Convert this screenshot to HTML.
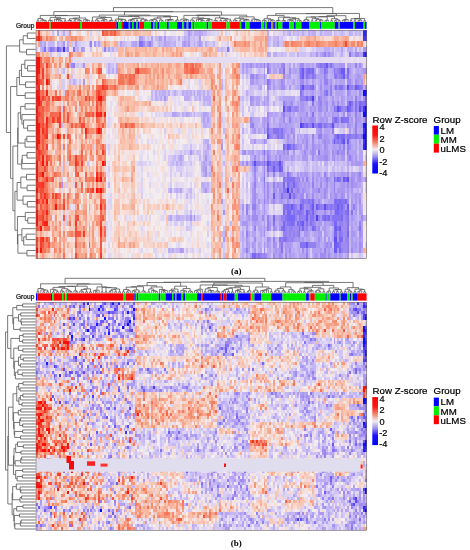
<!DOCTYPE html>
<html><head><meta charset="utf-8"><style>
html,body{margin:0;padding:0;background:#fff;}
svg{display:block;}
</style></head><body>
<svg width="470" height="550" viewBox="0 0 470 550">
<defs><linearGradient id="zbar" x1="0" y1="0" x2="0" y2="1">
<stop offset="0" stop-color="#ff0000"/><stop offset="0.2" stop-color="#fa1a14"/><stop offset="0.35" stop-color="#f4806a"/>
<stop offset="0.5" stop-color="#f2eef2"/><stop offset="0.65" stop-color="#9a90f0"/><stop offset="0.8" stop-color="#1a14fa"/><stop offset="1" stop-color="#0000ff"/>
</linearGradient>
<filter id="soft" x="-2%" y="-2%" width="104%" height="104%"><feGaussianBlur stdDeviation="0.45"/></filter></defs>
<rect width="470" height="550" fill="#fff"/>
<g filter="url(#soft)"><rect x="36.0" y="30.3" width="330.6" height="228.3" fill="#e0d8ee"/>
<g transform="translate(36.00,30.30) scale(1.9447,5.4357)" shape-rendering="crispEdges">
<path fill="#0f0ffa" d="M168 11h2v1h-2zM169 14h1v1h-1zM168 15h2v1h-2zM169 17h1v1h-1zM169 18h1v1h-1zM168 19h2v1h-2zM169 20h1v1h-1zM169 21h1v1h-1z"/>
<path fill="#1f1cf9" d="M169 4h1v1h-1zM168 17h1v1h-1z"/>
<path fill="#2f28f8" d="M168 0h2v1h-2zM168 21h1v1h-1z"/>
<path fill="#3f35f7" d="M168 1h2v1h-2zM14 3h1v1h-1zM168 4h1v1h-1zM168 14h1v1h-1zM168 18h1v1h-1zM168 20h1v1h-1zM129 29h1v1h-1z"/>
<path fill="#4f41f6" d="M142 12h1v1h-1zM136 17h1v1h-1zM144 34h1v1h-1z"/>
<path fill="#5f4ef5" d="M137 10h1v1h-1zM160 10h1v1h-1zM127 14h1v1h-1zM155 14h1v1h-1zM166 14h1v1h-1zM142 17h1v1h-1zM152 17h1v1h-1zM119 19h1v1h-1zM158 20h1v1h-1zM112 24h1v1h-1zM119 24h1v1h-1zM125 24h1v1h-1zM160 27h1v1h-1zM130 30h1v1h-1zM148 32h1v1h-1zM153 38h2v1h-2z"/>
<path fill="#6c5af4" d="M11 3h1v1h-1zM149 6h1v1h-1zM137 7h1v1h-1zM157 7h2v1h-2zM137 8h1v1h-1zM158 8h1v1h-1zM164 10h1v1h-1zM169 12h1v1h-1zM161 13h1v1h-1zM169 13h1v1h-1zM160 14h1v1h-1zM169 16h1v1h-1zM137 17h1v1h-1zM155 19h1v1h-1zM153 20h1v1h-1zM160 20h1v1h-1zM129 21h1v1h-1zM122 25h1v1h-1zM125 25h1v1h-1zM158 27h1v1h-1zM122 30h1v1h-1zM131 32h1v1h-1zM136 32h1v1h-1zM142 32h1v1h-1zM144 32h1v1h-1zM155 32h1v1h-1zM160 32h1v1h-1zM139 33h1v1h-1zM139 34h1v1h-1zM137 35h1v1h-1zM154 36h1v1h-1zM156 36h1v1h-1zM139 39h1v1h-1zM153 39h2v1h-2zM153 40h2v1h-2z"/>
<path fill="#7967f3" d="M140 7h1v1h-1zM142 7h1v1h-1zM160 7h1v1h-1zM142 10h1v1h-1zM165 10h1v1h-1zM139 12h1v1h-1zM166 13h1v1h-1zM130 14h1v1h-1zM156 14h1v1h-1zM161 14h1v1h-1zM154 16h1v1h-1zM157 16h1v1h-1zM139 17h1v1h-1zM145 17h2v1h-2zM119 18h1v1h-1zM157 19h2v1h-2zM157 20h1v1h-1zM127 21h1v1h-1zM130 21h1v1h-1zM120 24h1v1h-1zM119 25h1v1h-1zM126 25h1v1h-1zM153 27h1v1h-1zM155 27h1v1h-1zM159 27h1v1h-1zM127 28h1v1h-1zM129 28h1v1h-1zM132 28h1v1h-1zM131 29h1v1h-1zM142 31h1v1h-1zM154 31h1v1h-1zM156 31h1v1h-1zM159 31h1v1h-1zM129 32h1v1h-1zM157 32h1v1h-1zM127 33h1v1h-1zM129 33h2v1h-2zM142 33h1v1h-1zM154 33h2v1h-2zM160 33h1v1h-1zM122 34h1v1h-1zM129 34h4v1h-4zM148 34h1v1h-1zM150 34h1v1h-1zM157 34h1v1h-1zM127 35h1v1h-1zM131 35h1v1h-1zM134 35h1v1h-1zM136 35h1v1h-1zM153 35h2v1h-2zM127 36h1v1h-1zM135 36h1v1h-1zM137 36h1v1h-1zM142 36h1v1h-1zM153 36h1v1h-1zM153 37h2v1h-2zM160 37h1v1h-1zM156 38h2v1h-2zM155 39h1v1h-1zM156 40h1v1h-1zM111 41h2v1h-2z"/>
<path fill="#8673f2" d="M53 2h2v1h-2zM4 3h1v1h-1zM7 3h1v1h-1zM12 3h1v1h-1zM19 3h1v1h-1zM98 3h1v1h-1zM161 4h1v1h-1zM146 6h1v1h-1zM148 6h1v1h-1zM151 6h1v1h-1zM119 7h1v1h-1zM127 7h1v1h-1zM136 7h1v1h-1zM139 7h1v1h-1zM141 7h1v1h-1zM148 7h1v1h-1zM153 7h1v1h-1zM156 7h1v1h-1zM136 8h1v1h-1zM139 8h1v1h-1zM142 8h1v1h-1zM154 8h1v1h-1zM157 8h1v1h-1zM160 8h1v1h-1zM119 9h1v1h-1zM136 10h1v1h-1zM141 10h1v1h-1zM154 10h1v1h-1zM156 10h2v1h-2zM166 10h1v1h-1zM136 11h1v1h-1zM149 11h1v1h-1zM141 12h1v1h-1zM142 13h1v1h-1zM162 13h1v1h-1zM164 13h1v1h-1zM167 13h2v1h-2zM129 14h1v1h-1zM153 14h1v1h-1zM164 14h1v1h-1zM167 14h1v1h-1zM142 15h1v1h-1zM153 16h1v1h-1zM158 16h3v1h-3zM119 17h1v1h-1zM138 17h1v1h-1zM148 17h1v1h-1zM122 18h3v1h-3zM126 18h1v1h-1zM124 19h1v1h-1zM126 19h1v1h-1zM154 19h1v1h-1zM156 19h1v1h-1zM160 19h2v1h-2zM164 19h1v1h-1zM167 19h1v1h-1zM155 20h1v1h-1zM132 21h1v1h-1zM117 22h1v1h-1zM145 22h1v1h-1zM117 24h1v1h-1zM122 24h1v1h-1zM124 24h1v1h-1zM129 26h1v1h-1zM117 27h1v1h-1zM127 27h1v1h-1zM129 27h4v1h-4zM156 27h1v1h-1zM127 29h2v1h-2zM126 30h1v1h-1zM132 30h1v1h-1zM137 31h1v1h-1zM140 31h1v1h-1zM153 31h1v1h-1zM155 31h1v1h-1zM157 31h2v1h-2zM127 32h2v1h-2zM130 32h1v1h-1zM132 32h1v1h-1zM137 32h1v1h-1zM141 32h1v1h-1zM145 32h1v1h-1zM149 32h1v1h-1zM151 32h1v1h-1zM153 32h2v1h-2zM156 32h1v1h-1zM132 33h1v1h-1zM134 33h3v1h-3zM140 33h1v1h-1zM156 33h2v1h-2zM159 33h1v1h-1zM162 33h1v1h-1zM128 34h1v1h-1zM135 34h1v1h-1zM141 34h2v1h-2zM147 34h1v1h-1zM149 34h1v1h-1zM152 34h5v1h-5zM160 34h1v1h-1zM122 35h1v1h-1zM129 35h2v1h-2zM132 35h1v1h-1zM139 35h1v1h-1zM141 35h1v1h-1zM160 35h1v1h-1zM126 36h1v1h-1zM143 36h1v1h-1zM155 36h1v1h-1zM160 36h1v1h-1zM166 36h1v1h-1zM135 37h1v1h-1zM156 37h1v1h-1zM125 38h1v1h-1zM127 38h2v1h-2zM126 39h1v1h-1zM136 39h3v1h-3zM156 39h1v1h-1zM126 40h1v1h-1zM114 41h1v1h-1z"/>
<path fill="#9380f1" d="M28 2h1v1h-1zM58 2h1v1h-1zM8 3h1v1h-1zM35 3h1v1h-1zM148 4h1v1h-1zM19 6h1v1h-1zM117 6h1v1h-1zM119 6h1v1h-1zM127 6h1v1h-1zM145 6h1v1h-1zM147 6h1v1h-1zM164 6h1v1h-1zM149 7h1v1h-1zM155 7h1v1h-1zM111 8h1v1h-1zM140 8h1v1h-1zM143 8h1v1h-1zM148 8h1v1h-1zM153 8h1v1h-1zM156 8h1v1h-1zM148 9h2v1h-2zM119 10h1v1h-1zM138 10h3v1h-3zM151 10h1v1h-1zM161 10h2v1h-2zM167 10h1v1h-1zM148 11h1v1h-1zM151 11h1v1h-1zM136 12h3v1h-3zM140 12h1v1h-1zM145 12h1v1h-1zM164 12h1v1h-1zM127 13h1v1h-1zM146 13h1v1h-1zM160 13h1v1h-1zM133 14h1v1h-1zM154 14h1v1h-1zM157 14h1v1h-1zM159 14h1v1h-1zM162 14h1v1h-1zM127 15h1v1h-1zM164 15h1v1h-1zM130 16h1v1h-1zM152 16h1v1h-1zM155 16h1v1h-1zM111 17h1v1h-1zM140 17h2v1h-2zM143 17h2v1h-2zM149 17h1v1h-1zM151 17h1v1h-1zM164 17h1v1h-1zM125 18h1v1h-1zM152 18h1v1h-1zM164 18h1v1h-1zM120 19h1v1h-1zM125 19h1v1h-1zM142 19h1v1h-1zM145 19h2v1h-2zM153 19h1v1h-1zM162 19h2v1h-2zM165 19h1v1h-1zM154 20h1v1h-1zM156 20h1v1h-1zM128 21h1v1h-1zM131 21h1v1h-1zM158 21h1v1h-1zM160 21h1v1h-1zM155 22h1v1h-1zM160 22h1v1h-1zM119 23h1v1h-1zM161 23h1v1h-1zM111 24h1v1h-1zM113 24h2v1h-2zM121 24h1v1h-1zM123 24h1v1h-1zM126 24h1v1h-1zM112 25h1v1h-1zM121 25h1v1h-1zM123 25h2v1h-2zM117 26h1v1h-1zM122 26h1v1h-1zM148 26h1v1h-1zM166 26h1v1h-1zM128 27h1v1h-1zM135 27h1v1h-1zM139 27h1v1h-1zM149 27h1v1h-1zM154 27h1v1h-1zM112 28h1v1h-1zM117 28h1v1h-1zM122 28h1v1h-1zM130 28h2v1h-2zM133 28h1v1h-1zM142 28h1v1h-1zM153 28h1v1h-1zM134 29h1v1h-1zM145 29h1v1h-1zM153 29h1v1h-1zM117 31h1v1h-1zM136 31h1v1h-1zM138 31h2v1h-2zM141 31h1v1h-1zM108 32h1v1h-1zM111 32h2v1h-2zM133 32h1v1h-1zM146 32h2v1h-2zM150 32h1v1h-1zM152 32h1v1h-1zM158 32h1v1h-1zM163 32h1v1h-1zM108 33h1v1h-1zM133 33h1v1h-1zM137 33h1v1h-1zM141 33h1v1h-1zM158 33h1v1h-1zM119 34h1v1h-1zM126 34h2v1h-2zM133 34h1v1h-1zM136 34h3v1h-3zM145 34h1v1h-1zM159 34h1v1h-1zM119 35h1v1h-1zM128 35h1v1h-1zM135 35h1v1h-1zM142 35h1v1h-1zM156 35h2v1h-2zM166 35h1v1h-1zM112 36h1v1h-1zM119 36h1v1h-1zM128 36h1v1h-1zM130 36h2v1h-2zM139 36h1v1h-1zM108 37h1v1h-1zM127 37h2v1h-2zM130 37h1v1h-1zM132 37h1v1h-1zM134 37h1v1h-1zM157 37h1v1h-1zM122 38h1v1h-1zM126 38h1v1h-1zM129 38h1v1h-1zM131 38h1v1h-1zM159 38h2v1h-2zM140 39h4v1h-4zM160 39h1v1h-1zM108 40h1v1h-1zM148 40h1v1h-1zM157 40h1v1h-1zM160 40h1v1h-1zM113 41h1v1h-1zM115 41h1v1h-1zM117 41h1v1h-1zM139 41h1v1h-1z"/>
<path fill="#a08cf0" d="M55 2h1v1h-1zM9 3h1v1h-1zM16 3h1v1h-1zM150 4h1v1h-1zM164 4h2v1h-2zM18 6h1v1h-1zM110 6h1v1h-1zM126 6h1v1h-1zM136 6h2v1h-2zM144 6h1v1h-1zM150 6h1v1h-1zM152 6h1v1h-1zM166 6h1v1h-1zM125 7h1v1h-1zM130 7h1v1h-1zM135 7h1v1h-1zM138 7h1v1h-1zM154 7h1v1h-1zM169 7h1v1h-1zM110 8h1v1h-1zM113 8h1v1h-1zM117 8h1v1h-1zM127 8h1v1h-1zM141 8h1v1h-1zM155 8h1v1h-1zM120 9h1v1h-1zM126 9h1v1h-1zM136 9h2v1h-2zM160 9h2v1h-2zM164 9h1v1h-1zM126 10h2v1h-2zM146 10h1v1h-1zM153 10h1v1h-1zM155 10h1v1h-1zM158 10h1v1h-1zM163 10h1v1h-1zM169 10h1v1h-1zM137 11h1v1h-1zM160 11h1v1h-1zM166 11h1v1h-1zM110 12h1v1h-1zM146 12h1v1h-1zM168 12h1v1h-1zM131 13h1v1h-1zM145 13h1v1h-1zM149 13h1v1h-1zM152 13h1v1h-1zM155 13h1v1h-1zM165 13h1v1h-1zM128 14h1v1h-1zM131 14h2v1h-2zM134 14h1v1h-1zM145 14h2v1h-2zM149 14h1v1h-1zM158 14h1v1h-1zM165 14h1v1h-1zM119 15h1v1h-1zM139 15h1v1h-1zM158 15h1v1h-1zM160 15h1v1h-1zM110 16h1v1h-1zM119 16h1v1h-1zM127 16h1v1h-1zM136 16h1v1h-1zM141 16h2v1h-2zM164 16h1v1h-1zM110 17h1v1h-1zM147 17h1v1h-1zM150 17h1v1h-1zM160 17h1v1h-1zM117 18h1v1h-1zM120 18h2v1h-2zM127 18h1v1h-1zM131 18h1v1h-1zM146 18h1v1h-1zM121 19h1v1h-1zM123 19h1v1h-1zM127 19h1v1h-1zM129 19h1v1h-1zM132 19h1v1h-1zM159 19h1v1h-1zM166 19h1v1h-1zM117 20h1v1h-1zM139 20h1v1h-1zM142 20h1v1h-1zM148 20h1v1h-1zM152 20h1v1h-1zM133 21h1v1h-1zM139 21h1v1h-1zM142 21h1v1h-1zM148 21h1v1h-1zM156 21h1v1h-1zM161 21h1v1h-1zM107 22h1v1h-1zM119 22h1v1h-1zM127 22h1v1h-1zM129 22h1v1h-1zM138 22h1v1h-1zM142 22h1v1h-1zM152 22h1v1h-1zM157 22h2v1h-2zM112 23h1v1h-1zM117 23h1v1h-1zM125 23h1v1h-1zM142 23h1v1h-1zM148 23h2v1h-2zM153 23h1v1h-1zM108 24h1v1h-1zM115 24h2v1h-2zM118 24h1v1h-1zM117 25h1v1h-1zM120 25h1v1h-1zM112 26h1v1h-1zM119 26h1v1h-1zM130 26h1v1h-1zM153 26h1v1h-1zM160 26h1v1h-1zM112 27h1v1h-1zM133 27h2v1h-2zM137 27h1v1h-1zM142 27h1v1h-1zM162 27h1v1h-1zM166 27h1v1h-1zM169 27h1v1h-1zM119 28h1v1h-1zM124 28h1v1h-1zM134 28h1v1h-1zM146 28h1v1h-1zM149 28h1v1h-1zM160 28h1v1h-1zM162 28h1v1h-1zM112 29h1v1h-1zM117 29h1v1h-1zM119 29h1v1h-1zM122 29h1v1h-1zM125 29h1v1h-1zM130 29h1v1h-1zM133 29h1v1h-1zM135 29h1v1h-1zM137 29h1v1h-1zM148 29h1v1h-1zM112 30h1v1h-1zM117 30h1v1h-1zM119 30h1v1h-1zM127 30h3v1h-3zM131 30h1v1h-1zM133 30h1v1h-1zM136 30h2v1h-2zM139 30h1v1h-1zM142 30h1v1h-1zM148 30h1v1h-1zM154 30h1v1h-1zM157 30h1v1h-1zM112 31h1v1h-1zM122 31h1v1h-1zM129 31h1v1h-1zM145 31h1v1h-1zM160 31h1v1h-1zM166 31h1v1h-1zM135 32h1v1h-1zM139 32h2v1h-2zM112 33h1v1h-1zM128 33h1v1h-1zM131 33h1v1h-1zM143 33h1v1h-1zM148 33h1v1h-1zM151 33h1v1h-1zM153 33h1v1h-1zM111 34h3v1h-3zM116 34h1v1h-1zM140 34h1v1h-1zM143 34h1v1h-1zM151 34h1v1h-1zM158 34h1v1h-1zM167 34h1v1h-1zM138 35h1v1h-1zM140 35h1v1h-1zM143 35h1v1h-1zM152 35h1v1h-1zM155 35h1v1h-1zM158 35h2v1h-2zM122 36h1v1h-1zM129 36h1v1h-1zM132 36h3v1h-3zM136 36h1v1h-1zM138 36h1v1h-1zM145 36h1v1h-1zM157 36h3v1h-3zM117 37h1v1h-1zM129 37h1v1h-1zM131 37h1v1h-1zM133 37h1v1h-1zM158 37h2v1h-2zM166 37h1v1h-1zM112 38h1v1h-1zM119 38h1v1h-1zM130 38h1v1h-1zM132 38h1v1h-1zM135 38h1v1h-1zM145 38h1v1h-1zM122 39h1v1h-1zM125 39h1v1h-1zM149 39h1v1h-1zM151 39h1v1h-1zM157 39h3v1h-3zM166 39h1v1h-1zM117 40h1v1h-1zM130 40h1v1h-1zM137 40h1v1h-1zM139 40h1v1h-1zM158 40h2v1h-2zM162 40h1v1h-1zM166 40h1v1h-1zM116 41h1v1h-1zM118 41h1v1h-1zM122 41h1v1h-1zM125 41h1v1h-1zM128 41h1v1h-1zM146 41h3v1h-3zM150 41h1v1h-1z"/>
<path fill="#a997f1" d="M78 0h1v1h-1zM53 1h1v1h-1zM63 1h1v1h-1zM66 1h1v1h-1zM84 1h1v1h-1zM14 2h1v1h-1zM30 2h1v1h-1zM57 2h1v1h-1zM76 2h1v1h-1zM78 2h1v1h-1zM84 2h1v1h-1zM6 3h1v1h-1zM13 3h1v1h-1zM23 3h1v1h-1zM168 3h2v1h-2zM144 4h1v1h-1zM147 4h1v1h-1zM24 6h1v1h-1zM106 6h1v1h-1zM108 6h1v1h-1zM113 6h1v1h-1zM115 6h1v1h-1zM156 6h3v1h-3zM120 7h1v1h-1zM126 7h1v1h-1zM143 7h1v1h-1zM146 7h2v1h-2zM161 7h1v1h-1zM168 7h1v1h-1zM130 8h1v1h-1zM135 8h1v1h-1zM138 8h1v1h-1zM149 8h1v1h-1zM159 8h1v1h-1zM165 8h2v1h-2zM24 9h1v1h-1zM110 9h2v1h-2zM127 9h1v1h-1zM139 9h1v1h-1zM142 9h1v1h-1zM146 9h1v1h-1zM151 9h1v1h-1zM165 9h1v1h-1zM167 9h1v1h-1zM120 10h1v1h-1zM122 10h1v1h-1zM130 10h1v1h-1zM143 10h1v1h-1zM148 10h2v1h-2zM142 11h1v1h-1zM146 11h1v1h-1zM161 11h1v1h-1zM66 12h1v1h-1zM111 12h1v1h-1zM119 12h1v1h-1zM143 12h1v1h-1zM148 12h1v1h-1zM152 12h1v1h-1zM157 12h1v1h-1zM160 12h1v1h-1zM162 12h1v1h-1zM166 12h1v1h-1zM110 13h1v1h-1zM117 13h1v1h-1zM128 13h1v1h-1zM130 13h1v1h-1zM136 13h2v1h-2zM148 13h1v1h-1zM153 13h1v1h-1zM157 13h1v1h-1zM163 13h1v1h-1zM136 14h2v1h-2zM141 14h1v1h-1zM143 14h1v1h-1zM163 14h1v1h-1zM126 15h1v1h-1zM130 15h1v1h-1zM148 15h1v1h-1zM152 15h1v1h-1zM155 15h1v1h-1zM161 15h1v1h-1zM166 15h1v1h-1zM117 16h1v1h-1zM138 16h1v1h-1zM140 16h1v1h-1zM143 16h1v1h-1zM146 16h2v1h-2zM149 16h1v1h-1zM156 16h1v1h-1zM162 16h1v1h-1zM165 16h2v1h-2zM168 16h1v1h-1zM117 17h1v1h-1zM125 17h1v1h-1zM128 17h1v1h-1zM153 17h1v1h-1zM155 17h1v1h-1zM161 17h1v1h-1zM167 17h1v1h-1zM112 18h1v1h-1zM128 18h1v1h-1zM132 18h1v1h-1zM145 18h1v1h-1zM161 18h1v1h-1zM122 19h1v1h-1zM138 19h2v1h-2zM148 19h2v1h-2zM112 20h1v1h-1zM129 20h1v1h-1zM132 20h1v1h-1zM137 20h1v1h-1zM147 20h1v1h-1zM149 20h2v1h-2zM161 20h1v1h-1zM166 20h1v1h-1zM95 21h1v1h-1zM134 21h1v1h-1zM136 21h1v1h-1zM143 21h1v1h-1zM145 21h1v1h-1zM149 21h1v1h-1zM153 21h1v1h-1zM79 22h1v1h-1zM106 22h1v1h-1zM111 22h1v1h-1zM116 22h1v1h-1zM124 22h1v1h-1zM132 22h1v1h-1zM141 22h1v1h-1zM143 22h1v1h-1zM148 22h2v1h-2zM154 22h1v1h-1zM156 22h1v1h-1zM87 23h1v1h-1zM120 23h1v1h-1zM123 23h1v1h-1zM131 23h1v1h-1zM137 23h3v1h-3zM145 23h3v1h-3zM152 23h1v1h-1zM157 23h2v1h-2zM160 23h1v1h-1zM162 23h1v1h-1zM164 23h1v1h-1zM106 24h1v1h-1zM162 24h1v1h-1zM164 24h3v1h-3zM87 25h1v1h-1zM87 26h1v1h-1zM125 26h3v1h-3zM134 26h1v1h-1zM136 26h1v1h-1zM138 26h2v1h-2zM142 26h1v1h-1zM145 26h1v1h-1zM157 26h2v1h-2zM162 26h2v1h-2zM165 26h1v1h-1zM144 27h1v1h-1zM146 27h1v1h-1zM148 27h1v1h-1zM150 27h1v1h-1zM157 27h1v1h-1zM163 27h1v1h-1zM165 27h1v1h-1zM13 28h1v1h-1zM125 28h2v1h-2zM135 28h2v1h-2zM138 28h1v1h-1zM140 28h1v1h-1zM157 28h2v1h-2zM163 28h2v1h-2zM87 29h1v1h-1zM111 29h1v1h-1zM123 29h1v1h-1zM126 29h1v1h-1zM132 29h1v1h-1zM138 29h1v1h-1zM142 29h3v1h-3zM149 29h1v1h-1zM155 29h4v1h-4zM160 29h1v1h-1zM162 29h1v1h-1zM111 30h1v1h-1zM125 30h1v1h-1zM134 30h2v1h-2zM151 30h1v1h-1zM153 30h1v1h-1zM158 30h1v1h-1zM160 30h1v1h-1zM164 30h1v1h-1zM166 30h1v1h-1zM95 31h1v1h-1zM111 31h1v1h-1zM114 31h1v1h-1zM119 31h1v1h-1zM121 31h1v1h-1zM125 31h2v1h-2zM132 31h1v1h-1zM143 31h1v1h-1zM162 31h1v1h-1zM164 31h1v1h-1zM106 32h1v1h-1zM117 32h1v1h-1zM134 32h1v1h-1zM138 32h1v1h-1zM143 32h1v1h-1zM159 32h1v1h-1zM162 32h1v1h-1zM164 32h1v1h-1zM166 32h1v1h-1zM96 33h1v1h-1zM111 33h1v1h-1zM117 33h1v1h-1zM138 33h1v1h-1zM144 33h1v1h-1zM164 33h1v1h-1zM166 33h1v1h-1zM79 34h1v1h-1zM81 34h1v1h-1zM109 34h1v1h-1zM125 34h1v1h-1zM134 34h1v1h-1zM146 34h1v1h-1zM162 34h1v1h-1zM106 35h3v1h-3zM112 35h1v1h-1zM117 35h1v1h-1zM120 35h1v1h-1zM125 35h2v1h-2zM133 35h1v1h-1zM145 35h2v1h-2zM148 35h1v1h-1zM151 35h1v1h-1zM108 36h1v1h-1zM117 36h1v1h-1zM120 36h1v1h-1zM123 36h1v1h-1zM125 36h1v1h-1zM141 36h1v1h-1zM144 36h1v1h-1zM148 36h1v1h-1zM162 36h1v1h-1zM138 37h2v1h-2zM145 37h2v1h-2zM148 37h1v1h-1zM155 37h1v1h-1zM162 37h2v1h-2zM167 37h1v1h-1zM96 38h1v1h-1zM108 38h1v1h-1zM120 38h1v1h-1zM133 38h2v1h-2zM137 38h1v1h-1zM148 38h1v1h-1zM150 38h1v1h-1zM155 38h1v1h-1zM158 38h1v1h-1zM162 38h1v1h-1zM166 38h1v1h-1zM108 39h1v1h-1zM111 39h1v1h-1zM117 39h1v1h-1zM119 39h1v1h-1zM123 39h1v1h-1zM128 39h3v1h-3zM144 39h2v1h-2zM148 39h1v1h-1zM150 39h1v1h-1zM162 39h1v1h-1zM164 39h1v1h-1zM167 39h1v1h-1zM74 40h1v1h-1zM112 40h1v1h-1zM123 40h1v1h-1zM125 40h1v1h-1zM128 40h1v1h-1zM146 40h1v1h-1zM150 40h1v1h-1zM155 40h1v1h-1zM110 41h1v1h-1zM126 41h1v1h-1zM130 41h1v1h-1zM143 41h2v1h-2zM153 41h2v1h-2zM156 41h1v1h-1zM160 41h1v1h-1z"/>
<path fill="#b2a2f2" d="M11 0h1v1h-1zM84 0h1v1h-1zM54 1h1v1h-1zM59 1h1v1h-1zM64 1h1v1h-1zM78 1h1v1h-1zM2 2h1v1h-1zM4 2h1v1h-1zM20 2h1v1h-1zM32 2h1v1h-1zM43 2h1v1h-1zM50 2h2v1h-2zM59 2h1v1h-1zM66 2h1v1h-1zM75 2h1v1h-1zM124 2h1v1h-1zM3 3h1v1h-1zM10 3h1v1h-1zM24 3h1v1h-1zM37 3h1v1h-1zM157 3h1v1h-1zM164 3h1v1h-1zM119 4h1v1h-1zM146 4h1v1h-1zM149 4h1v1h-1zM151 4h2v1h-2zM162 4h1v1h-1zM166 4h2v1h-2zM109 6h1v1h-1zM111 6h1v1h-1zM114 6h1v1h-1zM116 6h1v1h-1zM120 6h1v1h-1zM122 6h1v1h-1zM124 6h1v1h-1zM130 6h1v1h-1zM132 6h1v1h-1zM135 6h1v1h-1zM139 6h2v1h-2zM142 6h1v1h-1zM153 6h3v1h-3zM160 6h2v1h-2zM41 7h1v1h-1zM106 7h1v1h-1zM108 7h1v1h-1zM117 7h1v1h-1zM122 7h2v1h-2zM132 7h2v1h-2zM152 7h1v1h-1zM165 7h1v1h-1zM167 7h1v1h-1zM112 8h1v1h-1zM114 8h1v1h-1zM129 8h1v1h-1zM144 8h4v1h-4zM161 8h1v1h-1zM164 8h1v1h-1zM113 9h1v1h-1zM117 9h1v1h-1zM122 9h1v1h-1zM125 9h1v1h-1zM132 9h1v1h-1zM150 9h1v1h-1zM154 9h1v1h-1zM156 9h3v1h-3zM162 9h1v1h-1zM166 9h1v1h-1zM115 10h1v1h-1zM125 10h1v1h-1zM134 10h1v1h-1zM150 10h1v1h-1zM159 10h1v1h-1zM81 11h1v1h-1zM119 11h1v1h-1zM139 11h1v1h-1zM141 11h1v1h-1zM147 11h1v1h-1zM150 11h1v1h-1zM154 11h4v1h-4zM164 11h1v1h-1zM167 11h1v1h-1zM113 12h2v1h-2zM117 12h1v1h-1zM127 12h6v1h-6zM147 12h1v1h-1zM149 12h1v1h-1zM155 12h1v1h-1zM158 12h1v1h-1zM161 12h1v1h-1zM165 12h1v1h-1zM111 13h1v1h-1zM113 13h2v1h-2zM119 13h1v1h-1zM129 13h1v1h-1zM134 13h1v1h-1zM138 13h2v1h-2zM144 13h1v1h-1zM147 13h1v1h-1zM158 13h1v1h-1zM138 14h1v1h-1zM142 14h1v1h-1zM147 14h2v1h-2zM151 14h2v1h-2zM70 15h2v1h-2zM77 15h1v1h-1zM86 15h2v1h-2zM120 15h2v1h-2zM123 15h1v1h-1zM128 15h2v1h-2zM132 15h1v1h-1zM135 15h4v1h-4zM141 15h1v1h-1zM145 15h2v1h-2zM150 15h1v1h-1zM153 15h2v1h-2zM165 15h1v1h-1zM86 16h1v1h-1zM88 16h1v1h-1zM111 16h1v1h-1zM116 16h1v1h-1zM118 16h1v1h-1zM122 16h1v1h-1zM125 16h2v1h-2zM131 16h1v1h-1zM133 16h1v1h-1zM137 16h1v1h-1zM139 16h1v1h-1zM145 16h1v1h-1zM148 16h1v1h-1zM161 16h1v1h-1zM116 17h1v1h-1zM126 17h2v1h-2zM129 17h3v1h-3zM154 17h1v1h-1zM157 17h2v1h-2zM162 17h1v1h-1zM165 17h2v1h-2zM111 18h1v1h-1zM114 18h1v1h-1zM118 18h1v1h-1zM129 18h2v1h-2zM144 18h1v1h-1zM148 18h3v1h-3zM163 18h1v1h-1zM166 18h1v1h-1zM130 19h1v1h-1zM134 19h1v1h-1zM136 19h1v1h-1zM147 19h1v1h-1zM150 19h1v1h-1zM152 19h1v1h-1zM118 20h1v1h-1zM130 20h2v1h-2zM134 20h1v1h-1zM138 20h1v1h-1zM145 20h1v1h-1zM159 20h1v1h-1zM164 20h1v1h-1zM88 21h1v1h-1zM135 21h1v1h-1zM138 21h1v1h-1zM144 21h1v1h-1zM146 21h1v1h-1zM152 21h1v1h-1zM154 21h2v1h-2zM157 21h1v1h-1zM162 21h1v1h-1zM164 21h1v1h-1zM166 21h1v1h-1zM109 22h2v1h-2zM114 22h1v1h-1zM118 22h1v1h-1zM120 22h1v1h-1zM125 22h2v1h-2zM128 22h1v1h-1zM137 22h1v1h-1zM139 22h1v1h-1zM146 22h2v1h-2zM150 22h1v1h-1zM153 22h1v1h-1zM161 22h4v1h-4zM166 22h2v1h-2zM74 23h1v1h-1zM114 23h1v1h-1zM126 23h4v1h-4zM132 23h1v1h-1zM135 23h1v1h-1zM144 23h1v1h-1zM150 23h1v1h-1zM155 23h1v1h-1zM166 23h2v1h-2zM86 24h1v1h-1zM89 24h1v1h-1zM110 24h1v1h-1zM160 24h1v1h-1zM163 24h1v1h-1zM167 24h1v1h-1zM86 25h1v1h-1zM111 25h1v1h-1zM113 25h1v1h-1zM131 26h1v1h-1zM137 26h1v1h-1zM144 26h1v1h-1zM149 26h1v1h-1zM151 26h2v1h-2zM155 26h2v1h-2zM159 26h1v1h-1zM164 26h1v1h-1zM116 27h1v1h-1zM140 27h1v1h-1zM147 27h1v1h-1zM151 27h1v1h-1zM161 27h1v1h-1zM167 27h1v1h-1zM111 28h1v1h-1zM123 28h1v1h-1zM128 28h1v1h-1zM137 28h1v1h-1zM139 28h1v1h-1zM144 28h1v1h-1zM148 28h1v1h-1zM151 28h2v1h-2zM156 28h1v1h-1zM159 28h1v1h-1zM161 28h1v1h-1zM165 28h2v1h-2zM69 29h1v1h-1zM74 29h1v1h-1zM136 29h1v1h-1zM139 29h2v1h-2zM146 29h2v1h-2zM151 29h2v1h-2zM113 30h1v1h-1zM123 30h2v1h-2zM140 30h1v1h-1zM144 30h1v1h-1zM146 30h2v1h-2zM149 30h1v1h-1zM152 30h1v1h-1zM155 30h2v1h-2zM162 30h2v1h-2zM165 30h1v1h-1zM118 31h1v1h-1zM123 31h1v1h-1zM127 31h1v1h-1zM130 31h1v1h-1zM134 31h2v1h-2zM144 31h1v1h-1zM146 31h1v1h-1zM150 31h3v1h-3zM109 32h1v1h-1zM113 32h1v1h-1zM106 33h1v1h-1zM114 33h1v1h-1zM145 33h3v1h-3zM149 33h1v1h-1zM152 33h1v1h-1zM167 33h1v1h-1zM69 34h1v1h-1zM108 34h1v1h-1zM117 34h1v1h-1zM120 34h1v1h-1zM123 34h2v1h-2zM163 34h1v1h-1zM111 35h1v1h-1zM113 35h2v1h-2zM144 35h1v1h-1zM149 35h2v1h-2zM162 35h1v1h-1zM164 35h1v1h-1zM167 35h1v1h-1zM114 36h2v1h-2zM140 36h1v1h-1zM147 36h1v1h-1zM165 36h1v1h-1zM167 36h1v1h-1zM106 37h1v1h-1zM109 37h1v1h-1zM111 37h2v1h-2zM115 37h1v1h-1zM140 37h1v1h-1zM143 37h2v1h-2zM149 37h1v1h-1zM152 37h1v1h-1zM164 37h1v1h-1zM136 38h1v1h-1zM139 38h2v1h-2zM144 38h1v1h-1zM146 38h1v1h-1zM152 38h1v1h-1zM164 38h1v1h-1zM167 38h1v1h-1zM109 39h1v1h-1zM112 39h1v1h-1zM114 39h1v1h-1zM120 39h1v1h-1zM131 39h1v1h-1zM163 39h1v1h-1zM75 40h1v1h-1zM107 40h1v1h-1zM109 40h1v1h-1zM115 40h1v1h-1zM120 40h1v1h-1zM122 40h1v1h-1zM124 40h1v1h-1zM129 40h1v1h-1zM135 40h1v1h-1zM142 40h4v1h-4zM149 40h1v1h-1zM163 40h2v1h-2zM108 41h1v1h-1zM119 41h1v1h-1zM123 41h2v1h-2zM131 41h2v1h-2zM135 41h4v1h-4zM149 41h1v1h-1zM151 41h1v1h-1zM157 41h1v1h-1z"/>
<path fill="#bcacf3" d="M14 0h1v1h-1zM79 0h1v1h-1zM81 0h3v1h-3zM85 0h1v1h-1zM119 0h1v1h-1zM130 0h1v1h-1zM137 0h1v1h-1zM140 0h1v1h-1zM142 0h2v1h-2zM146 0h1v1h-1zM161 0h1v1h-1zM73 1h1v1h-1zM76 1h1v1h-1zM119 1h1v1h-1zM124 1h1v1h-1zM11 2h1v1h-1zM16 2h1v1h-1zM49 2h1v1h-1zM56 2h1v1h-1zM63 2h1v1h-1zM67 2h2v1h-2zM71 2h1v1h-1zM77 2h1v1h-1zM81 2h1v1h-1zM83 2h1v1h-1zM85 2h1v1h-1zM87 2h1v1h-1zM119 2h1v1h-1zM122 2h1v1h-1zM15 3h1v1h-1zM21 3h1v1h-1zM39 3h1v1h-1zM148 3h3v1h-3zM152 3h1v1h-1zM160 3h3v1h-3zM120 4h1v1h-1zM122 4h2v1h-2zM134 4h1v1h-1zM141 4h1v1h-1zM157 4h1v1h-1zM163 4h1v1h-1zM17 6h1v1h-1zM37 6h1v1h-1zM41 6h1v1h-1zM107 6h1v1h-1zM112 6h1v1h-1zM118 6h1v1h-1zM121 6h1v1h-1zM123 6h1v1h-1zM125 6h1v1h-1zM134 6h1v1h-1zM138 6h1v1h-1zM141 6h1v1h-1zM162 6h2v1h-2zM165 6h1v1h-1zM167 6h1v1h-1zM37 7h1v1h-1zM39 7h1v1h-1zM131 7h1v1h-1zM134 7h1v1h-1zM145 7h1v1h-1zM150 7h2v1h-2zM162 7h1v1h-1zM164 7h1v1h-1zM166 7h1v1h-1zM115 8h2v1h-2zM128 8h1v1h-1zM134 8h1v1h-1zM151 8h2v1h-2zM162 8h2v1h-2zM167 8h1v1h-1zM19 9h1v1h-1zM112 9h1v1h-1zM114 9h1v1h-1zM118 9h1v1h-1zM121 9h1v1h-1zM124 9h1v1h-1zM129 9h1v1h-1zM131 9h1v1h-1zM134 9h2v1h-2zM138 9h1v1h-1zM140 9h1v1h-1zM143 9h1v1h-1zM145 9h1v1h-1zM147 9h1v1h-1zM152 9h1v1h-1zM155 9h1v1h-1zM95 10h1v1h-1zM114 10h1v1h-1zM123 10h2v1h-2zM128 10h1v1h-1zM133 10h1v1h-1zM135 10h1v1h-1zM145 10h1v1h-1zM147 10h1v1h-1zM152 10h1v1h-1zM168 10h1v1h-1zM61 11h1v1h-1zM63 11h1v1h-1zM65 11h2v1h-2zM68 11h1v1h-1zM71 11h1v1h-1zM75 11h1v1h-1zM77 11h1v1h-1zM79 11h1v1h-1zM83 11h2v1h-2zM86 11h1v1h-1zM88 11h1v1h-1zM108 11h1v1h-1zM138 11h1v1h-1zM140 11h1v1h-1zM143 11h1v1h-1zM145 11h1v1h-1zM152 11h1v1h-1zM158 11h1v1h-1zM162 11h2v1h-2zM61 12h1v1h-1zM64 12h1v1h-1zM76 12h3v1h-3zM84 12h1v1h-1zM86 12h4v1h-4zM112 12h1v1h-1zM118 12h1v1h-1zM125 12h2v1h-2zM135 12h1v1h-1zM151 12h1v1h-1zM154 12h1v1h-1zM89 13h1v1h-1zM116 13h1v1h-1zM118 13h1v1h-1zM122 13h1v1h-1zM132 13h1v1h-1zM135 13h1v1h-1zM143 13h1v1h-1zM150 13h2v1h-2zM154 13h1v1h-1zM156 13h1v1h-1zM135 14h1v1h-1zM139 14h2v1h-2zM144 14h1v1h-1zM72 15h1v1h-1zM75 15h1v1h-1zM78 15h1v1h-1zM81 15h1v1h-1zM88 15h1v1h-1zM122 15h1v1h-1zM124 15h1v1h-1zM131 15h1v1h-1zM134 15h1v1h-1zM143 15h1v1h-1zM149 15h1v1h-1zM151 15h1v1h-1zM157 15h1v1h-1zM162 15h2v1h-2zM112 16h3v1h-3zM120 16h1v1h-1zM129 16h1v1h-1zM132 16h1v1h-1zM134 16h2v1h-2zM167 16h1v1h-1zM86 17h2v1h-2zM112 17h2v1h-2zM118 17h1v1h-1zM120 17h1v1h-1zM122 17h3v1h-3zM132 17h1v1h-1zM134 17h1v1h-1zM156 17h1v1h-1zM163 17h1v1h-1zM106 18h1v1h-1zM115 18h1v1h-1zM135 18h1v1h-1zM151 18h1v1h-1zM165 18h1v1h-1zM167 18h1v1h-1zM128 19h1v1h-1zM137 19h1v1h-1zM140 19h1v1h-1zM143 19h2v1h-2zM151 19h1v1h-1zM87 20h2v1h-2zM95 20h1v1h-1zM110 20h2v1h-2zM116 20h1v1h-1zM128 20h1v1h-1zM135 20h2v1h-2zM140 20h1v1h-1zM143 20h1v1h-1zM146 20h1v1h-1zM151 20h1v1h-1zM162 20h2v1h-2zM140 21h2v1h-2zM147 21h1v1h-1zM150 21h2v1h-2zM163 21h1v1h-1zM167 21h1v1h-1zM87 22h1v1h-1zM113 22h1v1h-1zM115 22h1v1h-1zM122 22h1v1h-1zM136 22h1v1h-1zM140 22h1v1h-1zM73 23h1v1h-1zM110 23h2v1h-2zM113 23h1v1h-1zM116 23h1v1h-1zM121 23h2v1h-2zM124 23h1v1h-1zM130 23h1v1h-1zM134 23h1v1h-1zM143 23h1v1h-1zM154 23h1v1h-1zM156 23h1v1h-1zM163 23h1v1h-1zM72 24h1v1h-1zM74 24h1v1h-1zM87 24h1v1h-1zM105 24h1v1h-1zM109 24h1v1h-1zM127 24h1v1h-1zM139 24h1v1h-1zM148 24h2v1h-2zM153 24h1v1h-1zM85 25h1v1h-1zM116 25h1v1h-1zM129 25h1v1h-1zM160 25h1v1h-1zM86 26h1v1h-1zM89 26h1v1h-1zM111 26h1v1h-1zM116 26h1v1h-1zM128 26h1v1h-1zM140 26h1v1h-1zM143 26h1v1h-1zM146 26h1v1h-1zM154 26h1v1h-1zM167 26h1v1h-1zM113 27h1v1h-1zM115 27h1v1h-1zM136 27h1v1h-1zM138 27h1v1h-1zM143 27h1v1h-1zM145 27h1v1h-1zM152 27h1v1h-1zM164 27h1v1h-1zM168 27h1v1h-1zM85 28h2v1h-2zM88 28h1v1h-1zM113 28h1v1h-1zM116 28h1v1h-1zM118 28h1v1h-1zM120 28h2v1h-2zM141 28h1v1h-1zM143 28h1v1h-1zM145 28h1v1h-1zM147 28h1v1h-1zM150 28h1v1h-1zM154 28h2v1h-2zM72 29h1v1h-1zM86 29h1v1h-1zM116 29h1v1h-1zM118 29h1v1h-1zM120 29h1v1h-1zM124 29h1v1h-1zM154 29h1v1h-1zM159 29h1v1h-1zM161 29h1v1h-1zM165 29h1v1h-1zM167 29h1v1h-1zM118 30h1v1h-1zM120 30h2v1h-2zM141 30h1v1h-1zM143 30h1v1h-1zM145 30h1v1h-1zM115 31h2v1h-2zM124 31h1v1h-1zM128 31h1v1h-1zM131 31h1v1h-1zM133 31h1v1h-1zM148 31h2v1h-2zM163 31h1v1h-1zM165 31h1v1h-1zM114 32h1v1h-1zM116 32h1v1h-1zM167 32h1v1h-1zM113 33h1v1h-1zM116 33h1v1h-1zM118 33h1v1h-1zM150 33h1v1h-1zM161 33h1v1h-1zM163 33h1v1h-1zM72 34h2v1h-2zM77 34h1v1h-1zM105 34h2v1h-2zM110 34h1v1h-1zM114 34h2v1h-2zM121 34h1v1h-1zM161 34h1v1h-1zM164 34h1v1h-1zM166 34h1v1h-1zM168 34h1v1h-1zM105 35h1v1h-1zM109 35h1v1h-1zM115 35h1v1h-1zM121 35h1v1h-1zM123 35h2v1h-2zM161 35h1v1h-1zM163 35h1v1h-1zM111 36h1v1h-1zM116 36h1v1h-1zM118 36h1v1h-1zM149 36h2v1h-2zM152 36h1v1h-1zM163 36h2v1h-2zM116 37h1v1h-1zM136 37h1v1h-1zM142 37h1v1h-1zM150 37h1v1h-1zM106 38h1v1h-1zM109 38h1v1h-1zM115 38h1v1h-1zM117 38h1v1h-1zM123 38h1v1h-1zM138 38h1v1h-1zM143 38h1v1h-1zM163 38h1v1h-1zM165 38h1v1h-1zM106 39h1v1h-1zM115 39h1v1h-1zM118 39h1v1h-1zM127 39h1v1h-1zM134 39h2v1h-2zM146 39h2v1h-2zM165 39h1v1h-1zM68 40h1v1h-1zM70 40h1v1h-1zM106 40h1v1h-1zM111 40h1v1h-1zM114 40h1v1h-1zM119 40h1v1h-1zM131 40h2v1h-2zM134 40h1v1h-1zM138 40h1v1h-1zM140 40h1v1h-1zM147 40h1v1h-1zM151 40h2v1h-2zM165 40h1v1h-1zM167 40h1v1h-1zM106 41h1v1h-1zM120 41h1v1h-1zM129 41h1v1h-1zM133 41h1v1h-1zM140 41h1v1h-1zM142 41h1v1h-1zM145 41h1v1h-1zM152 41h1v1h-1zM155 41h1v1h-1zM159 41h1v1h-1z"/>
<path fill="#c5b7f4" d="M86 0h2v1h-2zM127 0h1v1h-1zM129 0h1v1h-1zM132 0h1v1h-1zM134 0h1v1h-1zM141 0h1v1h-1zM148 0h4v1h-4zM153 0h1v1h-1zM157 0h1v1h-1zM162 0h1v1h-1zM164 0h1v1h-1zM166 0h1v1h-1zM55 1h1v1h-1zM61 1h2v1h-2zM68 1h2v1h-2zM77 1h1v1h-1zM81 1h1v1h-1zM120 1h1v1h-1zM122 1h2v1h-2zM3 2h1v1h-1zM6 2h3v1h-3zM13 2h1v1h-1zM27 2h1v1h-1zM44 2h2v1h-2zM52 2h1v1h-1zM64 2h2v1h-2zM69 2h2v1h-2zM91 2h1v1h-1zM123 2h1v1h-1zM2 3h1v1h-1zM20 3h1v1h-1zM93 3h1v1h-1zM95 3h1v1h-1zM99 3h1v1h-1zM155 3h1v1h-1zM166 3h1v1h-1zM126 4h1v1h-1zM142 4h2v1h-2zM145 4h1v1h-1zM129 6h1v1h-1zM143 6h1v1h-1zM14 7h1v1h-1zM107 7h1v1h-1zM109 7h2v1h-2zM114 7h1v1h-1zM121 7h1v1h-1zM124 7h1v1h-1zM129 7h1v1h-1zM159 7h1v1h-1zM108 8h1v1h-1zM118 8h1v1h-1zM132 8h2v1h-2zM150 8h1v1h-1zM17 9h1v1h-1zM95 9h1v1h-1zM115 9h2v1h-2zM123 9h1v1h-1zM130 9h1v1h-1zM133 9h1v1h-1zM141 9h1v1h-1zM144 9h1v1h-1zM163 9h1v1h-1zM110 10h1v1h-1zM121 10h1v1h-1zM132 10h1v1h-1zM59 11h1v1h-1zM64 11h1v1h-1zM76 11h1v1h-1zM78 11h1v1h-1zM144 11h1v1h-1zM165 11h1v1h-1zM59 12h1v1h-1zM62 12h1v1h-1zM67 12h1v1h-1zM81 12h2v1h-2zM106 12h1v1h-1zM115 12h1v1h-1zM134 12h1v1h-1zM150 12h1v1h-1zM153 12h1v1h-1zM156 12h1v1h-1zM159 12h1v1h-1zM163 12h1v1h-1zM167 12h1v1h-1zM86 13h1v1h-1zM88 13h1v1h-1zM112 13h1v1h-1zM133 13h1v1h-1zM141 13h1v1h-1zM119 14h1v1h-1zM150 14h1v1h-1zM73 15h1v1h-1zM76 15h1v1h-1zM79 15h1v1h-1zM85 15h1v1h-1zM125 15h1v1h-1zM140 15h1v1h-1zM144 15h1v1h-1zM147 15h1v1h-1zM156 15h1v1h-1zM167 15h1v1h-1zM85 16h1v1h-1zM87 16h1v1h-1zM89 16h1v1h-1zM123 16h2v1h-2zM128 16h1v1h-1zM144 16h1v1h-1zM150 16h2v1h-2zM163 16h1v1h-1zM13 17h1v1h-1zM88 17h2v1h-2zM114 17h2v1h-2zM121 17h1v1h-1zM133 17h1v1h-1zM135 17h1v1h-1zM159 17h1v1h-1zM96 18h1v1h-1zM110 18h1v1h-1zM113 18h1v1h-1zM116 18h1v1h-1zM147 18h1v1h-1zM162 18h1v1h-1zM131 19h1v1h-1zM135 19h1v1h-1zM141 19h1v1h-1zM86 20h1v1h-1zM113 20h3v1h-3zM127 20h1v1h-1zM141 20h1v1h-1zM144 20h1v1h-1zM165 20h1v1h-1zM167 20h1v1h-1zM89 21h1v1h-1zM137 21h1v1h-1zM159 21h1v1h-1zM165 21h1v1h-1zM80 22h1v1h-1zM83 22h1v1h-1zM86 22h1v1h-1zM88 22h1v1h-1zM96 22h1v1h-1zM108 22h1v1h-1zM112 22h1v1h-1zM121 22h1v1h-1zM123 22h1v1h-1zM131 22h1v1h-1zM135 22h1v1h-1zM151 22h1v1h-1zM71 23h1v1h-1zM75 23h1v1h-1zM84 23h1v1h-1zM86 23h1v1h-1zM88 23h1v1h-1zM118 23h1v1h-1zM133 23h1v1h-1zM136 23h1v1h-1zM141 23h1v1h-1zM151 23h1v1h-1zM165 23h1v1h-1zM169 23h1v1h-1zM70 24h1v1h-1zM85 24h1v1h-1zM88 24h1v1h-1zM96 24h1v1h-1zM107 24h1v1h-1zM131 24h1v1h-1zM144 24h1v1h-1zM146 24h1v1h-1zM155 24h1v1h-1zM158 24h1v1h-1zM161 24h1v1h-1zM110 25h1v1h-1zM118 25h1v1h-1zM127 25h1v1h-1zM138 25h2v1h-2zM142 25h1v1h-1zM144 25h1v1h-1zM149 25h1v1h-1zM152 25h1v1h-1zM157 25h1v1h-1zM166 25h2v1h-2zM113 26h3v1h-3zM120 26h2v1h-2zM123 26h1v1h-1zM132 26h2v1h-2zM135 26h1v1h-1zM141 26h1v1h-1zM161 26h1v1h-1zM100 27h1v1h-1zM111 27h1v1h-1zM122 27h1v1h-1zM141 27h1v1h-1zM37 28h1v1h-1zM87 28h1v1h-1zM108 28h1v1h-1zM110 28h1v1h-1zM114 28h2v1h-2zM167 28h1v1h-1zM68 29h1v1h-1zM71 29h1v1h-1zM73 29h1v1h-1zM79 29h1v1h-1zM88 29h1v1h-1zM110 29h1v1h-1zM114 29h1v1h-1zM121 29h1v1h-1zM141 29h1v1h-1zM150 29h1v1h-1zM163 29h2v1h-2zM77 30h1v1h-1zM114 30h3v1h-3zM161 30h1v1h-1zM110 31h1v1h-1zM113 31h1v1h-1zM120 31h1v1h-1zM105 32h1v1h-1zM118 32h2v1h-2zM165 32h1v1h-1zM79 33h1v1h-1zM109 33h1v1h-1zM115 33h1v1h-1zM68 34h1v1h-1zM74 34h2v1h-2zM78 34h1v1h-1zM107 34h1v1h-1zM118 34h1v1h-1zM165 34h1v1h-1zM169 34h1v1h-1zM100 35h1v1h-1zM110 35h1v1h-1zM116 35h1v1h-1zM147 35h1v1h-1zM165 35h1v1h-1zM106 36h1v1h-1zM109 36h1v1h-1zM124 36h1v1h-1zM146 36h1v1h-1zM95 37h2v1h-2zM105 37h1v1h-1zM110 37h1v1h-1zM114 37h1v1h-1zM137 37h1v1h-1zM141 37h1v1h-1zM151 37h1v1h-1zM161 37h1v1h-1zM105 38h1v1h-1zM107 38h1v1h-1zM111 38h1v1h-1zM113 38h2v1h-2zM118 38h1v1h-1zM121 38h1v1h-1zM124 38h1v1h-1zM141 38h1v1h-1zM147 38h1v1h-1zM151 38h1v1h-1zM161 38h1v1h-1zM95 39h1v1h-1zM110 39h1v1h-1zM121 39h1v1h-1zM132 39h2v1h-2zM161 39h1v1h-1zM69 40h1v1h-1zM72 40h2v1h-2zM121 40h1v1h-1zM127 40h1v1h-1zM133 40h1v1h-1zM136 40h1v1h-1zM161 40h1v1h-1zM105 41h1v1h-1zM109 41h1v1h-1zM127 41h1v1h-1zM134 41h1v1h-1zM158 41h1v1h-1z"/>
<path fill="#cec2f5" d="M8 0h1v1h-1zM76 0h2v1h-2zM80 0h1v1h-1zM133 0h1v1h-1zM135 0h2v1h-2zM138 0h1v1h-1zM147 0h1v1h-1zM154 0h1v1h-1zM156 0h1v1h-1zM158 0h1v1h-1zM165 0h1v1h-1zM57 1h1v1h-1zM65 1h1v1h-1zM67 1h1v1h-1zM70 1h2v1h-2zM75 1h1v1h-1zM79 1h2v1h-2zM83 1h1v1h-1zM126 1h1v1h-1zM9 2h1v1h-1zM12 2h1v1h-1zM18 2h1v1h-1zM21 2h1v1h-1zM31 2h1v1h-1zM33 2h1v1h-1zM46 2h1v1h-1zM62 2h1v1h-1zM79 2h2v1h-2zM82 2h1v1h-1zM88 2h1v1h-1zM120 2h1v1h-1zM125 2h2v1h-2zM5 3h1v1h-1zM28 3h1v1h-1zM34 3h1v1h-1zM36 3h1v1h-1zM38 3h1v1h-1zM41 3h1v1h-1zM94 3h1v1h-1zM96 3h1v1h-1zM144 3h4v1h-4zM151 3h1v1h-1zM154 3h1v1h-1zM156 3h1v1h-1zM158 3h1v1h-1zM7 4h1v1h-1zM124 4h2v1h-2zM127 4h2v1h-2zM130 4h3v1h-3zM136 4h3v1h-3zM154 4h1v1h-1zM156 4h1v1h-1zM21 6h1v1h-1zM23 6h1v1h-1zM38 6h2v1h-2zM105 6h1v1h-1zM128 6h1v1h-1zM133 6h1v1h-1zM11 7h1v1h-1zM38 7h1v1h-1zM105 7h1v1h-1zM115 7h1v1h-1zM128 7h1v1h-1zM163 7h1v1h-1zM18 8h1v1h-1zM106 8h1v1h-1zM131 8h1v1h-1zM20 9h1v1h-1zM22 9h1v1h-1zM128 9h1v1h-1zM153 9h1v1h-1zM111 10h3v1h-3zM117 10h1v1h-1zM129 10h1v1h-1zM131 10h1v1h-1zM62 11h1v1h-1zM67 11h1v1h-1zM70 11h1v1h-1zM72 11h1v1h-1zM80 11h1v1h-1zM85 11h1v1h-1zM89 11h1v1h-1zM109 11h3v1h-3zM122 11h1v1h-1zM153 11h1v1h-1zM159 11h1v1h-1zM63 12h1v1h-1zM65 12h1v1h-1zM79 12h1v1h-1zM83 12h1v1h-1zM105 12h1v1h-1zM108 12h1v1h-1zM123 12h2v1h-2zM133 12h1v1h-1zM144 12h1v1h-1zM87 13h1v1h-1zM115 13h1v1h-1zM125 13h2v1h-2zM140 13h1v1h-1zM159 13h1v1h-1zM106 14h1v1h-1zM109 14h1v1h-1zM66 15h1v1h-1zM83 15h2v1h-2zM89 15h1v1h-1zM106 15h1v1h-1zM111 15h1v1h-1zM133 15h1v1h-1zM95 16h1v1h-1zM121 16h1v1h-1zM158 18h1v1h-1zM106 20h1v1h-1zM133 20h1v1h-1zM79 21h1v1h-1zM86 21h2v1h-2zM117 21h1v1h-1zM74 22h1v1h-1zM76 22h1v1h-1zM78 22h1v1h-1zM84 22h1v1h-1zM105 22h1v1h-1zM130 22h1v1h-1zM133 22h2v1h-2zM144 22h1v1h-1zM159 22h1v1h-1zM165 22h1v1h-1zM70 23h1v1h-1zM89 23h1v1h-1zM115 23h1v1h-1zM140 23h1v1h-1zM26 24h1v1h-1zM69 24h1v1h-1zM73 24h1v1h-1zM75 24h1v1h-1zM79 24h1v1h-1zM129 24h2v1h-2zM132 24h1v1h-1zM137 24h2v1h-2zM140 24h1v1h-1zM142 24h2v1h-2zM151 24h1v1h-1zM154 24h1v1h-1zM156 24h2v1h-2zM159 24h1v1h-1zM89 25h1v1h-1zM114 25h1v1h-1zM132 25h1v1h-1zM140 25h1v1h-1zM143 25h1v1h-1zM145 25h2v1h-2zM148 25h1v1h-1zM153 25h1v1h-1zM155 25h1v1h-1zM158 25h1v1h-1zM162 25h1v1h-1zM74 26h1v1h-1zM85 26h1v1h-1zM88 26h1v1h-1zM95 26h1v1h-1zM108 26h1v1h-1zM118 26h1v1h-1zM124 26h1v1h-1zM147 26h1v1h-1zM150 26h1v1h-1zM13 27h1v1h-1zM110 27h1v1h-1zM78 29h1v1h-1zM85 29h1v1h-1zM108 29h1v1h-1zM113 29h1v1h-1zM115 29h1v1h-1zM166 29h1v1h-1zM169 29h1v1h-1zM79 30h1v1h-1zM110 30h1v1h-1zM138 30h1v1h-1zM150 30h1v1h-1zM159 30h1v1h-1zM167 30h1v1h-1zM106 31h1v1h-1zM147 31h1v1h-1zM167 31h1v1h-1zM110 32h1v1h-1zM122 32h1v1h-1zM161 32h1v1h-1zM105 33h1v1h-1zM119 33h1v1h-1zM165 33h1v1h-1zM71 34h1v1h-1zM76 34h1v1h-1zM80 34h1v1h-1zM83 34h1v1h-1zM79 35h1v1h-1zM118 35h1v1h-1zM77 36h1v1h-1zM96 36h1v1h-1zM107 36h1v1h-1zM113 36h1v1h-1zM121 36h1v1h-1zM151 36h1v1h-1zM161 36h1v1h-1zM113 37h1v1h-1zM118 37h2v1h-2zM122 37h1v1h-1zM126 37h1v1h-1zM165 37h1v1h-1zM110 38h1v1h-1zM116 38h1v1h-1zM142 38h1v1h-1zM149 38h1v1h-1zM107 39h1v1h-1zM113 39h1v1h-1zM116 39h1v1h-1zM124 39h1v1h-1zM152 39h1v1h-1zM71 40h1v1h-1zM77 40h1v1h-1zM105 40h1v1h-1zM113 40h1v1h-1zM96 41h1v1h-1zM107 41h1v1h-1zM121 41h1v1h-1zM162 41h1v1h-1zM166 41h1v1h-1z"/>
<path fill="#d6cbf4" d="M13 0h1v1h-1zM16 0h1v1h-1zM28 0h1v1h-1zM66 0h1v1h-1zM88 0h2v1h-2zM128 0h1v1h-1zM131 0h1v1h-1zM139 0h1v1h-1zM145 0h1v1h-1zM155 0h1v1h-1zM160 0h1v1h-1zM163 0h1v1h-1zM58 1h1v1h-1zM82 1h1v1h-1zM121 1h1v1h-1zM125 1h1v1h-1zM134 1h1v1h-1zM19 2h1v1h-1zM22 2h1v1h-1zM42 2h1v1h-1zM47 2h2v1h-2zM60 2h1v1h-1zM73 2h1v1h-1zM89 2h2v1h-2zM98 2h1v1h-1zM0 3h1v1h-1zM40 3h1v1h-1zM97 3h1v1h-1zM101 3h1v1h-1zM136 3h1v1h-1zM142 3h1v1h-1zM163 3h1v1h-1zM12 4h1v1h-1zM97 4h1v1h-1zM135 4h1v1h-1zM139 4h2v1h-2zM153 4h1v1h-1zM158 4h1v1h-1zM160 4h1v1h-1zM18 5h1v1h-1zM20 6h1v1h-1zM36 6h1v1h-1zM131 6h1v1h-1zM169 6h1v1h-1zM13 7h1v1h-1zM36 7h1v1h-1zM40 7h1v1h-1zM95 7h1v1h-1zM111 7h1v1h-1zM113 7h1v1h-1zM116 7h1v1h-1zM144 7h1v1h-1zM109 8h1v1h-1zM13 9h2v1h-2zM18 9h1v1h-1zM84 9h1v1h-1zM159 9h1v1h-1zM13 10h2v1h-2zM144 10h1v1h-1zM14 11h1v1h-1zM60 11h1v1h-1zM74 11h1v1h-1zM82 11h1v1h-1zM87 11h1v1h-1zM99 11h1v1h-1zM114 11h2v1h-2zM117 11h1v1h-1zM120 11h1v1h-1zM123 11h1v1h-1zM126 11h2v1h-2zM60 12h1v1h-1zM85 12h1v1h-1zM116 12h1v1h-1zM120 12h1v1h-1zM66 13h1v1h-1zM106 13h1v1h-1zM120 13h1v1h-1zM123 13h2v1h-2zM13 14h1v1h-1zM111 14h1v1h-1zM117 14h1v1h-1zM125 14h1v1h-1zM67 15h3v1h-3zM74 15h1v1h-1zM80 15h1v1h-1zM82 15h1v1h-1zM110 15h1v1h-1zM117 15h1v1h-1zM159 15h1v1h-1zM115 16h1v1h-1zM85 17h1v1h-1zM99 17h1v1h-1zM106 17h1v1h-1zM66 18h1v1h-1zM108 18h1v1h-1zM133 18h2v1h-2zM139 18h1v1h-1zM156 18h2v1h-2zM160 18h1v1h-1zM133 19h1v1h-1zM119 20h1v1h-1zM124 20h3v1h-3zM37 21h1v1h-1zM106 21h1v1h-1zM111 21h1v1h-1zM119 21h2v1h-2zM77 22h1v1h-1zM81 22h2v1h-2zM89 22h1v1h-1zM95 22h1v1h-1zM66 23h1v1h-1zM68 23h2v1h-2zM72 23h1v1h-1zM78 23h1v1h-1zM159 23h1v1h-1zM53 24h2v1h-2zM68 24h1v1h-1zM71 24h1v1h-1zM76 24h1v1h-1zM100 24h1v1h-1zM128 24h1v1h-1zM134 24h1v1h-1zM136 24h1v1h-1zM150 24h1v1h-1zM13 25h1v1h-1zM37 25h1v1h-1zM69 25h1v1h-1zM72 25h3v1h-3zM88 25h1v1h-1zM115 25h1v1h-1zM128 25h1v1h-1zM131 25h1v1h-1zM136 25h2v1h-2zM147 25h1v1h-1zM154 25h1v1h-1zM156 25h1v1h-1zM165 25h1v1h-1zM69 26h1v1h-1zM77 26h1v1h-1zM99 26h1v1h-1zM110 26h1v1h-1zM169 26h1v1h-1zM95 27h1v1h-1zM106 27h1v1h-1zM108 27h1v1h-1zM118 27h2v1h-2zM123 27h1v1h-1zM125 27h1v1h-1zM15 28h1v1h-1zM69 28h1v1h-1zM89 28h1v1h-1zM95 28h1v1h-1zM106 28h1v1h-1zM169 28h1v1h-1zM75 29h1v1h-1zM89 29h1v1h-1zM54 30h1v1h-1zM72 30h1v1h-1zM81 30h1v1h-1zM95 30h1v1h-1zM108 30h1v1h-1zM105 31h1v1h-1zM161 31h1v1h-1zM17 32h1v1h-1zM96 32h1v1h-1zM107 32h1v1h-1zM115 32h1v1h-1zM126 32h1v1h-1zM72 33h1v1h-1zM77 33h1v1h-1zM107 33h1v1h-1zM110 33h1v1h-1zM122 33h1v1h-1zM15 34h1v1h-1zM70 34h1v1h-1zM82 34h1v1h-1zM84 34h1v1h-1zM15 35h1v1h-1zM71 35h2v1h-2zM74 35h2v1h-2zM88 35h1v1h-1zM78 36h2v1h-2zM105 36h1v1h-1zM110 36h1v1h-1zM88 37h1v1h-1zM107 37h1v1h-1zM147 37h1v1h-1zM96 39h1v1h-1zM105 39h1v1h-1zM169 39h1v1h-1zM80 40h1v1h-1zM84 40h1v1h-1zM96 40h1v1h-1zM99 40h1v1h-1zM110 40h1v1h-1zM118 40h1v1h-1zM141 40h1v1h-1zM141 41h1v1h-1zM167 41h1v1h-1z"/>
<path fill="#ddd3f3" d="M15 0h1v1h-1zM90 0h2v1h-2zM93 0h1v1h-1zM97 0h1v1h-1zM99 0h1v1h-1zM122 0h1v1h-1zM125 0h2v1h-2zM144 0h1v1h-1zM159 0h1v1h-1zM167 0h1v1h-1zM27 1h1v1h-1zM45 1h1v1h-1zM56 1h1v1h-1zM60 1h1v1h-1zM72 1h1v1h-1zM74 1h1v1h-1zM86 1h1v1h-1zM127 1h1v1h-1zM131 1h1v1h-1zM5 2h1v1h-1zM23 2h2v1h-2zM61 2h1v1h-1zM72 2h1v1h-1zM74 2h1v1h-1zM86 2h1v1h-1zM92 2h1v1h-1zM121 2h1v1h-1zM22 3h1v1h-1zM119 3h1v1h-1zM137 3h2v1h-2zM143 3h1v1h-1zM153 3h1v1h-1zM159 3h1v1h-1zM165 3h1v1h-1zM167 3h1v1h-1zM11 4h1v1h-1zM133 4h1v1h-1zM155 4h1v1h-1zM40 5h1v1h-1zM76 5h1v1h-1zM83 5h1v1h-1zM156 5h1v1h-1zM22 6h1v1h-1zM40 6h1v1h-1zM96 6h1v1h-1zM19 7h1v1h-1zM99 7h1v1h-1zM28 8h1v1h-1zM78 9h1v1h-1zM99 9h1v1h-1zM106 9h1v1h-1zM108 9h1v1h-1zM11 10h1v1h-1zM78 10h1v1h-1zM84 10h1v1h-1zM96 10h1v1h-1zM106 10h1v1h-1zM109 10h1v1h-1zM69 11h1v1h-1zM73 11h1v1h-1zM95 11h1v1h-1zM106 11h2v1h-2zM113 11h1v1h-1zM121 11h1v1h-1zM125 11h1v1h-1zM130 11h1v1h-1zM107 12h1v1h-1zM109 12h1v1h-1zM79 13h1v1h-1zM84 13h2v1h-2zM105 13h1v1h-1zM108 13h1v1h-1zM121 13h1v1h-1zM76 14h1v1h-1zM105 14h1v1h-1zM112 14h1v1h-1zM114 14h1v1h-1zM118 14h1v1h-1zM126 14h1v1h-1zM54 15h1v1h-1zM61 15h1v1h-1zM63 15h1v1h-1zM95 15h1v1h-1zM37 16h1v1h-1zM96 16h1v1h-1zM37 17h1v1h-1zM95 17h2v1h-2zM105 17h1v1h-1zM108 17h1v1h-1zM73 18h1v1h-1zM107 18h1v1h-1zM137 18h2v1h-2zM153 18h1v1h-1zM53 19h1v1h-1zM106 19h1v1h-1zM109 19h2v1h-2zM117 19h1v1h-1zM51 20h1v1h-1zM57 20h1v1h-1zM13 21h1v1h-1zM30 21h1v1h-1zM76 21h2v1h-2zM81 21h1v1h-1zM84 21h1v1h-1zM116 21h1v1h-1zM122 21h1v1h-1zM124 21h1v1h-1zM37 22h1v1h-1zM60 22h1v1h-1zM66 22h1v1h-1zM71 22h3v1h-3zM75 22h1v1h-1zM169 22h1v1h-1zM79 23h1v1h-1zM81 23h1v1h-1zM85 23h1v1h-1zM95 23h1v1h-1zM106 23h1v1h-1zM108 23h1v1h-1zM15 24h1v1h-1zM27 24h1v1h-1zM52 24h1v1h-1zM55 24h2v1h-2zM58 24h1v1h-1zM77 24h2v1h-2zM81 24h1v1h-1zM84 24h1v1h-1zM95 24h1v1h-1zM133 24h1v1h-1zM135 24h1v1h-1zM141 24h1v1h-1zM145 24h1v1h-1zM152 24h1v1h-1zM54 25h1v1h-1zM75 25h1v1h-1zM77 25h1v1h-1zM95 25h1v1h-1zM130 25h1v1h-1zM134 25h2v1h-2zM141 25h1v1h-1zM151 25h1v1h-1zM159 25h1v1h-1zM161 25h1v1h-1zM164 25h1v1h-1zM169 25h1v1h-1zM57 26h1v1h-1zM71 26h1v1h-1zM78 26h2v1h-2zM109 26h1v1h-1zM54 27h1v1h-1zM69 27h1v1h-1zM109 27h1v1h-1zM114 27h1v1h-1zM19 28h1v1h-1zM54 28h1v1h-1zM58 28h1v1h-1zM72 28h1v1h-1zM79 28h1v1h-1zM81 28h1v1h-1zM96 28h1v1h-1zM54 29h1v1h-1zM70 29h1v1h-1zM77 29h1v1h-1zM95 29h1v1h-1zM100 29h1v1h-1zM106 29h1v1h-1zM38 30h1v1h-1zM69 30h1v1h-1zM74 30h1v1h-1zM78 30h1v1h-1zM106 30h1v1h-1zM37 31h2v1h-2zM79 31h1v1h-1zM88 31h1v1h-1zM96 31h1v1h-1zM108 31h1v1h-1zM38 32h1v1h-1zM77 32h1v1h-1zM95 32h1v1h-1zM66 33h1v1h-1zM76 33h1v1h-1zM81 33h1v1h-1zM95 33h1v1h-1zM120 33h1v1h-1zM124 33h3v1h-3zM46 34h1v1h-1zM54 34h1v1h-1zM56 34h1v1h-1zM58 34h1v1h-1zM65 34h1v1h-1zM95 34h1v1h-1zM36 35h1v1h-1zM69 35h1v1h-1zM77 35h1v1h-1zM95 35h1v1h-1zM36 36h1v1h-1zM54 36h1v1h-1zM100 37h1v1h-1zM120 37h1v1h-1zM125 37h1v1h-1zM37 39h1v1h-1zM73 39h1v1h-1zM88 39h1v1h-1zM54 40h1v1h-1zM60 40h2v1h-2zM79 40h1v1h-1zM116 40h1v1h-1zM37 41h1v1h-1zM61 41h1v1h-1zM65 41h1v1h-1zM165 41h1v1h-1z"/>
<path fill="#e5dcf1" d="M9 0h1v1h-1zM12 0h1v1h-1zM18 0h1v1h-1zM32 0h1v1h-1zM59 0h1v1h-1zM92 0h1v1h-1zM123 0h2v1h-2zM152 0h1v1h-1zM28 1h1v1h-1zM47 1h1v1h-1zM51 1h2v1h-2zM128 1h1v1h-1zM130 1h1v1h-1zM133 1h1v1h-1zM166 1h1v1h-1zM15 2h1v1h-1zM25 2h2v1h-2zM95 2h3v1h-3zM18 3h1v1h-1zM141 3h1v1h-1zM8 4h1v1h-1zM16 4h1v1h-1zM38 4h1v1h-1zM84 4h1v1h-1zM93 4h1v1h-1zM103 4h1v1h-1zM121 4h1v1h-1zM129 4h1v1h-1zM159 4h1v1h-1zM19 5h4v1h-4zM24 5h16v1h-16zM41 5h14v1h-14zM56 5h20v1h-20zM77 5h6v1h-6zM84 5h20v1h-20zM105 5h8v1h-8zM114 5h42v1h-42zM157 5h5v1h-5zM163 5h2v1h-2zM166 5h4v1h-4zM28 6h1v1h-1zM159 6h1v1h-1zM168 6h1v1h-1zM8 7h1v1h-1zM112 7h1v1h-1zM19 8h1v1h-1zM37 8h1v1h-1zM41 8h1v1h-1zM95 8h1v1h-1zM105 8h1v1h-1zM107 8h1v1h-1zM21 9h1v1h-1zM28 9h1v1h-1zM76 9h1v1h-1zM81 9h1v1h-1zM83 9h1v1h-1zM96 9h1v1h-1zM109 9h1v1h-1zM116 10h1v1h-1zM50 11h1v1h-1zM112 11h1v1h-1zM116 11h1v1h-1zM118 11h1v1h-1zM124 11h1v1h-1zM128 11h2v1h-2zM132 11h1v1h-1zM134 11h2v1h-2zM53 12h1v1h-1zM57 12h2v1h-2zM70 12h2v1h-2zM73 12h1v1h-1zM80 12h1v1h-1zM95 12h1v1h-1zM99 12h1v1h-1zM121 12h2v1h-2zM13 13h1v1h-1zM38 13h1v1h-1zM41 13h1v1h-1zM71 13h1v1h-1zM73 13h2v1h-2zM78 13h1v1h-1zM21 14h1v1h-1zM38 14h1v1h-1zM41 14h1v1h-1zM71 14h1v1h-1zM77 14h1v1h-1zM81 14h1v1h-1zM84 14h1v1h-1zM95 14h1v1h-1zM110 14h1v1h-1zM120 14h1v1h-1zM122 14h1v1h-1zM37 15h1v1h-1zM53 15h1v1h-1zM59 15h1v1h-1zM62 15h1v1h-1zM64 15h2v1h-2zM96 15h1v1h-1zM99 15h1v1h-1zM112 15h1v1h-1zM114 15h1v1h-1zM38 16h1v1h-1zM71 16h1v1h-1zM74 16h2v1h-2zM81 16h1v1h-1zM38 17h1v1h-1zM100 17h1v1h-1zM109 17h1v1h-1zM15 18h1v1h-1zM39 18h1v1h-1zM74 18h1v1h-1zM78 18h2v1h-2zM82 18h1v1h-1zM86 18h1v1h-1zM136 18h1v1h-1zM140 18h4v1h-4zM155 18h1v1h-1zM37 19h1v1h-1zM41 19h1v1h-1zM51 19h1v1h-1zM66 19h1v1h-1zM78 19h1v1h-1zM95 19h1v1h-1zM105 19h1v1h-1zM111 19h2v1h-2zM116 19h1v1h-1zM54 20h1v1h-1zM59 20h1v1h-1zM61 20h1v1h-1zM71 20h1v1h-1zM78 20h2v1h-2zM85 20h1v1h-1zM89 20h1v1h-1zM96 20h1v1h-1zM120 20h1v1h-1zM122 20h1v1h-1zM36 21h1v1h-1zM66 21h1v1h-1zM75 21h1v1h-1zM78 21h1v1h-1zM80 21h1v1h-1zM82 21h1v1h-1zM85 21h1v1h-1zM105 21h1v1h-1zM108 21h2v1h-2zM113 21h1v1h-1zM125 21h2v1h-2zM19 22h1v1h-1zM54 22h1v1h-1zM69 22h1v1h-1zM85 22h1v1h-1zM99 22h1v1h-1zM53 23h2v1h-2zM57 23h1v1h-1zM82 23h2v1h-2zM96 23h1v1h-1zM13 24h1v1h-1zM37 24h1v1h-1zM51 24h1v1h-1zM80 24h1v1h-1zM147 24h1v1h-1zM70 25h1v1h-1zM78 25h3v1h-3zM133 25h1v1h-1zM150 25h1v1h-1zM163 25h1v1h-1zM36 26h2v1h-2zM52 26h1v1h-1zM54 26h1v1h-1zM66 26h1v1h-1zM75 26h2v1h-2zM80 26h1v1h-1zM96 26h1v1h-1zM106 26h2v1h-2zM18 27h1v1h-1zM37 27h1v1h-1zM66 27h1v1h-1zM77 27h1v1h-1zM87 27h1v1h-1zM121 27h1v1h-1zM126 27h1v1h-1zM53 28h1v1h-1zM65 28h1v1h-1zM68 28h1v1h-1zM71 28h1v1h-1zM73 28h3v1h-3zM13 29h1v1h-1zM52 29h2v1h-2zM66 29h1v1h-1zM76 29h1v1h-1zM80 29h2v1h-2zM84 29h1v1h-1zM105 29h1v1h-1zM107 29h1v1h-1zM109 29h1v1h-1zM37 30h1v1h-1zM65 30h1v1h-1zM76 30h1v1h-1zM80 30h1v1h-1zM83 30h1v1h-1zM105 30h1v1h-1zM109 30h1v1h-1zM72 31h1v1h-1zM77 31h2v1h-2zM81 31h1v1h-1zM83 31h1v1h-1zM19 32h1v1h-1zM36 32h2v1h-2zM76 32h1v1h-1zM79 32h1v1h-1zM87 32h1v1h-1zM120 32h2v1h-2zM124 32h2v1h-2zM15 33h1v1h-1zM37 33h1v1h-1zM78 33h1v1h-1zM83 33h1v1h-1zM87 33h2v1h-2zM121 33h1v1h-1zM123 33h1v1h-1zM13 34h1v1h-1zM37 34h1v1h-1zM48 34h1v1h-1zM52 34h2v1h-2zM64 34h1v1h-1zM13 35h1v1h-1zM38 35h1v1h-1zM68 35h1v1h-1zM78 35h1v1h-1zM81 35h1v1h-1zM38 36h1v1h-1zM74 36h1v1h-1zM88 36h1v1h-1zM31 37h1v1h-1zM36 37h1v1h-1zM54 37h1v1h-1zM61 37h1v1h-1zM63 37h1v1h-1zM69 37h1v1h-1zM74 37h1v1h-1zM79 37h1v1h-1zM121 37h1v1h-1zM123 37h1v1h-1zM38 38h1v1h-1zM59 38h1v1h-1zM61 38h1v1h-1zM65 38h1v1h-1zM78 38h1v1h-1zM72 39h1v1h-1zM26 40h1v1h-1zM53 40h1v1h-1zM66 40h1v1h-1zM76 40h1v1h-1zM78 40h1v1h-1zM83 40h1v1h-1zM95 40h1v1h-1zM38 41h1v1h-1zM40 41h1v1h-1zM43 41h1v1h-1zM49 41h1v1h-1zM68 41h2v1h-2zM76 41h2v1h-2zM81 41h1v1h-1zM84 41h1v1h-1zM87 41h1v1h-1zM95 41h1v1h-1zM163 41h2v1h-2z"/>
<path fill="#ece4f0" d="M27 0h1v1h-1zM63 0h1v1h-1zM69 0h3v1h-3zM98 0h1v1h-1zM104 0h1v1h-1zM120 0h1v1h-1zM49 1h1v1h-1zM87 1h1v1h-1zM91 1h1v1h-1zM103 1h1v1h-1zM135 1h1v1h-1zM161 1h1v1h-1zM164 1h1v1h-1zM10 2h1v1h-1zM29 2h1v1h-1zM26 3h1v1h-1zM32 3h1v1h-1zM100 3h1v1h-1zM123 3h1v1h-1zM126 3h2v1h-2zM139 3h2v1h-2zM13 4h2v1h-2zM39 4h1v1h-1zM76 4h1v1h-1zM81 4h2v1h-2zM96 4h1v1h-1zM100 4h2v1h-2zM104 4h1v1h-1zM23 5h1v1h-1zM55 5h1v1h-1zM104 5h1v1h-1zM113 5h1v1h-1zM162 5h1v1h-1zM165 5h1v1h-1zM95 6h1v1h-1zM15 7h1v1h-1zM28 7h1v1h-1zM92 7h1v1h-1zM118 7h1v1h-1zM14 8h1v1h-1zM96 8h1v1h-1zM119 8h1v1h-1zM8 9h2v1h-2zM15 9h1v1h-1zM107 9h1v1h-1zM8 10h1v1h-1zM15 10h1v1h-1zM75 10h1v1h-1zM80 10h1v1h-1zM83 10h1v1h-1zM100 10h1v1h-1zM105 10h1v1h-1zM107 10h2v1h-2zM43 11h1v1h-1zM47 11h1v1h-1zM53 11h1v1h-1zM55 11h1v1h-1zM96 11h1v1h-1zM105 11h1v1h-1zM131 11h1v1h-1zM133 11h1v1h-1zM39 12h1v1h-1zM54 12h1v1h-1zM72 12h1v1h-1zM39 13h1v1h-1zM59 13h1v1h-1zM72 13h1v1h-1zM76 13h2v1h-2zM81 13h1v1h-1zM107 13h1v1h-1zM109 13h1v1h-1zM74 14h1v1h-1zM86 14h2v1h-2zM89 14h1v1h-1zM107 14h1v1h-1zM113 14h1v1h-1zM123 14h1v1h-1zM38 15h1v1h-1zM51 15h2v1h-2zM107 15h3v1h-3zM113 15h1v1h-1zM115 15h2v1h-2zM118 15h1v1h-1zM36 16h1v1h-1zM39 16h1v1h-1zM59 16h1v1h-1zM61 16h3v1h-3zM66 16h1v1h-1zM84 16h1v1h-1zM92 16h1v1h-1zM37 18h1v1h-1zM41 18h1v1h-1zM62 18h1v1h-1zM71 18h2v1h-2zM84 18h1v1h-1zM87 18h1v1h-1zM95 18h1v1h-1zM105 18h1v1h-1zM109 18h1v1h-1zM154 18h1v1h-1zM36 19h1v1h-1zM39 19h1v1h-1zM58 19h1v1h-1zM60 19h1v1h-1zM63 19h1v1h-1zM76 19h1v1h-1zM79 19h1v1h-1zM86 19h1v1h-1zM96 19h1v1h-1zM99 19h1v1h-1zM113 19h2v1h-2zM118 19h1v1h-1zM36 20h5v1h-5zM58 20h1v1h-1zM62 20h2v1h-2zM67 20h1v1h-1zM73 20h1v1h-1zM80 20h2v1h-2zM84 20h1v1h-1zM105 20h1v1h-1zM107 20h2v1h-2zM121 20h1v1h-1zM15 21h1v1h-1zM39 21h1v1h-1zM60 21h1v1h-1zM63 21h1v1h-1zM71 21h1v1h-1zM73 21h1v1h-1zM110 21h1v1h-1zM112 21h1v1h-1zM114 21h1v1h-1zM121 21h1v1h-1zM39 22h1v1h-1zM51 22h1v1h-1zM53 22h1v1h-1zM55 22h1v1h-1zM57 22h1v1h-1zM61 22h1v1h-1zM64 22h2v1h-2zM68 22h1v1h-1zM70 22h1v1h-1zM60 23h1v1h-1zM63 23h1v1h-1zM65 23h1v1h-1zM76 23h1v1h-1zM80 23h1v1h-1zM107 23h1v1h-1zM109 23h1v1h-1zM168 23h1v1h-1zM30 24h1v1h-1zM57 24h1v1h-1zM59 24h3v1h-3zM63 24h1v1h-1zM36 25h1v1h-1zM51 25h3v1h-3zM57 25h1v1h-1zM61 25h1v1h-1zM68 25h1v1h-1zM71 25h1v1h-1zM76 25h1v1h-1zM81 25h1v1h-1zM84 25h1v1h-1zM96 25h1v1h-1zM17 26h1v1h-1zM43 26h1v1h-1zM48 26h1v1h-1zM53 26h1v1h-1zM58 26h2v1h-2zM65 26h1v1h-1zM68 26h1v1h-1zM70 26h1v1h-1zM72 26h2v1h-2zM81 26h1v1h-1zM83 26h2v1h-2zM51 27h3v1h-3zM58 27h2v1h-2zM62 27h1v1h-1zM72 27h1v1h-1zM76 27h1v1h-1zM79 27h2v1h-2zM84 27h3v1h-3zM107 27h1v1h-1zM120 27h1v1h-1zM124 27h1v1h-1zM36 28h1v1h-1zM60 28h2v1h-2zM64 28h1v1h-1zM76 28h2v1h-2zM105 28h1v1h-1zM107 28h1v1h-1zM11 29h1v1h-1zM37 29h2v1h-2zM43 29h1v1h-1zM55 29h1v1h-1zM61 29h3v1h-3zM83 29h1v1h-1zM36 30h1v1h-1zM41 30h1v1h-1zM51 30h1v1h-1zM56 30h1v1h-1zM58 30h2v1h-2zM73 30h1v1h-1zM75 30h1v1h-1zM87 30h2v1h-2zM107 30h1v1h-1zM169 30h1v1h-1zM36 31h1v1h-1zM54 31h1v1h-1zM58 31h1v1h-1zM66 31h1v1h-1zM74 31h1v1h-1zM85 31h3v1h-3zM109 31h1v1h-1zM168 31h2v1h-2zM18 32h1v1h-1zM80 32h1v1h-1zM84 32h1v1h-1zM86 32h1v1h-1zM88 32h1v1h-1zM100 32h1v1h-1zM123 32h1v1h-1zM168 32h2v1h-2zM13 33h1v1h-1zM26 33h1v1h-1zM36 33h1v1h-1zM61 33h3v1h-3zM65 33h1v1h-1zM69 33h1v1h-1zM74 33h1v1h-1zM80 33h1v1h-1zM82 33h1v1h-1zM84 33h1v1h-1zM86 33h1v1h-1zM169 33h1v1h-1zM8 34h1v1h-1zM38 34h1v1h-1zM43 34h1v1h-1zM47 34h1v1h-1zM63 34h1v1h-1zM66 34h1v1h-1zM88 34h1v1h-1zM96 34h1v1h-1zM28 35h1v1h-1zM37 35h1v1h-1zM61 35h1v1h-1zM63 35h1v1h-1zM70 35h1v1h-1zM73 35h1v1h-1zM87 35h1v1h-1zM96 35h1v1h-1zM169 35h1v1h-1zM13 36h1v1h-1zM37 36h1v1h-1zM46 36h1v1h-1zM53 36h1v1h-1zM55 36h1v1h-1zM66 36h1v1h-1zM68 36h2v1h-2zM71 36h1v1h-1zM76 36h1v1h-1zM80 36h2v1h-2zM92 36h1v1h-1zM37 37h2v1h-2zM46 37h1v1h-1zM56 37h1v1h-1zM60 37h1v1h-1zM66 37h1v1h-1zM71 37h1v1h-1zM75 37h3v1h-3zM84 37h1v1h-1zM124 37h1v1h-1zM169 37h1v1h-1zM16 38h1v1h-1zM36 38h2v1h-2zM63 38h1v1h-1zM66 38h1v1h-1zM77 38h1v1h-1zM79 38h1v1h-1zM81 38h1v1h-1zM84 38h2v1h-2zM87 38h1v1h-1zM95 38h1v1h-1zM168 38h1v1h-1zM68 39h2v1h-2zM74 39h1v1h-1zM77 39h1v1h-1zM79 39h1v1h-1zM81 39h1v1h-1zM85 39h1v1h-1zM87 39h1v1h-1zM89 39h1v1h-1zM15 40h1v1h-1zM36 40h3v1h-3zM50 40h1v1h-1zM56 40h1v1h-1zM65 40h1v1h-1zM81 40h2v1h-2zM86 40h1v1h-1zM88 40h1v1h-1zM19 41h1v1h-1zM47 41h1v1h-1zM62 41h1v1h-1zM66 41h1v1h-1zM70 41h1v1h-1zM72 41h1v1h-1zM74 41h1v1h-1zM86 41h1v1h-1zM88 41h2v1h-2zM161 41h1v1h-1zM168 41h2v1h-2z"/>
<path fill="#f4edef" d="M10 0h1v1h-1zM19 0h1v1h-1zM23 0h2v1h-2zM60 0h1v1h-1zM64 0h2v1h-2zM67 0h2v1h-2zM72 0h1v1h-1zM74 0h1v1h-1zM96 0h1v1h-1zM100 0h2v1h-2zM121 0h1v1h-1zM11 1h1v1h-1zM30 1h1v1h-1zM34 1h1v1h-1zM37 1h3v1h-3zM42 1h1v1h-1zM46 1h1v1h-1zM48 1h1v1h-1zM50 1h1v1h-1zM89 1h2v1h-2zM101 1h1v1h-1zM129 1h1v1h-1zM132 1h1v1h-1zM162 1h1v1h-1zM94 2h1v1h-1zM99 2h1v1h-1zM1 3h1v1h-1zM30 3h1v1h-1zM121 3h2v1h-2zM124 3h2v1h-2zM15 4h1v1h-1zM25 4h1v1h-1zM35 4h3v1h-3zM41 4h1v1h-1zM77 4h2v1h-2zM83 4h1v1h-1zM102 4h1v1h-1zM14 5h1v1h-1zM99 6h1v1h-1zM17 7h1v1h-1zM34 7h2v1h-2zM96 7h1v1h-1zM100 7h1v1h-1zM31 8h1v1h-1zM36 8h1v1h-1zM38 8h2v1h-2zM10 9h1v1h-1zM30 9h1v1h-1zM79 9h2v1h-2zM105 9h1v1h-1zM4 10h1v1h-1zM10 10h1v1h-1zM68 10h1v1h-1zM71 10h2v1h-2zM76 10h1v1h-1zM79 10h1v1h-1zM81 10h1v1h-1zM99 10h1v1h-1zM118 10h1v1h-1zM45 11h2v1h-2zM49 11h1v1h-1zM54 11h1v1h-1zM56 11h1v1h-1zM58 11h1v1h-1zM37 12h2v1h-2zM51 12h1v1h-1zM55 12h2v1h-2zM74 12h2v1h-2zM100 12h1v1h-1zM37 13h1v1h-1zM40 13h1v1h-1zM63 13h1v1h-1zM83 13h1v1h-1zM95 13h2v1h-2zM39 14h1v1h-1zM70 14h1v1h-1zM73 14h1v1h-1zM79 14h1v1h-1zM83 14h1v1h-1zM88 14h1v1h-1zM99 14h1v1h-1zM108 14h1v1h-1zM115 14h2v1h-2zM121 14h1v1h-1zM124 14h1v1h-1zM36 15h1v1h-1zM39 15h1v1h-1zM57 15h2v1h-2zM60 15h1v1h-1zM97 15h1v1h-1zM100 15h1v1h-1zM40 16h2v1h-2zM68 16h1v1h-1zM76 16h2v1h-2zM79 16h1v1h-1zM82 16h1v1h-1zM107 17h1v1h-1zM36 18h1v1h-1zM38 18h1v1h-1zM54 18h1v1h-1zM59 18h3v1h-3zM65 18h1v1h-1zM81 18h1v1h-1zM88 18h1v1h-1zM99 18h1v1h-1zM19 19h1v1h-1zM24 19h1v1h-1zM38 19h1v1h-1zM54 19h3v1h-3zM61 19h2v1h-2zM65 19h1v1h-1zM67 19h1v1h-1zM74 19h1v1h-1zM81 19h1v1h-1zM84 19h1v1h-1zM87 19h2v1h-2zM108 19h1v1h-1zM115 19h1v1h-1zM15 20h1v1h-1zM41 20h1v1h-1zM53 20h1v1h-1zM55 20h2v1h-2zM66 20h1v1h-1zM69 20h1v1h-1zM72 20h1v1h-1zM74 20h3v1h-3zM109 20h1v1h-1zM59 21h1v1h-1zM61 21h1v1h-1zM64 21h1v1h-1zM67 21h1v1h-1zM74 21h1v1h-1zM83 21h1v1h-1zM92 21h1v1h-1zM96 21h1v1h-1zM99 21h1v1h-1zM118 21h1v1h-1zM123 21h1v1h-1zM15 22h1v1h-1zM36 22h1v1h-1zM56 22h1v1h-1zM58 22h2v1h-2zM63 22h1v1h-1zM168 22h1v1h-1zM13 23h1v1h-1zM36 23h2v1h-2zM39 23h1v1h-1zM51 23h2v1h-2zM55 23h2v1h-2zM58 23h2v1h-2zM61 23h1v1h-1zM64 23h1v1h-1zM77 23h1v1h-1zM105 23h1v1h-1zM28 24h1v1h-1zM36 24h1v1h-1zM38 24h1v1h-1zM47 24h1v1h-1zM64 24h1v1h-1zM66 24h1v1h-1zM83 24h1v1h-1zM58 25h1v1h-1zM60 25h1v1h-1zM62 25h2v1h-2zM67 25h1v1h-1zM83 25h1v1h-1zM168 25h1v1h-1zM19 26h1v1h-1zM30 26h1v1h-1zM38 26h1v1h-1zM55 26h2v1h-2zM63 26h2v1h-2zM82 26h1v1h-1zM105 26h1v1h-1zM14 27h1v1h-1zM36 27h1v1h-1zM56 27h2v1h-2zM60 27h2v1h-2zM64 27h1v1h-1zM67 27h2v1h-2zM74 27h2v1h-2zM78 27h1v1h-1zM89 27h1v1h-1zM99 27h1v1h-1zM105 27h1v1h-1zM24 28h1v1h-1zM39 28h1v1h-1zM43 28h1v1h-1zM56 28h2v1h-2zM63 28h1v1h-1zM70 28h1v1h-1zM78 28h1v1h-1zM80 28h1v1h-1zM84 28h1v1h-1zM109 28h1v1h-1zM168 28h1v1h-1zM10 29h1v1h-1zM15 29h1v1h-1zM36 29h1v1h-1zM39 29h1v1h-1zM51 29h1v1h-1zM56 29h2v1h-2zM59 29h2v1h-2zM64 29h1v1h-1zM82 29h1v1h-1zM168 29h1v1h-1zM26 30h1v1h-1zM55 30h1v1h-1zM57 30h1v1h-1zM60 30h5v1h-5zM66 30h1v1h-1zM68 30h1v1h-1zM70 30h2v1h-2zM84 30h1v1h-1zM86 30h1v1h-1zM89 30h1v1h-1zM96 30h1v1h-1zM100 30h1v1h-1zM39 31h1v1h-1zM59 31h1v1h-1zM61 31h1v1h-1zM69 31h1v1h-1zM73 31h1v1h-1zM75 31h1v1h-1zM80 31h1v1h-1zM84 31h1v1h-1zM89 31h1v1h-1zM22 32h1v1h-1zM26 32h1v1h-1zM51 32h1v1h-1zM53 32h2v1h-2zM78 32h1v1h-1zM81 32h1v1h-1zM53 33h2v1h-2zM58 33h1v1h-1zM71 33h1v1h-1zM100 33h1v1h-1zM168 33h1v1h-1zM36 34h1v1h-1zM44 34h1v1h-1zM51 34h1v1h-1zM59 34h3v1h-3zM86 34h2v1h-2zM89 34h1v1h-1zM100 34h1v1h-1zM39 35h1v1h-1zM43 35h1v1h-1zM59 35h2v1h-2zM64 35h3v1h-3zM76 35h1v1h-1zM85 35h2v1h-2zM51 36h1v1h-1zM56 36h1v1h-1zM59 36h1v1h-1zM61 36h1v1h-1zM63 36h1v1h-1zM65 36h1v1h-1zM70 36h1v1h-1zM82 36h4v1h-4zM95 36h1v1h-1zM169 36h1v1h-1zM64 37h2v1h-2zM70 37h1v1h-1zM72 37h2v1h-2zM78 37h1v1h-1zM81 37h2v1h-2zM86 37h2v1h-2zM89 37h1v1h-1zM168 37h1v1h-1zM7 38h1v1h-1zM11 38h1v1h-1zM67 38h1v1h-1zM76 38h1v1h-1zM86 38h1v1h-1zM88 38h2v1h-2zM92 38h1v1h-1zM99 38h1v1h-1zM169 38h1v1h-1zM34 39h1v1h-1zM36 39h1v1h-1zM38 39h1v1h-1zM54 39h1v1h-1zM70 39h2v1h-2zM75 39h2v1h-2zM168 39h1v1h-1zM19 40h1v1h-1zM43 40h2v1h-2zM46 40h1v1h-1zM49 40h1v1h-1zM51 40h1v1h-1zM55 40h1v1h-1zM58 40h2v1h-2zM87 40h1v1h-1zM89 40h1v1h-1zM100 40h1v1h-1zM17 41h1v1h-1zM26 41h1v1h-1zM31 41h1v1h-1zM36 41h1v1h-1zM46 41h1v1h-1zM48 41h1v1h-1zM54 41h1v1h-1zM60 41h1v1h-1zM63 41h2v1h-2zM67 41h1v1h-1zM73 41h1v1h-1zM75 41h1v1h-1zM78 41h2v1h-2zM82 41h1v1h-1zM85 41h1v1h-1zM92 41h1v1h-1zM100 41h1v1h-1z"/>
<path fill="#f5e5e2" d="M20 0h1v1h-1zM25 0h1v1h-1zM29 0h2v1h-2zM33 0h1v1h-1zM62 0h1v1h-1zM73 0h1v1h-1zM75 0h1v1h-1zM110 0h2v1h-2zM31 1h1v1h-1zM36 1h1v1h-1zM41 1h1v1h-1zM44 1h1v1h-1zM85 1h1v1h-1zM104 1h1v1h-1zM165 1h1v1h-1zM169 2h1v1h-1zM17 3h1v1h-1zM25 3h1v1h-1zM27 3h1v1h-1zM29 3h1v1h-1zM120 3h1v1h-1zM10 4h1v1h-1zM26 4h3v1h-3zM34 4h1v1h-1zM94 4h1v1h-1zM106 4h1v1h-1zM108 4h1v1h-1zM34 6h1v1h-1zM20 7h1v1h-1zM23 7h2v1h-2zM13 8h1v1h-1zM23 8h1v1h-1zM30 8h1v1h-1zM92 8h1v1h-1zM11 9h1v1h-1zM25 9h1v1h-1zM29 9h1v1h-1zM77 9h1v1h-1zM92 9h1v1h-1zM100 9h1v1h-1zM169 9h1v1h-1zM2 10h1v1h-1zM9 10h1v1h-1zM28 10h1v1h-1zM70 10h1v1h-1zM73 10h1v1h-1zM82 10h1v1h-1zM104 10h1v1h-1zM48 11h1v1h-1zM57 11h1v1h-1zM36 12h1v1h-1zM41 12h1v1h-1zM68 12h1v1h-1zM15 13h1v1h-1zM36 13h1v1h-1zM60 13h3v1h-3zM64 13h2v1h-2zM68 13h1v1h-1zM70 13h1v1h-1zM75 13h1v1h-1zM80 13h1v1h-1zM82 13h1v1h-1zM98 13h2v1h-2zM37 14h1v1h-1zM56 14h1v1h-1zM68 14h1v1h-1zM72 14h1v1h-1zM78 14h1v1h-1zM82 14h1v1h-1zM85 14h1v1h-1zM92 14h1v1h-1zM96 14h1v1h-1zM20 15h1v1h-1zM45 15h1v1h-1zM47 15h1v1h-1zM55 15h2v1h-2zM92 15h1v1h-1zM105 15h1v1h-1zM53 16h1v1h-1zM58 16h1v1h-1zM64 16h2v1h-2zM70 16h1v1h-1zM72 16h2v1h-2zM78 16h1v1h-1zM80 16h1v1h-1zM83 16h1v1h-1zM99 16h1v1h-1zM39 17h1v1h-1zM66 17h1v1h-1zM73 17h1v1h-1zM77 17h1v1h-1zM81 17h1v1h-1zM13 18h2v1h-2zM51 18h1v1h-1zM53 18h1v1h-1zM63 18h1v1h-1zM68 18h1v1h-1zM77 18h1v1h-1zM83 18h1v1h-1zM92 18h1v1h-1zM18 19h1v1h-1zM57 19h1v1h-1zM64 19h1v1h-1zM83 19h1v1h-1zM107 19h1v1h-1zM13 20h1v1h-1zM19 20h1v1h-1zM60 20h1v1h-1zM64 20h2v1h-2zM77 20h1v1h-1zM82 20h2v1h-2zM6 21h1v1h-1zM41 21h1v1h-1zM53 21h1v1h-1zM62 21h1v1h-1zM68 21h1v1h-1zM72 21h1v1h-1zM107 21h1v1h-1zM115 21h1v1h-1zM9 22h1v1h-1zM21 22h1v1h-1zM24 22h1v1h-1zM38 22h1v1h-1zM41 22h1v1h-1zM43 22h1v1h-1zM45 22h3v1h-3zM52 22h1v1h-1zM67 22h1v1h-1zM92 22h1v1h-1zM100 22h1v1h-1zM15 23h1v1h-1zM26 23h1v1h-1zM30 23h1v1h-1zM38 23h1v1h-1zM43 23h4v1h-4zM62 23h1v1h-1zM67 23h1v1h-1zM11 24h1v1h-1zM43 24h1v1h-1zM48 24h1v1h-1zM62 24h1v1h-1zM65 24h1v1h-1zM82 24h1v1h-1zM99 24h1v1h-1zM17 25h1v1h-1zM38 25h1v1h-1zM55 25h2v1h-2zM59 25h1v1h-1zM64 25h1v1h-1zM66 25h1v1h-1zM82 25h1v1h-1zM100 25h1v1h-1zM24 26h1v1h-1zM47 26h1v1h-1zM51 26h1v1h-1zM60 26h3v1h-3zM100 26h1v1h-1zM15 27h1v1h-1zM38 27h2v1h-2zM55 27h1v1h-1zM63 27h1v1h-1zM65 27h1v1h-1zM70 27h2v1h-2zM73 27h1v1h-1zM81 27h1v1h-1zM96 27h1v1h-1zM38 28h1v1h-1zM51 28h1v1h-1zM55 28h1v1h-1zM59 28h1v1h-1zM62 28h1v1h-1zM66 28h2v1h-2zM18 29h2v1h-2zM44 29h1v1h-1zM47 29h2v1h-2zM58 29h1v1h-1zM65 29h1v1h-1zM67 29h1v1h-1zM96 29h1v1h-1zM23 30h1v1h-1zM39 30h1v1h-1zM46 30h1v1h-1zM53 30h1v1h-1zM82 30h1v1h-1zM85 30h1v1h-1zM90 30h1v1h-1zM99 30h1v1h-1zM23 31h1v1h-1zM43 31h1v1h-1zM46 31h2v1h-2zM56 31h1v1h-1zM60 31h1v1h-1zM62 31h2v1h-2zM65 31h1v1h-1zM68 31h1v1h-1zM82 31h1v1h-1zM98 31h1v1h-1zM107 31h1v1h-1zM29 32h1v1h-1zM39 32h1v1h-1zM43 32h1v1h-1zM56 32h1v1h-1zM64 32h1v1h-1zM72 32h1v1h-1zM85 32h1v1h-1zM99 32h1v1h-1zM38 33h2v1h-2zM43 33h2v1h-2zM60 33h1v1h-1zM64 33h1v1h-1zM67 33h2v1h-2zM73 33h1v1h-1zM75 33h1v1h-1zM89 33h1v1h-1zM99 33h1v1h-1zM39 34h1v1h-1zM42 34h1v1h-1zM49 34h1v1h-1zM55 34h1v1h-1zM57 34h1v1h-1zM62 34h1v1h-1zM85 34h1v1h-1zM99 34h1v1h-1zM44 35h3v1h-3zM52 35h1v1h-1zM54 35h1v1h-1zM56 35h1v1h-1zM62 35h1v1h-1zM84 35h1v1h-1zM89 35h1v1h-1zM168 35h1v1h-1zM16 36h1v1h-1zM26 36h1v1h-1zM39 36h1v1h-1zM52 36h1v1h-1zM57 36h2v1h-2zM62 36h1v1h-1zM64 36h1v1h-1zM72 36h2v1h-2zM87 36h1v1h-1zM168 36h1v1h-1zM7 37h1v1h-1zM39 37h1v1h-1zM53 37h1v1h-1zM67 37h2v1h-2zM80 37h1v1h-1zM85 37h1v1h-1zM99 37h1v1h-1zM17 38h1v1h-1zM19 38h1v1h-1zM31 38h1v1h-1zM43 38h1v1h-1zM60 38h1v1h-1zM62 38h1v1h-1zM64 38h1v1h-1zM80 38h1v1h-1zM82 38h1v1h-1zM26 39h1v1h-1zM40 39h1v1h-1zM53 39h1v1h-1zM61 39h1v1h-1zM78 39h1v1h-1zM82 39h1v1h-1zM84 39h1v1h-1zM86 39h1v1h-1zM99 39h2v1h-2zM8 40h1v1h-1zM39 40h1v1h-1zM41 40h1v1h-1zM45 40h1v1h-1zM47 40h1v1h-1zM52 40h1v1h-1zM57 40h1v1h-1zM63 40h1v1h-1zM67 40h1v1h-1zM85 40h1v1h-1zM103 40h1v1h-1zM39 41h1v1h-1zM44 41h2v1h-2zM99 41h1v1h-1z"/>
<path fill="#f6dcd5" d="M3 0h1v1h-1zM7 0h1v1h-1zM31 0h1v1h-1zM94 0h1v1h-1zM102 0h1v1h-1zM108 0h1v1h-1zM14 1h1v1h-1zM25 1h1v1h-1zM33 1h1v1h-1zM40 1h1v1h-1zM43 1h1v1h-1zM88 1h1v1h-1zM92 1h1v1h-1zM95 1h1v1h-1zM99 1h1v1h-1zM105 1h1v1h-1zM108 1h1v1h-1zM148 1h4v1h-4zM0 2h1v1h-1zM168 2h1v1h-1zM33 3h1v1h-1zM45 3h1v1h-1zM91 3h1v1h-1zM130 3h1v1h-1zM9 4h1v1h-1zM24 4h1v1h-1zM40 4h1v1h-1zM79 4h2v1h-2zM98 4h2v1h-2zM109 4h1v1h-1zM111 4h1v1h-1zM117 4h1v1h-1zM8 6h1v1h-1zM13 6h2v1h-2zM45 6h1v1h-1zM53 6h1v1h-1zM92 6h1v1h-1zM97 6h1v1h-1zM12 7h1v1h-1zM21 7h1v1h-1zM91 7h1v1h-1zM20 8h2v1h-2zM29 8h1v1h-1zM40 8h1v1h-1zM23 9h1v1h-1zM33 9h1v1h-1zM82 9h1v1h-1zM86 9h1v1h-1zM98 9h1v1h-1zM30 10h1v1h-1zM53 10h1v1h-1zM69 10h1v1h-1zM74 10h1v1h-1zM77 10h1v1h-1zM86 10h2v1h-2zM102 10h1v1h-1zM11 11h1v1h-1zM13 11h1v1h-1zM42 11h1v1h-1zM44 11h1v1h-1zM92 11h1v1h-1zM40 12h1v1h-1zM52 12h1v1h-1zM69 12h1v1h-1zM96 12h1v1h-1zM21 13h1v1h-1zM28 13h1v1h-1zM67 13h1v1h-1zM69 13h1v1h-1zM19 14h1v1h-1zM36 14h1v1h-1zM40 14h1v1h-1zM53 14h1v1h-1zM55 14h1v1h-1zM61 14h1v1h-1zM63 14h2v1h-2zM66 14h1v1h-1zM75 14h1v1h-1zM100 14h1v1h-1zM19 15h1v1h-1zM41 15h1v1h-1zM55 16h1v1h-1zM67 16h1v1h-1zM69 16h1v1h-1zM100 16h1v1h-1zM10 17h1v1h-1zM29 17h1v1h-1zM41 17h1v1h-1zM61 17h1v1h-1zM70 17h2v1h-2zM83 17h2v1h-2zM92 17h1v1h-1zM97 17h1v1h-1zM22 18h1v1h-1zM34 18h1v1h-1zM40 18h1v1h-1zM56 18h2v1h-2zM64 18h1v1h-1zM67 18h1v1h-1zM69 18h2v1h-2zM75 18h2v1h-2zM80 18h1v1h-1zM100 18h1v1h-1zM159 18h1v1h-1zM35 19h1v1h-1zM40 19h1v1h-1zM59 19h1v1h-1zM71 19h1v1h-1zM75 19h1v1h-1zM77 19h1v1h-1zM82 19h1v1h-1zM100 19h1v1h-1zM21 20h1v1h-1zM34 20h2v1h-2zM42 20h1v1h-1zM52 20h1v1h-1zM68 20h1v1h-1zM70 20h1v1h-1zM92 20h1v1h-1zM99 20h1v1h-1zM123 20h1v1h-1zM7 21h1v1h-1zM21 21h1v1h-1zM38 21h1v1h-1zM54 21h1v1h-1zM56 21h1v1h-1zM58 21h1v1h-1zM69 21h2v1h-2zM100 21h2v1h-2zM48 22h3v1h-3zM62 22h1v1h-1zM41 23h1v1h-1zM47 23h3v1h-3zM93 23h1v1h-1zM99 23h1v1h-1zM25 24h1v1h-1zM41 24h1v1h-1zM67 24h1v1h-1zM92 24h1v1h-1zM9 25h1v1h-1zM18 25h1v1h-1zM30 25h1v1h-1zM65 25h1v1h-1zM92 25h1v1h-1zM23 26h1v1h-1zM39 26h1v1h-1zM42 26h1v1h-1zM46 26h1v1h-1zM67 26h1v1h-1zM103 26h1v1h-1zM168 26h1v1h-1zM41 27h1v1h-1zM83 27h1v1h-1zM88 27h1v1h-1zM102 27h1v1h-1zM48 28h1v1h-1zM52 28h1v1h-1zM83 28h1v1h-1zM99 28h2v1h-2zM16 29h1v1h-1zM92 29h1v1h-1zM99 29h1v1h-1zM13 30h1v1h-1zM19 30h1v1h-1zM35 30h1v1h-1zM40 30h1v1h-1zM43 30h1v1h-1zM48 30h1v1h-1zM52 30h1v1h-1zM67 30h1v1h-1zM92 30h1v1h-1zM168 30h1v1h-1zM26 31h1v1h-1zM28 31h1v1h-1zM32 31h1v1h-1zM44 31h2v1h-2zM52 31h1v1h-1zM64 31h1v1h-1zM70 31h2v1h-2zM76 31h1v1h-1zM100 31h1v1h-1zM59 32h1v1h-1zM69 32h1v1h-1zM71 32h1v1h-1zM75 32h1v1h-1zM82 32h2v1h-2zM89 32h1v1h-1zM11 33h1v1h-1zM28 33h2v1h-2zM32 33h1v1h-1zM45 33h3v1h-3zM51 33h1v1h-1zM55 33h2v1h-2zM70 33h1v1h-1zM85 33h1v1h-1zM11 34h1v1h-1zM26 34h1v1h-1zM29 34h1v1h-1zM50 34h1v1h-1zM18 35h1v1h-1zM40 35h2v1h-2zM51 35h1v1h-1zM53 35h1v1h-1zM58 35h1v1h-1zM80 35h1v1h-1zM82 35h1v1h-1zM98 35h1v1h-1zM104 35h1v1h-1zM15 36h1v1h-1zM31 36h1v1h-1zM40 36h1v1h-1zM48 36h3v1h-3zM60 36h1v1h-1zM67 36h1v1h-1zM75 36h1v1h-1zM86 36h1v1h-1zM89 36h1v1h-1zM94 36h1v1h-1zM100 36h1v1h-1zM6 37h1v1h-1zM13 37h1v1h-1zM30 37h1v1h-1zM43 37h1v1h-1zM50 37h1v1h-1zM52 37h1v1h-1zM55 37h1v1h-1zM58 37h2v1h-2zM83 37h1v1h-1zM98 37h1v1h-1zM18 38h1v1h-1zM25 38h1v1h-1zM39 38h1v1h-1zM44 38h1v1h-1zM47 38h1v1h-1zM54 38h1v1h-1zM56 38h1v1h-1zM68 38h2v1h-2zM72 38h1v1h-1zM83 38h1v1h-1zM13 39h1v1h-1zM35 39h1v1h-1zM57 39h1v1h-1zM65 39h1v1h-1zM80 39h1v1h-1zM30 40h1v1h-1zM34 40h1v1h-1zM42 40h1v1h-1zM48 40h1v1h-1zM62 40h1v1h-1zM64 40h1v1h-1zM7 41h1v1h-1zM16 41h1v1h-1zM35 41h1v1h-1zM41 41h1v1h-1zM50 41h2v1h-2zM53 41h1v1h-1zM56 41h1v1h-1zM59 41h1v1h-1zM71 41h1v1h-1zM80 41h1v1h-1zM83 41h1v1h-1z"/>
<path fill="#f6d4c9" d="M4 0h1v1h-1zM21 0h2v1h-2zM49 0h1v1h-1zM61 0h1v1h-1zM105 0h2v1h-2zM112 0h3v1h-3zM26 1h1v1h-1zM29 1h1v1h-1zM35 1h1v1h-1zM102 1h1v1h-1zM109 1h3v1h-3zM146 1h1v1h-1zM163 1h1v1h-1zM167 1h1v1h-1zM38 2h1v1h-1zM93 2h1v1h-1zM100 2h1v1h-1zM63 3h2v1h-2zM71 3h1v1h-1zM110 3h1v1h-1zM128 3h1v1h-1zM131 3h2v1h-2zM134 3h2v1h-2zM30 4h1v1h-1zM32 4h1v1h-1zM45 4h1v1h-1zM66 4h1v1h-1zM105 4h1v1h-1zM110 4h1v1h-1zM114 4h1v1h-1zM27 6h1v1h-1zM63 6h1v1h-1zM86 6h1v1h-1zM98 6h1v1h-1zM100 6h1v1h-1zM9 7h1v1h-1zM22 7h1v1h-1zM46 7h1v1h-1zM15 8h1v1h-1zM22 8h1v1h-1zM24 8h1v1h-1zM27 8h1v1h-1zM98 8h1v1h-1zM123 8h1v1h-1zM125 8h1v1h-1zM16 9h1v1h-1zM32 9h1v1h-1zM71 9h1v1h-1zM75 9h1v1h-1zM85 9h1v1h-1zM93 9h1v1h-1zM6 10h1v1h-1zM23 10h1v1h-1zM46 10h1v1h-1zM54 10h1v1h-1zM88 10h1v1h-1zM93 10h1v1h-1zM51 11h2v1h-2zM100 11h1v1h-1zM104 11h1v1h-1zM92 12h1v1h-1zM98 12h1v1h-1zM10 13h2v1h-2zM42 14h1v1h-1zM54 14h1v1h-1zM57 14h1v1h-1zM69 14h1v1h-1zM40 15h1v1h-1zM42 15h2v1h-2zM48 15h3v1h-3zM28 16h1v1h-1zM30 16h1v1h-1zM54 16h1v1h-1zM56 16h2v1h-2zM60 16h1v1h-1zM106 16h1v1h-1zM36 17h1v1h-1zM42 17h1v1h-1zM63 17h2v1h-2zM67 17h2v1h-2zM72 17h1v1h-1zM75 17h2v1h-2zM78 17h3v1h-3zM9 18h1v1h-1zM19 18h1v1h-1zM21 18h1v1h-1zM47 18h1v1h-1zM58 18h1v1h-1zM85 18h1v1h-1zM6 19h1v1h-1zM21 19h1v1h-1zM30 19h1v1h-1zM34 19h1v1h-1zM42 19h1v1h-1zM46 19h1v1h-1zM52 19h1v1h-1zM69 19h1v1h-1zM73 19h1v1h-1zM80 19h1v1h-1zM85 19h1v1h-1zM89 19h1v1h-1zM26 20h1v1h-1zM18 21h1v1h-1zM40 21h1v1h-1zM55 21h1v1h-1zM65 21h1v1h-1zM90 21h2v1h-2zM97 21h1v1h-1zM8 22h1v1h-1zM13 22h1v1h-1zM18 22h1v1h-1zM20 22h1v1h-1zM30 22h1v1h-1zM44 22h1v1h-1zM40 23h1v1h-1zM91 23h1v1h-1zM10 24h1v1h-1zM16 24h1v1h-1zM29 24h1v1h-1zM44 24h3v1h-3zM91 24h1v1h-1zM98 24h1v1h-1zM24 25h1v1h-1zM26 25h1v1h-1zM28 25h1v1h-1zM35 25h1v1h-1zM39 25h1v1h-1zM43 25h1v1h-1zM48 25h1v1h-1zM98 25h2v1h-2zM22 26h1v1h-1zM41 26h1v1h-1zM45 26h1v1h-1zM9 27h1v1h-1zM11 27h1v1h-1zM24 27h1v1h-1zM42 27h2v1h-2zM48 27h1v1h-1zM82 27h1v1h-1zM17 28h2v1h-2zM30 28h1v1h-1zM41 28h2v1h-2zM44 28h4v1h-4zM82 28h1v1h-1zM14 29h1v1h-1zM24 29h1v1h-1zM41 29h1v1h-1zM46 29h1v1h-1zM15 30h1v1h-1zM22 30h1v1h-1zM29 30h1v1h-1zM42 30h1v1h-1zM44 30h2v1h-2zM47 30h1v1h-1zM97 30h1v1h-1zM53 31h1v1h-1zM55 31h1v1h-1zM57 31h1v1h-1zM67 31h1v1h-1zM90 31h1v1h-1zM92 31h1v1h-1zM28 32h1v1h-1zM52 32h1v1h-1zM60 32h2v1h-2zM66 32h1v1h-1zM73 32h2v1h-2zM91 32h2v1h-2zM94 32h1v1h-1zM97 32h1v1h-1zM16 33h1v1h-1zM48 33h2v1h-2zM59 33h1v1h-1zM92 33h1v1h-1zM94 33h1v1h-1zM102 33h1v1h-1zM9 34h1v1h-1zM12 34h1v1h-1zM27 34h1v1h-1zM41 34h1v1h-1zM45 34h1v1h-1zM92 34h1v1h-1zM97 34h1v1h-1zM9 35h1v1h-1zM24 35h1v1h-1zM26 35h1v1h-1zM48 35h2v1h-2zM57 35h1v1h-1zM83 35h1v1h-1zM43 36h2v1h-2zM99 36h1v1h-1zM4 37h1v1h-1zM15 37h1v1h-1zM44 37h2v1h-2zM47 37h1v1h-1zM49 37h1v1h-1zM62 37h1v1h-1zM90 37h1v1h-1zM102 37h1v1h-1zM26 38h1v1h-1zM32 38h1v1h-1zM41 38h1v1h-1zM48 38h2v1h-2zM52 38h2v1h-2zM55 38h1v1h-1zM58 38h1v1h-1zM75 38h1v1h-1zM93 38h1v1h-1zM15 39h1v1h-1zM18 39h2v1h-2zM32 39h1v1h-1zM39 39h1v1h-1zM41 39h1v1h-1zM46 39h1v1h-1zM55 39h2v1h-2zM58 39h2v1h-2zM63 39h1v1h-1zM83 39h1v1h-1zM97 39h1v1h-1zM7 40h1v1h-1zM16 40h2v1h-2zM27 40h1v1h-1zM40 40h1v1h-1zM97 40h1v1h-1zM1 41h1v1h-1zM6 41h1v1h-1zM8 41h1v1h-1zM13 41h1v1h-1zM15 41h1v1h-1zM34 41h1v1h-1zM42 41h1v1h-1zM52 41h1v1h-1zM55 41h1v1h-1zM57 41h2v1h-2zM104 41h1v1h-1z"/>
<path fill="#f7cbbc" d="M6 0h1v1h-1zM44 0h2v1h-2zM54 0h1v1h-1zM107 0h1v1h-1zM117 0h2v1h-2zM24 1h1v1h-1zM93 1h1v1h-1zM96 1h2v1h-2zM106 1h1v1h-1zM137 1h2v1h-2zM147 1h1v1h-1zM152 1h1v1h-1zM39 2h1v1h-1zM101 2h1v1h-1zM110 2h1v1h-1zM31 3h1v1h-1zM57 3h1v1h-1zM76 3h1v1h-1zM84 3h1v1h-1zM86 3h1v1h-1zM102 3h1v1h-1zM104 3h1v1h-1zM117 3h1v1h-1zM129 3h1v1h-1zM4 4h1v1h-1zM19 4h1v1h-1zM50 4h1v1h-1zM54 4h1v1h-1zM62 4h1v1h-1zM64 4h1v1h-1zM75 4h1v1h-1zM88 4h1v1h-1zM107 4h1v1h-1zM113 4h1v1h-1zM118 4h1v1h-1zM9 5h1v1h-1zM11 5h1v1h-1zM11 6h1v1h-1zM25 6h2v1h-2zM30 6h2v1h-2zM35 6h1v1h-1zM75 6h1v1h-1zM90 6h1v1h-1zM93 6h1v1h-1zM18 7h1v1h-1zM45 7h1v1h-1zM59 7h1v1h-1zM63 7h1v1h-1zM71 7h1v1h-1zM87 7h1v1h-1zM93 7h1v1h-1zM25 8h1v1h-1zM75 8h2v1h-2zM84 8h1v1h-1zM88 8h1v1h-1zM97 8h1v1h-1zM99 8h1v1h-1zM120 8h1v1h-1zM124 8h1v1h-1zM4 9h1v1h-1zM7 9h1v1h-1zM12 9h1v1h-1zM26 9h2v1h-2zM41 9h1v1h-1zM61 9h1v1h-1zM63 9h1v1h-1zM68 9h1v1h-1zM88 9h2v1h-2zM12 10h1v1h-1zM19 10h1v1h-1zM21 10h1v1h-1zM58 10h1v1h-1zM63 10h1v1h-1zM85 10h1v1h-1zM98 10h1v1h-1zM28 11h1v1h-1zM38 11h1v1h-1zM20 12h1v1h-1zM42 12h1v1h-1zM49 12h1v1h-1zM93 12h1v1h-1zM12 13h1v1h-1zM30 13h1v1h-1zM44 13h1v1h-1zM53 13h1v1h-1zM18 14h1v1h-1zM43 14h1v1h-1zM51 14h2v1h-2zM58 14h1v1h-1zM62 14h1v1h-1zM65 14h1v1h-1zM97 14h1v1h-1zM13 15h1v1h-1zM44 15h1v1h-1zM46 15h1v1h-1zM93 15h1v1h-1zM98 15h1v1h-1zM102 15h1v1h-1zM104 15h1v1h-1zM13 16h1v1h-1zM20 16h1v1h-1zM25 16h1v1h-1zM50 16h1v1h-1zM90 16h1v1h-1zM97 16h1v1h-1zM15 17h1v1h-1zM30 17h1v1h-1zM57 17h1v1h-1zM62 17h1v1h-1zM98 17h1v1h-1zM24 18h1v1h-1zM35 18h1v1h-1zM42 18h2v1h-2zM45 18h2v1h-2zM49 18h1v1h-1zM52 18h1v1h-1zM55 18h1v1h-1zM89 18h1v1h-1zM91 18h1v1h-1zM101 18h1v1h-1zM7 19h1v1h-1zM13 19h1v1h-1zM15 19h1v1h-1zM29 19h1v1h-1zM43 19h1v1h-1zM70 19h1v1h-1zM72 19h1v1h-1zM91 19h1v1h-1zM93 19h1v1h-1zM22 20h1v1h-1zM24 20h1v1h-1zM28 20h1v1h-1zM46 20h1v1h-1zM50 20h1v1h-1zM97 20h1v1h-1zM100 20h1v1h-1zM9 21h2v1h-2zM22 21h1v1h-1zM42 21h2v1h-2zM46 21h2v1h-2zM51 21h1v1h-1zM57 21h1v1h-1zM93 21h1v1h-1zM27 22h1v1h-1zM29 22h1v1h-1zM40 22h1v1h-1zM42 22h1v1h-1zM90 22h1v1h-1zM93 22h1v1h-1zM97 22h1v1h-1zM97 23h1v1h-1zM39 24h1v1h-1zM42 24h1v1h-1zM15 25h2v1h-2zM19 25h1v1h-1zM44 25h1v1h-1zM47 25h1v1h-1zM105 25h2v1h-2zM108 25h1v1h-1zM13 26h1v1h-1zM15 26h1v1h-1zM18 26h1v1h-1zM26 26h1v1h-1zM40 26h1v1h-1zM44 26h1v1h-1zM92 26h1v1h-1zM98 26h1v1h-1zM19 27h1v1h-1zM21 27h1v1h-1zM50 27h1v1h-1zM92 27h1v1h-1zM101 27h1v1h-1zM103 27h1v1h-1zM9 28h1v1h-1zM11 28h1v1h-1zM16 28h1v1h-1zM21 28h2v1h-2zM28 28h1v1h-1zM50 28h1v1h-1zM92 28h1v1h-1zM98 28h1v1h-1zM40 29h1v1h-1zM45 29h1v1h-1zM49 29h2v1h-2zM102 29h1v1h-1zM30 30h1v1h-1zM34 30h1v1h-1zM49 30h1v1h-1zM27 31h1v1h-1zM29 31h1v1h-1zM31 31h1v1h-1zM40 31h1v1h-1zM42 31h1v1h-1zM48 31h1v1h-1zM51 31h1v1h-1zM97 31h1v1h-1zM99 31h1v1h-1zM103 31h1v1h-1zM15 32h1v1h-1zM23 32h1v1h-1zM32 32h1v1h-1zM47 32h1v1h-1zM55 32h1v1h-1zM57 32h2v1h-2zM62 32h2v1h-2zM65 32h1v1h-1zM70 32h1v1h-1zM93 32h1v1h-1zM9 33h1v1h-1zM12 33h1v1h-1zM17 33h1v1h-1zM19 33h1v1h-1zM31 33h1v1h-1zM41 33h1v1h-1zM52 33h1v1h-1zM98 33h1v1h-1zM16 34h1v1h-1zM18 34h1v1h-1zM23 34h1v1h-1zM98 34h1v1h-1zM7 35h1v1h-1zM11 35h1v1h-1zM34 35h1v1h-1zM47 35h1v1h-1zM55 35h1v1h-1zM67 35h1v1h-1zM99 35h1v1h-1zM7 36h1v1h-1zM18 36h2v1h-2zM28 36h1v1h-1zM30 36h1v1h-1zM41 36h2v1h-2zM45 36h1v1h-1zM47 36h1v1h-1zM5 37h1v1h-1zM28 37h1v1h-1zM40 37h2v1h-2zM51 37h1v1h-1zM57 37h1v1h-1zM92 37h1v1h-1zM28 38h1v1h-1zM40 38h1v1h-1zM45 38h1v1h-1zM50 38h1v1h-1zM57 38h1v1h-1zM70 38h1v1h-1zM73 38h2v1h-2zM90 38h1v1h-1zM17 39h1v1h-1zM28 39h1v1h-1zM31 39h1v1h-1zM47 39h1v1h-1zM51 39h1v1h-1zM60 39h1v1h-1zM62 39h1v1h-1zM64 39h1v1h-1zM66 39h1v1h-1zM91 39h1v1h-1zM23 40h1v1h-1zM90 40h1v1h-1zM5 41h1v1h-1zM10 41h1v1h-1zM93 41h1v1h-1z"/>
<path fill="#f8c3af" d="M26 0h1v1h-1zM53 0h1v1h-1zM55 0h3v1h-3zM95 0h1v1h-1zM103 0h1v1h-1zM109 0h1v1h-1zM115 0h1v1h-1zM10 1h1v1h-1zM32 1h1v1h-1zM98 1h1v1h-1zM117 1h1v1h-1zM136 1h1v1h-1zM144 1h2v1h-2zM156 1h1v1h-1zM34 2h1v1h-1zM113 2h2v1h-2zM116 2h2v1h-2zM48 3h3v1h-3zM59 3h1v1h-1zM62 3h1v1h-1zM66 3h1v1h-1zM70 3h1v1h-1zM77 3h2v1h-2zM81 3h1v1h-1zM83 3h1v1h-1zM87 3h1v1h-1zM103 3h1v1h-1zM111 3h1v1h-1zM113 3h1v1h-1zM133 3h1v1h-1zM2 4h1v1h-1zM6 4h1v1h-1zM23 4h1v1h-1zM29 4h1v1h-1zM31 4h1v1h-1zM33 4h1v1h-1zM44 4h1v1h-1zM53 4h1v1h-1zM55 4h1v1h-1zM58 4h2v1h-2zM63 4h1v1h-1zM67 4h2v1h-2zM85 4h1v1h-1zM90 4h2v1h-2zM95 4h1v1h-1zM112 4h1v1h-1zM116 4h1v1h-1zM7 5h1v1h-1zM10 5h1v1h-1zM16 5h1v1h-1zM55 6h1v1h-1zM57 6h2v1h-2zM70 6h1v1h-1zM87 6h2v1h-2zM91 6h1v1h-1zM102 6h1v1h-1zM10 7h1v1h-1zM16 7h1v1h-1zM30 7h1v1h-1zM49 7h1v1h-1zM66 7h1v1h-1zM98 7h1v1h-1zM7 8h3v1h-3zM17 8h1v1h-1zM53 8h3v1h-3zM59 8h1v1h-1zM61 8h1v1h-1zM66 8h2v1h-2zM69 8h2v1h-2zM78 8h1v1h-1zM81 8h1v1h-1zM83 8h1v1h-1zM121 8h2v1h-2zM126 8h1v1h-1zM169 8h1v1h-1zM53 9h3v1h-3zM66 9h1v1h-1zM70 9h1v1h-1zM87 9h1v1h-1zM102 9h1v1h-1zM16 10h1v1h-1zM45 10h1v1h-1zM50 10h1v1h-1zM57 10h1v1h-1zM66 10h1v1h-1zM89 10h1v1h-1zM8 11h1v1h-1zM20 11h1v1h-1zM25 11h1v1h-1zM37 11h1v1h-1zM97 11h1v1h-1zM45 12h1v1h-1zM50 12h1v1h-1zM90 12h1v1h-1zM102 12h2v1h-2zM9 13h1v1h-1zM17 13h1v1h-1zM42 13h1v1h-1zM45 13h2v1h-2zM48 13h2v1h-2zM54 13h1v1h-1zM57 13h1v1h-1zM90 13h1v1h-1zM92 13h1v1h-1zM16 14h1v1h-1zM24 14h1v1h-1zM26 14h1v1h-1zM44 14h2v1h-2zM48 14h1v1h-1zM59 14h2v1h-2zM67 14h1v1h-1zM80 14h1v1h-1zM101 14h1v1h-1zM19 16h1v1h-1zM21 16h1v1h-1zM44 16h2v1h-2zM48 16h2v1h-2zM51 16h2v1h-2zM91 16h1v1h-1zM105 16h1v1h-1zM9 17h1v1h-1zM11 17h1v1h-1zM14 17h1v1h-1zM53 17h1v1h-1zM56 17h1v1h-1zM58 17h2v1h-2zM65 17h1v1h-1zM69 17h1v1h-1zM90 17h1v1h-1zM98 18h1v1h-1zM103 18h1v1h-1zM47 19h1v1h-1zM102 19h1v1h-1zM9 20h2v1h-2zM14 20h1v1h-1zM16 20h1v1h-1zM20 20h1v1h-1zM30 20h1v1h-1zM44 20h1v1h-1zM47 20h2v1h-2zM19 21h2v1h-2zM44 21h2v1h-2zM50 21h1v1h-1zM52 21h1v1h-1zM94 21h1v1h-1zM6 22h2v1h-2zM14 22h1v1h-1zM26 22h1v1h-1zM33 22h1v1h-1zM94 22h1v1h-1zM101 22h3v1h-3zM50 23h1v1h-1zM90 23h1v1h-1zM92 23h1v1h-1zM98 23h1v1h-1zM100 23h1v1h-1zM8 24h1v1h-1zM32 24h1v1h-1zM40 24h1v1h-1zM50 24h1v1h-1zM94 24h1v1h-1zM97 24h1v1h-1zM101 24h1v1h-1zM103 24h1v1h-1zM10 25h1v1h-1zM12 25h1v1h-1zM29 25h1v1h-1zM34 25h1v1h-1zM41 25h2v1h-2zM45 25h2v1h-2zM91 25h1v1h-1zM93 25h1v1h-1zM109 25h1v1h-1zM7 26h1v1h-1zM50 26h1v1h-1zM101 26h1v1h-1zM45 27h1v1h-1zM47 27h1v1h-1zM7 28h1v1h-1zM14 28h1v1h-1zM25 28h1v1h-1zM40 28h1v1h-1zM49 28h1v1h-1zM102 28h1v1h-1zM9 29h1v1h-1zM12 29h1v1h-1zM20 29h1v1h-1zM30 29h1v1h-1zM94 29h1v1h-1zM104 29h1v1h-1zM18 30h1v1h-1zM24 30h2v1h-2zM93 30h1v1h-1zM13 31h1v1h-1zM17 31h1v1h-1zM41 31h1v1h-1zM101 31h1v1h-1zM40 32h3v1h-3zM45 32h2v1h-2zM48 32h1v1h-1zM68 32h1v1h-1zM8 33h1v1h-1zM10 33h1v1h-1zM42 33h1v1h-1zM50 33h1v1h-1zM57 33h1v1h-1zM97 33h1v1h-1zM19 34h1v1h-1zM22 34h1v1h-1zM28 34h1v1h-1zM40 34h1v1h-1zM67 34h1v1h-1zM91 34h1v1h-1zM102 34h1v1h-1zM14 35h1v1h-1zM21 35h1v1h-1zM30 35h1v1h-1zM35 35h1v1h-1zM42 35h1v1h-1zM91 35h3v1h-3zM97 35h1v1h-1zM101 35h1v1h-1zM11 36h1v1h-1zM14 36h1v1h-1zM17 36h1v1h-1zM1 37h1v1h-1zM3 37h1v1h-1zM9 37h2v1h-2zM26 37h1v1h-1zM32 37h1v1h-1zM42 37h1v1h-1zM48 37h1v1h-1zM93 37h1v1h-1zM104 37h1v1h-1zM30 38h1v1h-1zM46 38h1v1h-1zM51 38h1v1h-1zM71 38h1v1h-1zM102 38h1v1h-1zM104 38h1v1h-1zM25 39h1v1h-1zM52 39h1v1h-1zM67 39h1v1h-1zM90 39h1v1h-1zM94 39h1v1h-1zM13 40h1v1h-1zM18 40h1v1h-1zM35 40h1v1h-1zM92 40h1v1h-1zM104 40h1v1h-1zM18 41h1v1h-1zM90 41h1v1h-1zM103 41h1v1h-1z"/>
<path fill="#f8b8a2" d="M0 0h1v1h-1zM2 0h1v1h-1zM5 0h1v1h-1zM43 0h1v1h-1zM46 0h3v1h-3zM50 0h1v1h-1zM52 0h1v1h-1zM58 0h1v1h-1zM116 0h1v1h-1zM4 1h1v1h-1zM12 1h1v1h-1zM107 1h1v1h-1zM141 1h2v1h-2zM157 1h1v1h-1zM17 2h1v1h-1zM36 2h2v1h-2zM111 2h1v1h-1zM137 2h1v1h-1zM164 2h1v1h-1zM42 3h3v1h-3zM47 3h1v1h-1zM52 3h4v1h-4zM58 3h1v1h-1zM60 3h1v1h-1zM68 3h1v1h-1zM73 3h3v1h-3zM79 3h2v1h-2zM85 3h1v1h-1zM88 3h1v1h-1zM92 3h1v1h-1zM105 3h5v1h-5zM5 4h1v1h-1zM20 4h1v1h-1zM42 4h2v1h-2zM48 4h1v1h-1zM56 4h2v1h-2zM61 4h1v1h-1zM65 4h1v1h-1zM69 4h1v1h-1zM71 4h1v1h-1zM73 4h1v1h-1zM92 4h1v1h-1zM115 4h1v1h-1zM4 6h1v1h-1zM43 6h1v1h-1zM46 6h4v1h-4zM51 6h1v1h-1zM54 6h1v1h-1zM60 6h2v1h-2zM65 6h3v1h-3zM71 6h1v1h-1zM74 6h1v1h-1zM89 6h1v1h-1zM4 7h1v1h-1zM7 7h1v1h-1zM44 7h1v1h-1zM50 7h1v1h-1zM69 7h2v1h-2zM74 7h2v1h-2zM97 7h1v1h-1zM104 7h1v1h-1zM11 8h1v1h-1zM26 8h1v1h-1zM34 8h2v1h-2zM57 8h1v1h-1zM63 8h2v1h-2zM71 8h1v1h-1zM85 8h2v1h-2zM100 8h1v1h-1zM39 9h1v1h-1zM52 9h1v1h-1zM57 9h1v1h-1zM64 9h1v1h-1zM67 9h1v1h-1zM72 9h1v1h-1zM97 9h1v1h-1zM101 9h1v1h-1zM7 10h1v1h-1zM18 10h1v1h-1zM20 10h1v1h-1zM43 10h1v1h-1zM56 10h1v1h-1zM59 10h1v1h-1zM61 10h1v1h-1zM67 10h1v1h-1zM91 10h1v1h-1zM97 10h1v1h-1zM6 11h1v1h-1zM9 11h1v1h-1zM23 11h1v1h-1zM27 11h1v1h-1zM39 11h1v1h-1zM41 11h1v1h-1zM90 11h1v1h-1zM94 11h1v1h-1zM98 11h1v1h-1zM103 11h1v1h-1zM7 12h1v1h-1zM17 12h1v1h-1zM46 12h3v1h-3zM14 13h1v1h-1zM47 13h1v1h-1zM50 13h3v1h-3zM55 13h1v1h-1zM93 13h1v1h-1zM97 13h1v1h-1zM100 13h1v1h-1zM7 14h1v1h-1zM9 14h2v1h-2zM22 14h1v1h-1zM30 14h1v1h-1zM49 14h2v1h-2zM104 14h1v1h-1zM18 15h1v1h-1zM21 15h1v1h-1zM24 15h1v1h-1zM91 15h1v1h-1zM34 16h1v1h-1zM42 16h1v1h-1zM46 16h1v1h-1zM98 16h1v1h-1zM102 16h3v1h-3zM109 16h1v1h-1zM27 17h2v1h-2zM40 17h1v1h-1zM51 17h1v1h-1zM55 17h1v1h-1zM60 17h1v1h-1zM74 17h1v1h-1zM82 17h1v1h-1zM104 17h1v1h-1zM10 18h1v1h-1zM12 18h1v1h-1zM17 18h2v1h-2zM20 18h1v1h-1zM50 18h1v1h-1zM93 18h1v1h-1zM97 18h1v1h-1zM23 19h1v1h-1zM44 19h2v1h-2zM49 19h2v1h-2zM68 19h1v1h-1zM90 19h1v1h-1zM92 19h1v1h-1zM94 19h1v1h-1zM98 19h1v1h-1zM6 20h2v1h-2zM18 20h1v1h-1zM43 20h1v1h-1zM45 20h1v1h-1zM49 20h1v1h-1zM90 20h1v1h-1zM98 20h1v1h-1zM102 20h1v1h-1zM25 21h1v1h-1zM29 21h1v1h-1zM49 21h1v1h-1zM22 22h1v1h-1zM98 22h1v1h-1zM8 23h1v1h-1zM10 23h1v1h-1zM27 23h1v1h-1zM42 23h1v1h-1zM94 23h1v1h-1zM101 23h1v1h-1zM104 23h1v1h-1zM6 24h1v1h-1zM33 24h1v1h-1zM49 24h1v1h-1zM169 24h1v1h-1zM6 25h1v1h-1zM25 25h1v1h-1zM32 25h1v1h-1zM40 25h1v1h-1zM49 25h1v1h-1zM94 25h1v1h-1zM97 25h1v1h-1zM104 25h1v1h-1zM27 26h1v1h-1zM94 26h1v1h-1zM97 26h1v1h-1zM102 26h1v1h-1zM10 27h1v1h-1zM12 27h1v1h-1zM16 27h2v1h-2zM20 27h1v1h-1zM23 27h1v1h-1zM40 27h1v1h-1zM46 27h1v1h-1zM90 27h1v1h-1zM94 27h1v1h-1zM98 27h1v1h-1zM32 28h1v1h-1zM35 28h1v1h-1zM90 28h2v1h-2zM42 29h1v1h-1zM31 30h1v1h-1zM50 30h1v1h-1zM98 30h1v1h-1zM102 30h1v1h-1zM104 30h1v1h-1zM15 31h1v1h-1zM18 31h1v1h-1zM24 31h2v1h-2zM49 31h2v1h-2zM94 31h1v1h-1zM30 32h1v1h-1zM44 32h1v1h-1zM98 32h1v1h-1zM7 33h1v1h-1zM14 33h1v1h-1zM18 33h1v1h-1zM27 33h1v1h-1zM30 33h1v1h-1zM40 33h1v1h-1zM101 33h1v1h-1zM104 33h1v1h-1zM90 34h1v1h-1zM94 34h1v1h-1zM103 34h1v1h-1zM19 35h1v1h-1zM23 35h1v1h-1zM27 35h1v1h-1zM50 35h1v1h-1zM94 35h1v1h-1zM102 35h2v1h-2zM32 36h1v1h-1zM90 36h2v1h-2zM103 36h1v1h-1zM11 37h1v1h-1zM25 37h1v1h-1zM91 37h1v1h-1zM103 37h1v1h-1zM8 38h1v1h-1zM13 38h1v1h-1zM15 38h1v1h-1zM22 38h3v1h-3zM97 38h1v1h-1zM100 38h1v1h-1zM11 39h1v1h-1zM43 39h2v1h-2zM49 39h1v1h-1zM92 39h2v1h-2zM98 39h1v1h-1zM11 40h1v1h-1zM24 40h2v1h-2zM31 40h1v1h-1zM93 40h1v1h-1zM98 40h1v1h-1zM101 40h1v1h-1zM169 40h1v1h-1zM2 41h1v1h-1zM4 41h1v1h-1zM27 41h1v1h-1zM32 41h1v1h-1zM91 41h1v1h-1zM102 41h1v1h-1z"/>
<path fill="#f7ad95" d="M51 0h1v1h-1zM9 1h1v1h-1zM13 1h1v1h-1zM15 1h1v1h-1zM21 1h1v1h-1zM23 1h1v1h-1zM112 1h5v1h-5zM139 1h2v1h-2zM153 1h3v1h-3zM158 1h1v1h-1zM160 1h1v1h-1zM40 2h2v1h-2zM112 2h1v1h-1zM130 2h1v1h-1zM149 2h1v1h-1zM161 2h1v1h-1zM46 3h1v1h-1zM51 3h1v1h-1zM56 3h1v1h-1zM61 3h1v1h-1zM67 3h1v1h-1zM69 3h1v1h-1zM82 3h1v1h-1zM90 3h1v1h-1zM112 3h1v1h-1zM114 3h3v1h-3zM118 3h1v1h-1zM3 4h1v1h-1zM21 4h1v1h-1zM46 4h1v1h-1zM49 4h1v1h-1zM60 4h1v1h-1zM86 4h1v1h-1zM89 4h1v1h-1zM3 5h1v1h-1zM13 5h1v1h-1zM15 5h1v1h-1zM29 6h1v1h-1zM42 6h1v1h-1zM44 6h1v1h-1zM50 6h1v1h-1zM56 6h1v1h-1zM59 6h1v1h-1zM64 6h1v1h-1zM69 6h1v1h-1zM85 6h1v1h-1zM43 7h1v1h-1zM47 7h2v1h-2zM62 7h1v1h-1zM64 7h1v1h-1zM72 7h2v1h-2zM86 7h1v1h-1zM88 7h1v1h-1zM103 7h1v1h-1zM4 8h1v1h-1zM10 8h1v1h-1zM33 8h1v1h-1zM56 8h1v1h-1zM74 8h1v1h-1zM77 8h1v1h-1zM80 8h1v1h-1zM82 8h1v1h-1zM87 8h1v1h-1zM89 8h1v1h-1zM91 8h1v1h-1zM31 9h1v1h-1zM37 9h2v1h-2zM58 9h3v1h-3zM62 9h1v1h-1zM65 9h1v1h-1zM104 9h1v1h-1zM168 9h1v1h-1zM17 10h1v1h-1zM25 10h1v1h-1zM42 10h1v1h-1zM44 10h1v1h-1zM47 10h3v1h-3zM55 10h1v1h-1zM60 10h1v1h-1zM64 10h2v1h-2zM101 10h1v1h-1zM103 10h1v1h-1zM7 11h1v1h-1zM17 11h1v1h-1zM24 11h1v1h-1zM36 11h1v1h-1zM13 12h1v1h-1zM19 12h1v1h-1zM22 12h1v1h-1zM43 12h2v1h-2zM7 13h1v1h-1zM18 13h1v1h-1zM34 13h1v1h-1zM43 13h1v1h-1zM56 13h1v1h-1zM91 13h1v1h-1zM8 14h1v1h-1zM15 14h1v1h-1zM27 14h1v1h-1zM29 14h1v1h-1zM35 14h1v1h-1zM46 14h1v1h-1zM90 14h2v1h-2zM15 15h1v1h-1zM23 15h1v1h-1zM90 15h1v1h-1zM4 16h1v1h-1zM17 16h2v1h-2zM29 16h1v1h-1zM43 16h1v1h-1zM47 16h1v1h-1zM93 16h1v1h-1zM101 16h1v1h-1zM8 17h1v1h-1zM16 17h1v1h-1zM52 17h1v1h-1zM93 17h1v1h-1zM102 17h1v1h-1zM6 18h2v1h-2zM44 18h1v1h-1zM48 18h1v1h-1zM102 18h1v1h-1zM104 18h1v1h-1zM22 19h1v1h-1zM26 19h2v1h-2zM31 19h2v1h-2zM48 19h1v1h-1zM25 20h1v1h-1zM27 20h1v1h-1zM29 20h1v1h-1zM33 20h1v1h-1zM91 20h1v1h-1zM104 20h1v1h-1zM27 21h1v1h-1zM48 21h1v1h-1zM98 21h1v1h-1zM10 22h2v1h-2zM32 22h1v1h-1zM104 22h1v1h-1zM18 23h1v1h-1zM31 23h1v1h-1zM103 23h1v1h-1zM14 24h1v1h-1zM24 24h1v1h-1zM90 24h1v1h-1zM102 24h1v1h-1zM168 24h1v1h-1zM7 25h1v1h-1zM11 25h1v1h-1zM14 25h1v1h-1zM21 25h1v1h-1zM27 25h1v1h-1zM107 25h1v1h-1zM14 26h1v1h-1zM49 26h1v1h-1zM90 26h1v1h-1zM93 26h1v1h-1zM44 27h1v1h-1zM91 27h1v1h-1zM97 27h1v1h-1zM104 27h1v1h-1zM8 28h1v1h-1zM10 28h1v1h-1zM33 28h1v1h-1zM93 28h1v1h-1zM97 28h1v1h-1zM103 28h1v1h-1zM7 29h1v1h-1zM17 29h1v1h-1zM22 29h1v1h-1zM93 29h1v1h-1zM97 29h1v1h-1zM101 29h1v1h-1zM7 30h1v1h-1zM32 30h1v1h-1zM103 30h1v1h-1zM6 31h1v1h-1zM11 31h1v1h-1zM22 31h1v1h-1zM7 32h1v1h-1zM20 32h1v1h-1zM24 32h1v1h-1zM49 32h2v1h-2zM67 32h1v1h-1zM22 33h2v1h-2zM90 33h1v1h-1zM24 34h1v1h-1zM6 35h1v1h-1zM10 35h1v1h-1zM16 35h1v1h-1zM25 35h1v1h-1zM90 35h1v1h-1zM3 36h1v1h-1zM8 36h2v1h-2zM12 36h1v1h-1zM22 36h2v1h-2zM25 36h1v1h-1zM104 36h1v1h-1zM0 37h1v1h-1zM94 37h1v1h-1zM101 37h1v1h-1zM21 38h1v1h-1zM27 38h1v1h-1zM42 38h1v1h-1zM91 38h1v1h-1zM103 38h1v1h-1zM10 39h1v1h-1zM16 39h1v1h-1zM23 39h1v1h-1zM30 39h1v1h-1zM21 40h1v1h-1zM29 40h1v1h-1zM32 40h1v1h-1zM168 40h1v1h-1zM9 41h1v1h-1zM11 41h2v1h-2zM22 41h1v1h-1zM24 41h1v1h-1zM97 41h2v1h-2z"/>
<path fill="#f7a288" d="M3 1h1v1h-1zM6 1h1v1h-1zM8 1h1v1h-1zM16 1h2v1h-2zM22 1h1v1h-1zM94 1h1v1h-1zM100 1h1v1h-1zM143 1h1v1h-1zM159 1h1v1h-1zM1 2h1v1h-1zM103 2h4v1h-4zM108 2h1v1h-1zM115 2h1v1h-1zM118 2h1v1h-1zM127 2h1v1h-1zM143 2h1v1h-1zM148 2h1v1h-1zM156 2h2v1h-2zM65 3h1v1h-1zM72 3h1v1h-1zM89 3h1v1h-1zM22 4h1v1h-1zM51 4h2v1h-2zM70 4h1v1h-1zM72 4h1v1h-1zM87 4h1v1h-1zM12 5h1v1h-1zM10 6h1v1h-1zM33 6h1v1h-1zM62 6h1v1h-1zM68 6h1v1h-1zM72 6h2v1h-2zM81 6h1v1h-1zM101 6h1v1h-1zM6 7h1v1h-1zM29 7h1v1h-1zM60 7h2v1h-2zM67 7h2v1h-2zM84 7h2v1h-2zM89 7h2v1h-2zM94 7h1v1h-1zM101 7h1v1h-1zM51 8h2v1h-2zM58 8h1v1h-1zM60 8h1v1h-1zM68 8h1v1h-1zM72 8h2v1h-2zM90 8h1v1h-1zM93 8h2v1h-2zM101 8h2v1h-2zM168 8h1v1h-1zM40 9h1v1h-1zM51 9h1v1h-1zM56 9h1v1h-1zM69 9h1v1h-1zM73 9h1v1h-1zM91 9h1v1h-1zM94 9h1v1h-1zM24 10h1v1h-1zM26 10h1v1h-1zM51 10h1v1h-1zM94 10h1v1h-1zM12 11h1v1h-1zM18 11h1v1h-1zM29 11h2v1h-2zM40 11h1v1h-1zM93 11h1v1h-1zM101 11h1v1h-1zM21 12h1v1h-1zM24 12h1v1h-1zM30 12h1v1h-1zM94 12h1v1h-1zM3 13h1v1h-1zM19 13h2v1h-2zM25 13h2v1h-2zM35 13h1v1h-1zM58 13h1v1h-1zM104 13h1v1h-1zM17 14h1v1h-1zM34 14h1v1h-1zM94 14h1v1h-1zM98 14h1v1h-1zM102 14h1v1h-1zM6 15h1v1h-1zM30 15h1v1h-1zM103 15h1v1h-1zM15 16h1v1h-1zM23 16h1v1h-1zM26 16h2v1h-2zM107 16h2v1h-2zM25 17h1v1h-1zM54 17h1v1h-1zM91 17h1v1h-1zM101 17h1v1h-1zM8 18h1v1h-1zM16 18h1v1h-1zM30 18h1v1h-1zM94 18h1v1h-1zM9 19h1v1h-1zM20 19h1v1h-1zM28 19h1v1h-1zM101 19h1v1h-1zM103 19h1v1h-1zM23 20h1v1h-1zM101 20h1v1h-1zM103 20h1v1h-1zM11 21h1v1h-1zM26 21h1v1h-1zM32 21h1v1h-1zM12 22h1v1h-1zM9 23h1v1h-1zM14 23h1v1h-1zM24 23h1v1h-1zM28 23h1v1h-1zM34 23h1v1h-1zM102 23h1v1h-1zM9 24h1v1h-1zM22 24h1v1h-1zM93 24h1v1h-1zM22 25h1v1h-1zM50 25h1v1h-1zM102 25h1v1h-1zM6 26h1v1h-1zM29 26h1v1h-1zM35 26h1v1h-1zM104 26h1v1h-1zM30 27h1v1h-1zM34 27h1v1h-1zM93 27h1v1h-1zM6 28h1v1h-1zM26 28h2v1h-2zM104 28h1v1h-1zM6 29h1v1h-1zM8 29h1v1h-1zM21 29h1v1h-1zM35 29h1v1h-1zM90 29h1v1h-1zM103 29h1v1h-1zM1 30h1v1h-1zM17 30h1v1h-1zM27 30h1v1h-1zM101 30h1v1h-1zM7 31h1v1h-1zM21 31h1v1h-1zM30 31h1v1h-1zM91 31h1v1h-1zM93 31h1v1h-1zM104 31h1v1h-1zM1 32h1v1h-1zM25 32h1v1h-1zM27 32h1v1h-1zM103 32h2v1h-2zM21 33h1v1h-1zM34 33h1v1h-1zM91 33h1v1h-1zM93 33h1v1h-1zM17 34h1v1h-1zM25 34h1v1h-1zM30 34h2v1h-2zM8 35h1v1h-1zM29 35h1v1h-1zM21 36h1v1h-1zM29 36h1v1h-1zM34 36h1v1h-1zM93 36h1v1h-1zM97 36h2v1h-2zM102 36h1v1h-1zM2 37h1v1h-1zM8 37h1v1h-1zM19 37h1v1h-1zM23 37h1v1h-1zM27 37h1v1h-1zM34 37h1v1h-1zM12 38h1v1h-1zM14 38h1v1h-1zM29 38h1v1h-1zM34 38h2v1h-2zM94 38h1v1h-1zM98 38h1v1h-1zM1 39h1v1h-1zM7 39h1v1h-1zM14 39h1v1h-1zM21 39h1v1h-1zM29 39h1v1h-1zM42 39h1v1h-1zM45 39h1v1h-1zM48 39h1v1h-1zM50 39h1v1h-1zM102 39h1v1h-1zM1 40h1v1h-1zM22 40h1v1h-1zM28 40h1v1h-1zM91 40h1v1h-1zM23 41h1v1h-1zM29 41h2v1h-2zM94 41h1v1h-1zM101 41h1v1h-1z"/>
<path fill="#f6977b" d="M17 0h1v1h-1zM42 0h1v1h-1zM19 1h1v1h-1zM118 1h1v1h-1zM35 2h1v1h-1zM109 2h1v1h-1zM134 2h3v1h-3zM138 2h1v1h-1zM141 2h2v1h-2zM146 2h2v1h-2zM150 2h3v1h-3zM155 2h1v1h-1zM160 2h1v1h-1zM166 2h1v1h-1zM18 4h1v1h-1zM47 4h1v1h-1zM74 4h1v1h-1zM7 6h1v1h-1zM15 6h1v1h-1zM32 6h1v1h-1zM52 6h1v1h-1zM94 6h1v1h-1zM103 6h1v1h-1zM27 7h1v1h-1zM42 7h1v1h-1zM58 7h1v1h-1zM2 8h1v1h-1zM12 8h1v1h-1zM32 8h1v1h-1zM45 8h1v1h-1zM62 8h1v1h-1zM65 8h1v1h-1zM79 8h1v1h-1zM36 9h1v1h-1zM46 9h1v1h-1zM103 9h1v1h-1zM5 10h1v1h-1zM29 10h1v1h-1zM52 10h1v1h-1zM62 10h1v1h-1zM92 10h1v1h-1zM4 11h1v1h-1zM91 11h1v1h-1zM14 12h1v1h-1zM23 12h1v1h-1zM97 12h1v1h-1zM101 12h1v1h-1zM4 13h1v1h-1zM8 13h1v1h-1zM23 13h2v1h-2zM94 13h1v1h-1zM102 13h1v1h-1zM11 14h1v1h-1zM28 14h1v1h-1zM47 14h1v1h-1zM93 14h1v1h-1zM103 14h1v1h-1zM4 15h1v1h-1zM17 15h1v1h-1zM22 15h1v1h-1zM101 15h1v1h-1zM33 16h1v1h-1zM17 17h1v1h-1zM19 17h1v1h-1zM26 17h1v1h-1zM31 17h1v1h-1zM35 17h1v1h-1zM45 17h1v1h-1zM103 17h1v1h-1zM11 18h1v1h-1zM27 18h1v1h-1zM97 19h1v1h-1zM11 20h1v1h-1zM93 20h2v1h-2zM8 21h1v1h-1zM17 21h1v1h-1zM24 21h1v1h-1zM28 21h1v1h-1zM35 21h1v1h-1zM102 21h1v1h-1zM25 22h1v1h-1zM4 23h1v1h-1zM11 23h1v1h-1zM19 23h1v1h-1zM29 23h1v1h-1zM4 24h1v1h-1zM18 24h2v1h-2zM104 24h1v1h-1zM8 25h1v1h-1zM101 25h1v1h-1zM4 26h1v1h-1zM8 26h1v1h-1zM16 26h1v1h-1zM28 26h1v1h-1zM2 27h1v1h-1zM22 27h1v1h-1zM49 27h1v1h-1zM29 28h1v1h-1zM34 28h1v1h-1zM27 29h1v1h-1zM91 29h1v1h-1zM9 30h1v1h-1zM28 30h1v1h-1zM94 30h1v1h-1zM19 31h1v1h-1zM11 32h1v1h-1zM13 32h1v1h-1zM31 32h1v1h-1zM90 32h1v1h-1zM101 32h2v1h-2zM24 33h2v1h-2zM6 34h2v1h-2zM10 34h1v1h-1zM32 34h1v1h-1zM35 34h1v1h-1zM101 34h1v1h-1zM104 34h1v1h-1zM12 35h1v1h-1zM22 35h1v1h-1zM32 35h1v1h-1zM27 36h1v1h-1zM16 37h1v1h-1zM29 37h1v1h-1zM10 38h1v1h-1zM8 39h2v1h-2zM12 39h1v1h-1zM22 39h1v1h-1zM101 39h1v1h-1zM104 39h1v1h-1zM5 40h1v1h-1zM10 40h1v1h-1zM14 40h1v1h-1zM94 40h1v1h-1zM3 41h1v1h-1zM21 41h1v1h-1z"/>
<path fill="#f68c6e" d="M37 0h1v1h-1zM41 0h1v1h-1zM7 1h1v1h-1zM18 1h1v1h-1zM20 1h1v1h-1zM107 2h1v1h-1zM129 2h1v1h-1zM132 2h2v1h-2zM139 2h1v1h-1zM145 2h1v1h-1zM153 2h1v1h-1zM162 2h2v1h-2zM4 5h1v1h-1zM8 5h1v1h-1zM17 5h1v1h-1zM9 6h1v1h-1zM12 6h1v1h-1zM78 6h1v1h-1zM83 6h1v1h-1zM104 6h1v1h-1zM2 7h1v1h-1zM26 7h1v1h-1zM31 7h1v1h-1zM57 7h1v1h-1zM65 7h1v1h-1zM6 8h1v1h-1zM47 8h1v1h-1zM104 8h1v1h-1zM45 9h1v1h-1zM90 9h1v1h-1zM22 10h1v1h-1zM37 10h1v1h-1zM41 10h1v1h-1zM90 10h1v1h-1zM15 11h1v1h-1zM19 11h1v1h-1zM102 11h1v1h-1zM18 12h1v1h-1zM28 12h1v1h-1zM16 13h1v1h-1zM27 13h1v1h-1zM29 13h1v1h-1zM101 13h1v1h-1zM20 14h1v1h-1zM23 14h1v1h-1zM25 14h1v1h-1zM32 14h1v1h-1zM5 15h1v1h-1zM34 15h1v1h-1zM94 16h1v1h-1zM7 17h1v1h-1zM21 17h1v1h-1zM33 17h1v1h-1zM44 17h1v1h-1zM47 17h1v1h-1zM23 18h1v1h-1zM28 18h2v1h-2zM90 18h1v1h-1zM10 19h1v1h-1zM33 19h1v1h-1zM5 20h1v1h-1zM8 20h1v1h-1zM12 20h1v1h-1zM12 21h1v1h-1zM16 21h1v1h-1zM31 21h1v1h-1zM33 21h1v1h-1zM104 21h1v1h-1zM5 22h1v1h-1zM16 22h1v1h-1zM16 23h1v1h-1zM25 23h1v1h-1zM35 23h1v1h-1zM12 24h1v1h-1zM17 24h1v1h-1zM31 24h1v1h-1zM33 25h1v1h-1zM11 26h2v1h-2zM91 26h1v1h-1zM26 27h1v1h-1zM31 28h1v1h-1zM25 29h1v1h-1zM91 30h1v1h-1zM8 31h1v1h-1zM12 31h1v1h-1zM20 31h1v1h-1zM102 31h1v1h-1zM6 32h1v1h-1zM8 32h1v1h-1zM16 32h1v1h-1zM34 32h1v1h-1zM20 33h1v1h-1zM35 33h1v1h-1zM103 33h1v1h-1zM31 35h1v1h-1zM10 36h1v1h-1zM24 36h1v1h-1zM101 36h1v1h-1zM12 37h1v1h-1zM14 37h1v1h-1zM17 37h1v1h-1zM97 37h1v1h-1zM1 38h1v1h-1zM103 39h1v1h-1zM6 40h1v1h-1zM20 40h1v1h-1zM102 40h1v1h-1zM25 41h1v1h-1z"/>
<path fill="#f67f63" d="M5 1h1v1h-1zM102 2h1v1h-1zM128 2h1v1h-1zM131 2h1v1h-1zM140 2h1v1h-1zM144 2h1v1h-1zM154 2h1v1h-1zM158 2h1v1h-1zM165 2h1v1h-1zM167 2h1v1h-1zM0 4h2v1h-2zM5 5h2v1h-2zM6 6h1v1h-1zM84 6h1v1h-1zM5 7h1v1h-1zM25 7h1v1h-1zM53 7h4v1h-4zM76 7h1v1h-1zM78 7h1v1h-1zM102 7h1v1h-1zM42 8h1v1h-1zM103 8h1v1h-1zM35 9h1v1h-1zM47 9h1v1h-1zM74 9h1v1h-1zM3 10h1v1h-1zM27 10h1v1h-1zM38 10h2v1h-2zM21 11h1v1h-1zM26 11h1v1h-1zM34 11h1v1h-1zM5 12h1v1h-1zM15 12h2v1h-2zM26 12h1v1h-1zM29 12h1v1h-1zM104 12h1v1h-1zM22 13h1v1h-1zM32 13h1v1h-1zM103 13h1v1h-1zM4 14h1v1h-1zM6 14h1v1h-1zM12 14h1v1h-1zM94 15h1v1h-1zM7 16h1v1h-1zM10 16h1v1h-1zM24 16h1v1h-1zM35 16h1v1h-1zM6 17h1v1h-1zM43 17h1v1h-1zM48 17h1v1h-1zM94 17h1v1h-1zM2 18h1v1h-1zM8 19h1v1h-1zM104 19h1v1h-1zM4 20h1v1h-1zM31 20h2v1h-2zM2 21h1v1h-1zM4 21h1v1h-1zM14 21h1v1h-1zM23 21h1v1h-1zM103 21h1v1h-1zM17 22h1v1h-1zM28 22h1v1h-1zM91 22h1v1h-1zM7 23h1v1h-1zM21 23h2v1h-2zM32 23h2v1h-2zM1 24h1v1h-1zM2 25h2v1h-2zM23 25h1v1h-1zM90 25h1v1h-1zM5 26h1v1h-1zM34 26h1v1h-1zM1 27h1v1h-1zM6 27h1v1h-1zM28 27h1v1h-1zM5 28h1v1h-1zM94 28h1v1h-1zM101 28h1v1h-1zM6 30h1v1h-1zM14 30h1v1h-1zM20 30h2v1h-2zM9 31h1v1h-1zM16 31h1v1h-1zM35 31h1v1h-1zM3 32h1v1h-1zM9 32h1v1h-1zM6 33h1v1h-1zM4 34h1v1h-1zM93 34h1v1h-1zM1 35h2v1h-2zM18 37h1v1h-1zM4 38h1v1h-1zM101 38h1v1h-1zM4 39h2v1h-2zM24 39h1v1h-1zM12 40h1v1h-1zM28 41h1v1h-1z"/>
<path fill="#f67258" d="M35 0h1v1h-1zM39 0h1v1h-1zM17 4h1v1h-1zM3 6h1v1h-1zM76 6h1v1h-1zM79 6h1v1h-1zM82 6h1v1h-1zM77 7h1v1h-1zM81 7h3v1h-3zM5 8h1v1h-1zM43 8h2v1h-2zM46 8h1v1h-1zM49 8h1v1h-1zM42 9h3v1h-3zM49 9h2v1h-2zM31 10h1v1h-1zM2 11h1v1h-1zM10 11h1v1h-1zM16 11h1v1h-1zM35 11h1v1h-1zM9 12h1v1h-1zM35 12h1v1h-1zM6 13h1v1h-1zM5 14h1v1h-1zM33 14h1v1h-1zM9 15h1v1h-1zM11 15h1v1h-1zM14 15h1v1h-1zM28 15h1v1h-1zM6 16h1v1h-1zM14 16h1v1h-1zM32 16h1v1h-1zM4 17h1v1h-1zM22 17h1v1h-1zM32 17h1v1h-1zM50 17h1v1h-1zM26 18h1v1h-1zM2 19h1v1h-1zM17 19h1v1h-1zM2 20h1v1h-1zM17 20h1v1h-1zM4 22h1v1h-1zM31 22h1v1h-1zM35 22h1v1h-1zM2 23h1v1h-1zM12 23h1v1h-1zM7 24h1v1h-1zM1 25h1v1h-1zM5 25h1v1h-1zM31 25h1v1h-1zM103 25h1v1h-1zM10 26h1v1h-1zM32 26h1v1h-1zM3 27h1v1h-1zM7 27h1v1h-1zM25 27h1v1h-1zM27 27h1v1h-1zM29 27h1v1h-1zM35 27h1v1h-1zM12 28h1v1h-1zM4 29h2v1h-2zM23 29h1v1h-1zM12 30h1v1h-1zM16 30h1v1h-1zM33 30h1v1h-1zM2 31h1v1h-1zM4 31h1v1h-1zM10 31h1v1h-1zM34 31h1v1h-1zM4 32h1v1h-1zM12 32h1v1h-1zM21 32h1v1h-1zM1 33h2v1h-2zM17 35h1v1h-1zM4 36h3v1h-3zM35 36h1v1h-1zM6 38h1v1h-1zM9 38h1v1h-1zM20 38h1v1h-1zM3 40h2v1h-2zM9 40h1v1h-1zM14 41h1v1h-1z"/>
<path fill="#f5654d" d="M36 0h1v1h-1zM38 0h1v1h-1zM2 5h1v1h-1zM2 6h1v1h-1zM16 6h1v1h-1zM77 6h1v1h-1zM80 6h1v1h-1zM79 7h1v1h-1zM48 8h1v1h-1zM50 8h1v1h-1zM3 9h1v1h-1zM34 9h1v1h-1zM48 9h1v1h-1zM32 10h2v1h-2zM40 10h1v1h-1zM3 11h1v1h-1zM22 11h1v1h-1zM33 11h1v1h-1zM2 12h1v1h-1zM4 12h1v1h-1zM91 12h1v1h-1zM5 13h1v1h-1zM2 14h1v1h-1zM14 14h1v1h-1zM3 15h1v1h-1zM7 15h2v1h-2zM10 15h1v1h-1zM25 15h2v1h-2zM2 16h1v1h-1zM31 16h1v1h-1zM20 17h1v1h-1zM49 17h1v1h-1zM3 19h1v1h-1zM34 21h1v1h-1zM3 22h1v1h-1zM23 22h1v1h-1zM6 23h1v1h-1zM17 23h1v1h-1zM23 23h1v1h-1zM2 24h1v1h-1zM20 25h1v1h-1zM9 26h1v1h-1zM20 26h1v1h-1zM25 26h1v1h-1zM4 27h1v1h-1zM4 28h1v1h-1zM23 28h1v1h-1zM1 29h1v1h-1zM34 29h1v1h-1zM98 29h1v1h-1zM3 30h1v1h-1zM11 30h1v1h-1zM35 32h1v1h-1zM4 33h1v1h-1zM33 33h1v1h-1zM33 34h1v1h-1zM1 36h1v1h-1zM35 37h1v1h-1zM27 39h1v1h-1zM0 41h1v1h-1z"/>
<path fill="#f55842" d="M34 0h1v1h-1zM40 0h1v1h-1zM2 1h1v1h-1zM33 7h1v1h-1zM51 7h1v1h-1zM80 7h1v1h-1zM2 9h1v1h-1zM31 11h1v1h-1zM6 12h1v1h-1zM31 12h1v1h-1zM34 12h1v1h-1zM31 13h1v1h-1zM1 14h1v1h-1zM3 14h1v1h-1zM2 15h1v1h-1zM16 15h1v1h-1zM27 15h1v1h-1zM29 15h1v1h-1zM1 16h1v1h-1zM3 16h1v1h-1zM22 16h1v1h-1zM2 17h1v1h-1zM18 17h1v1h-1zM34 17h1v1h-1zM46 17h1v1h-1zM4 18h1v1h-1zM16 19h1v1h-1zM25 19h1v1h-1zM3 20h1v1h-1zM3 21h1v1h-1zM21 24h1v1h-1zM1 26h1v1h-1zM21 26h1v1h-1zM8 27h1v1h-1zM32 27h1v1h-1zM20 28h1v1h-1zM26 29h1v1h-1zM28 29h1v1h-1zM5 30h1v1h-1zM14 31h1v1h-1zM33 31h1v1h-1zM2 32h1v1h-1zM5 32h1v1h-1zM1 34h2v1h-2zM5 34h1v1h-1zM14 34h1v1h-1zM20 34h1v1h-1zM34 34h1v1h-1zM0 36h1v1h-1zM20 36h1v1h-1zM21 37h2v1h-2zM33 38h1v1h-1zM3 39h1v1h-1zM6 39h1v1h-1zM20 39h1v1h-1zM33 39h1v1h-1zM33 40h1v1h-1z"/>
<path fill="#f54b37" d="M159 2h1v1h-1zM32 7h1v1h-1zM1 8h1v1h-1zM16 8h1v1h-1zM6 9h1v1h-1zM35 10h2v1h-2zM10 12h1v1h-1zM12 12h1v1h-1zM25 12h1v1h-1zM33 13h1v1h-1zM31 14h1v1h-1zM9 16h1v1h-1zM16 16h1v1h-1zM3 17h1v1h-1zM23 17h2v1h-2zM31 18h1v1h-1zM4 19h1v1h-1zM14 19h1v1h-1zM1 21h1v1h-1zM0 22h1v1h-1zM2 22h1v1h-1zM5 23h1v1h-1zM4 25h1v1h-1zM2 26h1v1h-1zM33 26h1v1h-1zM2 29h2v1h-2zM2 30h1v1h-1zM8 30h1v1h-1zM1 31h1v1h-1zM3 33h1v1h-1zM21 34h1v1h-1zM33 35h1v1h-1zM20 37h1v1h-1zM5 38h1v1h-1zM0 39h1v1h-1zM20 41h1v1h-1z"/>
<path fill="#f63e2e" d="M1 0h1v1h-1zM0 1h1v1h-1zM5 6h1v1h-1zM3 7h1v1h-1zM52 7h1v1h-1zM3 8h1v1h-1zM0 10h1v1h-1zM32 11h1v1h-1zM3 12h1v1h-1zM8 12h1v1h-1zM11 12h1v1h-1zM27 12h1v1h-1zM2 13h1v1h-1zM1 15h1v1h-1zM12 15h1v1h-1zM8 16h1v1h-1zM11 16h2v1h-2zM12 17h1v1h-1zM5 18h1v1h-1zM33 18h1v1h-1zM12 19h1v1h-1zM5 21h1v1h-1zM34 22h1v1h-1zM0 23h2v1h-2zM20 23h1v1h-1zM23 24h1v1h-1zM35 24h1v1h-1zM1 28h2v1h-2zM29 29h1v1h-1zM32 29h1v1h-1zM0 30h1v1h-1zM10 30h1v1h-1zM3 31h1v1h-1zM0 32h1v1h-1zM14 32h1v1h-1zM3 34h1v1h-1zM3 35h1v1h-1zM20 35h1v1h-1zM24 37h1v1h-1zM0 38h1v1h-1zM2 38h1v1h-1zM2 39h1v1h-1zM33 41h1v1h-1z"/>
<path fill="#f73024" d="M1 9h1v1h-1zM34 10h1v1h-1zM32 15h1v1h-1zM5 17h1v1h-1zM3 18h1v1h-1zM5 19h1v1h-1zM1 22h1v1h-1zM20 24h1v1h-1zM31 26h1v1h-1zM5 27h1v1h-1zM0 28h1v1h-1zM3 28h1v1h-1zM4 30h1v1h-1zM33 36h1v1h-1zM33 37h1v1h-1zM3 38h1v1h-1z"/>
<path fill="#f8231b" d="M1 1h1v1h-1zM1 10h1v1h-1zM1 11h1v1h-1zM5 11h1v1h-1zM0 13h1v1h-1zM0 15h1v1h-1zM31 15h1v1h-1zM33 15h1v1h-1zM35 15h1v1h-1zM5 16h1v1h-1zM25 18h1v1h-1zM1 19h1v1h-1zM3 23h1v1h-1zM5 24h1v1h-1zM33 32h1v1h-1zM5 33h1v1h-1zM4 35h2v1h-2z"/>
<path fill="#f91511" d="M1 7h1v1h-1zM0 8h1v1h-1zM5 9h1v1h-1zM32 12h1v1h-1zM1 13h1v1h-1zM1 17h1v1h-1zM1 18h1v1h-1zM0 19h1v1h-1zM0 20h2v1h-2zM0 21h1v1h-1zM0 26h1v1h-1zM5 31h1v1h-1zM10 32h1v1h-1zM0 33h1v1h-1zM2 36h1v1h-1zM2 40h1v1h-1z"/>
<path fill="#fa0808" d="M0 5h2v1h-2zM0 6h2v1h-2zM0 7h1v1h-1zM0 9h1v1h-1zM0 11h1v1h-1zM0 12h2v1h-2zM33 12h1v1h-1zM0 14h1v1h-1zM0 16h1v1h-1zM0 17h1v1h-1zM0 18h1v1h-1zM32 18h1v1h-1zM11 19h1v1h-1zM0 24h1v1h-1zM3 24h1v1h-1zM34 24h1v1h-1zM0 25h1v1h-1zM3 26h1v1h-1zM0 27h1v1h-1zM31 27h1v1h-1zM33 27h1v1h-1zM0 29h1v1h-1zM31 29h1v1h-1zM33 29h1v1h-1zM0 31h1v1h-1zM0 34h1v1h-1zM0 35h1v1h-1zM0 40h1v1h-1z"/>
</g></g>
<g filter="url(#soft)"><rect x="36.0" y="302.4" width="330.6" height="228.1" fill="#e0d8ee"/>
<g transform="translate(36.00,302.40) scale(1.9447,3.0013)" shape-rendering="crispEdges">
<path fill="#0f0ffa" d="M27 2h1v1h-1zM32 2h1v1h-1zM50 2h1v1h-1zM35 5h1v1h-1zM169 5h1v1h-1zM48 6h1v1h-1zM47 7h1v1h-1zM44 8h1v1h-1zM168 8h1v1h-1zM26 9h1v1h-1zM168 9h1v1h-1zM18 11h1v1h-1zM168 12h1v1h-1zM168 13h1v1h-1zM169 17h1v1h-1zM168 32h2v1h-2zM168 33h1v1h-1zM168 40h1v1h-1zM169 46h1v1h-1zM168 47h2v1h-2zM169 62h1v1h-1zM169 63h1v1h-1zM33 69h1v1h-1zM169 69h1v1h-1z"/>
<path fill="#1f1cf9" d="M39 0h1v1h-1zM47 3h1v1h-1zM31 7h1v1h-1zM37 10h1v1h-1zM168 14h1v1h-1zM169 16h1v1h-1zM5 20h1v1h-1zM169 33h1v1h-1zM169 41h1v1h-1zM169 48h1v1h-1zM168 49h1v1h-1z"/>
<path fill="#2f28f8" d="M26 0h1v1h-1zM42 0h1v1h-1zM168 1h1v1h-1zM169 4h1v1h-1zM50 5h1v1h-1zM169 9h1v1h-1zM168 11h1v1h-1zM169 13h1v1h-1zM168 48h1v1h-1zM168 68h1v1h-1z"/>
<path fill="#3f35f7" d="M24 0h1v1h-1zM165 0h1v1h-1zM33 1h1v1h-1zM169 1h1v1h-1zM168 10h2v1h-2zM24 12h1v1h-1zM169 19h1v1h-1zM12 24h1v1h-1zM169 40h1v1h-1zM168 41h1v1h-1zM46 43h1v1h-1zM169 49h1v1h-1zM7 68h1v1h-1z"/>
<path fill="#4f41f6" d="M168 0h1v1h-1zM40 2h1v1h-1zM164 2h1v1h-1zM37 3h1v1h-1zM50 4h1v1h-1zM168 4h1v1h-1zM17 5h1v1h-1zM19 5h1v1h-1zM168 5h1v1h-1zM36 8h1v1h-1zM49 9h1v1h-1zM29 11h1v1h-1zM18 12h1v1h-1zM169 12h1v1h-1zM169 14h1v1h-1zM43 15h1v1h-1zM168 15h2v1h-2zM20 18h1v1h-1zM168 19h1v1h-1zM9 21h1v1h-1zM60 28h1v1h-1zM29 31h1v1h-1zM12 33h1v1h-1zM168 62h1v1h-1zM164 65h1v1h-1zM169 68h1v1h-1zM168 69h1v1h-1zM134 72h1v1h-1z"/>
<path fill="#5f4ef5" d="M35 0h1v1h-1zM34 2h1v1h-1zM165 3h1v1h-1zM14 7h1v1h-1zM19 7h1v1h-1zM89 8h1v1h-1zM169 8h1v1h-1zM37 9h1v1h-1zM17 10h1v1h-1zM48 15h1v1h-1zM168 16h1v1h-1zM169 18h1v1h-1zM33 21h1v1h-1zM14 22h1v1h-1zM17 23h1v1h-1zM24 23h1v1h-1zM48 35h1v1h-1zM47 41h1v1h-1zM164 66h1v1h-1zM163 67h1v1h-1zM9 68h1v1h-1z"/>
<path fill="#6c5af4" d="M50 0h1v1h-1zM19 1h1v1h-1zM27 1h1v1h-1zM41 1h1v1h-1zM49 1h1v1h-1zM41 2h1v1h-1zM163 2h1v1h-1zM22 3h1v1h-1zM39 3h1v1h-1zM168 3h1v1h-1zM32 4h1v1h-1zM34 4h1v1h-1zM33 6h2v1h-2zM40 6h1v1h-1zM37 7h1v1h-1zM42 7h1v1h-1zM45 7h1v1h-1zM50 7h1v1h-1zM28 8h1v1h-1zM30 8h1v1h-1zM29 9h1v1h-1zM41 9h1v1h-1zM48 9h1v1h-1zM169 11h1v1h-1zM97 15h1v1h-1zM97 16h1v1h-1zM101 17h1v1h-1zM47 20h1v1h-1zM10 21h1v1h-1zM57 22h1v1h-1zM18 23h1v1h-1zM33 23h1v1h-1zM9 24h1v1h-1zM28 26h1v1h-1zM42 29h1v1h-1zM55 29h1v1h-1zM8 31h1v1h-1zM40 35h1v1h-1zM94 35h1v1h-1zM168 37h1v1h-1zM36 38h1v1h-1zM168 38h2v1h-2zM40 41h1v1h-1zM151 42h1v1h-1zM31 43h1v1h-1zM68 43h1v1h-1zM27 44h1v1h-1zM168 46h1v1h-1zM28 47h1v1h-1zM152 47h1v1h-1zM4 53h1v1h-1zM28 55h1v1h-1zM77 56h1v1h-1zM151 58h1v1h-1zM41 60h1v1h-1zM148 63h1v1h-1zM1 68h1v1h-1zM4 69h1v1h-1zM39 70h1v1h-1zM136 72h1v1h-1z"/>
<path fill="#7967f3" d="M38 0h1v1h-1zM45 0h1v1h-1zM22 1h1v1h-1zM24 1h1v1h-1zM38 3h1v1h-1zM44 3h1v1h-1zM49 3h1v1h-1zM22 5h1v1h-1zM47 6h1v1h-1zM23 7h1v1h-1zM33 7h1v1h-1zM29 8h1v1h-1zM39 9h1v1h-1zM35 10h1v1h-1zM137 10h1v1h-1zM103 11h1v1h-1zM23 12h1v1h-1zM17 13h1v1h-1zM150 14h1v1h-1zM95 15h1v1h-1zM168 17h1v1h-1zM168 18h1v1h-1zM20 19h1v1h-1zM24 19h1v1h-1zM116 20h1v1h-1zM26 21h1v1h-1zM169 21h1v1h-1zM164 22h1v1h-1zM20 23h1v1h-1zM164 23h1v1h-1zM15 24h1v1h-1zM21 24h1v1h-1zM47 28h1v1h-1zM54 28h1v1h-1zM28 29h1v1h-1zM150 31h1v1h-1zM9 32h1v1h-1zM15 33h1v1h-1zM140 33h1v1h-1zM165 34h1v1h-1zM37 35h1v1h-1zM169 36h1v1h-1zM103 38h1v1h-1zM162 38h1v1h-1zM165 38h1v1h-1zM73 43h1v1h-1zM164 47h1v1h-1zM47 48h1v1h-1zM34 55h1v1h-1zM151 59h1v1h-1zM98 61h1v1h-1zM163 65h1v1h-1zM161 66h1v1h-1zM162 67h1v1h-1zM6 68h1v1h-1zM48 68h1v1h-1zM37 69h1v1h-1zM7 70h1v1h-1zM101 72h1v1h-1zM166 72h1v1h-1z"/>
<path fill="#8673f2" d="M34 0h1v1h-1zM169 0h1v1h-1zM1 1h1v1h-1zM17 1h1v1h-1zM38 1h1v1h-1zM87 2h1v1h-1zM165 2h2v1h-2zM40 3h1v1h-1zM167 3h1v1h-1zM31 4h1v1h-1zM18 5h1v1h-1zM26 5h1v1h-1zM37 5h1v1h-1zM39 5h1v1h-1zM47 5h1v1h-1zM24 6h1v1h-1zM88 6h1v1h-1zM24 7h1v1h-1zM17 8h1v1h-1zM48 8h1v1h-1zM25 9h1v1h-1zM30 9h1v1h-1zM42 9h1v1h-1zM44 11h1v1h-1zM27 12h1v1h-1zM141 12h1v1h-1zM138 13h1v1h-1zM97 14h2v1h-2zM49 15h1v1h-1zM101 15h1v1h-1zM96 17h1v1h-1zM162 17h1v1h-1zM19 18h1v1h-1zM22 20h1v1h-1zM168 20h1v1h-1zM23 21h1v1h-1zM41 21h1v1h-1zM66 22h1v1h-1zM111 22h1v1h-1zM0 23h1v1h-1zM8 23h1v1h-1zM29 23h1v1h-1zM31 23h1v1h-1zM161 23h1v1h-1zM22 24h1v1h-1zM85 24h1v1h-1zM37 28h1v1h-1zM42 28h1v1h-1zM77 28h1v1h-1zM17 30h1v1h-1zM33 30h1v1h-1zM121 30h1v1h-1zM141 30h1v1h-1zM40 31h1v1h-1zM46 32h1v1h-1zM27 33h1v1h-1zM169 34h1v1h-1zM169 35h1v1h-1zM24 36h1v1h-1zM26 37h1v1h-1zM103 37h1v1h-1zM96 39h1v1h-1zM104 39h1v1h-1zM169 39h1v1h-1zM94 40h1v1h-1zM167 42h1v1h-1zM169 42h1v1h-1zM168 43h1v1h-1zM169 44h1v1h-1zM72 45h1v1h-1zM169 45h1v1h-1zM161 46h1v1h-1zM95 48h1v1h-1zM106 48h1v1h-1zM160 48h1v1h-1zM64 49h1v1h-1zM83 49h1v1h-1zM152 49h2v1h-2zM38 51h1v1h-1zM37 52h1v1h-1zM14 56h1v1h-1zM107 56h1v1h-1zM169 59h1v1h-1zM85 60h1v1h-1zM93 61h1v1h-1zM144 61h1v1h-1zM90 62h1v1h-1zM108 62h1v1h-1zM102 63h1v1h-1zM101 65h1v1h-1zM152 65h1v1h-1zM0 67h1v1h-1zM14 69h1v1h-1zM135 70h1v1h-1zM27 71h1v1h-1zM40 71h1v1h-1zM139 72h1v1h-1zM37 73h1v1h-1zM143 73h1v1h-1zM0 74h1v1h-1zM2 74h1v1h-1zM17 74h1v1h-1zM109 74h1v1h-1zM162 75h1v1h-1z"/>
<path fill="#9380f1" d="M34 1h1v1h-1zM48 1h1v1h-1zM22 2h1v1h-1zM168 2h2v1h-2zM21 3h1v1h-1zM50 3h1v1h-1zM23 4h1v1h-1zM44 4h1v1h-1zM163 4h1v1h-1zM38 5h1v1h-1zM46 5h1v1h-1zM36 6h1v1h-1zM46 6h1v1h-1zM26 7h1v1h-1zM32 7h1v1h-1zM46 7h1v1h-1zM48 7h1v1h-1zM24 8h1v1h-1zM45 8h1v1h-1zM85 8h1v1h-1zM47 9h1v1h-1zM24 10h1v1h-1zM33 11h1v1h-1zM43 11h1v1h-1zM20 12h1v1h-1zM31 12h1v1h-1zM99 12h1v1h-1zM109 12h1v1h-1zM143 12h1v1h-1zM50 14h1v1h-1zM46 15h1v1h-1zM23 16h1v1h-1zM93 16h1v1h-1zM9 18h1v1h-1zM0 20h1v1h-1zM29 20h1v1h-1zM50 20h1v1h-1zM164 20h1v1h-1zM166 22h1v1h-1zM15 23h1v1h-1zM21 23h1v1h-1zM58 23h1v1h-1zM142 23h1v1h-1zM10 24h1v1h-1zM17 24h1v1h-1zM36 24h1v1h-1zM9 25h1v1h-1zM19 25h1v1h-1zM143 25h1v1h-1zM10 26h1v1h-1zM18 27h1v1h-1zM169 27h1v1h-1zM29 28h1v1h-1zM69 28h1v1h-1zM64 29h1v1h-1zM103 30h1v1h-1zM123 30h1v1h-1zM152 31h1v1h-1zM21 32h1v1h-1zM102 32h1v1h-1zM109 32h1v1h-1zM10 33h1v1h-1zM47 33h1v1h-1zM99 33h1v1h-1zM29 34h1v1h-1zM149 34h1v1h-1zM33 35h1v1h-1zM36 35h1v1h-1zM108 35h1v1h-1zM138 35h1v1h-1zM33 36h1v1h-1zM108 36h1v1h-1zM139 36h1v1h-1zM46 37h1v1h-1zM24 38h1v1h-1zM38 39h1v1h-1zM163 39h1v1h-1zM26 40h1v1h-1zM138 42h1v1h-1zM48 43h1v1h-1zM92 43h1v1h-1zM152 43h1v1h-1zM164 43h1v1h-1zM139 44h1v1h-1zM141 44h1v1h-1zM161 44h1v1h-1zM28 45h1v1h-1zM39 45h1v1h-1zM152 45h1v1h-1zM164 46h1v1h-1zM40 47h1v1h-1zM166 47h1v1h-1zM102 48h1v1h-1zM162 49h1v1h-1zM148 50h1v1h-1zM161 50h1v1h-1zM148 51h1v1h-1zM16 52h1v1h-1zM21 53h1v1h-1zM147 56h1v1h-1zM146 57h1v1h-1zM155 58h1v1h-1zM91 59h1v1h-1zM98 59h1v1h-1zM89 60h1v1h-1zM104 60h1v1h-1zM151 60h1v1h-1zM105 61h1v1h-1zM152 61h1v1h-1zM40 63h1v1h-1zM168 63h1v1h-1zM93 64h1v1h-1zM147 65h1v1h-1zM33 66h1v1h-1zM40 66h1v1h-1zM165 66h1v1h-1zM169 67h1v1h-1zM10 68h1v1h-1zM29 68h1v1h-1zM162 68h1v1h-1zM17 69h1v1h-1zM24 69h1v1h-1zM26 69h1v1h-1zM28 69h1v1h-1zM164 69h1v1h-1zM113 70h1v1h-1zM167 70h1v1h-1zM169 70h1v1h-1zM161 71h1v1h-1zM164 71h1v1h-1zM110 72h1v1h-1zM133 72h1v1h-1zM148 72h1v1h-1zM113 73h1v1h-1zM116 73h1v1h-1zM163 73h1v1h-1zM162 74h1v1h-1zM38 75h1v1h-1z"/>
<path fill="#a08cf0" d="M7 0h1v1h-1zM20 0h1v1h-1zM40 0h1v1h-1zM162 0h2v1h-2zM15 1h1v1h-1zM40 1h1v1h-1zM44 1h1v1h-1zM28 2h1v1h-1zM45 2h1v1h-1zM103 2h1v1h-1zM161 2h1v1h-1zM33 3h1v1h-1zM41 3h1v1h-1zM85 3h1v1h-1zM162 3h1v1h-1zM164 3h1v1h-1zM21 4h1v1h-1zM41 5h1v1h-1zM18 6h1v1h-1zM31 6h1v1h-1zM45 6h1v1h-1zM39 7h1v1h-1zM90 7h1v1h-1zM39 8h1v1h-1zM14 9h1v1h-1zM32 9h1v1h-1zM5 10h1v1h-1zM28 10h1v1h-1zM42 10h2v1h-2zM142 10h2v1h-2zM27 11h1v1h-1zM40 11h1v1h-1zM47 11h1v1h-1zM139 11h1v1h-1zM19 13h1v1h-1zM97 13h3v1h-3zM156 13h1v1h-1zM163 13h1v1h-1zM43 14h1v1h-1zM94 15h1v1h-1zM123 15h1v1h-1zM49 16h1v1h-1zM103 16h1v1h-1zM121 16h1v1h-1zM167 16h1v1h-1zM161 17h1v1h-1zM35 18h1v1h-1zM4 19h1v1h-1zM19 19h1v1h-1zM142 19h1v1h-1zM7 20h1v1h-1zM23 20h1v1h-1zM28 20h1v1h-1zM32 20h1v1h-1zM36 20h1v1h-1zM38 20h1v1h-1zM44 20h2v1h-2zM5 21h1v1h-1zM26 22h1v1h-1zM53 22h2v1h-2zM123 22h1v1h-1zM168 22h1v1h-1zM23 23h1v1h-1zM133 23h1v1h-1zM90 24h1v1h-1zM92 24h1v1h-1zM133 24h1v1h-1zM140 24h1v1h-1zM156 24h1v1h-1zM160 24h1v1h-1zM24 25h1v1h-1zM129 25h1v1h-1zM142 25h1v1h-1zM169 25h1v1h-1zM50 26h1v1h-1zM34 27h1v1h-1zM90 27h1v1h-1zM75 28h2v1h-2zM36 29h1v1h-1zM63 29h1v1h-1zM71 29h1v1h-1zM109 30h1v1h-1zM157 30h1v1h-1zM27 31h1v1h-1zM44 31h1v1h-1zM108 31h1v1h-1zM126 31h1v1h-1zM137 31h1v1h-1zM139 31h1v1h-1zM42 32h1v1h-1zM140 32h1v1h-1zM16 33h1v1h-1zM19 33h1v1h-1zM34 33h1v1h-1zM48 33h1v1h-1zM101 33h1v1h-1zM142 33h1v1h-1zM32 34h1v1h-1zM94 34h1v1h-1zM133 34h1v1h-1zM151 34h1v1h-1zM168 34h1v1h-1zM28 35h2v1h-2zM31 35h1v1h-1zM166 35h3v1h-3zM47 36h1v1h-1zM30 37h1v1h-1zM50 37h1v1h-1zM169 37h1v1h-1zM35 38h1v1h-1zM143 38h1v1h-1zM20 39h1v1h-1zM23 39h1v1h-1zM143 39h1v1h-1zM29 40h1v1h-1zM40 40h1v1h-1zM103 40h1v1h-1zM106 40h1v1h-1zM37 41h1v1h-1zM165 41h1v1h-1zM22 42h1v1h-1zM107 42h1v1h-1zM40 43h1v1h-1zM169 43h1v1h-1zM51 44h1v1h-1zM69 44h1v1h-1zM138 44h1v1h-1zM166 44h2v1h-2zM49 45h1v1h-1zM58 45h1v1h-1zM77 45h1v1h-1zM164 45h1v1h-1zM60 46h1v1h-1zM92 46h1v1h-1zM106 46h1v1h-1zM36 47h1v1h-1zM83 48h1v1h-1zM152 48h1v1h-1zM90 49h1v1h-1zM147 49h2v1h-2zM154 49h1v1h-1zM97 50h1v1h-1zM37 51h1v1h-1zM48 51h1v1h-1zM144 51h1v1h-1zM13 53h1v1h-1zM6 54h1v1h-1zM15 55h1v1h-1zM42 56h1v1h-1zM50 56h1v1h-1zM91 56h1v1h-1zM42 57h1v1h-1zM90 57h1v1h-1zM163 57h1v1h-1zM84 58h1v1h-1zM104 58h1v1h-1zM16 59h1v1h-1zM37 59h1v1h-1zM105 59h2v1h-2zM154 59h1v1h-1zM158 59h1v1h-1zM38 60h1v1h-1zM85 61h1v1h-1zM108 61h1v1h-1zM158 63h1v1h-1zM160 63h1v1h-1zM94 64h1v1h-1zM102 64h1v1h-1zM145 64h1v1h-1zM168 64h1v1h-1zM106 65h1v1h-1zM150 65h1v1h-1zM158 65h1v1h-1zM166 65h1v1h-1zM168 65h1v1h-1zM77 67h1v1h-1zM166 67h2v1h-2zM5 68h1v1h-1zM148 68h1v1h-1zM39 69h1v1h-1zM107 70h1v1h-1zM134 70h1v1h-1zM137 70h1v1h-1zM37 71h2v1h-2zM168 71h1v1h-1zM95 72h1v1h-1zM128 72h1v1h-1zM137 72h1v1h-1zM150 72h1v1h-1zM32 73h1v1h-1zM36 73h1v1h-1zM111 73h1v1h-1zM139 73h1v1h-1zM162 73h1v1h-1zM94 74h1v1h-1zM96 74h1v1h-1zM153 74h1v1h-1zM159 74h1v1h-1z"/>
<path fill="#a997f1" d="M8 0h1v1h-1zM41 0h1v1h-1zM47 0h1v1h-1zM161 0h1v1h-1zM18 1h1v1h-1zM23 1h1v1h-1zM39 1h1v1h-1zM89 1h1v1h-1zM164 1h1v1h-1zM88 2h1v1h-1zM30 3h1v1h-1zM36 3h1v1h-1zM87 3h1v1h-1zM163 3h1v1h-1zM44 5h1v1h-1zM48 5h1v1h-1zM167 5h1v1h-1zM39 6h1v1h-1zM83 6h1v1h-1zM86 6h1v1h-1zM22 7h1v1h-1zM28 7h1v1h-1zM43 7h1v1h-1zM12 8h1v1h-1zM22 8h1v1h-1zM37 8h1v1h-1zM27 9h1v1h-1zM46 9h1v1h-1zM92 9h1v1h-1zM11 10h1v1h-1zM29 10h2v1h-2zM23 11h1v1h-1zM25 11h1v1h-1zM39 11h1v1h-1zM22 12h1v1h-1zM32 12h1v1h-1zM98 12h1v1h-1zM105 12h1v1h-1zM142 12h1v1h-1zM153 12h1v1h-1zM160 12h1v1h-1zM27 13h1v1h-1zM90 13h1v1h-1zM100 13h1v1h-1zM153 13h1v1h-1zM85 14h1v1h-1zM87 14h2v1h-2zM105 14h1v1h-1zM111 14h1v1h-1zM124 14h1v1h-1zM145 14h1v1h-1zM151 14h1v1h-1zM31 15h1v1h-1zM74 15h1v1h-1zM96 15h1v1h-1zM120 15h1v1h-1zM144 15h1v1h-1zM150 15h1v1h-1zM8 16h1v1h-1zM69 16h1v1h-1zM72 16h1v1h-1zM75 16h1v1h-1zM154 16h1v1h-1zM31 17h1v1h-1zM90 17h1v1h-1zM92 17h1v1h-1zM100 17h1v1h-1zM36 18h1v1h-1zM137 18h1v1h-1zM139 18h1v1h-1zM18 19h1v1h-1zM47 19h2v1h-2zM139 19h1v1h-1zM40 20h1v1h-1zM151 20h1v1h-1zM21 21h1v1h-1zM31 21h1v1h-1zM36 21h1v1h-1zM40 21h1v1h-1zM44 21h1v1h-1zM136 21h2v1h-2zM168 21h1v1h-1zM1 22h1v1h-1zM22 22h1v1h-1zM37 22h1v1h-1zM106 22h1v1h-1zM109 22h1v1h-1zM163 22h1v1h-1zM165 22h1v1h-1zM67 23h1v1h-1zM139 23h1v1h-1zM166 23h1v1h-1zM4 24h1v1h-1zM16 24h1v1h-1zM26 24h1v1h-1zM29 24h1v1h-1zM89 24h1v1h-1zM137 24h1v1h-1zM142 24h1v1h-1zM168 24h1v1h-1zM21 25h1v1h-1zM87 25h1v1h-1zM104 25h1v1h-1zM124 25h1v1h-1zM21 26h1v1h-1zM34 26h1v1h-1zM39 26h1v1h-1zM168 26h1v1h-1zM47 27h1v1h-1zM49 27h1v1h-1zM73 27h1v1h-1zM78 27h1v1h-1zM0 28h1v1h-1zM30 28h2v1h-2zM49 28h1v1h-1zM55 28h1v1h-1zM59 28h1v1h-1zM33 29h1v1h-1zM47 29h1v1h-1zM58 29h1v1h-1zM61 29h1v1h-1zM79 29h1v1h-1zM21 30h1v1h-1zM26 30h1v1h-1zM102 30h1v1h-1zM104 30h1v1h-1zM132 30h1v1h-1zM134 30h1v1h-1zM137 30h1v1h-1zM153 30h1v1h-1zM166 30h1v1h-1zM123 31h1v1h-1zM136 31h1v1h-1zM142 31h1v1h-1zM156 31h1v1h-1zM23 32h1v1h-1zM112 32h1v1h-1zM137 32h1v1h-1zM36 33h3v1h-3zM103 33h1v1h-1zM18 34h1v1h-1zM20 34h2v1h-2zM38 34h1v1h-1zM107 34h1v1h-1zM128 34h1v1h-1zM166 34h1v1h-1zM100 35h1v1h-1zM127 35h1v1h-1zM43 36h1v1h-1zM101 36h1v1h-1zM137 36h1v1h-1zM140 36h1v1h-1zM35 37h1v1h-1zM48 37h1v1h-1zM99 37h1v1h-1zM130 37h1v1h-1zM138 37h1v1h-1zM34 38h1v1h-1zM46 38h1v1h-1zM50 38h1v1h-1zM97 38h1v1h-1zM99 38h1v1h-1zM105 38h2v1h-2zM161 38h1v1h-1zM167 38h1v1h-1zM31 39h1v1h-1zM39 39h2v1h-2zM165 39h1v1h-1zM95 40h1v1h-1zM102 40h1v1h-1zM161 40h1v1h-1zM163 40h1v1h-1zM42 41h1v1h-1zM46 41h1v1h-1zM101 41h1v1h-1zM19 42h1v1h-1zM108 42h1v1h-1zM160 42h1v1h-1zM168 42h1v1h-1zM49 43h1v1h-1zM70 43h1v1h-1zM102 43h1v1h-1zM108 43h1v1h-1zM146 43h1v1h-1zM155 43h1v1h-1zM52 44h2v1h-2zM55 44h1v1h-1zM58 44h1v1h-1zM72 44h1v1h-1zM76 44h2v1h-2zM82 44h1v1h-1zM91 44h1v1h-1zM104 44h1v1h-1zM136 44h1v1h-1zM150 44h1v1h-1zM168 44h1v1h-1zM53 45h1v1h-1zM68 45h1v1h-1zM88 45h1v1h-1zM102 45h2v1h-2zM148 45h1v1h-1zM161 45h1v1h-1zM147 46h1v1h-1zM108 47h1v1h-1zM46 48h1v1h-1zM103 48h1v1h-1zM128 48h1v1h-1zM147 48h1v1h-1zM149 48h1v1h-1zM153 48h1v1h-1zM158 49h1v1h-1zM17 50h1v1h-1zM68 50h1v1h-1zM147 50h1v1h-1zM167 50h1v1h-1zM152 51h1v1h-1zM5 52h2v1h-2zM48 52h1v1h-1zM85 52h1v1h-1zM15 53h1v1h-1zM23 54h1v1h-1zM40 54h1v1h-1zM19 55h1v1h-1zM24 55h1v1h-1zM9 56h1v1h-1zM82 56h1v1h-1zM101 56h2v1h-2zM102 57h1v1h-1zM106 57h1v1h-1zM52 58h1v1h-1zM106 58h1v1h-1zM152 58h1v1h-1zM160 58h1v1h-1zM55 59h1v1h-1zM79 59h1v1h-1zM89 59h1v1h-1zM102 59h1v1h-1zM109 59h1v1h-1zM39 60h1v1h-1zM148 60h2v1h-2zM89 61h1v1h-1zM147 61h1v1h-1zM39 62h1v1h-1zM120 62h1v1h-1zM155 62h1v1h-1zM157 62h1v1h-1zM165 62h1v1h-1zM109 63h1v1h-1zM150 63h1v1h-1zM166 63h1v1h-1zM109 64h1v1h-1zM158 64h1v1h-1zM166 64h1v1h-1zM8 65h1v1h-1zM92 65h1v1h-1zM98 65h1v1h-1zM111 65h1v1h-1zM161 65h1v1h-1zM2 66h1v1h-1zM149 66h1v1h-1zM168 66h1v1h-1zM40 67h1v1h-1zM45 67h1v1h-1zM147 67h1v1h-1zM168 67h1v1h-1zM4 68h1v1h-1zM18 68h1v1h-1zM47 68h1v1h-1zM166 68h1v1h-1zM10 69h1v1h-1zM42 69h1v1h-1zM140 69h1v1h-1zM25 70h1v1h-1zM95 70h1v1h-1zM146 70h2v1h-2zM163 70h1v1h-1zM165 70h1v1h-1zM7 71h1v1h-1zM103 71h1v1h-1zM114 71h1v1h-1zM129 71h1v1h-1zM132 71h1v1h-1zM135 71h1v1h-1zM142 71h1v1h-1zM25 72h1v1h-1zM129 72h1v1h-1zM152 72h1v1h-1zM129 73h1v1h-1zM161 73h1v1h-1zM168 73h1v1h-1zM3 74h1v1h-1zM52 74h1v1h-1zM54 74h1v1h-1zM99 74h2v1h-2zM152 74h1v1h-1zM160 74h1v1h-1zM97 75h2v1h-2zM147 75h1v1h-1z"/>
<path fill="#b2a2f2" d="M4 0h1v1h-1zM12 0h1v1h-1zM23 0h1v1h-1zM30 0h1v1h-1zM36 0h1v1h-1zM59 0h2v1h-2zM66 0h1v1h-1zM3 1h1v1h-1zM9 1h1v1h-1zM30 1h1v1h-1zM163 1h1v1h-1zM167 1h1v1h-1zM29 2h1v1h-1zM31 2h1v1h-1zM35 2h1v1h-1zM46 2h1v1h-1zM90 2h1v1h-1zM92 2h1v1h-1zM100 2h1v1h-1zM104 2h1v1h-1zM107 2h1v1h-1zM162 2h1v1h-1zM31 3h1v1h-1zM34 3h1v1h-1zM48 3h1v1h-1zM102 3h1v1h-1zM105 3h1v1h-1zM109 3h1v1h-1zM169 3h1v1h-1zM39 4h1v1h-1zM41 4h1v1h-1zM49 4h1v1h-1zM96 4h1v1h-1zM164 4h1v1h-1zM167 4h1v1h-1zM27 5h1v1h-1zM26 6h1v1h-1zM50 6h1v1h-1zM40 7h1v1h-1zM68 7h1v1h-1zM74 7h1v1h-1zM74 8h1v1h-1zM87 9h1v1h-1zM90 9h1v1h-1zM14 10h1v1h-1zM18 10h1v1h-1zM50 10h1v1h-1zM85 10h1v1h-1zM109 10h1v1h-1zM32 11h1v1h-1zM41 11h1v1h-1zM102 11h1v1h-1zM106 11h1v1h-1zM109 11h1v1h-1zM137 11h2v1h-2zM95 12h1v1h-1zM104 12h1v1h-1zM159 12h1v1h-1zM18 13h1v1h-1zM66 13h1v1h-1zM102 13h1v1h-1zM105 13h1v1h-1zM109 13h1v1h-1zM155 13h1v1h-1zM17 14h1v1h-1zM69 14h1v1h-1zM73 14h1v1h-1zM75 14h1v1h-1zM83 14h1v1h-1zM93 14h1v1h-1zM131 14h1v1h-1zM162 14h1v1h-1zM166 14h1v1h-1zM47 15h1v1h-1zM75 15h1v1h-1zM100 15h1v1h-1zM104 15h1v1h-1zM135 15h1v1h-1zM161 15h1v1h-1zM166 15h1v1h-1zM56 16h1v1h-1zM70 16h1v1h-1zM85 16h1v1h-1zM87 16h1v1h-1zM90 16h1v1h-1zM99 16h1v1h-1zM162 16h1v1h-1zM165 16h1v1h-1zM48 17h1v1h-1zM74 17h1v1h-1zM97 17h2v1h-2zM163 17h2v1h-2zM166 17h1v1h-1zM42 18h1v1h-1zM45 18h1v1h-1zM12 19h1v1h-1zM17 19h1v1h-1zM49 19h1v1h-1zM9 20h1v1h-1zM14 20h1v1h-1zM16 20h1v1h-1zM70 20h1v1h-1zM73 20h1v1h-1zM139 20h1v1h-1zM141 20h1v1h-1zM11 21h1v1h-1zM162 21h1v1h-1zM0 22h1v1h-1zM23 22h1v1h-1zM27 22h1v1h-1zM32 22h1v1h-1zM56 22h1v1h-1zM58 22h1v1h-1zM138 22h1v1h-1zM169 22h1v1h-1zM2 23h1v1h-1zM5 23h1v1h-1zM32 23h1v1h-1zM53 23h1v1h-1zM57 23h1v1h-1zM59 23h1v1h-1zM64 23h1v1h-1zM87 23h1v1h-1zM130 23h1v1h-1zM132 23h1v1h-1zM141 23h1v1h-1zM40 24h1v1h-1zM132 24h1v1h-1zM136 24h1v1h-1zM169 24h1v1h-1zM1 25h1v1h-1zM39 25h1v1h-1zM131 25h1v1h-1zM140 25h1v1h-1zM168 25h1v1h-1zM38 26h1v1h-1zM66 26h1v1h-1zM90 26h1v1h-1zM138 26h1v1h-1zM169 26h1v1h-1zM38 27h1v1h-1zM48 27h1v1h-1zM50 27h1v1h-1zM168 27h1v1h-1zM34 28h1v1h-1zM66 28h2v1h-2zM81 28h1v1h-1zM166 28h1v1h-1zM0 29h1v1h-1zM6 29h1v1h-1zM25 29h1v1h-1zM54 29h1v1h-1zM56 29h1v1h-1zM59 29h1v1h-1zM72 29h1v1h-1zM77 29h1v1h-1zM14 30h1v1h-1zM22 30h1v1h-1zM122 30h1v1h-1zM125 30h1v1h-1zM130 30h1v1h-1zM136 30h1v1h-1zM138 30h2v1h-2zM142 30h1v1h-1zM151 30h1v1h-1zM155 30h1v1h-1zM158 30h1v1h-1zM124 31h1v1h-1zM138 31h1v1h-1zM140 31h1v1h-1zM145 31h1v1h-1zM149 31h1v1h-1zM153 31h1v1h-1zM162 31h1v1h-1zM24 32h1v1h-1zM29 32h1v1h-1zM33 32h1v1h-1zM100 32h1v1h-1zM121 32h1v1h-1zM139 32h1v1h-1zM40 33h1v1h-1zM102 33h1v1h-1zM107 33h2v1h-2zM35 34h1v1h-1zM93 34h1v1h-1zM139 34h1v1h-1zM163 34h1v1h-1zM98 35h1v1h-1zM139 35h1v1h-1zM143 35h1v1h-1zM95 36h2v1h-2zM98 36h1v1h-1zM103 36h1v1h-1zM29 37h1v1h-1zM33 37h1v1h-1zM47 37h1v1h-1zM95 37h1v1h-1zM40 38h1v1h-1zM109 38h1v1h-1zM122 38h1v1h-1zM142 38h1v1h-1zM166 38h1v1h-1zM101 39h2v1h-2zM124 39h1v1h-1zM162 39h1v1h-1zM167 39h1v1h-1zM48 40h1v1h-1zM93 40h1v1h-1zM105 40h1v1h-1zM108 40h1v1h-1zM164 40h1v1h-1zM166 40h1v1h-1zM34 41h1v1h-1zM96 41h1v1h-1zM166 41h1v1h-1zM45 42h1v1h-1zM60 42h1v1h-1zM68 42h1v1h-1zM92 42h1v1h-1zM147 42h1v1h-1zM163 42h1v1h-1zM166 42h1v1h-1zM27 43h1v1h-1zM36 43h1v1h-1zM69 43h1v1h-1zM141 43h1v1h-1zM145 43h1v1h-1zM147 43h1v1h-1zM160 43h4v1h-4zM165 43h1v1h-1zM167 43h1v1h-1zM35 44h1v1h-1zM37 44h1v1h-1zM67 44h1v1h-1zM79 44h3v1h-3zM105 44h1v1h-1zM145 44h1v1h-1zM73 45h1v1h-1zM82 45h1v1h-1zM91 45h1v1h-1zM134 45h1v1h-1zM141 45h1v1h-1zM166 45h1v1h-1zM68 46h1v1h-1zM88 46h1v1h-1zM108 46h1v1h-1zM152 46h1v1h-1zM83 47h1v1h-1zM87 47h1v1h-1zM102 47h1v1h-1zM105 47h1v1h-1zM109 47h1v1h-1zM21 48h2v1h-2zM86 48h1v1h-1zM157 48h1v1h-1zM42 49h1v1h-1zM84 49h1v1h-1zM86 49h1v1h-1zM103 49h1v1h-1zM133 49h1v1h-1zM163 49h1v1h-1zM167 49h1v1h-1zM23 50h1v1h-1zM29 50h1v1h-1zM41 50h1v1h-1zM58 50h1v1h-1zM126 50h1v1h-1zM139 50h1v1h-1zM149 50h1v1h-1zM151 50h1v1h-1zM168 50h1v1h-1zM146 51h1v1h-1zM27 52h1v1h-1zM77 52h1v1h-1zM18 54h1v1h-1zM22 54h1v1h-1zM10 55h1v1h-1zM21 55h1v1h-1zM37 55h1v1h-1zM32 56h1v1h-1zM54 56h1v1h-1zM151 56h1v1h-1zM169 56h1v1h-1zM57 57h1v1h-1zM88 57h1v1h-1zM93 57h1v1h-1zM96 57h1v1h-1zM152 57h1v1h-1zM162 57h1v1h-1zM167 57h1v1h-1zM62 58h1v1h-1zM88 58h1v1h-1zM94 58h1v1h-1zM100 58h2v1h-2zM119 58h1v1h-1zM144 58h1v1h-1zM148 58h1v1h-1zM169 58h1v1h-1zM81 59h2v1h-2zM107 59h1v1h-1zM157 59h1v1h-1zM25 60h1v1h-1zM93 60h1v1h-1zM106 60h1v1h-1zM160 60h1v1h-1zM103 61h1v1h-1zM148 61h1v1h-1zM163 61h1v1h-1zM87 62h1v1h-1zM93 62h1v1h-1zM105 62h1v1h-1zM127 62h1v1h-1zM129 62h1v1h-1zM151 62h1v1h-1zM162 62h1v1h-1zM164 62h1v1h-1zM73 63h1v1h-1zM85 63h1v1h-1zM87 63h1v1h-1zM106 63h1v1h-1zM48 64h1v1h-1zM101 64h1v1h-1zM103 64h1v1h-1zM132 64h1v1h-1zM163 64h1v1h-1zM81 65h1v1h-1zM151 65h1v1h-1zM5 66h1v1h-1zM89 66h1v1h-1zM151 66h1v1h-1zM153 66h1v1h-1zM160 66h1v1h-1zM166 66h1v1h-1zM2 67h1v1h-1zM29 67h1v1h-1zM43 67h2v1h-2zM25 68h1v1h-1zM33 68h1v1h-1zM143 68h1v1h-1zM147 68h1v1h-1zM160 68h1v1h-1zM167 68h1v1h-1zM0 69h1v1h-1zM5 69h1v1h-1zM32 69h1v1h-1zM119 69h1v1h-1zM153 69h1v1h-1zM155 69h1v1h-1zM157 69h1v1h-1zM159 69h1v1h-1zM166 69h1v1h-1zM43 70h1v1h-1zM97 70h1v1h-1zM105 70h1v1h-1zM123 70h1v1h-1zM133 70h1v1h-1zM139 70h1v1h-1zM142 70h1v1h-1zM145 70h1v1h-1zM150 70h1v1h-1zM161 70h1v1h-1zM12 71h1v1h-1zM46 71h1v1h-1zM97 71h1v1h-1zM109 71h1v1h-1zM138 71h2v1h-2zM141 71h1v1h-1zM150 71h1v1h-1zM5 72h1v1h-1zM12 72h1v1h-1zM58 72h1v1h-1zM107 72h1v1h-1zM109 72h1v1h-1zM111 72h1v1h-1zM116 72h1v1h-1zM163 72h1v1h-1zM41 73h1v1h-1zM56 73h1v1h-1zM106 73h1v1h-1zM110 73h1v1h-1zM132 73h1v1h-1zM140 73h1v1h-1zM147 73h1v1h-1zM149 73h1v1h-1zM4 74h1v1h-1zM97 74h1v1h-1zM103 74h1v1h-1zM106 74h1v1h-1zM122 74h1v1h-1zM0 75h1v1h-1zM27 75h1v1h-1zM32 75h1v1h-1zM39 75h1v1h-1zM51 75h1v1h-1zM55 75h1v1h-1zM99 75h1v1h-1zM148 75h1v1h-1zM153 75h1v1h-1zM160 75h1v1h-1zM164 75h1v1h-1z"/>
<path fill="#bcacf3" d="M18 0h2v1h-2zM166 0h2v1h-2zM32 1h1v1h-1zM70 1h1v1h-1zM72 1h1v1h-1zM166 1h1v1h-1zM17 2h1v1h-1zM33 2h1v1h-1zM93 2h1v1h-1zM109 2h1v1h-1zM167 2h1v1h-1zM26 3h2v1h-2zM35 3h1v1h-1zM43 3h1v1h-1zM46 3h1v1h-1zM161 3h1v1h-1zM166 3h1v1h-1zM18 4h2v1h-2zM37 4h1v1h-1zM106 4h1v1h-1zM161 4h1v1h-1zM8 5h1v1h-1zM24 5h1v1h-1zM161 5h1v1h-1zM20 6h1v1h-1zM35 6h1v1h-1zM43 6h1v1h-1zM18 7h1v1h-1zM71 7h1v1h-1zM82 7h1v1h-1zM85 7h1v1h-1zM88 7h2v1h-2zM35 8h1v1h-1zM41 8h1v1h-1zM68 8h1v1h-1zM90 8h1v1h-1zM18 9h1v1h-1zM40 9h1v1h-1zM85 9h1v1h-1zM33 10h1v1h-1zM126 10h1v1h-1zM131 10h1v1h-1zM24 11h1v1h-1zM26 11h1v1h-1zM30 11h1v1h-1zM107 11h1v1h-1zM132 11h1v1h-1zM140 11h1v1h-1zM28 12h1v1h-1zM33 12h1v1h-1zM100 12h3v1h-3zM108 12h1v1h-1zM122 12h1v1h-1zM137 12h1v1h-1zM151 12h1v1h-1zM126 13h1v1h-1zM140 13h2v1h-2zM160 13h2v1h-2zM167 13h1v1h-1zM72 14h1v1h-1zM74 14h1v1h-1zM92 14h1v1h-1zM94 14h1v1h-1zM119 14h1v1h-1zM125 14h1v1h-1zM129 14h1v1h-1zM137 14h1v1h-1zM146 14h1v1h-1zM157 14h1v1h-1zM50 15h1v1h-1zM69 15h1v1h-1zM72 15h2v1h-2zM87 15h1v1h-1zM90 15h1v1h-1zM98 15h1v1h-1zM105 15h1v1h-1zM131 15h2v1h-2zM142 15h1v1h-1zM148 15h1v1h-1zM151 15h1v1h-1zM24 16h1v1h-1zM88 16h1v1h-1zM125 16h1v1h-1zM163 16h1v1h-1zM49 17h1v1h-1zM53 17h2v1h-2zM57 17h1v1h-1zM69 17h1v1h-1zM73 17h1v1h-1zM86 17h1v1h-1zM136 17h1v1h-1zM1 18h1v1h-1zM5 18h1v1h-1zM23 18h1v1h-1zM38 18h1v1h-1zM97 18h1v1h-1zM143 18h1v1h-1zM1 19h1v1h-1zM11 19h1v1h-1zM23 19h1v1h-1zM33 19h1v1h-1zM138 19h1v1h-1zM159 19h1v1h-1zM1 20h1v1h-1zM8 20h1v1h-1zM15 20h1v1h-1zM136 20h1v1h-1zM142 20h1v1h-1zM1 21h1v1h-1zM3 21h1v1h-1zM14 21h1v1h-1zM17 21h1v1h-1zM29 21h1v1h-1zM43 21h1v1h-1zM70 21h1v1h-1zM73 21h1v1h-1zM75 21h1v1h-1zM138 21h1v1h-1zM147 21h1v1h-1zM165 21h1v1h-1zM167 21h1v1h-1zM10 22h1v1h-1zM29 22h2v1h-2zM61 22h1v1h-1zM103 22h1v1h-1zM137 22h1v1h-1zM139 22h1v1h-1zM141 22h2v1h-2zM149 22h1v1h-1zM1 23h1v1h-1zM6 23h1v1h-1zM25 23h1v1h-1zM62 23h1v1h-1zM103 23h1v1h-1zM143 23h1v1h-1zM149 23h1v1h-1zM163 23h1v1h-1zM0 24h1v1h-1zM14 24h1v1h-1zM39 24h1v1h-1zM103 24h1v1h-1zM126 24h1v1h-1zM139 24h1v1h-1zM10 25h1v1h-1zM25 25h1v1h-1zM85 25h1v1h-1zM91 25h1v1h-1zM106 25h1v1h-1zM138 25h1v1h-1zM154 25h1v1h-1zM157 25h1v1h-1zM44 26h1v1h-1zM67 26h1v1h-1zM19 27h1v1h-1zM28 27h1v1h-1zM41 27h1v1h-1zM44 27h1v1h-1zM75 27h1v1h-1zM51 28h1v1h-1zM58 28h1v1h-1zM61 28h1v1h-1zM68 28h1v1h-1zM70 28h1v1h-1zM72 28h1v1h-1zM27 29h1v1h-1zM29 29h1v1h-1zM37 29h1v1h-1zM53 29h1v1h-1zM57 29h1v1h-1zM62 29h1v1h-1zM67 29h1v1h-1zM78 29h1v1h-1zM43 30h1v1h-1zM50 30h1v1h-1zM98 30h1v1h-1zM108 30h1v1h-1zM120 30h1v1h-1zM147 30h1v1h-1zM149 30h1v1h-1zM167 30h1v1h-1zM103 31h1v1h-1zM129 31h1v1h-1zM134 31h1v1h-1zM161 31h1v1h-1zM0 32h1v1h-1zM17 32h1v1h-1zM31 32h1v1h-1zM94 32h1v1h-1zM106 32h1v1h-1zM136 32h1v1h-1zM14 33h1v1h-1zM41 33h1v1h-1zM95 33h2v1h-2zM114 33h1v1h-1zM121 33h1v1h-1zM136 33h1v1h-1zM138 33h1v1h-1zM147 33h1v1h-1zM30 34h1v1h-1zM40 34h1v1h-1zM49 34h1v1h-1zM95 34h1v1h-1zM124 34h1v1h-1zM140 34h1v1h-1zM145 34h1v1h-1zM150 34h1v1h-1zM161 34h2v1h-2zM26 35h1v1h-1zM32 35h1v1h-1zM95 35h1v1h-1zM101 35h1v1h-1zM149 35h1v1h-1zM164 35h1v1h-1zM116 36h1v1h-1zM136 36h1v1h-1zM141 36h1v1h-1zM42 37h1v1h-1zM45 37h1v1h-1zM97 37h1v1h-1zM101 37h1v1h-1zM108 37h1v1h-1zM123 37h1v1h-1zM140 37h1v1h-1zM145 37h1v1h-1zM38 38h1v1h-1zM48 38h1v1h-1zM100 38h1v1h-1zM104 38h1v1h-1zM107 38h1v1h-1zM136 38h1v1h-1zM141 38h1v1h-1zM8 39h1v1h-1zM27 39h1v1h-1zM98 39h3v1h-3zM103 39h1v1h-1zM108 39h1v1h-1zM113 39h1v1h-1zM168 39h1v1h-1zM36 40h1v1h-1zM97 40h3v1h-3zM153 40h1v1h-1zM29 41h1v1h-1zM41 41h1v1h-1zM102 41h1v1h-1zM106 41h2v1h-2zM160 41h1v1h-1zM16 42h1v1h-1zM42 42h1v1h-1zM72 42h1v1h-1zM104 42h1v1h-1zM153 42h1v1h-1zM51 43h1v1h-1zM58 43h1v1h-1zM71 43h2v1h-2zM79 43h1v1h-1zM89 43h1v1h-1zM153 43h1v1h-1zM158 43h1v1h-1zM24 44h1v1h-1zM31 44h4v1h-4zM68 44h1v1h-1zM103 44h1v1h-1zM147 44h2v1h-2zM152 44h1v1h-1zM163 44h1v1h-1zM26 45h2v1h-2zM31 45h1v1h-1zM44 45h1v1h-1zM71 45h1v1h-1zM74 45h1v1h-1zM78 45h1v1h-1zM93 45h1v1h-1zM138 45h1v1h-1zM163 45h1v1h-1zM41 46h1v1h-1zM47 46h1v1h-1zM51 46h1v1h-1zM141 46h1v1h-1zM148 46h1v1h-1zM153 46h1v1h-1zM159 46h1v1h-1zM18 47h1v1h-1zM31 47h1v1h-1zM104 47h1v1h-1zM145 47h1v1h-1zM150 47h1v1h-1zM161 47h1v1h-1zM163 47h1v1h-1zM165 47h1v1h-1zM167 47h1v1h-1zM17 48h1v1h-1zM25 48h1v1h-1zM35 48h1v1h-1zM39 48h1v1h-1zM48 48h1v1h-1zM52 48h1v1h-1zM79 48h1v1h-1zM92 48h1v1h-1zM107 48h3v1h-3zM121 48h1v1h-1zM127 48h1v1h-1zM140 48h1v1h-1zM145 48h1v1h-1zM158 48h1v1h-1zM162 48h1v1h-1zM164 48h1v1h-1zM166 48h1v1h-1zM62 49h1v1h-1zM78 49h1v1h-1zM81 49h2v1h-2zM89 49h1v1h-1zM91 49h1v1h-1zM96 49h1v1h-1zM99 49h1v1h-1zM101 49h2v1h-2zM128 49h1v1h-1zM139 49h1v1h-1zM157 49h1v1h-1zM93 50h1v1h-1zM100 50h1v1h-1zM145 50h1v1h-1zM152 50h1v1h-1zM165 50h1v1h-1zM35 51h1v1h-1zM42 51h1v1h-1zM51 51h1v1h-1zM59 51h1v1h-1zM77 51h1v1h-1zM98 51h1v1h-1zM121 51h1v1h-1zM158 51h1v1h-1zM165 51h1v1h-1zM36 52h1v1h-1zM52 52h1v1h-1zM58 52h1v1h-1zM16 53h1v1h-1zM38 53h1v1h-1zM168 53h1v1h-1zM1 54h1v1h-1zM41 54h1v1h-1zM46 54h1v1h-1zM139 54h1v1h-1zM168 54h1v1h-1zM29 55h1v1h-1zM43 55h1v1h-1zM49 55h1v1h-1zM59 55h1v1h-1zM141 55h1v1h-1zM43 56h1v1h-1zM79 56h1v1h-1zM90 56h1v1h-1zM92 56h1v1h-1zM116 56h1v1h-1zM131 56h1v1h-1zM148 56h1v1h-1zM16 57h1v1h-1zM29 57h1v1h-1zM77 57h1v1h-1zM82 57h1v1h-1zM144 57h1v1h-1zM150 57h1v1h-1zM169 57h1v1h-1zM38 58h1v1h-1zM57 58h1v1h-1zM99 58h1v1h-1zM123 58h1v1h-1zM127 58h1v1h-1zM150 58h1v1h-1zM157 58h2v1h-2zM161 58h1v1h-1zM80 59h1v1h-1zM84 59h1v1h-1zM101 59h1v1h-1zM104 59h1v1h-1zM144 59h5v1h-5zM150 59h1v1h-1zM159 59h1v1h-1zM161 59h1v1h-1zM87 60h1v1h-1zM91 60h1v1h-1zM94 60h1v1h-1zM99 60h1v1h-1zM101 60h1v1h-1zM10 61h1v1h-1zM36 61h3v1h-3zM90 61h1v1h-1zM94 61h3v1h-3zM99 61h2v1h-2zM102 61h1v1h-1zM89 62h1v1h-1zM97 62h1v1h-1zM103 62h1v1h-1zM134 62h2v1h-2zM145 62h2v1h-2zM148 62h1v1h-1zM159 62h1v1h-1zM163 62h1v1h-1zM166 62h1v1h-1zM68 63h1v1h-1zM93 63h1v1h-1zM107 63h1v1h-1zM145 63h2v1h-2zM149 63h1v1h-1zM156 63h1v1h-1zM161 63h1v1h-1zM74 64h1v1h-1zM144 64h1v1h-1zM146 64h1v1h-1zM151 64h1v1h-1zM36 65h1v1h-1zM71 65h1v1h-1zM100 65h1v1h-1zM109 65h1v1h-1zM134 65h2v1h-2zM162 65h1v1h-1zM169 65h1v1h-1zM36 66h1v1h-1zM50 67h1v1h-1zM82 67h1v1h-1zM109 67h1v1h-1zM144 67h1v1h-1zM150 67h1v1h-1zM158 67h1v1h-1zM164 67h2v1h-2zM144 68h1v1h-1zM151 68h1v1h-1zM154 68h2v1h-2zM163 68h1v1h-1zM6 69h1v1h-1zM15 69h2v1h-2zM30 69h1v1h-1zM43 69h1v1h-1zM45 69h1v1h-1zM120 69h1v1h-1zM145 69h1v1h-1zM160 69h1v1h-1zM94 70h1v1h-1zM98 70h2v1h-2zM104 70h1v1h-1zM106 70h1v1h-1zM130 70h1v1h-1zM154 70h1v1h-1zM164 70h1v1h-1zM1 71h1v1h-1zM105 71h1v1h-1zM108 71h1v1h-1zM136 71h1v1h-1zM147 71h1v1h-1zM166 71h1v1h-1zM41 72h1v1h-1zM115 72h1v1h-1zM131 72h1v1h-1zM144 72h1v1h-1zM147 72h1v1h-1zM164 72h1v1h-1zM168 72h1v1h-1zM28 73h1v1h-1zM119 73h1v1h-1zM135 73h1v1h-1zM164 73h1v1h-1zM166 73h1v1h-1zM34 74h1v1h-1zM49 74h1v1h-1zM80 74h1v1h-1zM114 74h1v1h-1zM119 74h1v1h-1zM145 74h1v1h-1zM7 75h1v1h-1zM24 75h1v1h-1zM33 75h1v1h-1zM57 75h1v1h-1zM107 75h1v1h-1zM122 75h1v1h-1zM152 75h1v1h-1zM161 75h1v1h-1zM166 75h1v1h-1z"/>
<path fill="#c5b7f4" d="M6 0h1v1h-1zM10 0h1v1h-1zM14 0h2v1h-2zM28 0h1v1h-1zM37 0h1v1h-1zM46 0h1v1h-1zM48 0h1v1h-1zM70 0h1v1h-1zM88 0h1v1h-1zM12 1h1v1h-1zM31 1h1v1h-1zM50 1h1v1h-1zM58 1h1v1h-1zM62 1h1v1h-1zM64 1h1v1h-1zM161 1h2v1h-2zM30 2h1v1h-1zM49 2h1v1h-1zM94 2h1v1h-1zM29 3h1v1h-1zM32 3h1v1h-1zM42 3h1v1h-1zM89 3h1v1h-1zM103 3h1v1h-1zM17 4h1v1h-1zM26 4h1v1h-1zM165 4h1v1h-1zM165 5h1v1h-1zM17 6h1v1h-1zM19 6h1v1h-1zM21 6h1v1h-1zM30 6h1v1h-1zM73 6h1v1h-1zM99 6h1v1h-1zM15 7h1v1h-1zM30 7h1v1h-1zM38 7h1v1h-1zM91 7h1v1h-1zM100 7h1v1h-1zM169 7h1v1h-1zM49 8h1v1h-1zM86 8h1v1h-1zM88 8h1v1h-1zM19 9h1v1h-1zM22 9h1v1h-1zM35 9h1v1h-1zM74 9h1v1h-1zM89 9h1v1h-1zM8 10h1v1h-1zM23 10h1v1h-1zM44 10h1v1h-1zM47 10h3v1h-3zM88 10h1v1h-1zM120 10h1v1h-1zM127 10h1v1h-1zM135 10h1v1h-1zM141 10h1v1h-1zM14 11h1v1h-1zM34 11h2v1h-2zM37 11h1v1h-1zM46 11h1v1h-1zM50 11h1v1h-1zM104 11h2v1h-2zM108 11h1v1h-1zM120 11h2v1h-2zM133 11h1v1h-1zM136 11h1v1h-1zM17 12h1v1h-1zM91 12h1v1h-1zM103 12h1v1h-1zM140 12h1v1h-1zM144 12h1v1h-1zM155 12h1v1h-1zM157 12h1v1h-1zM20 13h1v1h-1zM23 13h1v1h-1zM26 13h1v1h-1zM48 13h1v1h-1zM94 13h1v1h-1zM103 13h1v1h-1zM133 13h1v1h-1zM142 13h1v1h-1zM157 13h1v1h-1zM159 13h1v1h-1zM164 13h1v1h-1zM166 13h1v1h-1zM48 14h1v1h-1zM86 14h1v1h-1zM96 14h1v1h-1zM99 14h1v1h-1zM109 14h2v1h-2zM121 14h1v1h-1zM139 14h1v1h-1zM144 14h1v1h-1zM149 14h1v1h-1zM163 14h1v1h-1zM76 15h1v1h-1zM92 15h1v1h-1zM119 15h1v1h-1zM125 15h2v1h-2zM145 15h1v1h-1zM16 16h1v1h-1zM48 16h1v1h-1zM53 16h1v1h-1zM73 16h1v1h-1zM89 16h1v1h-1zM91 16h1v1h-1zM94 16h1v1h-1zM96 16h1v1h-1zM119 16h1v1h-1zM124 16h1v1h-1zM139 16h1v1h-1zM142 16h1v1h-1zM166 16h1v1h-1zM40 17h1v1h-1zM70 17h1v1h-1zM75 17h1v1h-1zM91 17h1v1h-1zM99 17h1v1h-1zM123 17h1v1h-1zM125 17h1v1h-1zM165 17h1v1h-1zM16 18h2v1h-2zM43 18h1v1h-1zM157 18h1v1h-1zM21 19h1v1h-1zM45 19h1v1h-1zM50 19h1v1h-1zM137 19h1v1h-1zM3 20h1v1h-1zM6 20h1v1h-1zM27 20h1v1h-1zM68 20h1v1h-1zM71 20h1v1h-1zM75 20h1v1h-1zM115 20h1v1h-1zM117 20h1v1h-1zM147 20h1v1h-1zM4 21h1v1h-1zM6 21h1v1h-1zM16 21h1v1h-1zM46 21h1v1h-1zM116 21h1v1h-1zM142 21h2v1h-2zM164 21h1v1h-1zM166 21h1v1h-1zM11 22h2v1h-2zM15 22h1v1h-1zM18 22h1v1h-1zM21 22h1v1h-1zM25 22h1v1h-1zM28 22h1v1h-1zM31 22h1v1h-1zM59 22h1v1h-1zM62 22h1v1h-1zM90 22h1v1h-1zM97 22h1v1h-1zM133 22h1v1h-1zM143 22h1v1h-1zM167 22h1v1h-1zM3 23h1v1h-1zM26 23h1v1h-1zM118 23h1v1h-1zM122 23h1v1h-1zM148 23h1v1h-1zM160 23h1v1h-1zM35 24h1v1h-1zM120 24h1v1h-1zM141 24h1v1h-1zM157 24h1v1h-1zM7 25h1v1h-1zM79 25h1v1h-1zM132 25h1v1h-1zM139 25h1v1h-1zM159 25h2v1h-2zM165 25h1v1h-1zM26 26h1v1h-1zM58 26h1v1h-1zM89 26h1v1h-1zM23 27h1v1h-1zM35 27h2v1h-2zM54 27h1v1h-1zM138 27h1v1h-1zM166 27h1v1h-1zM5 28h1v1h-1zM56 28h1v1h-1zM63 28h1v1h-1zM71 28h1v1h-1zM78 28h1v1h-1zM84 28h1v1h-1zM128 28h2v1h-2zM26 29h1v1h-1zM52 29h1v1h-1zM60 29h1v1h-1zM65 29h1v1h-1zM70 29h1v1h-1zM73 29h1v1h-1zM135 29h1v1h-1zM44 30h1v1h-1zM94 30h1v1h-1zM106 30h2v1h-2zM124 30h1v1h-1zM128 30h2v1h-2zM161 30h1v1h-1zM163 30h2v1h-2zM18 31h1v1h-1zM49 31h1v1h-1zM102 31h1v1h-1zM104 31h1v1h-1zM106 31h1v1h-1zM119 31h2v1h-2zM125 31h1v1h-1zM148 31h1v1h-1zM151 31h1v1h-1zM154 31h1v1h-1zM157 31h1v1h-1zM160 31h1v1h-1zM164 31h1v1h-1zM20 32h1v1h-1zM43 32h1v1h-1zM103 32h1v1h-1zM138 32h1v1h-1zM30 33h1v1h-1zM97 33h1v1h-1zM112 33h1v1h-1zM133 33h1v1h-1zM141 33h1v1h-1zM145 33h1v1h-1zM9 34h1v1h-1zM31 34h1v1h-1zM43 34h1v1h-1zM48 34h1v1h-1zM97 34h2v1h-2zM105 34h2v1h-2zM121 34h1v1h-1zM126 34h1v1h-1zM129 34h1v1h-1zM132 34h1v1h-1zM138 34h1v1h-1zM164 34h1v1h-1zM39 35h1v1h-1zM44 35h1v1h-1zM106 35h2v1h-2zM122 35h2v1h-2zM128 35h1v1h-1zM150 35h1v1h-1zM161 35h3v1h-3zM165 35h1v1h-1zM34 36h1v1h-1zM42 36h1v1h-1zM97 36h1v1h-1zM100 36h1v1h-1zM104 36h2v1h-2zM135 36h1v1h-1zM168 36h1v1h-1zM14 37h1v1h-1zM100 37h1v1h-1zM109 37h1v1h-1zM114 37h1v1h-1zM128 37h1v1h-1zM143 37h1v1h-1zM26 38h1v1h-1zM43 38h1v1h-1zM123 38h1v1h-1zM137 38h1v1h-1zM163 38h1v1h-1zM16 39h2v1h-2zM32 39h1v1h-1zM44 39h1v1h-1zM93 39h1v1h-1zM95 39h1v1h-1zM114 39h1v1h-1zM132 39h1v1h-1zM138 39h1v1h-1zM28 40h1v1h-1zM30 40h1v1h-1zM39 40h1v1h-1zM44 40h1v1h-1zM104 40h1v1h-1zM107 40h1v1h-1zM109 40h1v1h-1zM154 40h1v1h-1zM158 40h1v1h-1zM84 41h1v1h-1zM93 41h1v1h-1zM167 41h1v1h-1zM47 42h1v1h-1zM55 42h1v1h-1zM74 42h2v1h-2zM88 42h1v1h-1zM127 42h1v1h-1zM142 42h1v1h-1zM162 42h1v1h-1zM20 43h1v1h-1zM54 43h1v1h-1zM57 43h1v1h-1zM74 43h1v1h-1zM86 43h1v1h-1zM90 43h2v1h-2zM127 43h1v1h-1zM140 43h1v1h-1zM166 43h1v1h-1zM26 44h1v1h-1zM75 44h1v1h-1zM84 44h1v1h-1zM109 44h1v1h-1zM151 44h1v1h-1zM55 45h1v1h-1zM57 45h1v1h-1zM64 45h1v1h-1zM83 45h1v1h-1zM89 45h1v1h-1zM99 45h1v1h-1zM109 45h1v1h-1zM145 45h1v1h-1zM165 45h1v1h-1zM167 45h2v1h-2zM55 46h1v1h-1zM59 46h1v1h-1zM85 46h1v1h-1zM107 46h1v1h-1zM138 46h1v1h-1zM140 46h1v1h-1zM163 46h1v1h-1zM35 47h1v1h-1zM70 47h2v1h-2zM73 47h1v1h-1zM90 47h1v1h-1zM92 47h1v1h-1zM106 47h1v1h-1zM136 47h1v1h-1zM60 48h1v1h-1zM73 48h1v1h-1zM87 48h1v1h-1zM90 48h2v1h-2zM148 48h1v1h-1zM165 48h1v1h-1zM48 49h1v1h-1zM69 49h1v1h-1zM77 49h1v1h-1zM106 49h2v1h-2zM123 49h1v1h-1zM140 49h1v1h-1zM149 49h1v1h-1zM155 49h1v1h-1zM159 49h3v1h-3zM38 50h1v1h-1zM61 50h1v1h-1zM64 50h1v1h-1zM72 50h1v1h-1zM95 50h1v1h-1zM129 50h1v1h-1zM132 50h2v1h-2zM141 50h1v1h-1zM150 50h1v1h-1zM155 50h1v1h-1zM54 51h1v1h-1zM58 51h1v1h-1zM64 51h1v1h-1zM79 51h1v1h-1zM86 51h1v1h-1zM101 51h1v1h-1zM109 51h1v1h-1zM125 51h1v1h-1zM160 51h1v1h-1zM166 51h1v1h-1zM168 51h1v1h-1zM25 52h1v1h-1zM45 52h1v1h-1zM29 53h1v1h-1zM99 53h1v1h-1zM37 54h1v1h-1zM48 54h1v1h-1zM60 54h1v1h-1zM70 54h1v1h-1zM107 54h1v1h-1zM153 54h1v1h-1zM1 55h1v1h-1zM14 55h1v1h-1zM27 56h1v1h-1zM36 56h1v1h-1zM80 56h1v1h-1zM99 56h1v1h-1zM104 56h1v1h-1zM149 56h1v1h-1zM165 56h2v1h-2zM34 57h2v1h-2zM80 57h1v1h-1zM89 57h1v1h-1zM103 57h1v1h-1zM105 57h1v1h-1zM107 57h1v1h-1zM145 57h1v1h-1zM149 57h1v1h-1zM151 57h1v1h-1zM166 57h1v1h-1zM76 58h1v1h-1zM80 58h1v1h-1zM85 58h1v1h-1zM90 58h1v1h-1zM93 58h1v1h-1zM102 58h1v1h-1zM131 58h1v1h-1zM149 58h1v1h-1zM153 58h2v1h-2zM15 59h1v1h-1zM38 59h2v1h-2zM52 59h1v1h-1zM87 59h1v1h-1zM92 59h1v1h-1zM99 59h2v1h-2zM127 59h1v1h-1zM130 59h1v1h-1zM149 59h1v1h-1zM152 59h1v1h-1zM166 59h1v1h-1zM36 60h1v1h-1zM92 60h1v1h-1zM96 60h1v1h-1zM105 60h1v1h-1zM107 60h1v1h-1zM119 60h1v1h-1zM146 60h1v1h-1zM152 60h1v1h-1zM159 60h1v1h-1zM30 61h1v1h-1zM34 61h2v1h-2zM49 61h2v1h-2zM87 61h1v1h-1zM124 61h1v1h-1zM157 61h1v1h-1zM36 62h1v1h-1zM88 62h1v1h-1zM102 62h1v1h-1zM154 62h1v1h-1zM89 63h1v1h-1zM104 63h1v1h-1zM133 63h1v1h-1zM163 63h1v1h-1zM77 64h1v1h-1zM91 64h1v1h-1zM99 64h1v1h-1zM106 64h1v1h-1zM108 64h1v1h-1zM133 64h1v1h-1zM148 64h1v1h-1zM152 64h1v1h-1zM159 64h1v1h-1zM161 64h1v1h-1zM38 65h1v1h-1zM74 65h1v1h-1zM77 65h1v1h-1zM83 65h1v1h-1zM129 65h1v1h-1zM131 65h1v1h-1zM156 65h2v1h-2zM159 65h1v1h-1zM165 65h1v1h-1zM37 66h1v1h-1zM42 66h2v1h-2zM87 66h1v1h-1zM125 66h1v1h-1zM157 66h2v1h-2zM163 66h1v1h-1zM167 66h1v1h-1zM169 66h1v1h-1zM49 67h1v1h-1zM76 67h1v1h-1zM105 67h1v1h-1zM161 67h1v1h-1zM3 68h1v1h-1zM46 68h1v1h-1zM80 68h1v1h-1zM125 68h1v1h-1zM138 68h1v1h-1zM149 68h2v1h-2zM164 68h1v1h-1zM29 69h1v1h-1zM38 69h1v1h-1zM103 69h1v1h-1zM149 69h2v1h-2zM152 69h1v1h-1zM2 70h1v1h-1zM26 70h1v1h-1zM29 70h1v1h-1zM93 70h1v1h-1zM100 70h3v1h-3zM125 70h1v1h-1zM129 70h1v1h-1zM131 70h2v1h-2zM141 70h1v1h-1zM151 70h1v1h-1zM166 70h1v1h-1zM41 71h1v1h-1zM95 71h1v1h-1zM117 71h1v1h-1zM127 71h1v1h-1zM131 71h1v1h-1zM145 71h1v1h-1zM154 71h1v1h-1zM157 71h1v1h-1zM163 71h1v1h-1zM167 71h1v1h-1zM169 71h1v1h-1zM52 72h1v1h-1zM94 72h1v1h-1zM102 72h1v1h-1zM105 72h1v1h-1zM117 72h1v1h-1zM130 72h1v1h-1zM132 72h1v1h-1zM138 72h1v1h-1zM141 72h1v1h-1zM145 72h2v1h-2zM159 72h1v1h-1zM162 72h1v1h-1zM10 73h1v1h-1zM22 73h1v1h-1zM34 73h1v1h-1zM94 73h1v1h-1zM97 73h1v1h-1zM99 73h1v1h-1zM101 73h1v1h-1zM133 73h1v1h-1zM142 73h1v1h-1zM144 73h1v1h-1zM160 73h1v1h-1zM169 73h1v1h-1zM1 74h1v1h-1zM53 74h1v1h-1zM55 74h1v1h-1zM81 74h2v1h-2zM105 74h1v1h-1zM108 74h1v1h-1zM112 74h2v1h-2zM126 74h1v1h-1zM154 74h1v1h-1zM161 74h1v1h-1zM165 74h2v1h-2zM1 75h1v1h-1zM37 75h1v1h-1zM58 75h1v1h-1zM67 75h1v1h-1zM80 75h2v1h-2zM91 75h1v1h-1zM96 75h1v1h-1zM115 75h1v1h-1zM131 75h1v1h-1zM144 75h1v1h-1zM154 75h1v1h-1zM156 75h1v1h-1zM159 75h1v1h-1zM167 75h1v1h-1z"/>
<path fill="#cec2f5" d="M13 0h1v1h-1zM22 0h1v1h-1zM25 0h1v1h-1zM43 0h1v1h-1zM49 0h1v1h-1zM65 0h1v1h-1zM85 0h1v1h-1zM90 0h1v1h-1zM5 1h1v1h-1zM36 1h1v1h-1zM165 1h1v1h-1zM44 2h1v1h-1zM47 2h1v1h-1zM83 2h1v1h-1zM85 2h2v1h-2zM89 2h1v1h-1zM105 2h1v1h-1zM24 3h2v1h-2zM96 3h1v1h-1zM104 3h1v1h-1zM29 4h1v1h-1zM21 5h1v1h-1zM23 5h1v1h-1zM29 5h1v1h-1zM43 5h1v1h-1zM98 5h2v1h-2zM162 5h1v1h-1zM12 6h1v1h-1zM44 6h1v1h-1zM76 6h3v1h-3zM80 6h1v1h-1zM87 6h1v1h-1zM89 6h1v1h-1zM98 6h1v1h-1zM138 6h1v1h-1zM12 7h1v1h-1zM27 7h1v1h-1zM29 7h1v1h-1zM49 7h1v1h-1zM79 7h1v1h-1zM86 7h1v1h-1zM8 8h1v1h-1zM18 8h1v1h-1zM31 8h2v1h-2zM69 8h1v1h-1zM73 8h1v1h-1zM77 8h1v1h-1zM82 8h1v1h-1zM8 9h1v1h-1zM20 9h1v1h-1zM23 9h1v1h-1zM34 9h1v1h-1zM98 9h1v1h-1zM3 10h1v1h-1zM10 10h1v1h-1zM32 10h1v1h-1zM41 10h1v1h-1zM45 10h1v1h-1zM105 10h1v1h-1zM129 10h1v1h-1zM136 10h1v1h-1zM8 11h1v1h-1zM75 11h1v1h-1zM126 11h1v1h-1zM131 11h1v1h-1zM142 11h1v1h-1zM21 12h1v1h-1zM39 12h1v1h-1zM47 12h1v1h-1zM64 12h1v1h-1zM80 12h1v1h-1zM87 12h1v1h-1zM89 12h1v1h-1zM94 12h1v1h-1zM120 12h1v1h-1zM139 12h1v1h-1zM146 12h1v1h-1zM149 12h1v1h-1zM24 13h1v1h-1zM49 13h1v1h-1zM81 13h1v1h-1zM121 13h1v1h-1zM125 13h1v1h-1zM139 13h1v1h-1zM143 13h1v1h-1zM145 13h1v1h-1zM66 14h1v1h-1zM70 14h1v1h-1zM82 14h1v1h-1zM95 14h1v1h-1zM100 14h1v1h-1zM103 14h1v1h-1zM133 14h1v1h-1zM143 14h1v1h-1zM148 14h1v1h-1zM165 14h1v1h-1zM167 14h1v1h-1zM71 15h1v1h-1zM77 15h1v1h-1zM80 15h1v1h-1zM85 15h1v1h-1zM91 15h1v1h-1zM103 15h1v1h-1zM134 15h1v1h-1zM139 15h1v1h-1zM143 15h1v1h-1zM147 15h1v1h-1zM153 15h1v1h-1zM155 15h1v1h-1zM160 15h1v1h-1zM165 15h1v1h-1zM9 16h1v1h-1zM28 16h1v1h-1zM52 16h1v1h-1zM57 16h1v1h-1zM60 16h1v1h-1zM74 16h1v1h-1zM92 16h1v1h-1zM137 16h1v1h-1zM156 16h2v1h-2zM50 17h1v1h-1zM68 17h1v1h-1zM71 17h1v1h-1zM85 17h1v1h-1zM93 17h1v1h-1zM95 17h1v1h-1zM121 17h1v1h-1zM124 17h1v1h-1zM126 17h1v1h-1zM140 17h1v1h-1zM147 17h1v1h-1zM156 17h1v1h-1zM0 18h1v1h-1zM6 18h1v1h-1zM15 18h1v1h-1zM41 18h1v1h-1zM103 18h1v1h-1zM138 18h1v1h-1zM141 18h1v1h-1zM6 19h1v1h-1zM9 19h1v1h-1zM31 19h1v1h-1zM44 19h1v1h-1zM98 19h1v1h-1zM140 19h1v1h-1zM156 19h1v1h-1zM158 19h1v1h-1zM160 19h1v1h-1zM2 20h1v1h-1zM4 20h1v1h-1zM12 20h1v1h-1zM43 20h1v1h-1zM46 20h1v1h-1zM143 20h1v1h-1zM152 20h1v1h-1zM162 20h1v1h-1zM169 20h1v1h-1zM8 21h1v1h-1zM13 21h1v1h-1zM28 21h1v1h-1zM48 21h2v1h-2zM68 21h1v1h-1zM74 21h1v1h-1zM97 21h1v1h-1zM103 21h1v1h-1zM141 21h1v1h-1zM148 21h1v1h-1zM151 21h2v1h-2zM5 22h1v1h-1zM20 22h1v1h-1zM60 22h1v1h-1zM116 22h1v1h-1zM131 22h1v1h-1zM136 22h1v1h-1zM160 22h1v1h-1zM162 22h1v1h-1zM9 23h1v1h-1zM14 23h1v1h-1zM28 23h1v1h-1zM42 23h1v1h-1zM51 23h1v1h-1zM54 23h1v1h-1zM63 23h1v1h-1zM89 23h2v1h-2zM109 23h1v1h-1zM131 23h1v1h-1zM134 23h1v1h-1zM140 23h1v1h-1zM167 23h2v1h-2zM2 24h1v1h-1zM6 24h1v1h-1zM20 24h1v1h-1zM24 24h1v1h-1zM99 24h1v1h-1zM108 24h1v1h-1zM121 24h1v1h-1zM124 24h1v1h-1zM143 24h1v1h-1zM154 24h1v1h-1zM158 24h2v1h-2zM5 25h1v1h-1zM11 25h1v1h-1zM14 25h1v1h-1zM28 25h1v1h-1zM35 25h1v1h-1zM58 25h1v1h-1zM86 25h1v1h-1zM88 25h1v1h-1zM98 25h1v1h-1zM108 25h1v1h-1zM112 25h1v1h-1zM128 25h1v1h-1zM130 25h1v1h-1zM148 25h1v1h-1zM153 25h1v1h-1zM17 26h1v1h-1zM36 26h1v1h-1zM49 26h1v1h-1zM51 26h1v1h-1zM56 26h1v1h-1zM64 26h1v1h-1zM78 26h1v1h-1zM84 26h1v1h-1zM112 26h1v1h-1zM24 27h1v1h-1zM29 27h1v1h-1zM40 27h1v1h-1zM46 27h1v1h-1zM51 27h1v1h-1zM53 27h1v1h-1zM60 27h1v1h-1zM71 27h1v1h-1zM82 27h1v1h-1zM118 27h1v1h-1zM137 27h1v1h-1zM164 27h2v1h-2zM7 28h1v1h-1zM39 28h1v1h-1zM62 28h1v1h-1zM65 28h1v1h-1zM74 28h1v1h-1zM80 28h1v1h-1zM103 28h1v1h-1zM43 29h1v1h-1zM69 29h1v1h-1zM74 29h1v1h-1zM82 29h1v1h-1zM24 30h1v1h-1zM110 30h1v1h-1zM113 30h1v1h-1zM119 30h1v1h-1zM131 30h1v1h-1zM133 30h1v1h-1zM135 30h1v1h-1zM144 30h2v1h-2zM148 30h1v1h-1zM152 30h1v1h-1zM154 30h1v1h-1zM162 30h1v1h-1zM11 31h1v1h-1zM15 31h1v1h-1zM35 31h1v1h-1zM38 31h1v1h-1zM42 31h1v1h-1zM76 31h1v1h-1zM80 31h1v1h-1zM109 31h1v1h-1zM128 31h1v1h-1zM133 31h1v1h-1zM141 31h1v1h-1zM146 31h1v1h-1zM155 31h1v1h-1zM159 31h1v1h-1zM165 31h3v1h-3zM14 32h2v1h-2zM34 32h2v1h-2zM37 32h1v1h-1zM41 32h1v1h-1zM96 32h2v1h-2zM101 32h1v1h-1zM114 32h1v1h-1zM127 32h1v1h-1zM143 32h1v1h-1zM149 32h1v1h-1zM20 33h2v1h-2zM35 33h1v1h-1zM46 33h1v1h-1zM104 33h1v1h-1zM151 33h1v1h-1zM28 34h1v1h-1zM100 34h2v1h-2zM108 34h2v1h-2zM123 34h1v1h-1zM127 34h1v1h-1zM136 34h2v1h-2zM146 34h1v1h-1zM167 34h1v1h-1zM25 35h1v1h-1zM43 35h1v1h-1zM97 35h1v1h-1zM126 35h1v1h-1zM135 35h1v1h-1zM137 35h1v1h-1zM142 35h1v1h-1zM145 35h2v1h-2zM148 35h1v1h-1zM38 36h1v1h-1zM48 36h1v1h-1zM93 36h1v1h-1zM102 36h1v1h-1zM110 36h1v1h-1zM114 36h1v1h-1zM143 36h1v1h-1zM151 36h2v1h-2zM16 37h1v1h-1zM25 37h1v1h-1zM34 37h1v1h-1zM40 37h1v1h-1zM96 37h1v1h-1zM102 37h1v1h-1zM105 37h3v1h-3zM112 37h1v1h-1zM115 37h1v1h-1zM137 37h1v1h-1zM139 37h1v1h-1zM146 37h1v1h-1zM149 37h1v1h-1zM32 38h1v1h-1zM45 38h1v1h-1zM96 38h1v1h-1zM101 38h1v1h-1zM111 38h1v1h-1zM121 38h1v1h-1zM124 38h1v1h-1zM138 38h1v1h-1zM140 38h1v1h-1zM47 39h1v1h-1zM94 39h1v1h-1zM105 39h1v1h-1zM117 39h1v1h-1zM126 39h2v1h-2zM131 39h1v1h-1zM139 39h1v1h-1zM141 39h1v1h-1zM148 39h1v1h-1zM34 40h1v1h-1zM165 40h1v1h-1zM167 40h1v1h-1zM18 41h1v1h-1zM30 41h1v1h-1zM94 41h1v1h-1zM97 41h1v1h-1zM99 41h2v1h-2zM103 41h1v1h-1zM105 41h1v1h-1zM155 41h1v1h-1zM163 41h1v1h-1zM13 42h1v1h-1zM29 42h1v1h-1zM39 42h1v1h-1zM61 42h1v1h-1zM66 42h1v1h-1zM73 42h1v1h-1zM81 42h1v1h-1zM85 42h1v1h-1zM131 42h2v1h-2zM139 42h1v1h-1zM145 42h2v1h-2zM152 42h1v1h-1zM159 42h1v1h-1zM41 43h1v1h-1zM55 43h1v1h-1zM60 43h1v1h-1zM66 43h1v1h-1zM77 43h1v1h-1zM87 43h1v1h-1zM17 44h2v1h-2zM39 44h1v1h-1zM57 44h1v1h-1zM60 44h1v1h-1zM71 44h1v1h-1zM73 44h2v1h-2zM83 44h1v1h-1zM87 44h1v1h-1zM92 44h1v1h-1zM106 44h2v1h-2zM133 44h1v1h-1zM144 44h1v1h-1zM165 44h1v1h-1zM35 45h1v1h-1zM42 45h1v1h-1zM47 45h1v1h-1zM54 45h1v1h-1zM65 45h2v1h-2zM70 45h1v1h-1zM79 45h1v1h-1zM86 45h1v1h-1zM106 45h1v1h-1zM127 45h1v1h-1zM130 45h1v1h-1zM144 45h1v1h-1zM162 45h1v1h-1zM31 46h2v1h-2zM36 46h2v1h-2zM45 46h1v1h-1zM49 46h1v1h-1zM54 46h1v1h-1zM61 46h1v1h-1zM64 46h1v1h-1zM66 46h1v1h-1zM72 46h1v1h-1zM78 46h1v1h-1zM102 46h1v1h-1zM145 46h1v1h-1zM166 46h1v1h-1zM39 47h1v1h-1zM41 47h1v1h-1zM55 47h1v1h-1zM64 47h1v1h-1zM68 47h2v1h-2zM80 47h2v1h-2zM86 47h1v1h-1zM107 47h1v1h-1zM121 47h1v1h-1zM137 47h1v1h-1zM147 47h2v1h-2zM41 48h1v1h-1zM75 48h3v1h-3zM81 48h1v1h-1zM96 48h1v1h-1zM100 48h1v1h-1zM137 48h2v1h-2zM34 49h1v1h-1zM38 49h1v1h-1zM51 49h1v1h-1zM61 49h1v1h-1zM65 49h1v1h-1zM76 49h1v1h-1zM79 49h1v1h-1zM85 49h1v1h-1zM92 49h1v1h-1zM98 49h1v1h-1zM108 49h2v1h-2zM120 49h2v1h-2zM124 49h1v1h-1zM127 49h1v1h-1zM131 49h1v1h-1zM137 49h2v1h-2zM164 49h1v1h-1zM26 50h1v1h-1zM37 50h1v1h-1zM48 50h1v1h-1zM51 50h1v1h-1zM60 50h1v1h-1zM62 50h1v1h-1zM67 50h1v1h-1zM76 50h1v1h-1zM83 50h2v1h-2zM86 50h1v1h-1zM120 50h1v1h-1zM127 50h1v1h-1zM142 50h3v1h-3zM153 50h1v1h-1zM159 50h1v1h-1zM166 50h1v1h-1zM11 51h1v1h-1zM41 51h1v1h-1zM61 51h2v1h-2zM81 51h1v1h-1zM85 51h1v1h-1zM95 51h1v1h-1zM100 51h1v1h-1zM107 51h1v1h-1zM120 51h1v1h-1zM136 51h1v1h-1zM138 51h1v1h-1zM169 51h1v1h-1zM38 52h1v1h-1zM40 52h1v1h-1zM55 52h1v1h-1zM59 52h1v1h-1zM121 52h1v1h-1zM126 52h1v1h-1zM129 52h1v1h-1zM164 52h1v1h-1zM19 53h1v1h-1zM28 53h1v1h-1zM36 53h1v1h-1zM45 53h1v1h-1zM57 53h1v1h-1zM64 53h1v1h-1zM86 53h1v1h-1zM93 53h1v1h-1zM11 54h2v1h-2zM20 54h2v1h-2zM119 54h1v1h-1zM126 54h1v1h-1zM148 54h1v1h-1zM159 54h1v1h-1zM169 54h1v1h-1zM0 55h1v1h-1zM47 55h1v1h-1zM56 55h1v1h-1zM66 55h1v1h-1zM70 55h1v1h-1zM81 55h1v1h-1zM102 55h1v1h-1zM117 55h1v1h-1zM133 55h1v1h-1zM142 55h1v1h-1zM169 55h1v1h-1zM35 56h1v1h-1zM47 56h2v1h-2zM81 56h1v1h-1zM84 56h1v1h-1zM105 56h1v1h-1zM146 56h1v1h-1zM161 56h1v1h-1zM163 56h1v1h-1zM167 56h1v1h-1zM4 57h1v1h-1zM15 57h1v1h-1zM22 57h1v1h-1zM37 57h1v1h-1zM46 57h1v1h-1zM48 57h1v1h-1zM76 57h1v1h-1zM79 57h1v1h-1zM83 57h2v1h-2zM86 57h1v1h-1zM101 57h1v1h-1zM109 57h1v1h-1zM161 57h1v1h-1zM165 57h1v1h-1zM6 58h1v1h-1zM36 58h1v1h-1zM79 58h1v1h-1zM86 58h1v1h-1zM95 58h1v1h-1zM120 58h1v1h-1zM124 58h1v1h-1zM146 58h1v1h-1zM156 58h1v1h-1zM162 58h1v1h-1zM8 59h1v1h-1zM58 59h1v1h-1zM62 59h1v1h-1zM77 59h2v1h-2zM90 59h1v1h-1zM123 59h1v1h-1zM131 59h1v1h-1zM153 59h1v1h-1zM155 59h1v1h-1zM160 59h1v1h-1zM8 60h1v1h-1zM29 60h1v1h-1zM73 60h1v1h-1zM90 60h1v1h-1zM97 60h1v1h-1zM122 60h1v1h-1zM144 60h1v1h-1zM153 60h1v1h-1zM29 61h1v1h-1zM57 61h1v1h-1zM79 61h1v1h-1zM86 61h1v1h-1zM91 61h1v1h-1zM101 61h1v1h-1zM141 61h1v1h-1zM71 62h1v1h-1zM99 62h2v1h-2zM106 62h2v1h-2zM119 62h1v1h-1zM152 62h1v1h-1zM158 62h1v1h-1zM70 63h1v1h-1zM90 63h1v1h-1zM119 63h1v1h-1zM127 63h1v1h-1zM151 63h1v1h-1zM153 63h3v1h-3zM167 63h1v1h-1zM17 64h2v1h-2zM68 64h1v1h-1zM82 64h1v1h-1zM98 64h1v1h-1zM105 64h1v1h-1zM110 64h1v1h-1zM115 64h1v1h-1zM160 64h1v1h-1zM165 64h1v1h-1zM169 64h1v1h-1zM69 65h1v1h-1zM76 65h1v1h-1zM87 65h1v1h-1zM94 65h2v1h-2zM97 65h1v1h-1zM107 65h1v1h-1zM110 65h1v1h-1zM123 65h1v1h-1zM141 65h1v1h-1zM149 65h1v1h-1zM154 65h1v1h-1zM19 66h1v1h-1zM80 66h1v1h-1zM93 66h1v1h-1zM119 66h1v1h-1zM124 66h1v1h-1zM144 66h1v1h-1zM148 66h1v1h-1zM154 66h1v1h-1zM162 66h1v1h-1zM23 67h1v1h-1zM26 67h1v1h-1zM47 67h1v1h-1zM152 67h1v1h-1zM154 67h1v1h-1zM156 67h1v1h-1zM159 67h1v1h-1zM2 68h1v1h-1zM13 68h1v1h-1zM17 68h1v1h-1zM20 68h2v1h-2zM24 68h1v1h-1zM27 68h2v1h-2zM105 68h1v1h-1zM108 68h1v1h-1zM124 68h1v1h-1zM145 68h1v1h-1zM152 68h1v1h-1zM156 68h1v1h-1zM3 69h1v1h-1zM25 69h1v1h-1zM78 69h1v1h-1zM121 69h1v1h-1zM163 69h1v1h-1zM16 70h1v1h-1zM21 70h1v1h-1zM35 70h1v1h-1zM41 70h1v1h-1zM96 70h1v1h-1zM103 70h1v1h-1zM116 70h1v1h-1zM128 70h1v1h-1zM140 70h1v1h-1zM149 70h1v1h-1zM157 70h1v1h-1zM29 71h1v1h-1zM96 71h1v1h-1zM102 71h1v1h-1zM106 71h1v1h-1zM120 71h1v1h-1zM124 71h1v1h-1zM126 71h1v1h-1zM133 71h1v1h-1zM137 71h1v1h-1zM144 71h1v1h-1zM149 71h1v1h-1zM162 71h1v1h-1zM1 72h1v1h-1zM11 72h1v1h-1zM21 72h1v1h-1zM28 72h1v1h-1zM36 72h1v1h-1zM40 72h1v1h-1zM54 72h1v1h-1zM96 72h1v1h-1zM112 72h1v1h-1zM135 72h1v1h-1zM161 72h1v1h-1zM165 72h1v1h-1zM26 73h1v1h-1zM96 73h1v1h-1zM104 73h1v1h-1zM108 73h1v1h-1zM118 73h1v1h-1zM127 73h1v1h-1zM130 73h1v1h-1zM148 73h1v1h-1zM157 73h1v1h-1zM167 73h1v1h-1zM6 74h1v1h-1zM36 74h1v1h-1zM51 74h1v1h-1zM57 74h1v1h-1zM73 74h1v1h-1zM86 74h1v1h-1zM91 74h2v1h-2zM98 74h1v1h-1zM104 74h1v1h-1zM125 74h1v1h-1zM128 74h1v1h-1zM135 74h1v1h-1zM146 74h2v1h-2zM155 74h1v1h-1zM163 74h1v1h-1zM6 75h1v1h-1zM30 75h1v1h-1zM65 75h1v1h-1zM70 75h1v1h-1zM77 75h1v1h-1zM83 75h1v1h-1zM93 75h1v1h-1zM95 75h1v1h-1zM121 75h1v1h-1zM140 75h1v1h-1zM146 75h1v1h-1zM151 75h1v1h-1zM163 75h1v1h-1z"/>
<path fill="#d6cbf4" d="M0 0h1v1h-1zM5 0h1v1h-1zM61 0h1v1h-1zM63 0h1v1h-1zM67 0h1v1h-1zM164 0h1v1h-1zM8 1h1v1h-1zM20 1h1v1h-1zM25 1h1v1h-1zM35 1h1v1h-1zM42 1h1v1h-1zM45 1h1v1h-1zM57 1h1v1h-1zM68 1h1v1h-1zM90 1h1v1h-1zM92 1h1v1h-1zM110 1h1v1h-1zM39 2h1v1h-1zM42 2h1v1h-1zM71 2h1v1h-1zM73 2h1v1h-1zM96 2h1v1h-1zM99 2h1v1h-1zM101 2h1v1h-1zM106 2h1v1h-1zM1 3h1v1h-1zM23 3h1v1h-1zM88 3h1v1h-1zM98 3h1v1h-1zM101 3h1v1h-1zM106 3h3v1h-3zM8 4h1v1h-1zM30 4h1v1h-1zM43 4h1v1h-1zM47 4h1v1h-1zM108 4h1v1h-1zM166 4h1v1h-1zM15 5h1v1h-1zM45 5h1v1h-1zM106 5h1v1h-1zM156 5h1v1h-1zM16 6h1v1h-1zM22 6h1v1h-1zM25 6h1v1h-1zM29 6h1v1h-1zM70 6h1v1h-1zM85 6h1v1h-1zM95 6h1v1h-1zM97 6h1v1h-1zM101 6h1v1h-1zM169 6h1v1h-1zM10 7h1v1h-1zM20 7h1v1h-1zM44 7h1v1h-1zM72 7h1v1h-1zM80 7h1v1h-1zM92 7h1v1h-1zM95 7h2v1h-2zM19 8h1v1h-1zM21 8h1v1h-1zM27 8h1v1h-1zM34 8h1v1h-1zM42 8h1v1h-1zM50 8h1v1h-1zM71 8h2v1h-2zM92 8h1v1h-1zM28 9h1v1h-1zM69 9h1v1h-1zM20 10h1v1h-1zM106 10h1v1h-1zM122 10h3v1h-3zM132 10h2v1h-2zM140 10h1v1h-1zM9 11h1v1h-1zM22 11h1v1h-1zM115 11h1v1h-1zM128 11h1v1h-1zM29 12h2v1h-2zM34 12h1v1h-1zM93 12h1v1h-1zM96 12h1v1h-1zM106 12h2v1h-2zM121 12h1v1h-1zM124 12h1v1h-1zM126 12h2v1h-2zM129 12h1v1h-1zM132 12h1v1h-1zM134 12h3v1h-3zM150 12h1v1h-1zM162 12h1v1h-1zM165 12h1v1h-1zM167 12h1v1h-1zM28 13h1v1h-1zM32 13h1v1h-1zM85 13h1v1h-1zM87 13h1v1h-1zM89 13h1v1h-1zM95 13h2v1h-2zM101 13h1v1h-1zM106 13h1v1h-1zM129 13h1v1h-1zM135 13h2v1h-2zM147 13h1v1h-1zM150 13h1v1h-1zM12 14h1v1h-1zM35 14h1v1h-1zM46 14h2v1h-2zM62 14h2v1h-2zM68 14h1v1h-1zM107 14h1v1h-1zM114 14h1v1h-1zM117 14h1v1h-1zM120 14h1v1h-1zM138 14h1v1h-1zM154 14h2v1h-2zM161 14h1v1h-1zM5 15h1v1h-1zM33 15h1v1h-1zM40 15h1v1h-1zM42 15h1v1h-1zM44 15h1v1h-1zM58 15h1v1h-1zM64 15h1v1h-1zM88 15h1v1h-1zM93 15h1v1h-1zM102 15h1v1h-1zM109 15h1v1h-1zM112 15h1v1h-1zM122 15h1v1h-1zM124 15h1v1h-1zM129 15h2v1h-2zM137 15h1v1h-1zM146 15h1v1h-1zM152 15h1v1h-1zM163 15h1v1h-1zM29 16h1v1h-1zM51 16h1v1h-1zM54 16h1v1h-1zM58 16h1v1h-1zM68 16h1v1h-1zM95 16h1v1h-1zM98 16h1v1h-1zM100 16h1v1h-1zM106 16h1v1h-1zM136 16h1v1h-1zM164 16h1v1h-1zM39 17h1v1h-1zM72 17h1v1h-1zM87 17h1v1h-1zM89 17h1v1h-1zM106 17h1v1h-1zM109 17h1v1h-1zM141 17h1v1h-1zM143 17h1v1h-1zM157 17h1v1h-1zM167 17h1v1h-1zM142 18h1v1h-1zM156 18h1v1h-1zM16 19h1v1h-1zM22 19h1v1h-1zM35 19h1v1h-1zM38 19h1v1h-1zM136 19h1v1h-1zM141 19h1v1h-1zM143 19h1v1h-1zM154 19h1v1h-1zM17 20h1v1h-1zM19 20h1v1h-1zM34 20h1v1h-1zM42 20h1v1h-1zM111 20h2v1h-2zM137 20h1v1h-1zM140 20h1v1h-1zM163 20h1v1h-1zM165 20h3v1h-3zM18 21h1v1h-1zM27 21h1v1h-1zM34 21h1v1h-1zM39 21h1v1h-1zM71 21h1v1h-1zM149 21h1v1h-1zM161 21h1v1h-1zM6 22h1v1h-1zM19 22h1v1h-1zM87 22h1v1h-1zM102 22h1v1h-1zM129 22h1v1h-1zM132 22h1v1h-1zM147 22h1v1h-1zM16 23h1v1h-1zM22 23h1v1h-1zM52 23h1v1h-1zM55 23h1v1h-1zM61 23h1v1h-1zM66 23h1v1h-1zM88 23h1v1h-1zM91 23h1v1h-1zM104 23h1v1h-1zM128 23h1v1h-1zM135 23h3v1h-3zM151 23h1v1h-1zM154 23h1v1h-1zM165 23h1v1h-1zM8 24h1v1h-1zM31 24h1v1h-1zM51 24h1v1h-1zM76 24h1v1h-1zM83 24h2v1h-2zM100 24h1v1h-1zM131 24h1v1h-1zM135 24h1v1h-1zM138 24h1v1h-1zM147 24h1v1h-1zM155 24h1v1h-1zM166 24h1v1h-1zM89 25h1v1h-1zM92 25h1v1h-1zM95 25h1v1h-1zM107 25h1v1h-1zM149 25h2v1h-2zM155 25h1v1h-1zM162 25h1v1h-1zM33 26h1v1h-1zM35 26h1v1h-1zM41 26h1v1h-1zM54 26h1v1h-1zM60 26h4v1h-4zM73 26h1v1h-1zM77 26h1v1h-1zM139 26h1v1h-1zM141 26h1v1h-1zM143 26h1v1h-1zM162 26h1v1h-1zM166 26h1v1h-1zM14 27h1v1h-1zM56 27h1v1h-1zM58 27h1v1h-1zM63 27h1v1h-1zM74 27h1v1h-1zM76 27h2v1h-2zM85 27h1v1h-1zM89 27h1v1h-1zM98 27h1v1h-1zM141 27h1v1h-1zM163 27h1v1h-1zM6 28h1v1h-1zM11 28h1v1h-1zM24 28h1v1h-1zM26 28h1v1h-1zM36 28h1v1h-1zM50 28h1v1h-1zM53 28h1v1h-1zM82 28h2v1h-2zM149 28h1v1h-1zM38 29h1v1h-1zM51 29h1v1h-1zM76 29h1v1h-1zM127 29h1v1h-1zM132 29h2v1h-2zM9 30h1v1h-1zM30 30h1v1h-1zM85 30h1v1h-1zM96 30h1v1h-1zM114 30h1v1h-1zM116 30h1v1h-1zM127 30h1v1h-1zM143 30h1v1h-1zM146 30h1v1h-1zM159 30h1v1h-1zM10 31h1v1h-1zM21 31h1v1h-1zM26 31h1v1h-1zM43 31h1v1h-1zM84 31h1v1h-1zM93 31h1v1h-1zM100 31h1v1h-1zM105 31h1v1h-1zM107 31h1v1h-1zM113 31h1v1h-1zM115 31h2v1h-2zM127 31h1v1h-1zM131 31h1v1h-1zM143 31h1v1h-1zM12 32h1v1h-1zM26 32h1v1h-1zM44 32h1v1h-1zM99 32h1v1h-1zM105 32h1v1h-1zM107 32h2v1h-2zM119 32h1v1h-1zM122 32h1v1h-1zM126 32h1v1h-1zM147 32h1v1h-1zM156 32h1v1h-1zM17 33h1v1h-1zM23 33h1v1h-1zM42 33h1v1h-1zM49 33h1v1h-1zM94 33h1v1h-1zM98 33h1v1h-1zM100 33h1v1h-1zM106 33h1v1h-1zM124 33h1v1h-1zM139 33h1v1h-1zM143 33h1v1h-1zM150 33h1v1h-1zM152 33h1v1h-1zM11 34h1v1h-1zM26 34h2v1h-2zM45 34h1v1h-1zM96 34h1v1h-1zM99 34h1v1h-1zM103 34h2v1h-2zM119 34h2v1h-2zM134 34h1v1h-1zM142 34h1v1h-1zM147 34h2v1h-2zM152 34h1v1h-1zM13 35h1v1h-1zM17 35h1v1h-1zM24 35h1v1h-1zM35 35h1v1h-1zM49 35h1v1h-1zM93 35h1v1h-1zM99 35h1v1h-1zM104 35h1v1h-1zM109 35h1v1h-1zM130 35h1v1h-1zM136 35h1v1h-1zM147 35h1v1h-1zM151 35h1v1h-1zM23 36h1v1h-1zM30 36h1v1h-1zM40 36h2v1h-2zM46 36h1v1h-1zM99 36h1v1h-1zM129 36h1v1h-1zM142 36h1v1h-1zM144 36h1v1h-1zM150 36h1v1h-1zM38 37h1v1h-1zM43 37h1v1h-1zM104 37h1v1h-1zM150 37h1v1h-1zM20 38h1v1h-1zM28 38h1v1h-1zM39 38h1v1h-1zM93 38h1v1h-1zM98 38h1v1h-1zM112 38h1v1h-1zM125 38h1v1h-1zM127 38h2v1h-2zM146 38h1v1h-1zM90 39h1v1h-1zM107 39h1v1h-1zM130 39h1v1h-1zM136 39h2v1h-2zM142 39h1v1h-1zM146 39h1v1h-1zM161 39h1v1h-1zM164 39h1v1h-1zM27 40h1v1h-1zM35 40h1v1h-1zM49 40h1v1h-1zM100 40h2v1h-2zM155 40h1v1h-1zM160 40h1v1h-1zM14 41h1v1h-1zM23 41h1v1h-1zM38 41h1v1h-1zM104 41h1v1h-1zM153 41h1v1h-1zM162 41h1v1h-1zM164 41h1v1h-1zM24 42h1v1h-1zM34 42h1v1h-1zM76 42h1v1h-1zM78 42h2v1h-2zM84 42h1v1h-1zM89 42h1v1h-1zM91 42h1v1h-1zM109 42h1v1h-1zM141 42h1v1h-1zM161 42h1v1h-1zM38 43h1v1h-1zM81 43h1v1h-1zM84 43h1v1h-1zM88 43h1v1h-1zM106 43h1v1h-1zM132 43h1v1h-1zM134 43h1v1h-1zM144 43h1v1h-1zM148 43h1v1h-1zM29 44h1v1h-1zM41 44h1v1h-1zM46 44h1v1h-1zM64 44h1v1h-1zM88 44h1v1h-1zM102 44h1v1h-1zM140 44h1v1h-1zM50 45h1v1h-1zM61 45h1v1h-1zM75 45h2v1h-2zM80 45h1v1h-1zM85 45h1v1h-1zM87 45h1v1h-1zM98 45h1v1h-1zM135 45h1v1h-1zM143 45h1v1h-1zM151 45h1v1h-1zM18 46h1v1h-1zM22 46h1v1h-1zM28 46h1v1h-1zM35 46h1v1h-1zM53 46h1v1h-1zM58 46h1v1h-1zM69 46h3v1h-3zM73 46h1v1h-1zM75 46h1v1h-1zM86 46h1v1h-1zM103 46h1v1h-1zM150 46h1v1h-1zM154 46h1v1h-1zM158 46h1v1h-1zM160 46h1v1h-1zM167 46h1v1h-1zM29 47h1v1h-1zM54 47h1v1h-1zM58 47h1v1h-1zM65 47h1v1h-1zM85 47h1v1h-1zM96 47h1v1h-1zM138 47h1v1h-1zM156 47h1v1h-1zM19 48h1v1h-1zM40 48h1v1h-1zM49 48h1v1h-1zM62 48h1v1h-1zM64 48h1v1h-1zM78 48h1v1h-1zM80 48h1v1h-1zM82 48h1v1h-1zM93 48h1v1h-1zM146 48h1v1h-1zM151 48h1v1h-1zM154 48h1v1h-1zM163 48h1v1h-1zM36 49h1v1h-1zM47 49h1v1h-1zM57 49h1v1h-1zM74 49h1v1h-1zM93 49h1v1h-1zM104 49h1v1h-1zM126 49h1v1h-1zM146 49h1v1h-1zM151 49h1v1h-1zM165 49h2v1h-2zM40 50h1v1h-1zM53 50h1v1h-1zM69 50h1v1h-1zM82 50h1v1h-1zM85 50h1v1h-1zM107 50h1v1h-1zM128 50h1v1h-1zM162 50h1v1h-1zM49 51h1v1h-1zM75 51h1v1h-1zM88 51h1v1h-1zM94 51h1v1h-1zM102 51h1v1h-1zM124 51h1v1h-1zM126 51h1v1h-1zM129 51h1v1h-1zM137 51h1v1h-1zM145 51h1v1h-1zM147 51h1v1h-1zM151 51h1v1h-1zM30 52h1v1h-1zM43 52h1v1h-1zM56 52h2v1h-2zM80 52h1v1h-1zM91 52h1v1h-1zM93 52h1v1h-1zM137 52h1v1h-1zM143 52h1v1h-1zM153 52h1v1h-1zM14 53h1v1h-1zM24 53h2v1h-2zM33 53h1v1h-1zM40 53h1v1h-1zM69 53h1v1h-1zM71 53h1v1h-1zM79 53h1v1h-1zM104 53h1v1h-1zM116 53h1v1h-1zM120 53h1v1h-1zM124 53h1v1h-1zM135 53h1v1h-1zM153 53h1v1h-1zM24 54h1v1h-1zM58 54h1v1h-1zM79 54h1v1h-1zM115 54h1v1h-1zM121 54h1v1h-1zM145 54h1v1h-1zM16 55h1v1h-1zM18 55h1v1h-1zM33 55h1v1h-1zM84 55h1v1h-1zM93 55h1v1h-1zM103 55h1v1h-1zM110 55h1v1h-1zM123 55h1v1h-1zM130 55h1v1h-1zM165 55h1v1h-1zM29 56h1v1h-1zM41 56h1v1h-1zM55 56h1v1h-1zM57 56h1v1h-1zM76 56h1v1h-1zM78 56h1v1h-1zM83 56h1v1h-1zM89 56h1v1h-1zM98 56h1v1h-1zM106 56h1v1h-1zM108 56h1v1h-1zM111 56h1v1h-1zM117 56h1v1h-1zM145 56h1v1h-1zM162 56h1v1h-1zM43 57h1v1h-1zM45 57h1v1h-1zM53 57h1v1h-1zM55 57h1v1h-1zM58 57h1v1h-1zM81 57h1v1h-1zM85 57h1v1h-1zM87 57h1v1h-1zM91 57h1v1h-1zM104 57h1v1h-1zM148 57h1v1h-1zM164 57h1v1h-1zM40 58h1v1h-1zM59 58h2v1h-2zM78 58h1v1h-1zM82 58h1v1h-1zM97 58h1v1h-1zM108 58h1v1h-1zM125 58h1v1h-1zM133 58h1v1h-1zM145 58h1v1h-1zM159 58h1v1h-1zM5 59h1v1h-1zM40 59h1v1h-1zM51 59h1v1h-1zM60 59h1v1h-1zM68 59h1v1h-1zM88 59h1v1h-1zM93 59h1v1h-1zM95 59h3v1h-3zM103 59h1v1h-1zM114 59h1v1h-1zM119 59h2v1h-2zM129 59h1v1h-1zM156 59h1v1h-1zM168 59h1v1h-1zM40 60h1v1h-1zM86 60h1v1h-1zM95 60h1v1h-1zM100 60h1v1h-1zM150 60h1v1h-1zM161 60h1v1h-1zM9 61h1v1h-1zM44 61h1v1h-1zM83 61h1v1h-1zM92 61h1v1h-1zM122 61h1v1h-1zM146 61h1v1h-1zM151 61h1v1h-1zM158 61h1v1h-1zM168 61h2v1h-2zM70 62h1v1h-1zM72 62h2v1h-2zM92 62h1v1h-1zM109 62h1v1h-1zM161 62h1v1h-1zM74 63h1v1h-1zM96 63h1v1h-1zM103 63h1v1h-1zM83 64h1v1h-1zM96 64h2v1h-2zM100 64h1v1h-1zM107 64h1v1h-1zM118 64h1v1h-1zM124 64h1v1h-1zM127 64h1v1h-1zM135 64h1v1h-1zM140 64h1v1h-1zM147 64h1v1h-1zM149 64h2v1h-2zM162 64h1v1h-1zM84 65h1v1h-1zM96 65h1v1h-1zM99 65h1v1h-1zM103 65h1v1h-1zM105 65h1v1h-1zM113 65h2v1h-2zM130 65h1v1h-1zM132 65h1v1h-1zM146 65h1v1h-1zM148 65h1v1h-1zM153 65h1v1h-1zM167 65h1v1h-1zM44 66h1v1h-1zM82 66h1v1h-1zM90 66h1v1h-1zM100 66h1v1h-1zM110 66h1v1h-1zM150 66h1v1h-1zM155 66h2v1h-2zM37 67h1v1h-1zM46 67h1v1h-1zM88 67h1v1h-1zM103 67h1v1h-1zM106 67h1v1h-1zM146 67h1v1h-1zM19 68h1v1h-1zM31 68h2v1h-2zM41 68h1v1h-1zM84 68h1v1h-1zM121 68h1v1h-1zM158 68h1v1h-1zM36 69h1v1h-1zM79 69h1v1h-1zM106 69h1v1h-1zM122 69h1v1h-1zM125 69h1v1h-1zM136 69h1v1h-1zM141 69h1v1h-1zM151 69h1v1h-1zM5 70h1v1h-1zM19 70h1v1h-1zM27 70h1v1h-1zM32 70h1v1h-1zM37 70h1v1h-1zM47 70h1v1h-1zM108 70h1v1h-1zM115 70h1v1h-1zM119 70h1v1h-1zM136 70h1v1h-1zM143 70h1v1h-1zM152 70h1v1h-1zM158 70h1v1h-1zM162 70h1v1h-1zM0 71h1v1h-1zM3 71h1v1h-1zM26 71h1v1h-1zM30 71h1v1h-1zM50 71h1v1h-1zM99 71h3v1h-3zM110 71h1v1h-1zM119 71h1v1h-1zM125 71h1v1h-1zM148 71h1v1h-1zM155 71h1v1h-1zM158 71h1v1h-1zM27 72h1v1h-1zM62 72h1v1h-1zM103 72h1v1h-1zM114 72h1v1h-1zM127 72h1v1h-1zM140 72h1v1h-1zM167 72h1v1h-1zM38 73h2v1h-2zM58 73h1v1h-1zM92 73h1v1h-1zM114 73h2v1h-2zM117 73h1v1h-1zM138 73h1v1h-1zM141 73h1v1h-1zM150 73h1v1h-1zM153 73h1v1h-1zM165 73h1v1h-1zM26 74h1v1h-1zM30 74h1v1h-1zM32 74h1v1h-1zM56 74h1v1h-1zM64 74h1v1h-1zM76 74h1v1h-1zM102 74h1v1h-1zM110 74h1v1h-1zM142 74h1v1h-1zM150 74h1v1h-1zM53 75h1v1h-1zM56 75h1v1h-1zM59 75h1v1h-1zM92 75h1v1h-1zM94 75h1v1h-1zM103 75h1v1h-1zM112 75h2v1h-2zM124 75h1v1h-1zM130 75h1v1h-1zM145 75h1v1h-1zM150 75h1v1h-1zM158 75h1v1h-1zM165 75h1v1h-1z"/>
<path fill="#ddd3f3" d="M11 0h1v1h-1zM21 0h1v1h-1zM54 0h1v1h-1zM72 0h1v1h-1zM74 0h1v1h-1zM98 0h1v1h-1zM4 1h1v1h-1zM11 1h1v1h-1zM37 1h1v1h-1zM46 1h1v1h-1zM52 1h1v1h-1zM73 1h1v1h-1zM119 1h1v1h-1zM38 2h1v1h-1zM66 2h1v1h-1zM97 2h2v1h-2zM159 2h1v1h-1zM17 3h1v1h-1zM159 3h1v1h-1zM22 4h1v1h-1zM24 4h1v1h-1zM72 4h1v1h-1zM88 4h1v1h-1zM97 4h1v1h-1zM103 4h1v1h-1zM136 4h1v1h-1zM154 4h1v1h-1zM162 4h1v1h-1zM164 5h1v1h-1zM28 6h1v1h-1zM32 6h1v1h-1zM62 6h1v1h-1zM68 6h1v1h-1zM81 6h1v1h-1zM93 6h1v1h-1zM96 6h1v1h-1zM4 7h1v1h-1zM75 7h2v1h-2zM97 7h1v1h-1zM20 8h1v1h-1zM47 8h1v1h-1zM87 8h1v1h-1zM103 8h1v1h-1zM11 9h1v1h-1zM13 9h1v1h-1zM17 9h1v1h-1zM57 9h1v1h-1zM72 9h1v1h-1zM86 9h1v1h-1zM99 9h1v1h-1zM119 9h1v1h-1zM123 9h1v1h-1zM12 10h1v1h-1zM22 10h1v1h-1zM34 10h1v1h-1zM46 10h1v1h-1zM87 10h1v1h-1zM89 10h1v1h-1zM103 10h2v1h-2zM108 10h1v1h-1zM130 10h1v1h-1zM139 10h1v1h-1zM162 10h1v1h-1zM10 11h1v1h-1zM20 11h1v1h-1zM88 11h2v1h-2zM124 11h1v1h-1zM143 11h1v1h-1zM26 12h1v1h-1zM61 12h1v1h-1zM65 12h1v1h-1zM76 12h1v1h-1zM81 12h1v1h-1zM88 12h1v1h-1zM90 12h1v1h-1zM97 12h1v1h-1zM123 12h1v1h-1zM138 12h1v1h-1zM145 12h1v1h-1zM161 12h1v1h-1zM30 13h1v1h-1zM34 13h2v1h-2zM65 13h1v1h-1zM77 13h1v1h-1zM92 13h2v1h-2zM107 13h2v1h-2zM122 13h1v1h-1zM124 13h1v1h-1zM128 13h1v1h-1zM131 13h1v1h-1zM146 13h1v1h-1zM149 13h1v1h-1zM151 13h1v1h-1zM154 13h1v1h-1zM162 13h1v1h-1zM65 14h1v1h-1zM76 14h1v1h-1zM84 14h1v1h-1zM89 14h1v1h-1zM101 14h1v1h-1zM104 14h1v1h-1zM126 14h1v1h-1zM135 14h1v1h-1zM159 14h2v1h-2zM45 15h1v1h-1zM60 15h1v1h-1zM63 15h1v1h-1zM65 15h1v1h-1zM89 15h1v1h-1zM99 15h1v1h-1zM106 15h1v1h-1zM113 15h1v1h-1zM121 15h1v1h-1zM136 15h1v1h-1zM149 15h1v1h-1zM157 15h1v1h-1zM32 16h1v1h-1zM104 16h1v1h-1zM107 16h1v1h-1zM133 16h1v1h-1zM138 16h1v1h-1zM141 16h1v1h-1zM143 16h1v1h-1zM160 16h2v1h-2zM9 17h1v1h-1zM21 17h1v1h-1zM52 17h1v1h-1zM61 17h1v1h-1zM64 17h1v1h-1zM119 17h2v1h-2zM122 17h1v1h-1zM138 17h1v1h-1zM142 17h1v1h-1zM155 17h1v1h-1zM160 17h1v1h-1zM3 18h1v1h-1zM10 18h2v1h-2zM24 18h1v1h-1zM28 18h1v1h-1zM39 18h1v1h-1zM46 18h1v1h-1zM48 18h2v1h-2zM86 18h1v1h-1zM133 18h1v1h-1zM2 19h1v1h-1zM5 19h1v1h-1zM14 19h1v1h-1zM42 19h1v1h-1zM54 19h1v1h-1zM103 19h1v1h-1zM167 19h1v1h-1zM10 20h1v1h-1zM31 20h1v1h-1zM49 20h1v1h-1zM74 20h1v1h-1zM84 20h1v1h-1zM101 20h1v1h-1zM123 20h1v1h-1zM145 20h1v1h-1zM148 20h1v1h-1zM0 21h1v1h-1zM20 21h1v1h-1zM52 21h1v1h-1zM124 21h1v1h-1zM139 21h2v1h-2zM144 21h1v1h-1zM24 22h1v1h-1zM39 22h1v1h-1zM52 22h1v1h-1zM64 22h1v1h-1zM88 22h1v1h-1zM104 22h1v1h-1zM113 22h1v1h-1zM121 22h1v1h-1zM140 22h1v1h-1zM161 22h1v1h-1zM13 23h1v1h-1zM19 23h1v1h-1zM56 23h1v1h-1zM75 23h1v1h-1zM107 23h1v1h-1zM112 23h1v1h-1zM114 23h1v1h-1zM119 23h1v1h-1zM123 23h2v1h-2zM127 23h1v1h-1zM153 23h1v1h-1zM156 23h3v1h-3zM162 23h1v1h-1zM169 23h1v1h-1zM19 24h1v1h-1zM32 24h1v1h-1zM37 24h1v1h-1zM52 24h1v1h-1zM60 24h1v1h-1zM77 24h2v1h-2zM88 24h1v1h-1zM91 24h1v1h-1zM95 24h1v1h-1zM101 24h2v1h-2zM107 24h1v1h-1zM109 24h1v1h-1zM119 24h1v1h-1zM134 24h1v1h-1zM148 24h1v1h-1zM165 24h1v1h-1zM167 24h1v1h-1zM8 25h1v1h-1zM17 25h1v1h-1zM40 25h1v1h-1zM56 25h2v1h-2zM93 25h1v1h-1zM122 25h1v1h-1zM127 25h1v1h-1zM133 25h1v1h-1zM136 25h2v1h-2zM144 25h3v1h-3zM152 25h1v1h-1zM19 26h1v1h-1zM23 26h1v1h-1zM69 26h1v1h-1zM72 26h1v1h-1zM75 26h1v1h-1zM82 26h1v1h-1zM87 26h1v1h-1zM91 26h1v1h-1zM104 26h1v1h-1zM134 26h1v1h-1zM140 26h1v1h-1zM142 26h1v1h-1zM161 26h1v1h-1zM164 26h1v1h-1zM16 27h2v1h-2zM20 27h1v1h-1zM33 27h1v1h-1zM64 27h2v1h-2zM79 27h1v1h-1zM86 27h3v1h-3zM104 27h1v1h-1zM136 27h1v1h-1zM139 27h1v1h-1zM1 28h1v1h-1zM10 28h1v1h-1zM27 28h1v1h-1zM33 28h1v1h-1zM38 28h1v1h-1zM57 28h1v1h-1zM73 28h1v1h-1zM79 28h1v1h-1zM109 28h1v1h-1zM112 28h1v1h-1zM131 28h2v1h-2zM134 28h1v1h-1zM13 29h1v1h-1zM39 29h1v1h-1zM83 29h1v1h-1zM109 29h1v1h-1zM134 29h1v1h-1zM152 29h1v1h-1zM10 30h1v1h-1zM12 30h1v1h-1zM46 30h2v1h-2zM97 30h1v1h-1zM101 30h1v1h-1zM105 30h1v1h-1zM118 30h1v1h-1zM150 30h1v1h-1zM165 30h1v1h-1zM0 31h1v1h-1zM14 31h1v1h-1zM25 31h1v1h-1zM31 31h1v1h-1zM94 31h1v1h-1zM98 31h1v1h-1zM101 31h1v1h-1zM121 31h1v1h-1zM144 31h1v1h-1zM147 31h1v1h-1zM158 31h1v1h-1zM163 31h1v1h-1zM16 32h1v1h-1zM36 32h1v1h-1zM38 32h1v1h-1zM93 32h1v1h-1zM98 32h1v1h-1zM111 32h1v1h-1zM132 32h2v1h-2zM142 32h1v1h-1zM5 33h1v1h-1zM9 33h1v1h-1zM39 33h1v1h-1zM105 33h1v1h-1zM109 33h1v1h-1zM111 33h1v1h-1zM123 33h1v1h-1zM125 33h3v1h-3zM130 33h1v1h-1zM132 33h1v1h-1zM14 34h1v1h-1zM16 34h1v1h-1zM41 34h1v1h-1zM46 34h1v1h-1zM50 34h1v1h-1zM70 34h1v1h-1zM122 34h1v1h-1zM135 34h1v1h-1zM21 35h1v1h-1zM38 35h1v1h-1zM42 35h1v1h-1zM46 35h2v1h-2zM96 35h1v1h-1zM113 35h1v1h-1zM120 35h2v1h-2zM132 35h1v1h-1zM141 35h1v1h-1zM144 35h1v1h-1zM152 35h1v1h-1zM13 36h1v1h-1zM29 36h1v1h-1zM31 36h1v1h-1zM37 36h1v1h-1zM45 36h1v1h-1zM111 36h1v1h-1zM113 36h1v1h-1zM118 36h1v1h-1zM124 36h1v1h-1zM127 36h1v1h-1zM131 36h1v1h-1zM138 36h1v1h-1zM148 36h1v1h-1zM37 37h1v1h-1zM94 37h1v1h-1zM98 37h1v1h-1zM121 37h2v1h-2zM126 37h1v1h-1zM133 37h1v1h-1zM141 37h2v1h-2zM15 38h1v1h-1zM19 38h1v1h-1zM21 38h1v1h-1zM29 38h1v1h-1zM42 38h1v1h-1zM119 38h1v1h-1zM131 38h1v1h-1zM135 38h1v1h-1zM145 38h1v1h-1zM147 38h1v1h-1zM50 39h1v1h-1zM106 39h1v1h-1zM109 39h1v1h-1zM112 39h1v1h-1zM116 39h1v1h-1zM119 39h2v1h-2zM134 39h1v1h-1zM8 40h2v1h-2zM74 40h1v1h-1zM96 40h1v1h-1zM121 40h1v1h-1zM131 40h1v1h-1zM156 40h1v1h-1zM162 40h1v1h-1zM31 41h2v1h-2zM43 41h1v1h-1zM108 41h1v1h-1zM123 41h1v1h-1zM152 41h1v1h-1zM154 41h1v1h-1zM159 41h1v1h-1zM35 42h1v1h-1zM46 42h1v1h-1zM51 42h2v1h-2zM57 42h2v1h-2zM69 42h3v1h-3zM82 42h1v1h-1zM103 42h1v1h-1zM105 42h2v1h-2zM129 42h1v1h-1zM144 42h1v1h-1zM148 42h1v1h-1zM150 42h1v1h-1zM154 42h1v1h-1zM158 42h1v1h-1zM165 42h1v1h-1zM15 43h1v1h-1zM32 43h1v1h-1zM53 43h1v1h-1zM65 43h1v1h-1zM75 43h2v1h-2zM82 43h2v1h-2zM103 43h1v1h-1zM142 43h1v1h-1zM151 43h1v1h-1zM156 43h1v1h-1zM8 44h1v1h-1zM54 44h1v1h-1zM56 44h1v1h-1zM59 44h1v1h-1zM90 44h1v1h-1zM97 44h1v1h-1zM108 44h1v1h-1zM127 44h1v1h-1zM149 44h1v1h-1zM34 45h1v1h-1zM51 45h2v1h-2zM56 45h1v1h-1zM84 45h1v1h-1zM96 45h1v1h-1zM101 45h1v1h-1zM104 45h1v1h-1zM113 45h1v1h-1zM147 45h1v1h-1zM23 46h1v1h-1zM46 46h1v1h-1zM65 46h1v1h-1zM76 46h1v1h-1zM91 46h1v1h-1zM93 46h1v1h-1zM101 46h1v1h-1zM137 46h1v1h-1zM142 46h1v1h-1zM162 46h1v1h-1zM51 47h1v1h-1zM53 47h1v1h-1zM72 47h1v1h-1zM76 47h1v1h-1zM88 47h2v1h-2zM94 47h1v1h-1zM97 47h1v1h-1zM101 47h1v1h-1zM103 47h1v1h-1zM146 47h1v1h-1zM151 47h1v1h-1zM45 48h1v1h-1zM57 48h1v1h-1zM61 48h1v1h-1zM70 48h1v1h-1zM72 48h1v1h-1zM74 48h1v1h-1zM97 48h1v1h-1zM99 48h1v1h-1zM144 48h1v1h-1zM155 48h2v1h-2zM167 48h1v1h-1zM44 49h1v1h-1zM60 49h1v1h-1zM72 49h2v1h-2zM88 49h1v1h-1zM105 49h1v1h-1zM129 49h1v1h-1zM141 49h1v1h-1zM156 49h1v1h-1zM31 50h2v1h-2zM46 50h1v1h-1zM50 50h1v1h-1zM52 50h1v1h-1zM59 50h1v1h-1zM66 50h1v1h-1zM77 50h1v1h-1zM80 50h2v1h-2zM90 50h1v1h-1zM101 50h1v1h-1zM109 50h1v1h-1zM121 50h1v1h-1zM130 50h2v1h-2zM136 50h1v1h-1zM160 50h1v1h-1zM169 50h1v1h-1zM7 51h2v1h-2zM27 51h1v1h-1zM56 51h1v1h-1zM68 51h1v1h-1zM74 51h1v1h-1zM84 51h1v1h-1zM89 51h1v1h-1zM92 51h1v1h-1zM105 51h1v1h-1zM108 51h1v1h-1zM128 51h1v1h-1zM139 51h1v1h-1zM157 51h1v1h-1zM159 51h1v1h-1zM35 52h1v1h-1zM39 52h1v1h-1zM44 52h1v1h-1zM73 52h2v1h-2zM79 52h1v1h-1zM82 52h1v1h-1zM102 52h1v1h-1zM114 52h1v1h-1zM120 52h1v1h-1zM132 52h1v1h-1zM144 52h1v1h-1zM147 52h1v1h-1zM1 53h1v1h-1zM22 53h1v1h-1zM37 53h1v1h-1zM44 53h1v1h-1zM59 53h1v1h-1zM62 53h1v1h-1zM68 53h1v1h-1zM80 53h1v1h-1zM121 53h1v1h-1zM137 53h1v1h-1zM141 53h1v1h-1zM145 53h2v1h-2zM154 53h1v1h-1zM163 53h1v1h-1zM10 54h1v1h-1zM17 54h1v1h-1zM29 54h1v1h-1zM62 54h1v1h-1zM78 54h1v1h-1zM87 54h1v1h-1zM93 54h1v1h-1zM100 54h1v1h-1zM114 54h1v1h-1zM128 54h1v1h-1zM133 54h2v1h-2zM154 54h1v1h-1zM158 54h1v1h-1zM165 54h1v1h-1zM5 55h1v1h-1zM50 55h1v1h-1zM53 55h1v1h-1zM62 55h1v1h-1zM73 55h1v1h-1zM80 55h1v1h-1zM85 55h1v1h-1zM114 55h1v1h-1zM116 55h1v1h-1zM120 55h1v1h-1zM139 55h1v1h-1zM147 55h1v1h-1zM24 56h1v1h-1zM52 56h1v1h-1zM88 56h1v1h-1zM95 56h1v1h-1zM103 56h1v1h-1zM110 56h1v1h-1zM150 56h1v1h-1zM157 56h1v1h-1zM164 56h1v1h-1zM36 57h1v1h-1zM39 57h2v1h-2zM52 57h1v1h-1zM78 57h1v1h-1zM94 57h2v1h-2zM99 57h1v1h-1zM13 58h1v1h-1zM26 58h1v1h-1zM32 58h1v1h-1zM35 58h1v1h-1zM51 58h1v1h-1zM55 58h1v1h-1zM63 58h1v1h-1zM67 58h1v1h-1zM87 58h1v1h-1zM91 58h1v1h-1zM111 58h1v1h-1zM114 58h1v1h-1zM128 58h1v1h-1zM132 58h1v1h-1zM163 58h2v1h-2zM167 58h1v1h-1zM27 59h1v1h-1zM59 59h1v1h-1zM67 59h1v1h-1zM85 59h1v1h-1zM125 59h1v1h-1zM136 59h1v1h-1zM141 59h1v1h-1zM162 59h2v1h-2zM21 60h1v1h-1zM47 60h1v1h-1zM80 60h1v1h-1zM108 60h1v1h-1zM124 60h1v1h-1zM126 60h1v1h-1zM133 60h1v1h-1zM145 60h1v1h-1zM158 60h1v1h-1zM73 61h1v1h-1zM81 61h1v1h-1zM97 61h1v1h-1zM107 61h1v1h-1zM145 61h1v1h-1zM149 61h1v1h-1zM155 61h2v1h-2zM161 61h1v1h-1zM6 62h1v1h-1zM34 62h1v1h-1zM85 62h2v1h-2zM104 62h1v1h-1zM132 62h2v1h-2zM149 62h2v1h-2zM153 62h1v1h-1zM160 62h1v1h-1zM30 63h1v1h-1zM60 63h1v1h-1zM69 63h1v1h-1zM77 63h1v1h-1zM91 63h2v1h-2zM97 63h2v1h-2zM100 63h1v1h-1zM105 63h1v1h-1zM108 63h1v1h-1zM120 63h2v1h-2zM128 63h1v1h-1zM132 63h1v1h-1zM152 63h1v1h-1zM164 63h2v1h-2zM19 64h1v1h-1zM73 64h1v1h-1zM85 64h1v1h-1zM88 64h1v1h-1zM90 64h1v1h-1zM92 64h1v1h-1zM111 64h1v1h-1zM126 64h1v1h-1zM128 64h3v1h-3zM142 64h1v1h-1zM153 64h3v1h-3zM164 64h1v1h-1zM10 65h1v1h-1zM58 65h1v1h-1zM72 65h1v1h-1zM75 65h1v1h-1zM90 65h1v1h-1zM93 65h1v1h-1zM104 65h1v1h-1zM127 65h1v1h-1zM142 65h1v1h-1zM144 65h1v1h-1zM155 65h1v1h-1zM9 66h1v1h-1zM21 66h1v1h-1zM27 66h1v1h-1zM29 66h1v1h-1zM79 66h1v1h-1zM85 66h1v1h-1zM147 66h1v1h-1zM159 66h1v1h-1zM21 67h1v1h-1zM84 67h1v1h-1zM90 67h2v1h-2zM93 67h1v1h-1zM107 67h1v1h-1zM126 67h1v1h-1zM140 67h1v1h-1zM143 67h1v1h-1zM157 67h1v1h-1zM160 67h1v1h-1zM0 68h1v1h-1zM23 68h1v1h-1zM107 68h1v1h-1zM137 68h1v1h-1zM157 68h1v1h-1zM165 68h1v1h-1zM2 69h1v1h-1zM11 69h2v1h-2zM22 69h1v1h-1zM35 69h1v1h-1zM40 69h1v1h-1zM109 69h1v1h-1zM124 69h1v1h-1zM131 69h1v1h-1zM154 69h1v1h-1zM156 69h1v1h-1zM165 69h1v1h-1zM0 70h1v1h-1zM40 70h1v1h-1zM42 70h1v1h-1zM155 70h1v1h-1zM159 70h1v1h-1zM168 70h1v1h-1zM28 71h1v1h-1zM36 71h1v1h-1zM93 71h1v1h-1zM104 71h1v1h-1zM113 71h1v1h-1zM121 71h1v1h-1zM128 71h1v1h-1zM151 71h1v1h-1zM153 71h1v1h-1zM160 71h1v1h-1zM16 72h1v1h-1zM56 72h1v1h-1zM97 72h1v1h-1zM99 72h1v1h-1zM106 72h1v1h-1zM142 72h2v1h-2zM149 72h1v1h-1zM160 72h1v1h-1zM169 72h1v1h-1zM4 73h2v1h-2zM13 73h1v1h-1zM15 73h1v1h-1zM43 73h1v1h-1zM93 73h1v1h-1zM100 73h1v1h-1zM105 73h1v1h-1zM123 73h1v1h-1zM128 73h1v1h-1zM145 73h2v1h-2zM151 73h1v1h-1zM39 74h1v1h-1zM70 74h1v1h-1zM74 74h1v1h-1zM77 74h1v1h-1zM88 74h1v1h-1zM93 74h1v1h-1zM95 74h1v1h-1zM101 74h1v1h-1zM129 74h1v1h-1zM131 74h1v1h-1zM149 74h1v1h-1zM151 74h1v1h-1zM156 74h3v1h-3zM19 75h1v1h-1zM25 75h1v1h-1zM54 75h1v1h-1zM69 75h1v1h-1zM86 75h2v1h-2zM101 75h1v1h-1zM104 75h2v1h-2zM109 75h2v1h-2zM114 75h1v1h-1zM120 75h1v1h-1zM123 75h1v1h-1zM132 75h1v1h-1zM155 75h1v1h-1z"/>
<path fill="#e5dcf1" d="M17 0h1v1h-1zM33 0h1v1h-1zM44 0h1v1h-1zM62 0h1v1h-1zM64 0h1v1h-1zM71 0h1v1h-1zM73 0h1v1h-1zM78 0h1v1h-1zM80 0h1v1h-1zM86 0h2v1h-2zM139 0h1v1h-1zM26 1h1v1h-1zM28 1h1v1h-1zM59 1h1v1h-1zM61 1h1v1h-1zM88 1h1v1h-1zM91 1h1v1h-1zM101 1h1v1h-1zM118 1h1v1h-1zM102 2h1v1h-1zM73 3h1v1h-1zM82 3h1v1h-1zM92 3h1v1h-1zM132 3h1v1h-1zM156 3h1v1h-1zM46 4h1v1h-1zM92 4h1v1h-1zM121 4h1v1h-1zM127 4h1v1h-1zM156 4h1v1h-1zM32 5h1v1h-1zM36 5h1v1h-1zM95 5h1v1h-1zM166 5h1v1h-1zM1 6h1v1h-1zM42 6h1v1h-1zM59 6h1v1h-1zM69 6h1v1h-1zM75 6h1v1h-1zM79 6h1v1h-1zM92 6h1v1h-1zM142 6h1v1h-1zM160 6h1v1h-1zM0 7h2v1h-2zM5 7h1v1h-1zM21 7h1v1h-1zM41 7h1v1h-1zM69 7h2v1h-2zM83 7h2v1h-2zM93 7h2v1h-2zM98 7h1v1h-1zM138 7h1v1h-1zM168 7h1v1h-1zM33 8h1v1h-1zM38 8h1v1h-1zM91 8h1v1h-1zM15 9h1v1h-1zM33 9h1v1h-1zM36 9h1v1h-1zM38 9h1v1h-1zM43 9h1v1h-1zM45 9h1v1h-1zM79 9h1v1h-1zM82 9h1v1h-1zM91 9h1v1h-1zM138 9h1v1h-1zM159 9h1v1h-1zM27 10h1v1h-1zM36 10h1v1h-1zM38 10h1v1h-1zM58 10h1v1h-1zM67 10h1v1h-1zM74 10h1v1h-1zM79 10h1v1h-1zM90 10h1v1h-1zM102 10h1v1h-1zM121 10h1v1h-1zM134 10h1v1h-1zM138 10h1v1h-1zM2 11h1v1h-1zM17 11h1v1h-1zM31 11h1v1h-1zM42 11h1v1h-1zM45 11h1v1h-1zM48 11h1v1h-1zM92 11h1v1h-1zM129 11h1v1h-1zM134 11h1v1h-1zM146 11h1v1h-1zM149 11h1v1h-1zM151 11h1v1h-1zM19 12h1v1h-1zM84 12h2v1h-2zM125 12h1v1h-1zM131 12h1v1h-1zM133 12h1v1h-1zM148 12h1v1h-1zM156 12h1v1h-1zM42 13h1v1h-1zM83 13h1v1h-1zM86 13h1v1h-1zM148 13h1v1h-1zM19 14h1v1h-1zM44 14h1v1h-1zM61 14h1v1h-1zM64 14h1v1h-1zM106 14h1v1h-1zM122 14h2v1h-2zM132 14h1v1h-1zM140 14h1v1h-1zM147 14h1v1h-1zM152 14h2v1h-2zM156 14h1v1h-1zM62 15h1v1h-1zM67 15h1v1h-1zM86 15h1v1h-1zM117 15h2v1h-2zM140 15h1v1h-1zM164 15h1v1h-1zM167 15h1v1h-1zM55 16h1v1h-1zM59 16h1v1h-1zM62 16h2v1h-2zM66 16h1v1h-1zM86 16h1v1h-1zM101 16h1v1h-1zM122 16h2v1h-2zM155 16h1v1h-1zM58 17h1v1h-1zM60 17h1v1h-1zM103 17h1v1h-1zM107 17h1v1h-1zM117 17h1v1h-1zM149 17h1v1h-1zM13 18h1v1h-1zM112 18h1v1h-1zM159 18h1v1h-1zM161 18h1v1h-1zM15 19h1v1h-1zM28 19h1v1h-1zM30 19h1v1h-1zM46 19h1v1h-1zM72 19h1v1h-1zM75 19h1v1h-1zM80 19h1v1h-1zM133 19h1v1h-1zM151 19h1v1h-1zM113 20h1v1h-1zM138 20h1v1h-1zM161 20h1v1h-1zM24 21h1v1h-1zM37 21h1v1h-1zM53 21h1v1h-1zM89 21h1v1h-1zM108 21h1v1h-1zM111 21h1v1h-1zM113 21h2v1h-2zM132 21h1v1h-1zM146 21h1v1h-1zM4 22h1v1h-1zM7 22h2v1h-2zM35 22h1v1h-1zM55 22h1v1h-1zM65 22h1v1h-1zM67 22h1v1h-1zM82 22h1v1h-1zM89 22h1v1h-1zM95 22h1v1h-1zM117 22h1v1h-1zM119 22h1v1h-1zM144 22h1v1h-1zM155 22h1v1h-1zM157 22h1v1h-1zM4 23h1v1h-1zM30 23h1v1h-1zM35 23h1v1h-1zM45 23h1v1h-1zM78 23h1v1h-1zM98 23h1v1h-1zM101 23h1v1h-1zM111 23h1v1h-1zM138 23h1v1h-1zM1 24h1v1h-1zM5 24h1v1h-1zM11 24h1v1h-1zM23 24h1v1h-1zM54 24h1v1h-1zM58 24h1v1h-1zM62 24h1v1h-1zM79 24h1v1h-1zM81 24h1v1h-1zM97 24h2v1h-2zM105 24h1v1h-1zM123 24h1v1h-1zM125 24h1v1h-1zM127 24h1v1h-1zM129 24h1v1h-1zM145 24h1v1h-1zM163 24h2v1h-2zM13 25h1v1h-1zM15 25h2v1h-2zM36 25h1v1h-1zM41 25h1v1h-1zM51 25h1v1h-1zM53 25h1v1h-1zM71 25h1v1h-1zM78 25h1v1h-1zM80 25h1v1h-1zM84 25h1v1h-1zM90 25h1v1h-1zM103 25h1v1h-1zM105 25h1v1h-1zM119 25h1v1h-1zM141 25h1v1h-1zM158 25h1v1h-1zM164 25h1v1h-1zM6 26h1v1h-1zM9 26h1v1h-1zM37 26h1v1h-1zM47 26h2v1h-2zM52 26h2v1h-2zM57 26h1v1h-1zM65 26h1v1h-1zM68 26h1v1h-1zM71 26h1v1h-1zM81 26h1v1h-1zM98 26h1v1h-1zM133 26h1v1h-1zM136 26h1v1h-1zM165 26h1v1h-1zM167 26h1v1h-1zM26 27h2v1h-2zM59 27h1v1h-1zM66 27h1v1h-1zM68 27h1v1h-1zM91 27h1v1h-1zM97 27h1v1h-1zM107 27h1v1h-1zM112 27h1v1h-1zM117 27h1v1h-1zM119 27h1v1h-1zM123 27h1v1h-1zM162 27h1v1h-1zM28 28h1v1h-1zM52 28h1v1h-1zM64 28h1v1h-1zM85 28h1v1h-1zM133 28h1v1h-1zM136 28h1v1h-1zM5 29h1v1h-1zM34 29h1v1h-1zM46 29h1v1h-1zM68 29h1v1h-1zM75 29h1v1h-1zM80 29h2v1h-2zM101 29h1v1h-1zM104 29h1v1h-1zM151 29h1v1h-1zM155 29h1v1h-1zM161 29h1v1h-1zM28 30h1v1h-1zM38 30h1v1h-1zM95 30h1v1h-1zM100 30h1v1h-1zM112 30h1v1h-1zM126 30h1v1h-1zM28 31h1v1h-1zM54 31h1v1h-1zM96 31h2v1h-2zM122 31h1v1h-1zM28 32h1v1h-1zM30 32h1v1h-1zM50 32h1v1h-1zM104 32h1v1h-1zM123 32h1v1h-1zM128 32h1v1h-1zM134 32h1v1h-1zM152 32h1v1h-1zM18 33h1v1h-1zM28 33h1v1h-1zM93 33h1v1h-1zM116 33h1v1h-1zM137 33h1v1h-1zM144 33h1v1h-1zM146 33h1v1h-1zM10 34h1v1h-1zM19 34h1v1h-1zM23 34h1v1h-1zM36 34h1v1h-1zM39 34h1v1h-1zM42 34h1v1h-1zM47 34h1v1h-1zM69 34h1v1h-1zM143 34h1v1h-1zM22 35h1v1h-1zM50 35h1v1h-1zM58 35h1v1h-1zM103 35h1v1h-1zM105 35h1v1h-1zM129 35h1v1h-1zM133 35h1v1h-1zM14 36h1v1h-1zM39 36h1v1h-1zM107 36h1v1h-1zM112 36h1v1h-1zM117 36h1v1h-1zM120 36h1v1h-1zM122 36h1v1h-1zM126 36h1v1h-1zM145 36h1v1h-1zM147 36h1v1h-1zM149 36h1v1h-1zM9 37h1v1h-1zM93 37h1v1h-1zM110 37h1v1h-1zM118 37h1v1h-1zM124 37h1v1h-1zM129 37h1v1h-1zM148 37h1v1h-1zM13 38h1v1h-1zM49 38h1v1h-1zM108 38h1v1h-1zM113 38h1v1h-1zM132 38h3v1h-3zM164 38h1v1h-1zM33 39h1v1h-1zM37 39h1v1h-1zM42 39h1v1h-1zM46 39h1v1h-1zM54 39h1v1h-1zM97 39h1v1h-1zM111 39h1v1h-1zM122 39h1v1h-1zM128 39h1v1h-1zM133 39h1v1h-1zM145 39h1v1h-1zM151 39h1v1h-1zM43 40h1v1h-1zM64 40h1v1h-1zM69 40h1v1h-1zM71 40h1v1h-1zM113 40h1v1h-1zM98 41h1v1h-1zM109 41h1v1h-1zM157 41h1v1h-1zM21 42h1v1h-1zM37 42h1v1h-1zM54 42h1v1h-1zM56 42h1v1h-1zM83 42h1v1h-1zM86 42h2v1h-2zM102 42h1v1h-1zM121 42h1v1h-1zM134 42h1v1h-1zM143 42h1v1h-1zM18 43h1v1h-1zM25 43h1v1h-1zM34 43h1v1h-1zM37 43h1v1h-1zM44 43h1v1h-1zM52 43h1v1h-1zM64 43h1v1h-1zM67 43h1v1h-1zM78 43h1v1h-1zM128 43h2v1h-2zM133 43h1v1h-1zM135 43h2v1h-2zM139 43h1v1h-1zM40 44h1v1h-1zM48 44h1v1h-1zM61 44h1v1h-1zM65 44h2v1h-2zM78 44h1v1h-1zM93 44h1v1h-1zM96 44h1v1h-1zM129 44h2v1h-2zM142 44h1v1h-1zM162 44h1v1h-1zM18 45h1v1h-1zM23 45h1v1h-1zM32 45h1v1h-1zM59 45h1v1h-1zM67 45h1v1h-1zM81 45h1v1h-1zM90 45h1v1h-1zM92 45h1v1h-1zM95 45h1v1h-1zM97 45h1v1h-1zM100 45h1v1h-1zM105 45h1v1h-1zM107 45h1v1h-1zM129 45h1v1h-1zM137 45h1v1h-1zM140 45h1v1h-1zM149 45h1v1h-1zM160 45h1v1h-1zM25 46h1v1h-1zM79 46h2v1h-2zM82 46h1v1h-1zM84 46h1v1h-1zM95 46h1v1h-1zM98 46h1v1h-1zM100 46h1v1h-1zM104 46h2v1h-2zM136 46h1v1h-1zM149 46h1v1h-1zM156 46h1v1h-1zM165 46h1v1h-1zM17 47h1v1h-1zM32 47h2v1h-2zM46 47h1v1h-1zM48 47h1v1h-1zM59 47h3v1h-3zM77 47h1v1h-1zM91 47h1v1h-1zM99 47h1v1h-1zM140 47h1v1h-1zM142 47h1v1h-1zM149 47h1v1h-1zM158 47h1v1h-1zM160 47h1v1h-1zM50 48h1v1h-1zM53 48h1v1h-1zM55 48h1v1h-1zM65 48h1v1h-1zM68 48h1v1h-1zM85 48h1v1h-1zM89 48h1v1h-1zM105 48h1v1h-1zM119 48h1v1h-1zM123 48h1v1h-1zM133 48h1v1h-1zM142 48h2v1h-2zM17 49h1v1h-1zM40 49h2v1h-2zM43 49h1v1h-1zM56 49h1v1h-1zM87 49h1v1h-1zM122 49h1v1h-1zM125 49h1v1h-1zM134 49h1v1h-1zM142 49h1v1h-1zM150 49h1v1h-1zM24 50h1v1h-1zM39 50h1v1h-1zM73 50h2v1h-2zM87 50h1v1h-1zM89 50h1v1h-1zM94 50h1v1h-1zM164 50h1v1h-1zM28 51h1v1h-1zM52 51h1v1h-1zM55 51h1v1h-1zM57 51h1v1h-1zM67 51h1v1h-1zM72 51h2v1h-2zM93 51h1v1h-1zM97 51h1v1h-1zM99 51h1v1h-1zM119 51h1v1h-1zM133 51h1v1h-1zM135 51h1v1h-1zM141 51h3v1h-3zM149 51h2v1h-2zM153 51h1v1h-1zM9 52h1v1h-1zM49 52h1v1h-1zM72 52h1v1h-1zM81 52h1v1h-1zM92 52h1v1h-1zM105 52h1v1h-1zM109 52h1v1h-1zM122 52h1v1h-1zM135 52h1v1h-1zM151 52h1v1h-1zM159 52h1v1h-1zM165 52h1v1h-1zM169 52h1v1h-1zM6 53h1v1h-1zM8 53h1v1h-1zM20 53h1v1h-1zM30 53h1v1h-1zM60 53h1v1h-1zM97 53h1v1h-1zM101 53h2v1h-2zM117 53h1v1h-1zM130 53h1v1h-1zM134 53h1v1h-1zM144 53h1v1h-1zM156 53h2v1h-2zM159 53h1v1h-1zM42 54h1v1h-1zM47 54h1v1h-1zM51 54h1v1h-1zM63 54h1v1h-1zM65 54h1v1h-1zM74 54h1v1h-1zM97 54h1v1h-1zM111 54h1v1h-1zM122 54h1v1h-1zM127 54h1v1h-1zM152 54h1v1h-1zM156 54h2v1h-2zM164 54h1v1h-1zM26 55h2v1h-2zM46 55h1v1h-1zM48 55h1v1h-1zM58 55h1v1h-1zM65 55h1v1h-1zM71 55h1v1h-1zM94 55h1v1h-1zM100 55h2v1h-2zM104 55h1v1h-1zM108 55h2v1h-2zM146 55h1v1h-1zM155 55h1v1h-1zM0 56h1v1h-1zM62 56h1v1h-1zM73 56h1v1h-1zM85 56h3v1h-3zM100 56h1v1h-1zM109 56h1v1h-1zM168 56h1v1h-1zM49 57h1v1h-1zM97 57h2v1h-2zM108 57h1v1h-1zM113 57h2v1h-2zM147 57h1v1h-1zM33 58h1v1h-1zM39 58h1v1h-1zM41 58h1v1h-1zM43 58h1v1h-1zM45 58h1v1h-1zM61 58h1v1h-1zM77 58h1v1h-1zM81 58h1v1h-1zM83 58h1v1h-1zM89 58h1v1h-1zM98 58h1v1h-1zM107 58h1v1h-1zM147 58h1v1h-1zM165 58h1v1h-1zM35 59h1v1h-1zM43 59h1v1h-1zM71 59h1v1h-1zM75 59h2v1h-2zM108 59h1v1h-1zM122 59h1v1h-1zM124 59h1v1h-1zM126 59h1v1h-1zM133 59h2v1h-2zM27 60h1v1h-1zM77 60h1v1h-1zM82 60h1v1h-1zM84 60h1v1h-1zM98 60h1v1h-1zM103 60h1v1h-1zM109 60h1v1h-1zM111 60h1v1h-1zM125 60h1v1h-1zM147 60h1v1h-1zM154 60h1v1h-1zM156 60h1v1h-1zM163 60h1v1h-1zM26 61h1v1h-1zM33 61h1v1h-1zM74 61h1v1h-1zM82 61h1v1h-1zM88 61h1v1h-1zM104 61h1v1h-1zM109 61h1v1h-1zM119 61h2v1h-2zM126 61h1v1h-1zM153 61h1v1h-1zM4 62h1v1h-1zM14 62h1v1h-1zM29 62h1v1h-1zM42 62h1v1h-1zM45 62h1v1h-1zM69 62h1v1h-1zM80 62h1v1h-1zM96 62h1v1h-1zM113 62h1v1h-1zM122 62h1v1h-1zM130 62h1v1h-1zM137 62h1v1h-1zM143 62h2v1h-2zM167 62h1v1h-1zM37 63h1v1h-1zM86 63h1v1h-1zM122 63h1v1h-1zM125 63h2v1h-2zM131 63h1v1h-1zM135 63h1v1h-1zM159 63h1v1h-1zM40 64h1v1h-1zM81 64h1v1h-1zM87 64h1v1h-1zM95 64h1v1h-1zM117 64h1v1h-1zM131 64h1v1h-1zM156 64h1v1h-1zM14 65h1v1h-1zM73 65h1v1h-1zM82 65h1v1h-1zM91 65h1v1h-1zM112 65h1v1h-1zM121 65h1v1h-1zM125 65h1v1h-1zM139 65h1v1h-1zM4 66h1v1h-1zM7 66h1v1h-1zM38 66h1v1h-1zM46 66h1v1h-1zM50 66h1v1h-1zM65 66h1v1h-1zM105 66h2v1h-2zM109 66h1v1h-1zM145 66h1v1h-1zM1 67h1v1h-1zM3 67h1v1h-1zM5 67h1v1h-1zM38 67h1v1h-1zM54 67h1v1h-1zM81 67h1v1h-1zM108 67h1v1h-1zM149 67h1v1h-1zM153 67h1v1h-1zM43 68h1v1h-1zM50 68h1v1h-1zM76 68h1v1h-1zM79 68h1v1h-1zM82 68h1v1h-1zM85 68h1v1h-1zM98 68h1v1h-1zM122 68h1v1h-1zM126 68h2v1h-2zM135 68h1v1h-1zM139 68h1v1h-1zM1 69h1v1h-1zM19 69h1v1h-1zM77 69h1v1h-1zM102 69h1v1h-1zM117 69h1v1h-1zM137 69h1v1h-1zM158 69h1v1h-1zM161 69h2v1h-2zM167 69h1v1h-1zM109 70h2v1h-2zM114 70h1v1h-1zM118 70h1v1h-1zM122 70h1v1h-1zM127 70h1v1h-1zM148 70h1v1h-1zM2 71h1v1h-1zM5 71h2v1h-2zM23 71h1v1h-1zM33 71h1v1h-1zM44 71h1v1h-1zM94 71h1v1h-1zM98 71h1v1h-1zM107 71h1v1h-1zM123 71h1v1h-1zM130 71h1v1h-1zM134 71h1v1h-1zM146 71h1v1h-1zM165 71h1v1h-1zM49 72h1v1h-1zM51 72h1v1h-1zM108 72h1v1h-1zM113 72h1v1h-1zM118 72h1v1h-1zM122 72h2v1h-2zM155 72h1v1h-1zM50 73h1v1h-1zM52 73h1v1h-1zM102 73h1v1h-1zM107 73h1v1h-1zM109 73h1v1h-1zM134 73h1v1h-1zM152 73h1v1h-1zM159 73h1v1h-1zM19 74h1v1h-1zM21 74h1v1h-1zM37 74h1v1h-1zM59 74h1v1h-1zM62 74h1v1h-1zM66 74h1v1h-1zM83 74h1v1h-1zM117 74h1v1h-1zM127 74h1v1h-1zM134 74h1v1h-1zM137 74h1v1h-1zM141 74h1v1h-1zM143 74h1v1h-1zM148 74h1v1h-1zM164 74h1v1h-1zM167 74h1v1h-1zM28 75h1v1h-1zM31 75h1v1h-1zM60 75h1v1h-1zM64 75h1v1h-1zM75 75h2v1h-2zM82 75h1v1h-1zM85 75h1v1h-1zM89 75h1v1h-1zM102 75h1v1h-1zM106 75h1v1h-1zM108 75h1v1h-1zM116 75h1v1h-1zM135 75h1v1h-1zM141 75h3v1h-3zM149 75h1v1h-1z"/>
<path fill="#ece4f0" d="M2 0h1v1h-1zM16 0h1v1h-1zM31 0h2v1h-2zM83 0h1v1h-1zM89 0h1v1h-1zM91 0h2v1h-2zM95 0h1v1h-1zM111 0h1v1h-1zM126 0h1v1h-1zM129 0h1v1h-1zM2 1h1v1h-1zM10 1h1v1h-1zM47 1h1v1h-1zM66 1h1v1h-1zM69 1h1v1h-1zM74 1h2v1h-2zM77 1h1v1h-1zM80 1h1v1h-1zM86 1h2v1h-2zM115 1h1v1h-1zM139 1h1v1h-1zM14 2h1v1h-1zM18 2h1v1h-1zM20 2h2v1h-2zM43 2h1v1h-1zM91 2h1v1h-1zM125 2h1v1h-1zM20 3h1v1h-1zM61 3h1v1h-1zM90 3h2v1h-2zM94 3h2v1h-2zM100 3h1v1h-1zM122 3h1v1h-1zM10 4h1v1h-1zM20 4h1v1h-1zM38 4h1v1h-1zM45 4h1v1h-1zM93 4h2v1h-2zM99 4h1v1h-1zM105 4h1v1h-1zM107 4h1v1h-1zM109 4h1v1h-1zM119 4h1v1h-1zM155 4h1v1h-1zM11 5h1v1h-1zM28 5h1v1h-1zM33 5h2v1h-2zM42 5h1v1h-1zM69 5h1v1h-1zM71 5h1v1h-1zM97 5h1v1h-1zM103 5h1v1h-1zM107 5h3v1h-3zM139 5h1v1h-1zM159 5h1v1h-1zM23 6h1v1h-1zM37 6h1v1h-1zM49 6h1v1h-1zM72 6h1v1h-1zM100 6h1v1h-1zM109 6h1v1h-1zM140 6h1v1h-1zM55 7h1v1h-1zM58 7h1v1h-1zM81 7h1v1h-1zM99 7h1v1h-1zM109 7h1v1h-1zM164 7h1v1h-1zM14 8h1v1h-1zM26 8h1v1h-1zM46 8h1v1h-1zM75 8h1v1h-1zM161 8h1v1h-1zM16 9h1v1h-1zM44 9h1v1h-1zM71 9h1v1h-1zM78 9h1v1h-1zM104 9h1v1h-1zM151 9h1v1h-1zM39 10h1v1h-1zM60 10h1v1h-1zM62 10h1v1h-1zM66 10h1v1h-1zM83 10h2v1h-2zM107 10h1v1h-1zM125 10h1v1h-1zM128 10h1v1h-1zM11 11h2v1h-2zM83 11h1v1h-1zM85 11h1v1h-1zM98 11h1v1h-1zM122 11h1v1h-1zM125 11h1v1h-1zM141 11h1v1h-1zM7 12h1v1h-1zM42 12h1v1h-1zM45 12h1v1h-1zM59 12h1v1h-1zM62 12h1v1h-1zM75 12h1v1h-1zM77 12h1v1h-1zM86 12h1v1h-1zM119 12h1v1h-1zM130 12h1v1h-1zM147 12h1v1h-1zM154 12h1v1h-1zM21 13h1v1h-1zM50 13h1v1h-1zM63 13h1v1h-1zM75 13h1v1h-1zM91 13h1v1h-1zM104 13h1v1h-1zM117 13h1v1h-1zM137 13h1v1h-1zM158 13h1v1h-1zM165 13h1v1h-1zM2 14h1v1h-1zM6 14h1v1h-1zM60 14h1v1h-1zM78 14h1v1h-1zM102 14h1v1h-1zM118 14h1v1h-1zM142 14h1v1h-1zM51 15h1v1h-1zM66 15h1v1h-1zM84 15h1v1h-1zM110 15h1v1h-1zM114 15h2v1h-2zM154 15h1v1h-1zM162 15h1v1h-1zM36 16h1v1h-1zM38 16h1v1h-1zM64 16h1v1h-1zM78 16h1v1h-1zM83 16h1v1h-1zM109 16h1v1h-1zM127 16h1v1h-1zM130 16h1v1h-1zM140 16h1v1h-1zM144 16h1v1h-1zM148 16h1v1h-1zM150 16h2v1h-2zM159 16h1v1h-1zM20 17h1v1h-1zM55 17h1v1h-1zM59 17h1v1h-1zM65 17h3v1h-3zM153 17h1v1h-1zM37 18h1v1h-1zM44 18h1v1h-1zM50 18h1v1h-1zM65 18h1v1h-1zM68 18h1v1h-1zM117 18h1v1h-1zM126 18h1v1h-1zM153 18h1v1h-1zM158 18h1v1h-1zM164 18h1v1h-1zM101 19h2v1h-2zM111 19h1v1h-1zM113 19h1v1h-1zM131 19h1v1h-1zM153 19h1v1h-1zM155 19h1v1h-1zM24 20h1v1h-1zM26 20h1v1h-1zM30 20h1v1h-1zM51 20h1v1h-1zM58 20h1v1h-1zM60 20h1v1h-1zM69 20h1v1h-1zM72 20h1v1h-1zM77 20h1v1h-1zM97 20h1v1h-1zM124 20h1v1h-1zM128 20h1v1h-1zM144 20h1v1h-1zM149 20h1v1h-1zM160 20h1v1h-1zM22 21h1v1h-1zM42 21h1v1h-1zM45 21h1v1h-1zM58 21h1v1h-1zM72 21h1v1h-1zM110 21h1v1h-1zM123 21h1v1h-1zM131 21h1v1h-1zM134 21h1v1h-1zM145 21h1v1h-1zM156 21h1v1h-1zM163 21h1v1h-1zM33 22h1v1h-1zM63 22h1v1h-1zM79 22h1v1h-1zM92 22h1v1h-1zM101 22h1v1h-1zM108 22h1v1h-1zM110 22h1v1h-1zM118 22h1v1h-1zM120 22h1v1h-1zM122 22h1v1h-1zM125 22h1v1h-1zM135 22h1v1h-1zM145 22h1v1h-1zM153 22h1v1h-1zM10 23h1v1h-1zM65 23h1v1h-1zM70 23h1v1h-1zM72 23h1v1h-1zM80 23h1v1h-1zM92 23h1v1h-1zM100 23h1v1h-1zM115 23h3v1h-3zM125 23h2v1h-2zM129 23h1v1h-1zM147 23h1v1h-1zM159 23h1v1h-1zM34 24h1v1h-1zM55 24h1v1h-1zM67 24h1v1h-1zM72 24h1v1h-1zM80 24h1v1h-1zM86 24h2v1h-2zM104 24h1v1h-1zM110 24h1v1h-1zM152 24h2v1h-2zM23 25h1v1h-1zM34 25h1v1h-1zM38 25h1v1h-1zM60 25h1v1h-1zM70 25h1v1h-1zM74 25h1v1h-1zM77 25h1v1h-1zM82 25h1v1h-1zM120 25h2v1h-2zM126 25h1v1h-1zM134 25h1v1h-1zM156 25h1v1h-1zM166 25h1v1h-1zM18 26h1v1h-1zM20 26h1v1h-1zM25 26h1v1h-1zM30 26h1v1h-1zM79 26h1v1h-1zM149 26h1v1h-1zM9 27h1v1h-1zM57 27h1v1h-1zM62 27h1v1h-1zM80 27h2v1h-2zM83 27h1v1h-1zM101 27h1v1h-1zM115 27h1v1h-1zM143 27h1v1h-1zM153 27h1v1h-1zM159 27h1v1h-1zM161 27h1v1h-1zM167 27h1v1h-1zM2 28h1v1h-1zM19 28h1v1h-1zM21 28h1v1h-1zM43 28h1v1h-1zM45 28h1v1h-1zM127 28h1v1h-1zM151 28h1v1h-1zM165 28h1v1h-1zM1 29h1v1h-1zM12 29h1v1h-1zM30 29h1v1h-1zM32 29h1v1h-1zM35 29h1v1h-1zM44 29h1v1h-1zM66 29h1v1h-1zM84 29h1v1h-1zM99 29h1v1h-1zM108 29h1v1h-1zM114 29h1v1h-1zM131 29h1v1h-1zM140 29h1v1h-1zM11 30h1v1h-1zM15 30h1v1h-1zM62 30h1v1h-1zM87 30h1v1h-1zM90 30h1v1h-1zM16 31h1v1h-1zM22 31h1v1h-1zM30 31h1v1h-1zM33 31h1v1h-1zM83 31h1v1h-1zM95 31h1v1h-1zM110 31h3v1h-3zM10 32h1v1h-1zM25 32h1v1h-1zM95 32h1v1h-1zM117 32h1v1h-1zM120 32h1v1h-1zM131 32h1v1h-1zM144 32h1v1h-1zM150 32h1v1h-1zM153 32h1v1h-1zM13 33h1v1h-1zM74 33h1v1h-1zM113 33h1v1h-1zM115 33h1v1h-1zM128 33h1v1h-1zM135 33h1v1h-1zM153 33h2v1h-2zM37 34h1v1h-1zM44 34h1v1h-1zM89 34h1v1h-1zM102 34h1v1h-1zM110 34h2v1h-2zM141 34h1v1h-1zM8 35h1v1h-1zM23 35h1v1h-1zM27 35h1v1h-1zM30 35h1v1h-1zM102 35h1v1h-1zM125 35h1v1h-1zM134 35h1v1h-1zM140 35h1v1h-1zM26 36h1v1h-1zM94 36h1v1h-1zM109 36h1v1h-1zM123 36h1v1h-1zM128 36h1v1h-1zM130 36h1v1h-1zM133 36h1v1h-1zM27 37h1v1h-1zM39 37h1v1h-1zM116 37h1v1h-1zM120 37h1v1h-1zM134 37h1v1h-1zM136 37h1v1h-1zM156 37h1v1h-1zM30 38h1v1h-1zM102 38h1v1h-1zM115 38h2v1h-2zM120 38h1v1h-1zM139 38h1v1h-1zM12 39h1v1h-1zM45 39h1v1h-1zM60 39h1v1h-1zM110 39h1v1h-1zM115 39h1v1h-1zM118 39h1v1h-1zM123 39h1v1h-1zM125 39h1v1h-1zM140 39h1v1h-1zM156 39h1v1h-1zM166 39h1v1h-1zM31 40h1v1h-1zM45 40h1v1h-1zM47 40h1v1h-1zM66 40h1v1h-1zM70 40h1v1h-1zM87 40h1v1h-1zM92 40h1v1h-1zM110 40h1v1h-1zM130 40h1v1h-1zM27 41h1v1h-1zM36 41h1v1h-1zM45 41h1v1h-1zM48 41h3v1h-3zM69 41h1v1h-1zM118 41h1v1h-1zM139 41h1v1h-1zM17 42h1v1h-1zM59 42h1v1h-1zM62 42h1v1h-1zM64 42h1v1h-1zM135 42h1v1h-1zM149 42h1v1h-1zM156 42h1v1h-1zM42 43h1v1h-1zM56 43h1v1h-1zM85 43h1v1h-1zM105 43h1v1h-1zM138 43h1v1h-1zM159 43h1v1h-1zM42 44h2v1h-2zM45 44h1v1h-1zM47 44h1v1h-1zM63 44h1v1h-1zM70 44h1v1h-1zM85 44h1v1h-1zM89 44h1v1h-1zM95 44h1v1h-1zM98 44h1v1h-1zM101 44h1v1h-1zM116 44h1v1h-1zM126 44h1v1h-1zM153 44h1v1h-1zM60 45h1v1h-1zM108 45h1v1h-1zM133 45h1v1h-1zM142 45h1v1h-1zM146 45h1v1h-1zM153 45h1v1h-1zM20 46h2v1h-2zM29 46h1v1h-1zM43 46h1v1h-1zM52 46h1v1h-1zM56 46h1v1h-1zM63 46h1v1h-1zM74 46h1v1h-1zM77 46h1v1h-1zM87 46h1v1h-1zM94 46h1v1h-1zM122 46h2v1h-2zM139 46h1v1h-1zM155 46h1v1h-1zM21 47h1v1h-1zM27 47h1v1h-1zM38 47h1v1h-1zM56 47h1v1h-1zM66 47h1v1h-1zM74 47h1v1h-1zM79 47h1v1h-1zM82 47h1v1h-1zM84 47h1v1h-1zM100 47h1v1h-1zM144 47h1v1h-1zM153 47h1v1h-1zM157 47h1v1h-1zM162 47h1v1h-1zM20 48h1v1h-1zM26 48h1v1h-1zM28 48h1v1h-1zM54 48h1v1h-1zM66 48h1v1h-1zM84 48h1v1h-1zM88 48h1v1h-1zM98 48h1v1h-1zM120 48h1v1h-1zM125 48h2v1h-2zM130 48h1v1h-1zM132 48h1v1h-1zM135 48h1v1h-1zM139 48h1v1h-1zM46 49h1v1h-1zM53 49h1v1h-1zM55 49h1v1h-1zM58 49h1v1h-1zM66 49h1v1h-1zM71 49h1v1h-1zM94 49h1v1h-1zM97 49h1v1h-1zM100 49h1v1h-1zM10 50h1v1h-1zM16 50h1v1h-1zM20 50h1v1h-1zM25 50h1v1h-1zM35 50h1v1h-1zM43 50h1v1h-1zM55 50h1v1h-1zM65 50h1v1h-1zM88 50h1v1h-1zM91 50h1v1h-1zM102 50h2v1h-2zM106 50h1v1h-1zM110 50h2v1h-2zM119 50h1v1h-1zM122 50h1v1h-1zM124 50h1v1h-1zM135 50h1v1h-1zM138 50h1v1h-1zM146 50h1v1h-1zM157 50h1v1h-1zM47 51h1v1h-1zM50 51h1v1h-1zM65 51h1v1h-1zM70 51h1v1h-1zM80 51h1v1h-1zM106 51h1v1h-1zM130 51h1v1h-1zM132 51h1v1h-1zM156 51h1v1h-1zM162 51h1v1h-1zM10 52h2v1h-2zM13 52h1v1h-1zM19 52h1v1h-1zM22 52h1v1h-1zM32 52h2v1h-2zM61 52h1v1h-1zM64 52h1v1h-1zM75 52h1v1h-1zM84 52h1v1h-1zM90 52h1v1h-1zM96 52h1v1h-1zM98 52h1v1h-1zM100 52h1v1h-1zM116 52h1v1h-1zM124 52h1v1h-1zM133 52h1v1h-1zM136 52h1v1h-1zM152 52h1v1h-1zM162 52h2v1h-2zM166 52h1v1h-1zM5 53h1v1h-1zM10 53h1v1h-1zM39 53h1v1h-1zM52 53h1v1h-1zM55 53h1v1h-1zM58 53h1v1h-1zM74 53h1v1h-1zM84 53h2v1h-2zM88 53h1v1h-1zM90 53h1v1h-1zM96 53h1v1h-1zM103 53h1v1h-1zM109 53h1v1h-1zM114 53h1v1h-1zM119 53h1v1h-1zM127 53h1v1h-1zM138 53h1v1h-1zM149 53h1v1h-1zM152 53h1v1h-1zM162 53h1v1h-1zM165 53h1v1h-1zM31 54h1v1h-1zM52 54h1v1h-1zM67 54h1v1h-1zM72 54h2v1h-2zM75 54h1v1h-1zM81 54h1v1h-1zM90 54h1v1h-1zM101 54h1v1h-1zM123 54h1v1h-1zM135 54h1v1h-1zM140 54h1v1h-1zM147 54h1v1h-1zM151 54h1v1h-1zM22 55h1v1h-1zM44 55h1v1h-1zM60 55h2v1h-2zM75 55h1v1h-1zM77 55h1v1h-1zM90 55h1v1h-1zM92 55h1v1h-1zM119 55h1v1h-1zM124 55h1v1h-1zM129 55h1v1h-1zM135 55h1v1h-1zM144 55h1v1h-1zM161 55h2v1h-2zM164 55h1v1h-1zM167 55h1v1h-1zM8 56h1v1h-1zM20 56h1v1h-1zM22 56h1v1h-1zM28 56h1v1h-1zM31 56h1v1h-1zM34 56h1v1h-1zM37 56h1v1h-1zM49 56h1v1h-1zM97 56h1v1h-1zM113 56h1v1h-1zM143 56h1v1h-1zM3 57h1v1h-1zM9 57h1v1h-1zM21 57h1v1h-1zM51 57h1v1h-1zM56 57h1v1h-1zM92 57h1v1h-1zM100 57h1v1h-1zM110 57h1v1h-1zM112 57h1v1h-1zM115 57h2v1h-2zM127 57h1v1h-1zM53 58h1v1h-1zM69 58h1v1h-1zM105 58h1v1h-1zM109 58h1v1h-1zM115 58h1v1h-1zM121 58h1v1h-1zM135 58h1v1h-1zM26 59h1v1h-1zM46 59h2v1h-2zM54 59h1v1h-1zM73 59h1v1h-1zM94 59h1v1h-1zM110 59h1v1h-1zM135 59h1v1h-1zM164 59h2v1h-2zM13 60h1v1h-1zM32 60h1v1h-1zM52 60h1v1h-1zM116 60h1v1h-1zM120 60h1v1h-1zM127 60h1v1h-1zM135 60h1v1h-1zM162 60h1v1h-1zM169 60h1v1h-1zM13 61h1v1h-1zM58 61h1v1h-1zM68 61h1v1h-1zM70 61h1v1h-1zM72 61h1v1h-1zM75 61h1v1h-1zM106 61h1v1h-1zM130 61h1v1h-1zM150 61h1v1h-1zM25 62h1v1h-1zM35 62h1v1h-1zM66 62h1v1h-1zM68 62h1v1h-1zM74 62h2v1h-2zM83 62h1v1h-1zM91 62h1v1h-1zM121 62h1v1h-1zM125 62h2v1h-2zM36 63h1v1h-1zM41 63h1v1h-1zM67 63h1v1h-1zM72 63h1v1h-1zM83 63h1v1h-1zM88 63h1v1h-1zM99 63h1v1h-1zM138 63h1v1h-1zM144 63h1v1h-1zM162 63h1v1h-1zM3 64h1v1h-1zM12 64h1v1h-1zM75 64h1v1h-1zM79 64h1v1h-1zM84 64h1v1h-1zM120 64h1v1h-1zM136 64h1v1h-1zM167 64h1v1h-1zM20 65h1v1h-1zM46 65h1v1h-1zM48 65h1v1h-1zM68 65h1v1h-1zM70 65h1v1h-1zM86 65h1v1h-1zM89 65h1v1h-1zM108 65h1v1h-1zM117 65h2v1h-2zM133 65h1v1h-1zM3 66h1v1h-1zM45 66h1v1h-1zM77 66h2v1h-2zM81 66h1v1h-1zM92 66h1v1h-1zM97 66h1v1h-1zM104 66h1v1h-1zM120 66h1v1h-1zM122 66h1v1h-1zM126 66h1v1h-1zM22 67h1v1h-1zM25 67h1v1h-1zM33 67h1v1h-1zM60 67h1v1h-1zM80 67h1v1h-1zM86 67h1v1h-1zM98 67h1v1h-1zM119 67h1v1h-1zM139 67h1v1h-1zM148 67h1v1h-1zM151 67h1v1h-1zM11 68h2v1h-2zM14 68h1v1h-1zM39 68h1v1h-1zM89 68h1v1h-1zM93 68h1v1h-1zM109 68h2v1h-2zM114 68h1v1h-1zM128 68h1v1h-1zM141 68h1v1h-1zM146 68h1v1h-1zM159 68h1v1h-1zM161 68h1v1h-1zM13 69h1v1h-1zM20 69h1v1h-1zM23 69h1v1h-1zM31 69h1v1h-1zM44 69h1v1h-1zM74 69h1v1h-1zM76 69h1v1h-1zM84 69h1v1h-1zM97 69h1v1h-1zM107 69h2v1h-2zM110 69h1v1h-1zM123 69h1v1h-1zM126 69h1v1h-1zM138 69h2v1h-2zM144 69h1v1h-1zM146 69h1v1h-1zM148 69h1v1h-1zM6 70h1v1h-1zM44 70h1v1h-1zM46 70h1v1h-1zM59 70h1v1h-1zM117 70h1v1h-1zM124 70h1v1h-1zM144 70h1v1h-1zM153 70h1v1h-1zM8 71h1v1h-1zM39 71h1v1h-1zM43 71h1v1h-1zM48 71h2v1h-2zM58 71h1v1h-1zM122 71h1v1h-1zM140 71h1v1h-1zM156 71h1v1h-1zM10 72h1v1h-1zM13 72h1v1h-1zM55 72h1v1h-1zM59 72h1v1h-1zM81 72h1v1h-1zM98 72h1v1h-1zM100 72h1v1h-1zM104 72h1v1h-1zM151 72h1v1h-1zM19 73h1v1h-1zM25 73h1v1h-1zM33 73h1v1h-1zM54 73h1v1h-1zM57 73h1v1h-1zM98 73h1v1h-1zM112 73h1v1h-1zM136 73h2v1h-2zM155 73h1v1h-1zM158 73h1v1h-1zM20 74h1v1h-1zM29 74h1v1h-1zM61 74h1v1h-1zM71 74h1v1h-1zM78 74h2v1h-2zM84 74h1v1h-1zM107 74h1v1h-1zM111 74h1v1h-1zM115 74h2v1h-2zM123 74h1v1h-1zM130 74h1v1h-1zM140 74h1v1h-1zM144 74h1v1h-1zM18 75h1v1h-1zM20 75h1v1h-1zM29 75h1v1h-1zM36 75h1v1h-1zM40 75h1v1h-1zM52 75h1v1h-1zM61 75h1v1h-1zM72 75h1v1h-1zM84 75h1v1h-1zM88 75h1v1h-1zM119 75h1v1h-1zM129 75h1v1h-1zM133 75h2v1h-2zM157 75h1v1h-1z"/>
<path fill="#f4edef" d="M3 0h1v1h-1zM68 0h1v1h-1zM93 0h1v1h-1zM156 0h1v1h-1zM159 0h1v1h-1zM67 1h1v1h-1zM85 1h1v1h-1zM105 1h1v1h-1zM114 1h1v1h-1zM122 1h1v1h-1zM126 1h1v1h-1zM9 2h1v1h-1zM36 2h1v1h-1zM61 2h1v1h-1zM63 2h1v1h-1zM68 2h2v1h-2zM72 2h1v1h-1zM74 2h1v1h-1zM108 2h1v1h-1zM140 2h1v1h-1zM142 2h1v1h-1zM157 2h1v1h-1zM5 3h1v1h-1zM11 3h1v1h-1zM45 3h1v1h-1zM72 3h1v1h-1zM74 3h1v1h-1zM76 3h1v1h-1zM80 3h1v1h-1zM99 3h1v1h-1zM116 3h1v1h-1zM125 3h1v1h-1zM140 3h1v1h-1zM2 4h1v1h-1zM12 4h1v1h-1zM25 4h1v1h-1zM42 4h1v1h-1zM48 4h1v1h-1zM61 4h1v1h-1zM74 4h1v1h-1zM81 4h1v1h-1zM83 4h1v1h-1zM86 4h1v1h-1zM95 4h1v1h-1zM101 4h1v1h-1zM115 4h1v1h-1zM125 4h1v1h-1zM132 4h1v1h-1zM139 4h1v1h-1zM25 5h1v1h-1zM49 5h1v1h-1zM78 5h1v1h-1zM93 5h1v1h-1zM96 5h1v1h-1zM100 5h1v1h-1zM105 5h1v1h-1zM137 5h1v1h-1zM163 5h1v1h-1zM13 6h1v1h-1zM15 6h1v1h-1zM57 6h1v1h-1zM64 6h1v1h-1zM90 6h2v1h-2zM139 6h1v1h-1zM162 6h1v1h-1zM6 7h1v1h-1zM17 7h1v1h-1zM101 7h1v1h-1zM161 7h1v1h-1zM163 7h1v1h-1zM43 8h1v1h-1zM54 8h1v1h-1zM67 8h1v1h-1zM70 8h1v1h-1zM76 8h1v1h-1zM78 8h1v1h-1zM81 8h1v1h-1zM100 8h1v1h-1zM120 8h2v1h-2zM155 8h1v1h-1zM5 9h1v1h-1zM21 9h1v1h-1zM24 9h1v1h-1zM60 9h1v1h-1zM62 9h1v1h-1zM77 9h1v1h-1zM83 9h1v1h-1zM88 9h1v1h-1zM94 9h1v1h-1zM106 9h1v1h-1zM122 9h1v1h-1zM126 9h1v1h-1zM139 9h1v1h-1zM9 10h1v1h-1zM16 10h1v1h-1zM19 10h1v1h-1zM25 10h2v1h-2zM80 10h1v1h-1zM82 10h1v1h-1zM86 10h1v1h-1zM92 10h1v1h-1zM117 10h1v1h-1zM119 10h1v1h-1zM151 10h1v1h-1zM1 11h1v1h-1zM28 11h1v1h-1zM61 11h1v1h-1zM86 11h2v1h-2zM90 11h2v1h-2zM119 11h1v1h-1zM130 11h1v1h-1zM135 11h1v1h-1zM35 12h1v1h-1zM67 12h1v1h-1zM82 12h1v1h-1zM113 12h1v1h-1zM128 12h1v1h-1zM152 12h1v1h-1zM158 12h1v1h-1zM163 12h2v1h-2zM4 13h1v1h-1zM29 13h1v1h-1zM36 13h2v1h-2zM62 13h1v1h-1zM64 13h1v1h-1zM68 13h2v1h-2zM82 13h1v1h-1zM116 13h1v1h-1zM134 13h1v1h-1zM25 14h1v1h-1zM55 14h1v1h-1zM59 14h1v1h-1zM67 14h1v1h-1zM90 14h1v1h-1zM116 14h1v1h-1zM127 14h2v1h-2zM130 14h1v1h-1zM158 14h1v1h-1zM164 14h1v1h-1zM3 15h1v1h-1zM30 15h1v1h-1zM68 15h1v1h-1zM81 15h1v1h-1zM107 15h1v1h-1zM127 15h1v1h-1zM138 15h1v1h-1zM61 16h1v1h-1zM67 16h1v1h-1zM79 16h1v1h-1zM102 16h1v1h-1zM112 16h1v1h-1zM118 16h1v1h-1zM131 16h1v1h-1zM149 16h1v1h-1zM153 16h1v1h-1zM158 16h1v1h-1zM13 17h1v1h-1zM56 17h1v1h-1zM78 17h1v1h-1zM102 17h1v1h-1zM105 17h1v1h-1zM110 17h1v1h-1zM137 17h1v1h-1zM2 18h1v1h-1zM8 18h1v1h-1zM40 18h1v1h-1zM57 18h1v1h-1zM96 18h1v1h-1zM100 18h1v1h-1zM109 18h1v1h-1zM136 18h1v1h-1zM140 18h1v1h-1zM154 18h2v1h-2zM162 18h1v1h-1zM34 19h1v1h-1zM57 19h1v1h-1zM66 19h1v1h-1zM76 19h1v1h-1zM117 19h1v1h-1zM132 19h1v1h-1zM152 19h1v1h-1zM162 19h1v1h-1zM56 20h1v1h-1zM66 20h2v1h-2zM76 20h1v1h-1zM79 20h1v1h-1zM110 20h1v1h-1zM121 20h1v1h-1zM126 20h1v1h-1zM134 20h1v1h-1zM146 20h1v1h-1zM154 20h1v1h-1zM156 20h1v1h-1zM2 21h1v1h-1zM25 21h1v1h-1zM62 21h1v1h-1zM93 21h1v1h-1zM101 21h1v1h-1zM112 21h1v1h-1zM119 21h1v1h-1zM135 21h1v1h-1zM9 22h1v1h-1zM48 22h1v1h-1zM72 22h1v1h-1zM78 22h1v1h-1zM86 22h1v1h-1zM91 22h1v1h-1zM105 22h1v1h-1zM115 22h1v1h-1zM124 22h1v1h-1zM134 22h1v1h-1zM151 22h2v1h-2zM154 22h1v1h-1zM158 22h1v1h-1zM12 23h1v1h-1zM46 23h1v1h-1zM60 23h1v1h-1zM85 23h2v1h-2zM94 23h1v1h-1zM102 23h1v1h-1zM105 23h2v1h-2zM110 23h1v1h-1zM145 23h1v1h-1zM18 24h1v1h-1zM28 24h1v1h-1zM38 24h1v1h-1zM56 24h2v1h-2zM82 24h1v1h-1zM122 24h1v1h-1zM128 24h1v1h-1zM144 24h1v1h-1zM146 24h1v1h-1zM162 24h1v1h-1zM20 25h1v1h-1zM22 25h1v1h-1zM52 25h1v1h-1zM66 25h1v1h-1zM75 25h1v1h-1zM94 25h1v1h-1zM96 25h1v1h-1zM100 25h2v1h-2zM147 25h1v1h-1zM151 25h1v1h-1zM167 25h1v1h-1zM7 26h1v1h-1zM24 26h1v1h-1zM59 26h1v1h-1zM70 26h1v1h-1zM80 26h1v1h-1zM85 26h1v1h-1zM92 26h1v1h-1zM97 26h1v1h-1zM101 26h1v1h-1zM109 26h1v1h-1zM121 26h1v1h-1zM123 26h1v1h-1zM42 27h1v1h-1zM69 27h1v1h-1zM84 27h1v1h-1zM106 27h1v1h-1zM109 27h1v1h-1zM111 27h1v1h-1zM116 27h1v1h-1zM124 27h1v1h-1zM142 27h1v1h-1zM147 27h1v1h-1zM9 28h1v1h-1zM25 28h1v1h-1zM91 28h1v1h-1zM104 28h1v1h-1zM117 28h1v1h-1zM123 28h1v1h-1zM138 28h2v1h-2zM145 28h1v1h-1zM8 29h1v1h-1zM10 29h1v1h-1zM88 29h1v1h-1zM100 29h1v1h-1zM106 29h2v1h-2zM128 29h1v1h-1zM130 29h1v1h-1zM3 30h1v1h-1zM19 30h2v1h-2zM27 30h1v1h-1zM31 30h1v1h-1zM81 30h1v1h-1zM111 30h1v1h-1zM140 30h1v1h-1zM41 31h1v1h-1zM47 31h1v1h-1zM62 31h1v1h-1zM73 31h1v1h-1zM118 31h1v1h-1zM130 31h1v1h-1zM132 31h1v1h-1zM40 32h1v1h-1zM115 32h1v1h-1zM118 32h1v1h-1zM124 32h1v1h-1zM135 32h1v1h-1zM151 32h1v1h-1zM155 32h1v1h-1zM24 33h1v1h-1zM54 33h1v1h-1zM117 33h1v1h-1zM119 33h2v1h-2zM122 33h1v1h-1zM129 33h1v1h-1zM34 34h1v1h-1zM66 34h1v1h-1zM112 34h1v1h-1zM130 34h1v1h-1zM144 34h1v1h-1zM18 35h1v1h-1zM114 35h1v1h-1zM124 35h1v1h-1zM20 36h1v1h-1zM49 36h1v1h-1zM58 36h1v1h-1zM106 36h1v1h-1zM121 36h1v1h-1zM134 36h1v1h-1zM21 37h1v1h-1zM36 37h1v1h-1zM44 37h1v1h-1zM82 37h1v1h-1zM113 37h1v1h-1zM125 37h1v1h-1zM131 37h1v1h-1zM135 37h1v1h-1zM11 38h1v1h-1zM22 38h1v1h-1zM37 38h1v1h-1zM44 38h1v1h-1zM63 38h1v1h-1zM91 38h1v1h-1zM117 38h2v1h-2zM126 38h1v1h-1zM144 38h1v1h-1zM41 39h1v1h-1zM48 39h1v1h-1zM58 39h1v1h-1zM87 39h1v1h-1zM89 39h1v1h-1zM121 39h1v1h-1zM10 40h1v1h-1zM23 40h1v1h-1zM33 40h1v1h-1zM37 40h2v1h-2zM46 40h1v1h-1zM50 40h1v1h-1zM72 40h1v1h-1zM80 40h1v1h-1zM82 40h1v1h-1zM91 40h1v1h-1zM127 40h1v1h-1zM144 40h1v1h-1zM7 41h1v1h-1zM24 41h1v1h-1zM39 41h1v1h-1zM74 41h1v1h-1zM85 41h1v1h-1zM112 41h1v1h-1zM127 41h1v1h-1zM156 41h1v1h-1zM23 42h1v1h-1zM32 42h2v1h-2zM65 42h1v1h-1zM67 42h1v1h-1zM77 42h1v1h-1zM93 42h1v1h-1zM112 42h1v1h-1zM114 42h1v1h-1zM116 42h1v1h-1zM122 42h1v1h-1zM128 42h1v1h-1zM133 42h1v1h-1zM157 42h1v1h-1zM164 42h1v1h-1zM24 43h1v1h-1zM47 43h1v1h-1zM63 43h1v1h-1zM80 43h1v1h-1zM113 43h1v1h-1zM130 43h2v1h-2zM137 43h1v1h-1zM150 43h1v1h-1zM22 44h1v1h-1zM44 44h1v1h-1zM62 44h1v1h-1zM100 44h1v1h-1zM119 44h1v1h-1zM128 44h1v1h-1zM131 44h1v1h-1zM146 44h1v1h-1zM164 44h1v1h-1zM6 45h1v1h-1zM11 45h1v1h-1zM16 45h1v1h-1zM43 45h1v1h-1zM62 45h2v1h-2zM110 45h1v1h-1zM114 45h1v1h-1zM139 45h1v1h-1zM150 45h1v1h-1zM24 46h1v1h-1zM38 46h1v1h-1zM57 46h1v1h-1zM62 46h1v1h-1zM67 46h1v1h-1zM83 46h1v1h-1zM90 46h1v1h-1zM96 46h2v1h-2zM99 46h1v1h-1zM127 46h1v1h-1zM129 46h1v1h-1zM143 46h2v1h-2zM146 46h1v1h-1zM151 46h1v1h-1zM25 47h1v1h-1zM62 47h2v1h-2zM93 47h1v1h-1zM95 47h1v1h-1zM133 47h1v1h-1zM143 47h1v1h-1zM155 47h1v1h-1zM23 48h1v1h-1zM31 48h1v1h-1zM42 48h1v1h-1zM44 48h1v1h-1zM56 48h1v1h-1zM63 48h1v1h-1zM94 48h1v1h-1zM101 48h1v1h-1zM124 48h1v1h-1zM131 48h1v1h-1zM134 48h1v1h-1zM141 48h1v1h-1zM150 48h1v1h-1zM159 48h1v1h-1zM161 48h1v1h-1zM24 49h1v1h-1zM37 49h1v1h-1zM52 49h1v1h-1zM54 49h1v1h-1zM59 49h1v1h-1zM63 49h1v1h-1zM68 49h1v1h-1zM80 49h1v1h-1zM95 49h1v1h-1zM132 49h1v1h-1zM135 49h2v1h-2zM22 50h1v1h-1zM27 50h1v1h-1zM49 50h1v1h-1zM56 50h2v1h-2zM92 50h1v1h-1zM98 50h2v1h-2zM123 50h1v1h-1zM158 50h1v1h-1zM6 51h1v1h-1zM29 51h2v1h-2zM34 51h1v1h-1zM43 51h1v1h-1zM53 51h1v1h-1zM63 51h1v1h-1zM66 51h1v1h-1zM69 51h1v1h-1zM78 51h1v1h-1zM90 51h2v1h-2zM104 51h1v1h-1zM122 51h2v1h-2zM134 51h1v1h-1zM154 51h2v1h-2zM161 51h1v1h-1zM164 51h1v1h-1zM167 51h1v1h-1zM2 52h1v1h-1zM23 52h1v1h-1zM29 52h1v1h-1zM70 52h1v1h-1zM94 52h2v1h-2zM99 52h1v1h-1zM101 52h1v1h-1zM104 52h1v1h-1zM115 52h1v1h-1zM119 52h1v1h-1zM134 52h1v1h-1zM138 52h2v1h-2zM141 52h1v1h-1zM148 52h1v1h-1zM3 53h1v1h-1zM12 53h1v1h-1zM31 53h1v1h-1zM48 53h1v1h-1zM87 53h1v1h-1zM106 53h1v1h-1zM123 53h1v1h-1zM126 53h1v1h-1zM131 53h1v1h-1zM133 53h1v1h-1zM139 53h1v1h-1zM28 54h1v1h-1zM35 54h1v1h-1zM59 54h1v1h-1zM61 54h1v1h-1zM82 54h1v1h-1zM92 54h1v1h-1zM94 54h1v1h-1zM105 54h2v1h-2zM109 54h1v1h-1zM120 54h1v1h-1zM125 54h1v1h-1zM129 54h1v1h-1zM131 54h1v1h-1zM11 55h1v1h-1zM30 55h1v1h-1zM35 55h1v1h-1zM51 55h1v1h-1zM57 55h1v1h-1zM67 55h1v1h-1zM74 55h1v1h-1zM78 55h1v1h-1zM87 55h1v1h-1zM105 55h2v1h-2zM121 55h1v1h-1zM125 55h2v1h-2zM128 55h1v1h-1zM145 55h1v1h-1zM153 55h1v1h-1zM163 55h1v1h-1zM19 56h1v1h-1zM38 56h1v1h-1zM40 56h1v1h-1zM46 56h1v1h-1zM51 56h1v1h-1zM58 56h1v1h-1zM68 56h1v1h-1zM72 56h1v1h-1zM96 56h1v1h-1zM115 56h1v1h-1zM118 56h1v1h-1zM136 56h1v1h-1zM139 56h1v1h-1zM144 56h1v1h-1zM152 56h2v1h-2zM13 57h1v1h-1zM19 57h1v1h-1zM28 57h1v1h-1zM47 57h1v1h-1zM54 57h1v1h-1zM134 57h1v1h-1zM141 57h2v1h-2zM37 58h1v1h-1zM64 58h2v1h-2zM72 58h2v1h-2zM96 58h1v1h-1zM113 58h1v1h-1zM118 58h1v1h-1zM129 58h2v1h-2zM134 58h1v1h-1zM166 58h1v1h-1zM25 59h1v1h-1zM41 59h1v1h-1zM53 59h1v1h-1zM61 59h1v1h-1zM74 59h1v1h-1zM86 59h1v1h-1zM112 59h2v1h-2zM116 59h1v1h-1zM132 59h1v1h-1zM167 59h1v1h-1zM28 60h1v1h-1zM46 60h1v1h-1zM74 60h1v1h-1zM102 60h1v1h-1zM114 60h2v1h-2zM121 60h1v1h-1zM129 60h1v1h-1zM134 60h1v1h-1zM143 60h1v1h-1zM155 60h1v1h-1zM157 60h1v1h-1zM165 60h1v1h-1zM31 61h1v1h-1zM60 61h1v1h-1zM84 61h1v1h-1zM116 61h1v1h-1zM123 61h1v1h-1zM125 61h1v1h-1zM132 61h1v1h-1zM135 61h1v1h-1zM137 61h1v1h-1zM162 61h1v1h-1zM164 61h1v1h-1zM10 62h1v1h-1zM20 62h1v1h-1zM65 62h1v1h-1zM79 62h1v1h-1zM101 62h1v1h-1zM112 62h1v1h-1zM123 62h1v1h-1zM128 62h1v1h-1zM131 62h1v1h-1zM156 62h1v1h-1zM12 63h1v1h-1zM17 63h1v1h-1zM34 63h1v1h-1zM44 63h1v1h-1zM64 63h1v1h-1zM101 63h1v1h-1zM113 63h1v1h-1zM140 63h1v1h-1zM147 63h1v1h-1zM157 63h1v1h-1zM72 64h1v1h-1zM76 64h1v1h-1zM78 64h1v1h-1zM80 64h1v1h-1zM113 64h1v1h-1zM116 64h1v1h-1zM137 64h3v1h-3zM79 65h2v1h-2zM85 65h1v1h-1zM102 65h1v1h-1zM116 65h1v1h-1zM140 65h1v1h-1zM145 65h1v1h-1zM31 66h1v1h-1zM39 66h1v1h-1zM52 66h1v1h-1zM76 66h1v1h-1zM91 66h1v1h-1zM107 66h1v1h-1zM112 66h1v1h-1zM123 66h1v1h-1zM127 66h1v1h-1zM15 67h1v1h-1zM35 67h1v1h-1zM104 67h1v1h-1zM121 67h1v1h-1zM124 67h2v1h-2zM130 67h1v1h-1zM16 68h1v1h-1zM22 68h1v1h-1zM36 68h1v1h-1zM44 68h1v1h-1zM77 68h1v1h-1zM83 68h1v1h-1zM9 69h1v1h-1zM27 69h1v1h-1zM50 69h1v1h-1zM59 69h1v1h-1zM81 69h1v1h-1zM127 69h1v1h-1zM133 69h1v1h-1zM142 69h2v1h-2zM1 70h1v1h-1zM3 70h1v1h-1zM11 70h1v1h-1zM17 70h1v1h-1zM31 70h1v1h-1zM33 70h1v1h-1zM77 70h1v1h-1zM112 70h1v1h-1zM126 70h1v1h-1zM4 71h1v1h-1zM74 71h1v1h-1zM115 71h1v1h-1zM143 71h1v1h-1zM3 72h1v1h-1zM6 72h1v1h-1zM20 72h1v1h-1zM29 72h1v1h-1zM34 72h2v1h-2zM38 72h1v1h-1zM64 72h1v1h-1zM77 72h1v1h-1zM88 72h1v1h-1zM91 72h1v1h-1zM157 72h2v1h-2zM51 73h1v1h-1zM89 73h1v1h-1zM95 73h1v1h-1zM103 73h1v1h-1zM131 73h1v1h-1zM33 74h1v1h-1zM50 74h1v1h-1zM58 74h1v1h-1zM60 74h1v1h-1zM69 74h1v1h-1zM85 74h1v1h-1zM90 74h1v1h-1zM120 74h2v1h-2zM133 74h1v1h-1zM138 74h1v1h-1zM169 74h1v1h-1zM3 75h2v1h-2zM12 75h1v1h-1zM17 75h1v1h-1zM66 75h1v1h-1zM74 75h1v1h-1zM100 75h1v1h-1zM111 75h1v1h-1zM125 75h1v1h-1zM137 75h1v1h-1z"/>
<path fill="#f5e5e2" d="M27 0h1v1h-1zM29 0h1v1h-1zM57 0h2v1h-2zM75 0h1v1h-1zM77 0h1v1h-1zM104 0h1v1h-1zM112 0h1v1h-1zM117 0h2v1h-2zM137 0h1v1h-1zM141 0h1v1h-1zM146 0h1v1h-1zM157 0h1v1h-1zM7 1h1v1h-1zM51 1h1v1h-1zM54 1h1v1h-1zM60 1h1v1h-1zM63 1h1v1h-1zM65 1h1v1h-1zM71 1h1v1h-1zM83 1h1v1h-1zM117 1h1v1h-1zM146 1h1v1h-1zM62 2h1v1h-1zM79 2h1v1h-1zM122 2h1v1h-1zM143 2h1v1h-1zM160 2h1v1h-1zM18 3h1v1h-1zM28 3h1v1h-1zM53 3h1v1h-1zM69 3h1v1h-1zM71 3h1v1h-1zM119 3h2v1h-2zM142 3h1v1h-1zM147 3h1v1h-1zM27 4h1v1h-1zM33 4h1v1h-1zM82 4h1v1h-1zM85 4h1v1h-1zM98 4h1v1h-1zM111 4h1v1h-1zM13 5h1v1h-1zM40 5h1v1h-1zM54 5h1v1h-1zM65 5h1v1h-1zM76 5h2v1h-2zM82 5h2v1h-2zM86 5h1v1h-1zM94 5h1v1h-1zM101 5h1v1h-1zM104 5h1v1h-1zM127 5h1v1h-1zM142 5h1v1h-1zM8 6h1v1h-1zM14 6h1v1h-1zM38 6h1v1h-1zM41 6h1v1h-1zM56 6h1v1h-1zM61 6h1v1h-1zM66 6h1v1h-1zM71 6h1v1h-1zM74 6h1v1h-1zM82 6h1v1h-1zM111 6h1v1h-1zM136 6h1v1h-1zM155 6h1v1h-1zM166 6h1v1h-1zM168 6h1v1h-1zM35 7h1v1h-1zM56 7h1v1h-1zM59 7h2v1h-2zM64 7h1v1h-1zM87 7h1v1h-1zM106 7h1v1h-1zM133 7h1v1h-1zM5 8h1v1h-1zM11 8h1v1h-1zM15 8h1v1h-1zM23 8h1v1h-1zM40 8h1v1h-1zM53 8h1v1h-1zM63 8h1v1h-1zM80 8h1v1h-1zM83 8h2v1h-2zM123 8h1v1h-1zM139 8h1v1h-1zM144 8h1v1h-1zM148 8h1v1h-1zM12 9h1v1h-1zM31 9h1v1h-1zM54 9h1v1h-1zM65 9h4v1h-4zM73 9h1v1h-1zM75 9h2v1h-2zM80 9h1v1h-1zM84 9h1v1h-1zM93 9h1v1h-1zM120 9h1v1h-1zM124 9h2v1h-2zM15 10h1v1h-1zM63 10h1v1h-1zM69 10h2v1h-2zM97 10h1v1h-1zM15 11h1v1h-1zM49 11h1v1h-1zM67 11h1v1h-1zM74 11h1v1h-1zM77 11h1v1h-1zM80 11h1v1h-1zM110 11h1v1h-1zM116 11h1v1h-1zM123 11h1v1h-1zM127 11h1v1h-1zM0 12h1v1h-1zM41 12h1v1h-1zM58 12h1v1h-1zM68 12h1v1h-1zM78 12h1v1h-1zM92 12h1v1h-1zM117 12h1v1h-1zM166 12h1v1h-1zM5 13h1v1h-1zM7 13h1v1h-1zM43 13h1v1h-1zM60 13h1v1h-1zM79 13h1v1h-1zM127 13h1v1h-1zM130 13h1v1h-1zM152 13h1v1h-1zM20 14h1v1h-1zM26 14h2v1h-2zM30 14h1v1h-1zM58 14h1v1h-1zM80 14h2v1h-2zM108 14h1v1h-1zM113 14h1v1h-1zM115 14h1v1h-1zM134 14h1v1h-1zM6 15h1v1h-1zM35 15h1v1h-1zM70 15h1v1h-1zM79 15h1v1h-1zM116 15h1v1h-1zM128 15h1v1h-1zM141 15h1v1h-1zM17 16h1v1h-1zM21 16h1v1h-1zM27 16h1v1h-1zM65 16h1v1h-1zM126 16h1v1h-1zM135 16h1v1h-1zM0 17h1v1h-1zM51 17h1v1h-1zM62 17h2v1h-2zM76 17h1v1h-1zM80 17h1v1h-1zM88 17h1v1h-1zM104 17h1v1h-1zM108 17h1v1h-1zM129 17h1v1h-1zM144 17h1v1h-1zM146 17h1v1h-1zM158 17h1v1h-1zM22 18h1v1h-1zM29 18h1v1h-1zM31 18h1v1h-1zM34 18h1v1h-1zM54 18h1v1h-1zM66 18h1v1h-1zM79 18h1v1h-1zM82 18h2v1h-2zM99 18h1v1h-1zM106 18h1v1h-1zM108 18h1v1h-1zM118 18h2v1h-2zM130 18h1v1h-1zM132 18h1v1h-1zM0 19h1v1h-1zM8 19h1v1h-1zM25 19h1v1h-1zM37 19h1v1h-1zM61 19h1v1h-1zM65 19h1v1h-1zM67 19h1v1h-1zM84 19h1v1h-1zM97 19h1v1h-1zM107 19h1v1h-1zM109 19h2v1h-2zM122 19h1v1h-1zM125 19h1v1h-1zM11 20h1v1h-1zM25 20h1v1h-1zM35 20h1v1h-1zM48 20h1v1h-1zM93 20h1v1h-1zM95 20h1v1h-1zM102 20h2v1h-2zM109 20h1v1h-1zM118 20h1v1h-1zM120 20h1v1h-1zM127 20h1v1h-1zM130 20h1v1h-1zM19 21h1v1h-1zM35 21h1v1h-1zM47 21h1v1h-1zM54 21h1v1h-1zM56 21h1v1h-1zM63 21h1v1h-1zM118 21h1v1h-1zM126 21h2v1h-2zM150 21h1v1h-1zM155 21h1v1h-1zM160 21h1v1h-1zM2 22h1v1h-1zM17 22h1v1h-1zM51 22h1v1h-1zM71 22h1v1h-1zM74 22h1v1h-1zM76 22h1v1h-1zM107 22h1v1h-1zM114 22h1v1h-1zM128 22h1v1h-1zM148 22h1v1h-1zM27 23h1v1h-1zM38 23h1v1h-1zM82 23h1v1h-1zM144 23h1v1h-1zM150 23h1v1h-1zM155 23h1v1h-1zM27 24h1v1h-1zM73 24h1v1h-1zM94 24h1v1h-1zM96 24h1v1h-1zM112 24h1v1h-1zM130 24h1v1h-1zM149 24h3v1h-3zM32 25h1v1h-1zM54 25h1v1h-1zM61 25h1v1h-1zM83 25h1v1h-1zM97 25h1v1h-1zM102 25h1v1h-1zM125 25h1v1h-1zM4 26h1v1h-1zM8 26h1v1h-1zM31 26h1v1h-1zM45 26h1v1h-1zM74 26h1v1h-1zM76 26h1v1h-1zM86 26h1v1h-1zM88 26h1v1h-1zM94 26h1v1h-1zM116 26h1v1h-1zM124 26h1v1h-1zM131 26h1v1h-1zM159 26h1v1h-1zM25 27h1v1h-1zM30 27h1v1h-1zM52 27h1v1h-1zM61 27h1v1h-1zM67 27h1v1h-1zM70 27h1v1h-1zM72 27h1v1h-1zM92 27h1v1h-1zM95 27h1v1h-1zM105 27h1v1h-1zM114 27h1v1h-1zM130 27h1v1h-1zM134 27h1v1h-1zM140 27h1v1h-1zM149 27h1v1h-1zM160 27h1v1h-1zM13 28h1v1h-1zM48 28h1v1h-1zM96 28h1v1h-1zM102 28h1v1h-1zM130 28h1v1h-1zM137 28h1v1h-1zM142 28h1v1h-1zM154 28h1v1h-1zM160 28h1v1h-1zM163 28h1v1h-1zM3 29h1v1h-1zM20 29h1v1h-1zM48 29h1v1h-1zM87 29h1v1h-1zM129 29h1v1h-1zM139 29h1v1h-1zM148 29h1v1h-1zM156 29h2v1h-2zM6 30h1v1h-1zM8 30h1v1h-1zM13 30h1v1h-1zM18 30h1v1h-1zM32 30h1v1h-1zM79 30h1v1h-1zM156 30h1v1h-1zM160 30h1v1h-1zM19 31h1v1h-1zM23 31h1v1h-1zM36 31h1v1h-1zM39 31h1v1h-1zM65 31h2v1h-2zM72 31h1v1h-1zM77 31h1v1h-1zM99 31h1v1h-1zM114 31h1v1h-1zM135 31h1v1h-1zM5 32h1v1h-1zM8 32h1v1h-1zM48 32h1v1h-1zM56 32h1v1h-1zM92 32h1v1h-1zM113 32h1v1h-1zM116 32h1v1h-1zM146 32h1v1h-1zM8 33h1v1h-1zM26 33h1v1h-1zM31 33h3v1h-3zM43 33h1v1h-1zM50 33h1v1h-1zM55 33h2v1h-2zM88 33h1v1h-1zM110 33h1v1h-1zM149 33h1v1h-1zM158 33h1v1h-1zM8 34h1v1h-1zM22 34h1v1h-1zM68 34h1v1h-1zM10 35h1v1h-1zM86 35h1v1h-1zM112 35h1v1h-1zM116 35h1v1h-1zM119 35h1v1h-1zM160 35h1v1h-1zM7 36h1v1h-1zM71 36h1v1h-1zM125 36h1v1h-1zM132 36h1v1h-1zM165 36h1v1h-1zM167 36h1v1h-1zM23 37h1v1h-1zM90 37h1v1h-1zM127 37h1v1h-1zM144 37h1v1h-1zM147 37h1v1h-1zM153 37h1v1h-1zM12 38h1v1h-1zM41 38h1v1h-1zM92 38h1v1h-1zM110 38h1v1h-1zM148 38h1v1h-1zM151 38h1v1h-1zM156 38h1v1h-1zM9 39h1v1h-1zM21 39h1v1h-1zM26 39h1v1h-1zM68 39h1v1h-1zM85 39h1v1h-1zM150 39h1v1h-1zM152 39h1v1h-1zM15 40h1v1h-1zM22 40h1v1h-1zM32 40h1v1h-1zM42 40h1v1h-1zM58 40h1v1h-1zM73 40h1v1h-1zM84 40h1v1h-1zM112 40h1v1h-1zM119 40h1v1h-1zM123 40h1v1h-1zM145 40h1v1h-1zM19 41h1v1h-1zM28 41h1v1h-1zM33 41h1v1h-1zM44 41h1v1h-1zM73 41h1v1h-1zM95 41h1v1h-1zM111 41h1v1h-1zM121 41h1v1h-1zM124 41h1v1h-1zM141 41h1v1h-1zM145 41h1v1h-1zM148 41h1v1h-1zM161 41h1v1h-1zM11 42h1v1h-1zM26 42h1v1h-1zM90 42h1v1h-1zM97 42h1v1h-1zM110 42h1v1h-1zM140 42h1v1h-1zM23 43h1v1h-1zM28 43h1v1h-1zM35 43h1v1h-1zM45 43h1v1h-1zM62 43h1v1h-1zM116 43h1v1h-1zM143 43h1v1h-1zM21 44h1v1h-1zM28 44h1v1h-1zM115 44h1v1h-1zM124 44h1v1h-1zM132 44h1v1h-1zM156 44h1v1h-1zM25 45h1v1h-1zM40 45h1v1h-1zM45 45h1v1h-1zM112 45h1v1h-1zM118 45h1v1h-1zM121 45h1v1h-1zM131 45h2v1h-2zM6 46h2v1h-2zM109 46h1v1h-1zM121 46h1v1h-1zM132 46h1v1h-1zM34 47h1v1h-1zM47 47h1v1h-1zM67 47h1v1h-1zM98 47h1v1h-1zM119 47h1v1h-1zM131 47h2v1h-2zM141 47h1v1h-1zM154 47h1v1h-1zM159 47h1v1h-1zM11 48h1v1h-1zM29 48h1v1h-1zM36 48h1v1h-1zM51 48h1v1h-1zM58 48h1v1h-1zM129 48h1v1h-1zM22 49h1v1h-1zM35 49h1v1h-1zM70 49h1v1h-1zM119 49h1v1h-1zM130 49h1v1h-1zM143 49h3v1h-3zM15 50h1v1h-1zM47 50h1v1h-1zM70 50h1v1h-1zM79 50h1v1h-1zM96 50h1v1h-1zM108 50h1v1h-1zM112 50h1v1h-1zM114 50h1v1h-1zM117 50h1v1h-1zM137 50h1v1h-1zM140 50h1v1h-1zM156 50h1v1h-1zM163 50h1v1h-1zM20 51h1v1h-1zM25 51h1v1h-1zM36 51h1v1h-1zM40 51h1v1h-1zM71 51h1v1h-1zM82 51h1v1h-1zM87 51h1v1h-1zM96 51h1v1h-1zM0 52h1v1h-1zM3 52h1v1h-1zM8 52h1v1h-1zM21 52h1v1h-1zM47 52h1v1h-1zM50 52h1v1h-1zM65 52h2v1h-2zM68 52h1v1h-1zM87 52h1v1h-1zM97 52h1v1h-1zM103 52h1v1h-1zM117 52h2v1h-2zM123 52h1v1h-1zM128 52h1v1h-1zM150 52h1v1h-1zM158 52h1v1h-1zM168 52h1v1h-1zM49 53h1v1h-1zM56 53h1v1h-1zM65 53h1v1h-1zM67 53h1v1h-1zM72 53h1v1h-1zM81 53h1v1h-1zM83 53h1v1h-1zM92 53h1v1h-1zM107 53h1v1h-1zM111 53h1v1h-1zM113 53h1v1h-1zM118 53h1v1h-1zM122 53h1v1h-1zM125 53h1v1h-1zM129 53h1v1h-1zM132 53h1v1h-1zM142 53h1v1h-1zM150 53h1v1h-1zM160 53h1v1h-1zM169 53h1v1h-1zM7 54h1v1h-1zM25 54h1v1h-1zM32 54h1v1h-1zM54 54h1v1h-1zM66 54h1v1h-1zM69 54h1v1h-1zM71 54h1v1h-1zM77 54h1v1h-1zM80 54h1v1h-1zM88 54h1v1h-1zM96 54h1v1h-1zM112 54h2v1h-2zM116 54h1v1h-1zM124 54h1v1h-1zM136 54h1v1h-1zM138 54h1v1h-1zM142 54h1v1h-1zM146 54h1v1h-1zM149 54h1v1h-1zM155 54h1v1h-1zM17 55h1v1h-1zM54 55h1v1h-1zM63 55h1v1h-1zM68 55h2v1h-2zM88 55h1v1h-1zM111 55h1v1h-1zM113 55h1v1h-1zM115 55h1v1h-1zM137 55h1v1h-1zM148 55h1v1h-1zM15 56h1v1h-1zM56 56h1v1h-1zM61 56h1v1h-1zM63 56h1v1h-1zM93 56h2v1h-2zM114 56h1v1h-1zM126 56h3v1h-3zM14 57h1v1h-1zM17 57h1v1h-1zM25 57h1v1h-1zM27 57h1v1h-1zM41 57h1v1h-1zM60 57h1v1h-1zM63 57h1v1h-1zM111 57h1v1h-1zM117 57h3v1h-3zM123 57h1v1h-1zM126 57h1v1h-1zM132 57h1v1h-1zM153 57h1v1h-1zM159 57h2v1h-2zM168 57h1v1h-1zM8 58h1v1h-1zM24 58h1v1h-1zM56 58h1v1h-1zM68 58h1v1h-1zM92 58h1v1h-1zM103 58h1v1h-1zM122 58h1v1h-1zM126 58h1v1h-1zM29 59h1v1h-1zM63 59h1v1h-1zM66 59h1v1h-1zM70 59h1v1h-1zM137 59h1v1h-1zM5 60h1v1h-1zM34 60h1v1h-1zM48 60h1v1h-1zM70 60h1v1h-1zM78 60h1v1h-1zM110 60h1v1h-1zM118 60h1v1h-1zM123 60h1v1h-1zM27 61h1v1h-1zM71 61h1v1h-1zM78 61h1v1h-1zM113 61h1v1h-1zM121 61h1v1h-1zM154 61h1v1h-1zM167 61h1v1h-1zM17 62h1v1h-1zM41 62h1v1h-1zM84 62h1v1h-1zM94 62h1v1h-1zM98 62h1v1h-1zM111 62h1v1h-1zM139 62h1v1h-1zM147 62h1v1h-1zM26 63h1v1h-1zM35 63h1v1h-1zM71 63h1v1h-1zM84 63h1v1h-1zM110 63h1v1h-1zM141 63h1v1h-1zM2 64h1v1h-1zM15 64h1v1h-1zM29 64h1v1h-1zM39 64h1v1h-1zM53 64h4v1h-4zM70 64h2v1h-2zM104 64h1v1h-1zM112 64h1v1h-1zM114 64h1v1h-1zM121 64h2v1h-2zM157 64h1v1h-1zM4 65h1v1h-1zM41 65h1v1h-1zM55 65h1v1h-1zM88 65h1v1h-1zM160 65h1v1h-1zM0 66h2v1h-2zM11 66h1v1h-1zM28 66h1v1h-1zM34 66h1v1h-1zM41 66h1v1h-1zM47 66h2v1h-2zM74 66h1v1h-1zM84 66h1v1h-1zM86 66h1v1h-1zM95 66h1v1h-1zM99 66h1v1h-1zM101 66h1v1h-1zM103 66h1v1h-1zM131 66h1v1h-1zM143 66h1v1h-1zM146 66h1v1h-1zM14 67h1v1h-1zM17 67h1v1h-1zM34 67h1v1h-1zM39 67h1v1h-1zM41 67h1v1h-1zM83 67h1v1h-1zM87 67h1v1h-1zM89 67h1v1h-1zM95 67h2v1h-2zM101 67h2v1h-2zM120 67h1v1h-1zM122 67h1v1h-1zM138 67h1v1h-1zM155 67h1v1h-1zM30 68h1v1h-1zM35 68h1v1h-1zM99 68h1v1h-1zM102 68h1v1h-1zM104 68h1v1h-1zM117 68h1v1h-1zM119 68h1v1h-1zM123 68h1v1h-1zM133 68h1v1h-1zM140 68h1v1h-1zM142 68h1v1h-1zM153 68h1v1h-1zM34 69h1v1h-1zM69 69h3v1h-3zM80 69h1v1h-1zM82 69h2v1h-2zM88 69h1v1h-1zM91 69h1v1h-1zM104 69h1v1h-1zM129 69h1v1h-1zM132 69h1v1h-1zM134 69h1v1h-1zM15 70h1v1h-1zM30 70h1v1h-1zM48 70h1v1h-1zM75 70h1v1h-1zM156 70h1v1h-1zM16 71h1v1h-1zM31 71h1v1h-1zM34 71h1v1h-1zM61 71h1v1h-1zM152 71h1v1h-1zM159 71h1v1h-1zM9 72h1v1h-1zM17 72h1v1h-1zM26 72h1v1h-1zM31 72h1v1h-1zM45 72h1v1h-1zM53 72h1v1h-1zM61 72h1v1h-1zM65 72h1v1h-1zM76 72h1v1h-1zM93 72h1v1h-1zM124 72h1v1h-1zM154 72h1v1h-1zM156 72h1v1h-1zM8 73h1v1h-1zM29 73h1v1h-1zM48 73h1v1h-1zM53 73h1v1h-1zM62 73h1v1h-1zM65 73h1v1h-1zM68 73h1v1h-1zM79 73h1v1h-1zM156 73h1v1h-1zM27 74h1v1h-1zM31 74h1v1h-1zM35 74h1v1h-1zM40 74h1v1h-1zM65 74h1v1h-1zM87 74h1v1h-1zM139 74h1v1h-1zM34 75h1v1h-1zM71 75h1v1h-1zM118 75h1v1h-1zM126 75h2v1h-2zM136 75h1v1h-1zM138 75h2v1h-2z"/>
<path fill="#f6dcd5" d="M79 0h1v1h-1zM84 0h1v1h-1zM94 0h1v1h-1zM100 0h1v1h-1zM110 0h1v1h-1zM143 0h1v1h-1zM155 0h1v1h-1zM53 1h1v1h-1zM79 1h1v1h-1zM108 1h1v1h-1zM124 1h1v1h-1zM135 1h1v1h-1zM156 1h1v1h-1zM26 2h1v1h-1zM48 2h1v1h-1zM59 2h1v1h-1zM64 2h1v1h-1zM82 2h1v1h-1zM84 2h1v1h-1zM110 2h1v1h-1zM135 2h1v1h-1zM141 2h1v1h-1zM56 3h1v1h-1zM62 3h1v1h-1zM65 3h1v1h-1zM67 3h1v1h-1zM75 3h1v1h-1zM79 3h1v1h-1zM81 3h1v1h-1zM136 3h1v1h-1zM138 3h2v1h-2zM3 4h1v1h-1zM28 4h1v1h-1zM54 4h1v1h-1zM69 4h1v1h-1zM102 4h1v1h-1zM104 4h1v1h-1zM138 4h1v1h-1zM150 4h1v1h-1zM0 5h1v1h-1zM9 5h1v1h-1zM80 5h1v1h-1zM89 5h1v1h-1zM102 5h1v1h-1zM120 5h1v1h-1zM132 5h1v1h-1zM143 5h1v1h-1zM11 6h1v1h-1zM52 6h1v1h-1zM58 6h1v1h-1zM102 6h1v1h-1zM107 6h1v1h-1zM119 6h2v1h-2zM134 6h1v1h-1zM144 6h1v1h-1zM151 6h1v1h-1zM156 6h1v1h-1zM51 7h2v1h-2zM65 7h1v1h-1zM73 7h1v1h-1zM147 7h1v1h-1zM156 7h1v1h-1zM159 7h1v1h-1zM162 7h1v1h-1zM55 8h1v1h-1zM65 8h2v1h-2zM122 8h1v1h-1zM127 8h1v1h-1zM130 8h1v1h-1zM6 9h1v1h-1zM58 9h1v1h-1zM64 9h1v1h-1zM100 9h1v1h-1zM110 9h1v1h-1zM115 9h1v1h-1zM131 9h1v1h-1zM141 9h1v1h-1zM162 9h1v1h-1zM165 9h1v1h-1zM31 10h1v1h-1zM52 10h1v1h-1zM65 10h1v1h-1zM71 10h3v1h-3zM112 10h1v1h-1zM115 10h2v1h-2zM146 10h1v1h-1zM5 11h1v1h-1zM21 11h1v1h-1zM65 11h1v1h-1zM69 11h1v1h-1zM79 11h1v1h-1zM111 11h1v1h-1zM113 11h2v1h-2zM25 12h1v1h-1zM66 12h1v1h-1zM72 12h1v1h-1zM74 12h1v1h-1zM118 12h1v1h-1zM0 13h1v1h-1zM25 13h1v1h-1zM31 13h1v1h-1zM33 13h1v1h-1zM41 13h1v1h-1zM46 13h2v1h-2zM57 13h1v1h-1zM59 13h1v1h-1zM61 13h1v1h-1zM71 13h2v1h-2zM84 13h1v1h-1zM88 13h1v1h-1zM110 13h1v1h-1zM112 13h1v1h-1zM132 13h1v1h-1zM22 14h1v1h-1zM42 14h1v1h-1zM52 14h3v1h-3zM77 14h1v1h-1zM91 14h1v1h-1zM112 14h1v1h-1zM136 14h1v1h-1zM141 14h1v1h-1zM19 15h2v1h-2zM26 15h1v1h-1zM32 15h1v1h-1zM59 15h1v1h-1zM61 15h1v1h-1zM78 15h1v1h-1zM82 15h1v1h-1zM108 15h1v1h-1zM133 15h1v1h-1zM156 15h1v1h-1zM159 15h1v1h-1zM18 16h1v1h-1zM31 16h1v1h-1zM33 16h1v1h-1zM35 16h1v1h-1zM39 16h1v1h-1zM44 16h1v1h-1zM71 16h1v1h-1zM76 16h1v1h-1zM105 16h1v1h-1zM108 16h1v1h-1zM5 17h1v1h-1zM18 17h2v1h-2zM26 17h1v1h-1zM28 17h1v1h-1zM38 17h1v1h-1zM47 17h1v1h-1zM81 17h1v1h-1zM94 17h1v1h-1zM116 17h1v1h-1zM128 17h1v1h-1zM131 17h1v1h-1zM134 17h1v1h-1zM139 17h1v1h-1zM151 17h1v1h-1zM154 17h1v1h-1zM159 17h1v1h-1zM4 18h1v1h-1zM12 18h1v1h-1zM18 18h1v1h-1zM21 18h1v1h-1zM47 18h1v1h-1zM58 18h1v1h-1zM61 18h1v1h-1zM63 18h1v1h-1zM72 18h2v1h-2zM84 18h1v1h-1zM114 18h1v1h-1zM116 18h1v1h-1zM122 18h1v1h-1zM124 18h1v1h-1zM144 18h1v1h-1zM151 18h1v1h-1zM166 18h1v1h-1zM3 19h1v1h-1zM10 19h1v1h-1zM13 19h1v1h-1zM36 19h1v1h-1zM39 19h1v1h-1zM43 19h1v1h-1zM56 19h1v1h-1zM69 19h1v1h-1zM73 19h1v1h-1zM89 19h1v1h-1zM92 19h1v1h-1zM115 19h1v1h-1zM123 19h2v1h-2zM148 19h1v1h-1zM161 19h1v1h-1zM18 20h1v1h-1zM21 20h1v1h-1zM54 20h1v1h-1zM57 20h1v1h-1zM63 20h1v1h-1zM82 20h1v1h-1zM87 20h1v1h-1zM98 20h1v1h-1zM107 20h1v1h-1zM119 20h1v1h-1zM150 20h1v1h-1zM50 21h2v1h-2zM66 21h1v1h-1zM69 21h1v1h-1zM79 21h1v1h-1zM88 21h1v1h-1zM98 21h1v1h-1zM102 21h1v1h-1zM104 21h1v1h-1zM117 21h1v1h-1zM122 21h1v1h-1zM128 21h2v1h-2zM133 21h1v1h-1zM159 21h1v1h-1zM68 22h1v1h-1zM80 22h1v1h-1zM85 22h1v1h-1zM98 22h1v1h-1zM127 22h1v1h-1zM159 22h1v1h-1zM36 23h1v1h-1zM39 23h1v1h-1zM48 23h1v1h-1zM74 23h1v1h-1zM84 23h1v1h-1zM97 23h1v1h-1zM121 23h1v1h-1zM146 23h1v1h-1zM3 24h1v1h-1zM13 24h1v1h-1zM33 24h1v1h-1zM53 24h1v1h-1zM64 24h1v1h-1zM66 24h1v1h-1zM68 24h1v1h-1zM118 24h1v1h-1zM65 25h1v1h-1zM76 25h1v1h-1zM99 25h1v1h-1zM109 25h2v1h-2zM123 25h1v1h-1zM135 25h1v1h-1zM163 25h1v1h-1zM11 26h2v1h-2zM22 26h1v1h-1zM55 26h1v1h-1zM83 26h1v1h-1zM95 26h1v1h-1zM99 26h1v1h-1zM103 26h1v1h-1zM113 26h2v1h-2zM129 26h1v1h-1zM144 26h1v1h-1zM153 26h1v1h-1zM163 26h1v1h-1zM8 27h1v1h-1zM15 27h1v1h-1zM21 27h1v1h-1zM31 27h2v1h-2zM43 27h1v1h-1zM55 27h1v1h-1zM103 27h1v1h-1zM113 27h1v1h-1zM121 27h1v1h-1zM128 27h1v1h-1zM133 27h1v1h-1zM135 27h1v1h-1zM14 28h1v1h-1zM98 28h1v1h-1zM106 28h1v1h-1zM121 28h1v1h-1zM135 28h1v1h-1zM158 28h1v1h-1zM2 29h1v1h-1zM9 29h1v1h-1zM50 29h1v1h-1zM90 29h1v1h-1zM93 29h1v1h-1zM111 29h1v1h-1zM116 29h1v1h-1zM121 29h1v1h-1zM123 29h1v1h-1zM125 29h1v1h-1zM137 29h2v1h-2zM149 29h2v1h-2zM153 29h1v1h-1zM160 29h1v1h-1zM164 29h1v1h-1zM16 30h1v1h-1zM23 30h1v1h-1zM36 30h1v1h-1zM41 30h1v1h-1zM51 30h1v1h-1zM57 30h2v1h-2zM66 30h1v1h-1zM68 30h1v1h-1zM71 30h1v1h-1zM74 30h2v1h-2zM78 30h1v1h-1zM99 30h1v1h-1zM115 30h1v1h-1zM2 31h1v1h-1zM4 31h1v1h-1zM13 31h1v1h-1zM52 31h1v1h-1zM57 31h1v1h-1zM67 31h1v1h-1zM79 31h1v1h-1zM82 31h1v1h-1zM85 31h2v1h-2zM91 31h1v1h-1zM117 31h1v1h-1zM32 32h1v1h-1zM57 32h1v1h-1zM68 32h1v1h-1zM72 32h1v1h-1zM81 32h1v1h-1zM87 32h1v1h-1zM129 32h2v1h-2zM141 32h1v1h-1zM6 33h1v1h-1zM25 33h1v1h-1zM65 33h1v1h-1zM67 33h2v1h-2zM71 33h2v1h-2zM134 33h1v1h-1zM159 33h1v1h-1zM162 33h1v1h-1zM24 34h1v1h-1zM74 34h1v1h-1zM80 34h1v1h-1zM113 34h1v1h-1zM9 35h1v1h-1zM41 35h1v1h-1zM74 35h1v1h-1zM77 35h1v1h-1zM85 35h1v1h-1zM87 35h1v1h-1zM131 35h1v1h-1zM18 36h2v1h-2zM35 36h1v1h-1zM50 36h1v1h-1zM61 36h1v1h-1zM68 36h1v1h-1zM87 36h1v1h-1zM119 36h1v1h-1zM156 36h1v1h-1zM166 36h1v1h-1zM32 37h1v1h-1zM55 37h1v1h-1zM63 37h1v1h-1zM81 37h1v1h-1zM111 37h1v1h-1zM117 37h1v1h-1zM119 37h1v1h-1zM152 37h1v1h-1zM164 37h1v1h-1zM9 38h1v1h-1zM17 38h1v1h-1zM33 38h1v1h-1zM89 38h1v1h-1zM114 38h1v1h-1zM149 38h1v1h-1zM158 38h1v1h-1zM24 39h1v1h-1zM30 39h1v1h-1zM34 39h1v1h-1zM43 39h1v1h-1zM49 39h1v1h-1zM72 39h1v1h-1zM88 39h1v1h-1zM135 39h1v1h-1zM147 39h1v1h-1zM153 39h1v1h-1zM11 40h1v1h-1zM13 40h1v1h-1zM68 40h1v1h-1zM133 40h2v1h-2zM146 40h1v1h-1zM152 40h1v1h-1zM157 40h1v1h-1zM22 41h1v1h-1zM26 41h1v1h-1zM53 41h1v1h-1zM62 41h1v1h-1zM77 41h1v1h-1zM81 41h1v1h-1zM91 41h2v1h-2zM110 41h1v1h-1zM120 41h1v1h-1zM140 41h1v1h-1zM158 41h1v1h-1zM4 42h1v1h-1zM18 42h1v1h-1zM27 42h1v1h-1zM38 42h1v1h-1zM44 42h1v1h-1zM63 42h1v1h-1zM80 42h1v1h-1zM100 42h1v1h-1zM111 42h1v1h-1zM113 42h1v1h-1zM130 42h1v1h-1zM136 42h1v1h-1zM155 42h1v1h-1zM5 43h1v1h-1zM16 43h2v1h-2zM21 43h1v1h-1zM29 43h2v1h-2zM39 43h1v1h-1zM50 43h1v1h-1zM59 43h1v1h-1zM93 43h1v1h-1zM96 43h1v1h-1zM107 43h1v1h-1zM109 43h2v1h-2zM121 43h2v1h-2zM157 43h1v1h-1zM9 44h1v1h-1zM13 44h1v1h-1zM16 44h1v1h-1zM30 44h1v1h-1zM49 44h1v1h-1zM86 44h1v1h-1zM94 44h1v1h-1zM110 44h1v1h-1zM114 44h1v1h-1zM120 44h1v1h-1zM123 44h1v1h-1zM135 44h1v1h-1zM143 44h1v1h-1zM160 44h1v1h-1zM12 45h1v1h-1zM21 45h1v1h-1zM30 45h1v1h-1zM69 45h1v1h-1zM94 45h1v1h-1zM123 45h1v1h-1zM155 45h2v1h-2zM16 46h1v1h-1zM81 46h1v1h-1zM124 46h1v1h-1zM135 46h1v1h-1zM157 46h1v1h-1zM7 47h2v1h-2zM75 47h1v1h-1zM123 47h1v1h-1zM127 47h1v1h-1zM24 48h1v1h-1zM33 48h1v1h-1zM38 48h1v1h-1zM104 48h1v1h-1zM113 48h1v1h-1zM122 48h1v1h-1zM136 48h1v1h-1zM19 49h1v1h-1zM21 49h1v1h-1zM67 49h1v1h-1zM30 50h1v1h-1zM33 50h2v1h-2zM36 50h1v1h-1zM78 50h1v1h-1zM113 50h1v1h-1zM134 50h1v1h-1zM154 50h1v1h-1zM5 51h1v1h-1zM24 51h1v1h-1zM32 51h1v1h-1zM103 51h1v1h-1zM111 51h1v1h-1zM113 51h1v1h-1zM140 51h1v1h-1zM18 52h1v1h-1zM20 52h1v1h-1zM46 52h1v1h-1zM54 52h1v1h-1zM83 52h1v1h-1zM89 52h1v1h-1zM106 52h2v1h-2zM113 52h1v1h-1zM157 52h1v1h-1zM167 52h1v1h-1zM0 53h1v1h-1zM32 53h1v1h-1zM34 53h1v1h-1zM47 53h1v1h-1zM54 53h1v1h-1zM70 53h1v1h-1zM77 53h1v1h-1zM98 53h1v1h-1zM105 53h1v1h-1zM108 53h1v1h-1zM110 53h1v1h-1zM112 53h1v1h-1zM115 53h1v1h-1zM148 53h1v1h-1zM151 53h1v1h-1zM155 53h1v1h-1zM161 53h1v1h-1zM15 54h2v1h-2zM30 54h1v1h-1zM38 54h1v1h-1zM43 54h1v1h-1zM50 54h1v1h-1zM56 54h1v1h-1zM76 54h1v1h-1zM83 54h1v1h-1zM85 54h2v1h-2zM103 54h2v1h-2zM110 54h1v1h-1zM117 54h1v1h-1zM132 54h1v1h-1zM137 54h1v1h-1zM143 54h1v1h-1zM161 54h3v1h-3zM166 54h2v1h-2zM3 55h2v1h-2zM13 55h1v1h-1zM20 55h1v1h-1zM25 55h1v1h-1zM39 55h1v1h-1zM83 55h1v1h-1zM91 55h1v1h-1zM97 55h3v1h-3zM118 55h1v1h-1zM132 55h1v1h-1zM138 55h1v1h-1zM151 55h1v1h-1zM154 55h1v1h-1zM159 55h2v1h-2zM13 56h1v1h-1zM17 56h1v1h-1zM39 56h1v1h-1zM53 56h1v1h-1zM74 56h1v1h-1zM123 56h2v1h-2zM133 56h1v1h-1zM135 56h1v1h-1zM137 56h1v1h-1zM141 56h1v1h-1zM8 57h1v1h-1zM18 57h1v1h-1zM38 57h1v1h-1zM50 57h1v1h-1zM62 57h1v1h-1zM68 57h1v1h-1zM125 57h1v1h-1zM133 57h1v1h-1zM135 57h1v1h-1zM137 57h1v1h-1zM140 57h1v1h-1zM11 58h1v1h-1zM30 58h1v1h-1zM54 58h1v1h-1zM58 58h1v1h-1zM110 58h1v1h-1zM116 58h1v1h-1zM1 59h1v1h-1zM4 59h1v1h-1zM6 59h1v1h-1zM36 59h1v1h-1zM56 59h2v1h-2zM83 59h1v1h-1zM115 59h1v1h-1zM121 59h1v1h-1zM128 59h1v1h-1zM138 59h1v1h-1zM140 59h1v1h-1zM16 60h1v1h-1zM37 60h1v1h-1zM56 60h2v1h-2zM68 60h1v1h-1zM76 60h1v1h-1zM79 60h1v1h-1zM88 60h1v1h-1zM168 60h1v1h-1zM6 61h1v1h-1zM40 61h1v1h-1zM42 61h1v1h-1zM62 61h1v1h-1zM64 61h1v1h-1zM80 61h1v1h-1zM111 61h1v1h-1zM133 61h1v1h-1zM159 61h2v1h-2zM165 61h1v1h-1zM8 62h1v1h-1zM16 62h1v1h-1zM31 62h1v1h-1zM37 62h1v1h-1zM77 62h1v1h-1zM81 62h2v1h-2zM110 62h1v1h-1zM114 62h1v1h-1zM138 62h1v1h-1zM10 63h1v1h-1zM13 63h1v1h-1zM24 63h1v1h-1zM129 63h2v1h-2zM137 63h1v1h-1zM139 63h1v1h-1zM143 63h1v1h-1zM6 64h1v1h-1zM11 64h1v1h-1zM16 64h1v1h-1zM25 64h1v1h-1zM60 64h1v1h-1zM86 64h1v1h-1zM89 64h1v1h-1zM141 64h1v1h-1zM11 65h1v1h-1zM51 65h1v1h-1zM61 65h2v1h-2zM122 65h1v1h-1zM124 65h1v1h-1zM138 65h1v1h-1zM8 66h1v1h-1zM16 66h1v1h-1zM88 66h1v1h-1zM102 66h1v1h-1zM111 66h1v1h-1zM116 66h3v1h-3zM121 66h1v1h-1zM139 66h2v1h-2zM18 67h1v1h-1zM36 67h1v1h-1zM64 67h2v1h-2zM110 67h1v1h-1zM112 67h3v1h-3zM123 67h1v1h-1zM145 67h1v1h-1zM8 68h1v1h-1zM40 68h1v1h-1zM49 68h1v1h-1zM90 68h1v1h-1zM96 68h1v1h-1zM106 68h1v1h-1zM116 68h1v1h-1zM120 68h1v1h-1zM130 68h1v1h-1zM132 68h1v1h-1zM18 69h1v1h-1zM49 69h1v1h-1zM68 69h1v1h-1zM95 69h1v1h-1zM105 69h1v1h-1zM111 69h1v1h-1zM113 69h1v1h-1zM118 69h1v1h-1zM130 69h1v1h-1zM135 69h1v1h-1zM147 69h1v1h-1zM36 70h1v1h-1zM71 70h1v1h-1zM76 70h1v1h-1zM111 70h1v1h-1zM120 70h1v1h-1zM160 70h1v1h-1zM45 71h1v1h-1zM47 71h1v1h-1zM77 71h1v1h-1zM84 71h2v1h-2zM112 71h1v1h-1zM0 72h1v1h-1zM8 72h1v1h-1zM19 72h1v1h-1zM37 72h1v1h-1zM42 72h1v1h-1zM50 72h1v1h-1zM57 72h1v1h-1zM63 72h1v1h-1zM67 72h1v1h-1zM80 72h1v1h-1zM82 72h1v1h-1zM84 72h1v1h-1zM87 72h1v1h-1zM119 72h1v1h-1zM153 72h1v1h-1zM0 73h1v1h-1zM2 73h1v1h-1zM7 73h1v1h-1zM21 73h1v1h-1zM30 73h1v1h-1zM40 73h1v1h-1zM67 73h1v1h-1zM91 73h1v1h-1zM154 73h1v1h-1zM5 74h1v1h-1zM16 74h1v1h-1zM24 74h1v1h-1zM28 74h1v1h-1zM41 74h1v1h-1zM89 74h1v1h-1zM136 74h1v1h-1zM14 75h1v1h-1zM62 75h1v1h-1zM68 75h1v1h-1zM78 75h2v1h-2zM117 75h1v1h-1zM128 75h1v1h-1z"/>
<path fill="#f6d4c9" d="M55 0h1v1h-1zM69 0h1v1h-1zM81 0h1v1h-1zM102 0h1v1h-1zM105 0h1v1h-1zM109 0h1v1h-1zM116 0h1v1h-1zM123 0h2v1h-2zM127 0h1v1h-1zM135 0h1v1h-1zM138 0h1v1h-1zM149 0h1v1h-1zM153 0h2v1h-2zM6 1h1v1h-1zM13 1h1v1h-1zM21 1h1v1h-1zM56 1h1v1h-1zM76 1h1v1h-1zM94 1h1v1h-1zM97 1h1v1h-1zM107 1h1v1h-1zM113 1h1v1h-1zM120 1h1v1h-1zM131 1h1v1h-1zM138 1h1v1h-1zM141 1h1v1h-1zM158 1h1v1h-1zM160 1h1v1h-1zM19 2h1v1h-1zM25 2h1v1h-1zM37 2h1v1h-1zM75 2h2v1h-2zM78 2h1v1h-1zM80 2h1v1h-1zM121 2h1v1h-1zM131 2h1v1h-1zM144 2h1v1h-1zM147 2h1v1h-1zM156 2h1v1h-1zM59 3h1v1h-1zM86 3h1v1h-1zM93 3h1v1h-1zM152 3h1v1h-1zM160 3h1v1h-1zM56 4h1v1h-1zM84 4h1v1h-1zM90 4h1v1h-1zM100 4h1v1h-1zM30 5h1v1h-1zM66 5h1v1h-1zM74 5h1v1h-1zM81 5h1v1h-1zM87 5h1v1h-1zM119 5h1v1h-1zM121 5h2v1h-2zM124 5h1v1h-1zM126 5h1v1h-1zM131 5h1v1h-1zM140 5h1v1h-1zM146 5h1v1h-1zM153 5h2v1h-2zM157 5h1v1h-1zM2 6h1v1h-1zM54 6h1v1h-1zM63 6h1v1h-1zM84 6h1v1h-1zM94 6h1v1h-1zM106 6h1v1h-1zM117 6h1v1h-1zM137 6h1v1h-1zM36 7h1v1h-1zM53 7h2v1h-2zM62 7h1v1h-1zM78 7h1v1h-1zM115 7h1v1h-1zM119 7h1v1h-1zM123 7h1v1h-1zM137 7h1v1h-1zM143 7h1v1h-1zM3 8h1v1h-1zM13 8h1v1h-1zM56 8h1v1h-1zM59 8h1v1h-1zM93 8h1v1h-1zM97 8h3v1h-3zM102 8h1v1h-1zM126 8h1v1h-1zM131 8h1v1h-1zM138 8h1v1h-1zM147 8h1v1h-1zM156 8h1v1h-1zM10 9h1v1h-1zM70 9h1v1h-1zM81 9h1v1h-1zM97 9h1v1h-1zM105 9h1v1h-1zM107 9h1v1h-1zM113 9h1v1h-1zM130 9h1v1h-1zM136 9h1v1h-1zM146 9h1v1h-1zM149 9h1v1h-1zM163 9h1v1h-1zM55 10h1v1h-1zM57 10h1v1h-1zM75 10h1v1h-1zM78 10h1v1h-1zM91 10h1v1h-1zM165 10h1v1h-1zM13 11h1v1h-1zM38 11h1v1h-1zM76 11h1v1h-1zM78 11h1v1h-1zM82 11h1v1h-1zM84 11h1v1h-1zM99 11h1v1h-1zM112 11h1v1h-1zM117 11h1v1h-1zM144 11h1v1h-1zM152 11h1v1h-1zM163 11h1v1h-1zM46 12h1v1h-1zM71 12h1v1h-1zM79 12h1v1h-1zM83 12h1v1h-1zM111 12h1v1h-1zM115 12h1v1h-1zM3 13h1v1h-1zM6 13h1v1h-1zM22 13h1v1h-1zM39 13h1v1h-1zM76 13h1v1h-1zM78 13h1v1h-1zM113 13h2v1h-2zM123 13h1v1h-1zM40 14h1v1h-1zM49 14h1v1h-1zM56 14h2v1h-2zM71 14h1v1h-1zM28 15h1v1h-1zM56 15h1v1h-1zM19 16h1v1h-1zM26 16h1v1h-1zM45 16h1v1h-1zM77 16h1v1h-1zM80 16h1v1h-1zM82 16h1v1h-1zM84 16h1v1h-1zM116 16h2v1h-2zM120 16h1v1h-1zM145 16h1v1h-1zM2 17h1v1h-1zM11 17h1v1h-1zM15 17h1v1h-1zM17 17h1v1h-1zM79 17h1v1h-1zM84 17h1v1h-1zM112 17h2v1h-2zM127 17h1v1h-1zM130 17h1v1h-1zM7 18h1v1h-1zM26 18h2v1h-2zM59 18h1v1h-1zM62 18h1v1h-1zM64 18h1v1h-1zM69 18h1v1h-1zM75 18h4v1h-4zM91 18h1v1h-1zM98 18h1v1h-1zM107 18h1v1h-1zM111 18h1v1h-1zM123 18h1v1h-1zM134 18h2v1h-2zM145 18h1v1h-1zM148 18h2v1h-2zM160 18h1v1h-1zM163 18h1v1h-1zM167 18h1v1h-1zM52 19h1v1h-1zM59 19h1v1h-1zM64 19h1v1h-1zM68 19h1v1h-1zM74 19h1v1h-1zM90 19h1v1h-1zM95 19h1v1h-1zM100 19h1v1h-1zM116 19h1v1h-1zM121 19h1v1h-1zM129 19h1v1h-1zM147 19h1v1h-1zM165 19h2v1h-2zM13 20h1v1h-1zM62 20h1v1h-1zM83 20h1v1h-1zM89 20h1v1h-1zM100 20h1v1h-1zM108 20h1v1h-1zM114 20h1v1h-1zM125 20h1v1h-1zM12 21h1v1h-1zM15 21h1v1h-1zM57 21h1v1h-1zM60 21h2v1h-2zM64 21h1v1h-1zM67 21h1v1h-1zM83 21h1v1h-1zM95 21h1v1h-1zM99 21h1v1h-1zM158 21h1v1h-1zM3 22h1v1h-1zM83 22h1v1h-1zM93 22h1v1h-1zM112 22h1v1h-1zM126 22h1v1h-1zM130 22h1v1h-1zM156 22h1v1h-1zM7 23h1v1h-1zM11 23h1v1h-1zM43 23h1v1h-1zM68 23h2v1h-2zM96 23h1v1h-1zM113 23h1v1h-1zM41 24h1v1h-1zM93 24h1v1h-1zM111 24h1v1h-1zM161 24h1v1h-1zM2 25h1v1h-1zM6 25h1v1h-1zM55 25h1v1h-1zM64 25h1v1h-1zM81 25h1v1h-1zM117 25h1v1h-1zM161 25h1v1h-1zM1 26h1v1h-1zM27 26h1v1h-1zM96 26h1v1h-1zM105 26h1v1h-1zM111 26h1v1h-1zM120 26h1v1h-1zM137 26h1v1h-1zM151 26h1v1h-1zM154 26h1v1h-1zM11 27h1v1h-1zM45 27h1v1h-1zM94 27h1v1h-1zM4 28h1v1h-1zM32 28h1v1h-1zM35 28h1v1h-1zM44 28h1v1h-1zM88 28h1v1h-1zM97 28h1v1h-1zM108 28h1v1h-1zM113 28h1v1h-1zM116 28h1v1h-1zM141 28h1v1h-1zM144 28h1v1h-1zM147 28h2v1h-2zM155 28h2v1h-2zM162 28h1v1h-1zM4 29h1v1h-1zM7 29h1v1h-1zM22 29h1v1h-1zM40 29h2v1h-2zM45 29h1v1h-1zM49 29h1v1h-1zM85 29h1v1h-1zM89 29h1v1h-1zM91 29h1v1h-1zM96 29h1v1h-1zM136 29h1v1h-1zM144 29h1v1h-1zM163 29h1v1h-1zM166 29h1v1h-1zM1 30h2v1h-2zM42 30h1v1h-1zM61 30h1v1h-1zM64 30h2v1h-2zM70 30h1v1h-1zM86 30h1v1h-1zM93 30h1v1h-1zM9 31h1v1h-1zM37 31h1v1h-1zM45 31h1v1h-1zM48 31h1v1h-1zM50 31h1v1h-1zM53 31h1v1h-1zM64 31h1v1h-1zM71 31h1v1h-1zM78 31h1v1h-1zM81 31h1v1h-1zM1 32h1v1h-1zM18 32h1v1h-1zM54 32h1v1h-1zM58 32h1v1h-1zM70 32h1v1h-1zM73 32h1v1h-1zM78 32h1v1h-1zM83 32h1v1h-1zM125 32h1v1h-1zM154 32h1v1h-1zM160 32h1v1h-1zM164 32h1v1h-1zM7 33h1v1h-1zM22 33h1v1h-1zM45 33h1v1h-1zM63 33h1v1h-1zM73 33h1v1h-1zM75 33h3v1h-3zM81 33h1v1h-1zM84 33h1v1h-1zM131 33h1v1h-1zM12 34h1v1h-1zM17 34h1v1h-1zM33 34h1v1h-1zM54 34h1v1h-1zM58 34h1v1h-1zM63 34h1v1h-1zM118 34h1v1h-1zM125 34h1v1h-1zM131 34h1v1h-1zM159 34h2v1h-2zM20 35h1v1h-1zM34 35h1v1h-1zM61 35h1v1h-1zM67 35h1v1h-1zM72 35h2v1h-2zM92 35h1v1h-1zM159 35h1v1h-1zM11 36h1v1h-1zM36 36h1v1h-1zM65 36h1v1h-1zM77 36h1v1h-1zM90 36h1v1h-1zM115 36h1v1h-1zM153 36h1v1h-1zM155 36h1v1h-1zM164 36h1v1h-1zM41 37h1v1h-1zM53 37h1v1h-1zM151 37h1v1h-1zM165 37h1v1h-1zM14 38h1v1h-1zM25 38h1v1h-1zM58 38h1v1h-1zM74 38h2v1h-2zM85 38h2v1h-2zM95 38h1v1h-1zM129 38h2v1h-2zM152 38h1v1h-1zM159 38h1v1h-1zM18 39h1v1h-1zM25 39h1v1h-1zM29 39h1v1h-1zM36 39h1v1h-1zM86 39h1v1h-1zM129 39h1v1h-1zM144 39h1v1h-1zM149 39h1v1h-1zM160 39h1v1h-1zM18 40h1v1h-1zM21 40h1v1h-1zM41 40h1v1h-1zM51 40h1v1h-1zM60 40h1v1h-1zM114 40h1v1h-1zM125 40h1v1h-1zM129 40h1v1h-1zM138 40h1v1h-1zM159 40h1v1h-1zM10 41h1v1h-1zM52 41h1v1h-1zM63 41h2v1h-2zM68 41h1v1h-1zM116 41h1v1h-1zM126 41h1v1h-1zM132 41h2v1h-2zM142 41h1v1h-1zM147 41h1v1h-1zM151 41h1v1h-1zM9 42h1v1h-1zM14 42h1v1h-1zM31 42h1v1h-1zM40 42h1v1h-1zM48 42h1v1h-1zM101 42h1v1h-1zM118 43h1v1h-1zM149 43h1v1h-1zM50 44h1v1h-1zM99 44h1v1h-1zM121 44h1v1h-1zM125 44h1v1h-1zM134 44h1v1h-1zM137 44h1v1h-1zM8 45h1v1h-1zM19 45h1v1h-1zM29 45h1v1h-1zM38 45h1v1h-1zM117 45h1v1h-1zM119 45h1v1h-1zM124 45h1v1h-1zM128 45h1v1h-1zM136 45h1v1h-1zM154 45h1v1h-1zM157 45h2v1h-2zM89 46h1v1h-1zM120 46h1v1h-1zM126 46h1v1h-1zM130 46h2v1h-2zM133 46h1v1h-1zM37 47h1v1h-1zM57 47h1v1h-1zM124 47h1v1h-1zM139 47h1v1h-1zM30 48h1v1h-1zM43 48h1v1h-1zM59 48h1v1h-1zM69 48h1v1h-1zM20 49h1v1h-1zM25 49h1v1h-1zM39 49h1v1h-1zM49 49h2v1h-2zM75 49h1v1h-1zM45 50h1v1h-1zM54 50h1v1h-1zM71 50h1v1h-1zM104 50h1v1h-1zM17 51h1v1h-1zM39 51h1v1h-1zM46 51h1v1h-1zM60 51h1v1h-1zM76 51h1v1h-1zM83 51h1v1h-1zM112 51h1v1h-1zM127 51h1v1h-1zM51 52h1v1h-1zM53 52h1v1h-1zM60 52h1v1h-1zM62 52h1v1h-1zM71 52h1v1h-1zM76 52h1v1h-1zM86 52h1v1h-1zM88 52h1v1h-1zM110 52h2v1h-2zM125 52h1v1h-1zM130 52h1v1h-1zM140 52h1v1h-1zM142 52h1v1h-1zM155 52h1v1h-1zM161 52h1v1h-1zM11 53h1v1h-1zM17 53h1v1h-1zM23 53h1v1h-1zM53 53h1v1h-1zM61 53h1v1h-1zM63 53h1v1h-1zM66 53h1v1h-1zM78 53h1v1h-1zM95 53h1v1h-1zM100 53h1v1h-1zM147 53h1v1h-1zM158 53h1v1h-1zM2 54h2v1h-2zM9 54h1v1h-1zM14 54h1v1h-1zM19 54h1v1h-1zM36 54h1v1h-1zM68 54h1v1h-1zM91 54h1v1h-1zM118 54h1v1h-1zM130 54h1v1h-1zM141 54h1v1h-1zM144 54h1v1h-1zM2 55h1v1h-1zM12 55h1v1h-1zM52 55h1v1h-1zM64 55h1v1h-1zM76 55h1v1h-1zM86 55h1v1h-1zM89 55h1v1h-1zM112 55h1v1h-1zM134 55h1v1h-1zM140 55h1v1h-1zM150 55h1v1h-1zM152 55h1v1h-1zM157 55h2v1h-2zM166 55h1v1h-1zM10 56h1v1h-1zM33 56h1v1h-1zM59 56h1v1h-1zM66 56h1v1h-1zM70 56h1v1h-1zM112 56h1v1h-1zM125 56h1v1h-1zM158 56h1v1h-1zM6 57h1v1h-1zM59 57h1v1h-1zM64 57h1v1h-1zM71 57h1v1h-1zM74 57h1v1h-1zM129 57h1v1h-1zM136 57h1v1h-1zM155 57h1v1h-1zM71 58h1v1h-1zM136 58h1v1h-1zM138 58h1v1h-1zM142 58h2v1h-2zM9 59h1v1h-1zM11 59h2v1h-2zM19 59h1v1h-1zM139 59h1v1h-1zM143 59h1v1h-1zM35 60h1v1h-1zM51 60h1v1h-1zM54 60h1v1h-1zM131 60h1v1h-1zM141 60h2v1h-2zM164 60h1v1h-1zM166 60h1v1h-1zM20 61h1v1h-1zM32 61h1v1h-1zM41 61h1v1h-1zM43 61h1v1h-1zM55 61h1v1h-1zM76 61h2v1h-2zM115 61h1v1h-1zM5 62h1v1h-1zM12 62h1v1h-1zM40 62h1v1h-1zM46 62h1v1h-1zM50 62h1v1h-1zM53 62h1v1h-1zM57 62h1v1h-1zM59 62h1v1h-1zM61 62h1v1h-1zM76 62h1v1h-1zM95 62h1v1h-1zM115 62h1v1h-1zM140 62h2v1h-2zM3 63h1v1h-1zM11 63h1v1h-1zM18 63h1v1h-1zM21 63h1v1h-1zM28 63h1v1h-1zM38 63h1v1h-1zM43 63h1v1h-1zM52 63h1v1h-1zM65 63h2v1h-2zM75 63h1v1h-1zM79 63h1v1h-1zM95 63h1v1h-1zM27 64h2v1h-2zM33 64h1v1h-1zM50 64h1v1h-1zM65 64h1v1h-1zM125 64h1v1h-1zM134 64h1v1h-1zM12 65h1v1h-1zM22 65h2v1h-2zM37 65h1v1h-1zM53 65h2v1h-2zM78 65h1v1h-1zM119 65h2v1h-2zM126 65h1v1h-1zM128 65h1v1h-1zM17 66h2v1h-2zM53 66h1v1h-1zM83 66h1v1h-1zM96 66h1v1h-1zM98 66h1v1h-1zM113 66h1v1h-1zM16 67h1v1h-1zM19 67h2v1h-2zM58 67h1v1h-1zM63 67h1v1h-1zM85 67h1v1h-1zM92 67h1v1h-1zM99 67h1v1h-1zM116 67h1v1h-1zM132 67h2v1h-2zM141 67h1v1h-1zM37 68h2v1h-2zM62 68h1v1h-1zM68 68h1v1h-1zM73 68h1v1h-1zM91 68h1v1h-1zM97 68h1v1h-1zM115 68h1v1h-1zM47 69h1v1h-1zM58 69h1v1h-1zM85 69h1v1h-1zM93 69h1v1h-1zM96 69h1v1h-1zM115 69h1v1h-1zM121 70h1v1h-1zM138 70h1v1h-1zM19 71h1v1h-1zM21 71h1v1h-1zM32 71h1v1h-1zM111 71h1v1h-1zM18 72h1v1h-1zM30 72h1v1h-1zM71 72h1v1h-1zM78 72h1v1h-1zM86 72h1v1h-1zM126 72h1v1h-1zM6 73h1v1h-1zM16 73h1v1h-1zM24 73h1v1h-1zM31 73h1v1h-1zM35 73h1v1h-1zM59 73h1v1h-1zM61 73h1v1h-1zM75 73h1v1h-1zM81 73h2v1h-2zM87 73h1v1h-1zM125 73h1v1h-1zM25 74h1v1h-1zM67 74h2v1h-2zM118 74h1v1h-1zM124 74h1v1h-1zM132 74h1v1h-1zM5 75h1v1h-1zM8 75h1v1h-1zM16 75h1v1h-1zM23 75h1v1h-1zM73 75h1v1h-1zM90 75h1v1h-1z"/>
<path fill="#f7cbbc" d="M9 0h1v1h-1zM51 0h1v1h-1zM53 0h1v1h-1zM97 0h1v1h-1zM106 0h1v1h-1zM113 0h1v1h-1zM121 0h1v1h-1zM125 0h1v1h-1zM14 1h1v1h-1zM29 1h1v1h-1zM93 1h1v1h-1zM95 1h1v1h-1zM98 1h1v1h-1zM100 1h1v1h-1zM102 1h1v1h-1zM125 1h1v1h-1zM134 1h1v1h-1zM136 1h2v1h-2zM145 1h1v1h-1zM155 1h1v1h-1zM159 1h1v1h-1zM3 2h1v1h-1zM15 2h1v1h-1zM23 2h1v1h-1zM53 2h1v1h-1zM57 2h1v1h-1zM67 2h1v1h-1zM81 2h1v1h-1zM95 2h1v1h-1zM120 2h1v1h-1zM129 2h1v1h-1zM132 2h1v1h-1zM139 2h1v1h-1zM158 2h1v1h-1zM77 3h2v1h-2zM83 3h1v1h-1zM118 3h1v1h-1zM121 3h1v1h-1zM146 3h1v1h-1zM16 4h1v1h-1zM36 4h1v1h-1zM65 4h1v1h-1zM70 4h2v1h-2zM76 4h1v1h-1zM140 4h2v1h-2zM148 4h2v1h-2zM151 4h1v1h-1zM157 4h1v1h-1zM160 4h1v1h-1zM61 5h1v1h-1zM79 5h1v1h-1zM85 5h1v1h-1zM90 5h1v1h-1zM136 5h1v1h-1zM138 5h1v1h-1zM144 5h2v1h-2zM10 6h1v1h-1zM51 6h1v1h-1zM53 6h1v1h-1zM105 6h1v1h-1zM132 6h1v1h-1zM150 6h1v1h-1zM161 6h1v1h-1zM167 6h1v1h-1zM11 7h1v1h-1zM13 7h1v1h-1zM61 7h1v1h-1zM103 7h2v1h-2zM107 7h1v1h-1zM110 7h1v1h-1zM113 7h2v1h-2zM117 7h1v1h-1zM120 7h1v1h-1zM125 7h1v1h-1zM131 7h1v1h-1zM146 7h1v1h-1zM167 7h1v1h-1zM7 8h1v1h-1zM10 8h1v1h-1zM58 8h1v1h-1zM60 8h1v1h-1zM62 8h1v1h-1zM64 8h1v1h-1zM95 8h1v1h-1zM101 8h1v1h-1zM109 8h1v1h-1zM115 8h1v1h-1zM119 8h1v1h-1zM135 8h1v1h-1zM137 8h1v1h-1zM142 8h1v1h-1zM151 8h1v1h-1zM154 8h1v1h-1zM158 8h1v1h-1zM165 8h1v1h-1zM53 9h1v1h-1zM56 9h1v1h-1zM59 9h1v1h-1zM121 9h1v1h-1zM132 9h2v1h-2zM135 9h1v1h-1zM150 9h1v1h-1zM154 9h1v1h-1zM161 9h1v1h-1zM6 10h1v1h-1zM40 10h1v1h-1zM53 10h1v1h-1zM64 10h1v1h-1zM68 10h1v1h-1zM76 10h1v1h-1zM100 10h1v1h-1zM111 10h1v1h-1zM113 10h2v1h-2zM145 10h1v1h-1zM149 10h2v1h-2zM152 10h1v1h-1zM156 10h1v1h-1zM167 10h1v1h-1zM3 11h1v1h-1zM19 11h1v1h-1zM62 11h1v1h-1zM68 11h1v1h-1zM145 11h1v1h-1zM150 11h1v1h-1zM158 11h1v1h-1zM162 11h1v1h-1zM164 11h1v1h-1zM2 12h1v1h-1zM36 12h1v1h-1zM40 12h1v1h-1zM50 12h1v1h-1zM54 12h1v1h-1zM70 12h1v1h-1zM73 12h1v1h-1zM110 12h1v1h-1zM114 12h1v1h-1zM116 12h1v1h-1zM70 13h1v1h-1zM73 13h1v1h-1zM80 13h1v1h-1zM111 13h1v1h-1zM115 13h1v1h-1zM118 13h3v1h-3zM45 14h1v1h-1zM57 15h1v1h-1zM111 15h1v1h-1zM158 15h1v1h-1zM10 16h1v1h-1zM30 16h1v1h-1zM110 16h1v1h-1zM115 16h1v1h-1zM128 16h1v1h-1zM146 16h1v1h-1zM3 17h1v1h-1zM8 17h1v1h-1zM24 17h1v1h-1zM145 17h1v1h-1zM152 17h1v1h-1zM51 18h1v1h-1zM56 18h1v1h-1zM60 18h1v1h-1zM67 18h1v1h-1zM70 18h2v1h-2zM74 18h1v1h-1zM90 18h1v1h-1zM92 18h1v1h-1zM94 18h2v1h-2zM101 18h2v1h-2zM104 18h1v1h-1zM110 18h1v1h-1zM120 18h1v1h-1zM127 18h2v1h-2zM131 18h1v1h-1zM146 18h1v1h-1zM165 18h1v1h-1zM58 19h1v1h-1zM79 19h1v1h-1zM81 19h1v1h-1zM104 19h3v1h-3zM108 19h1v1h-1zM118 19h1v1h-1zM120 19h1v1h-1zM127 19h2v1h-2zM134 19h2v1h-2zM146 19h1v1h-1zM157 19h1v1h-1zM163 19h1v1h-1zM37 20h1v1h-1zM86 20h1v1h-1zM105 20h1v1h-1zM122 20h1v1h-1zM131 20h1v1h-1zM159 20h1v1h-1zM76 21h1v1h-1zM81 21h1v1h-1zM96 21h1v1h-1zM105 21h2v1h-2zM115 21h1v1h-1zM120 21h1v1h-1zM130 21h1v1h-1zM154 21h1v1h-1zM16 22h1v1h-1zM38 22h1v1h-1zM46 22h1v1h-1zM49 22h1v1h-1zM69 22h1v1h-1zM75 22h1v1h-1zM81 22h1v1h-1zM94 22h1v1h-1zM83 23h1v1h-1zM95 23h1v1h-1zM108 23h1v1h-1zM152 23h1v1h-1zM63 24h1v1h-1zM75 24h1v1h-1zM37 25h1v1h-1zM72 25h2v1h-2zM46 26h1v1h-1zM107 26h1v1h-1zM130 26h1v1h-1zM148 26h1v1h-1zM157 26h1v1h-1zM160 26h1v1h-1zM5 27h1v1h-1zM10 27h1v1h-1zM96 27h1v1h-1zM100 27h1v1h-1zM108 27h1v1h-1zM110 27h1v1h-1zM125 27h1v1h-1zM150 27h1v1h-1zM155 27h1v1h-1zM3 28h1v1h-1zM8 28h1v1h-1zM22 28h1v1h-1zM41 28h1v1h-1zM87 28h1v1h-1zM92 28h1v1h-1zM105 28h1v1h-1zM107 28h1v1h-1zM110 28h2v1h-2zM119 28h2v1h-2zM126 28h1v1h-1zM146 28h1v1h-1zM159 28h1v1h-1zM167 28h1v1h-1zM18 29h1v1h-1zM86 29h1v1h-1zM98 29h1v1h-1zM115 29h1v1h-1zM118 29h1v1h-1zM124 29h1v1h-1zM141 29h1v1h-1zM145 29h1v1h-1zM162 29h1v1h-1zM165 29h1v1h-1zM40 30h1v1h-1zM45 30h1v1h-1zM67 30h1v1h-1zM73 30h1v1h-1zM80 30h1v1h-1zM88 30h1v1h-1zM91 30h2v1h-2zM117 30h1v1h-1zM20 31h1v1h-1zM34 31h1v1h-1zM46 31h1v1h-1zM59 31h2v1h-2zM70 31h1v1h-1zM87 31h1v1h-1zM89 31h1v1h-1zM2 32h1v1h-1zM27 32h1v1h-1zM49 32h1v1h-1zM62 32h1v1h-1zM74 32h1v1h-1zM77 32h1v1h-1zM82 32h1v1h-1zM145 32h1v1h-1zM158 32h2v1h-2zM162 32h1v1h-1zM166 32h2v1h-2zM44 33h1v1h-1zM52 33h1v1h-1zM85 33h1v1h-1zM87 33h1v1h-1zM118 33h1v1h-1zM155 33h3v1h-3zM160 33h1v1h-1zM67 34h1v1h-1zM71 34h3v1h-3zM92 34h1v1h-1zM156 34h1v1h-1zM16 35h1v1h-1zM19 35h1v1h-1zM52 35h1v1h-1zM66 35h1v1h-1zM71 35h1v1h-1zM89 35h1v1h-1zM110 35h2v1h-2zM8 36h1v1h-1zM12 36h1v1h-1zM22 36h1v1h-1zM32 36h1v1h-1zM60 36h1v1h-1zM62 36h1v1h-1zM72 36h1v1h-1zM88 36h1v1h-1zM10 37h1v1h-1zM13 37h1v1h-1zM19 37h1v1h-1zM62 37h1v1h-1zM132 37h1v1h-1zM158 37h1v1h-1zM53 38h1v1h-1zM69 38h1v1h-1zM73 38h1v1h-1zM87 38h1v1h-1zM150 38h1v1h-1zM11 39h1v1h-1zM13 39h1v1h-1zM19 39h1v1h-1zM28 39h1v1h-1zM35 39h1v1h-1zM55 39h1v1h-1zM57 39h1v1h-1zM63 39h1v1h-1zM66 39h2v1h-2zM78 39h1v1h-1zM84 39h1v1h-1zM155 39h1v1h-1zM14 40h1v1h-1zM17 40h1v1h-1zM24 40h1v1h-1zM77 40h1v1h-1zM79 40h1v1h-1zM86 40h1v1h-1zM88 40h2v1h-2zM117 40h1v1h-1zM124 40h1v1h-1zM148 40h1v1h-1zM9 41h1v1h-1zM11 41h1v1h-1zM13 41h1v1h-1zM15 41h1v1h-1zM55 41h2v1h-2zM65 41h1v1h-1zM76 41h1v1h-1zM78 41h2v1h-2zM87 41h2v1h-2zM113 41h1v1h-1zM119 41h1v1h-1zM125 41h1v1h-1zM130 41h1v1h-1zM134 41h1v1h-1zM10 42h1v1h-1zM41 42h1v1h-1zM53 42h1v1h-1zM96 42h1v1h-1zM117 42h2v1h-2zM125 42h1v1h-1zM137 42h1v1h-1zM9 43h1v1h-1zM19 43h1v1h-1zM26 43h1v1h-1zM43 43h1v1h-1zM94 43h1v1h-1zM100 43h1v1h-1zM111 43h1v1h-1zM115 43h1v1h-1zM117 43h1v1h-1zM112 44h1v1h-1zM41 45h1v1h-1zM111 45h1v1h-1zM120 45h1v1h-1zM122 45h1v1h-1zM125 45h1v1h-1zM159 45h1v1h-1zM26 46h2v1h-2zM34 46h1v1h-1zM119 46h1v1h-1zM128 46h1v1h-1zM22 47h1v1h-1zM24 47h1v1h-1zM43 47h1v1h-1zM45 47h1v1h-1zM78 47h1v1h-1zM122 47h1v1h-1zM130 47h1v1h-1zM6 48h1v1h-1zM10 48h1v1h-1zM18 48h1v1h-1zM27 48h1v1h-1zM37 48h1v1h-1zM67 48h1v1h-1zM71 48h1v1h-1zM117 48h1v1h-1zM7 49h1v1h-1zM30 49h1v1h-1zM33 49h1v1h-1zM112 49h1v1h-1zM13 50h1v1h-1zM28 50h1v1h-1zM63 50h1v1h-1zM75 50h1v1h-1zM116 50h1v1h-1zM118 50h1v1h-1zM21 51h1v1h-1zM33 51h1v1h-1zM110 51h1v1h-1zM131 51h1v1h-1zM163 51h1v1h-1zM24 52h1v1h-1zM28 52h1v1h-1zM41 52h1v1h-1zM108 52h1v1h-1zM131 52h1v1h-1zM149 52h1v1h-1zM156 52h1v1h-1zM41 53h2v1h-2zM76 53h1v1h-1zM91 53h1v1h-1zM140 53h1v1h-1zM164 53h1v1h-1zM166 53h2v1h-2zM5 54h1v1h-1zM13 54h1v1h-1zM33 54h1v1h-1zM55 54h1v1h-1zM57 54h1v1h-1zM84 54h1v1h-1zM89 54h1v1h-1zM99 54h1v1h-1zM102 54h1v1h-1zM7 55h2v1h-2zM38 55h1v1h-1zM55 55h1v1h-1zM72 55h1v1h-1zM79 55h1v1h-1zM82 55h1v1h-1zM107 55h1v1h-1zM149 55h1v1h-1zM156 55h1v1h-1zM168 55h1v1h-1zM3 56h1v1h-1zM60 56h1v1h-1zM120 56h1v1h-1zM130 56h1v1h-1zM10 57h1v1h-1zM24 57h1v1h-1zM44 57h1v1h-1zM61 57h1v1h-1zM65 57h3v1h-3zM73 57h1v1h-1zM75 57h1v1h-1zM120 57h1v1h-1zM122 57h1v1h-1zM124 57h1v1h-1zM139 57h1v1h-1zM158 57h1v1h-1zM23 58h1v1h-1zM112 58h1v1h-1zM139 58h3v1h-3zM168 58h1v1h-1zM50 59h1v1h-1zM72 59h1v1h-1zM111 59h1v1h-1zM3 60h1v1h-1zM14 60h1v1h-1zM53 60h1v1h-1zM58 60h1v1h-1zM60 60h1v1h-1zM67 60h1v1h-1zM69 60h1v1h-1zM72 60h1v1h-1zM75 60h1v1h-1zM113 60h1v1h-1zM137 60h1v1h-1zM139 60h1v1h-1zM167 60h1v1h-1zM5 61h1v1h-1zM7 61h1v1h-1zM18 61h1v1h-1zM39 61h1v1h-1zM53 61h1v1h-1zM63 61h1v1h-1zM114 61h1v1h-1zM166 61h1v1h-1zM19 62h1v1h-1zM21 62h2v1h-2zM27 62h1v1h-1zM62 62h2v1h-2zM118 62h1v1h-1zM124 62h1v1h-1zM136 62h1v1h-1zM15 63h1v1h-1zM23 63h1v1h-1zM27 63h1v1h-1zM48 63h1v1h-1zM61 63h2v1h-2zM94 63h1v1h-1zM111 63h1v1h-1zM124 63h1v1h-1zM134 63h1v1h-1zM5 64h1v1h-1zM10 64h1v1h-1zM35 64h1v1h-1zM37 64h1v1h-1zM47 64h1v1h-1zM57 64h1v1h-1zM119 64h1v1h-1zM143 64h1v1h-1zM3 65h1v1h-1zM13 65h1v1h-1zM15 65h1v1h-1zM31 65h1v1h-1zM40 65h1v1h-1zM52 65h1v1h-1zM143 65h1v1h-1zM12 66h1v1h-1zM24 66h1v1h-1zM134 66h1v1h-1zM138 66h1v1h-1zM152 66h1v1h-1zM4 67h1v1h-1zM7 67h1v1h-1zM12 67h1v1h-1zM28 67h1v1h-1zM56 67h1v1h-1zM78 67h2v1h-2zM127 67h1v1h-1zM129 67h1v1h-1zM134 67h2v1h-2zM137 67h1v1h-1zM15 68h1v1h-1zM26 68h1v1h-1zM45 68h1v1h-1zM74 68h1v1h-1zM95 68h1v1h-1zM111 68h1v1h-1zM129 68h1v1h-1zM134 68h1v1h-1zM136 68h1v1h-1zM7 69h2v1h-2zM66 69h1v1h-1zM86 69h1v1h-1zM98 69h1v1h-1zM101 69h1v1h-1zM112 69h1v1h-1zM116 69h1v1h-1zM128 69h1v1h-1zM4 70h1v1h-1zM22 70h1v1h-1zM28 70h1v1h-1zM38 70h1v1h-1zM45 70h1v1h-1zM60 70h2v1h-2zM82 70h1v1h-1zM88 70h1v1h-1zM11 71h1v1h-1zM13 71h1v1h-1zM35 71h1v1h-1zM54 71h2v1h-2zM59 71h1v1h-1zM73 71h1v1h-1zM81 71h2v1h-2zM118 71h1v1h-1zM33 72h1v1h-1zM44 72h1v1h-1zM66 72h1v1h-1zM79 72h1v1h-1zM83 72h1v1h-1zM90 72h1v1h-1zM92 72h1v1h-1zM120 72h1v1h-1zM60 73h1v1h-1zM69 73h1v1h-1zM74 73h1v1h-1zM77 73h1v1h-1zM83 73h1v1h-1zM90 73h1v1h-1zM120 73h3v1h-3zM10 74h1v1h-1zM22 74h1v1h-1zM75 74h1v1h-1zM168 74h1v1h-1zM11 75h1v1h-1zM35 75h1v1h-1zM41 75h1v1h-1zM46 75h1v1h-1z"/>
<path fill="#f8c3af" d="M119 0h1v1h-1zM128 0h1v1h-1zM133 0h1v1h-1zM16 1h1v1h-1zM43 1h1v1h-1zM55 1h1v1h-1zM78 1h1v1h-1zM116 1h1v1h-1zM121 1h1v1h-1zM129 1h1v1h-1zM142 1h2v1h-2zM1 2h2v1h-2zM7 2h1v1h-1zM56 2h1v1h-1zM114 2h1v1h-1zM119 2h1v1h-1zM126 2h1v1h-1zM136 2h1v1h-1zM149 2h1v1h-1zM12 3h4v1h-4zM19 3h1v1h-1zM51 3h2v1h-2zM54 3h1v1h-1zM58 3h1v1h-1zM63 3h2v1h-2zM66 3h1v1h-1zM68 3h1v1h-1zM70 3h1v1h-1zM97 3h1v1h-1zM114 3h1v1h-1zM123 3h1v1h-1zM126 3h1v1h-1zM131 3h1v1h-1zM133 3h1v1h-1zM137 3h1v1h-1zM148 3h1v1h-1zM154 3h2v1h-2zM40 4h1v1h-1zM52 4h1v1h-1zM64 4h1v1h-1zM75 4h1v1h-1zM77 4h2v1h-2zM80 4h1v1h-1zM91 4h1v1h-1zM122 4h2v1h-2zM126 4h1v1h-1zM129 4h1v1h-1zM1 5h1v1h-1zM52 5h1v1h-1zM58 5h1v1h-1zM67 5h2v1h-2zM70 5h1v1h-1zM88 5h1v1h-1zM91 5h1v1h-1zM110 5h1v1h-1zM117 5h1v1h-1zM135 5h1v1h-1zM148 5h1v1h-1zM3 6h1v1h-1zM67 6h1v1h-1zM103 6h1v1h-1zM112 6h1v1h-1zM130 6h1v1h-1zM143 6h1v1h-1zM147 6h1v1h-1zM149 6h1v1h-1zM159 6h1v1h-1zM164 6h1v1h-1zM9 7h1v1h-1zM25 7h1v1h-1zM34 7h1v1h-1zM57 7h1v1h-1zM67 7h1v1h-1zM112 7h1v1h-1zM121 7h1v1h-1zM124 7h1v1h-1zM128 7h2v1h-2zM139 7h1v1h-1zM141 7h1v1h-1zM165 7h1v1h-1zM57 8h1v1h-1zM79 8h1v1h-1zM105 8h1v1h-1zM107 8h2v1h-2zM112 8h1v1h-1zM136 8h1v1h-1zM164 8h1v1h-1zM7 9h1v1h-1zM50 9h1v1h-1zM55 9h1v1h-1zM95 9h1v1h-1zM103 9h1v1h-1zM111 9h1v1h-1zM157 9h1v1h-1zM166 9h1v1h-1zM13 10h1v1h-1zM59 10h1v1h-1zM61 10h1v1h-1zM77 10h1v1h-1zM98 10h1v1h-1zM148 10h1v1h-1zM154 10h1v1h-1zM158 10h2v1h-2zM54 11h1v1h-1zM72 11h1v1h-1zM100 11h1v1h-1zM118 11h1v1h-1zM148 11h1v1h-1zM43 12h1v1h-1zM51 12h3v1h-3zM60 12h1v1h-1zM63 12h1v1h-1zM69 12h1v1h-1zM38 13h1v1h-1zM55 13h1v1h-1zM67 13h1v1h-1zM74 13h1v1h-1zM29 14h1v1h-1zM41 14h1v1h-1zM51 14h1v1h-1zM79 14h1v1h-1zM7 15h1v1h-1zM10 15h1v1h-1zM21 15h1v1h-1zM25 15h1v1h-1zM53 15h1v1h-1zM83 15h1v1h-1zM0 16h1v1h-1zM4 16h2v1h-2zM12 16h1v1h-1zM25 16h1v1h-1zM34 16h1v1h-1zM43 16h1v1h-1zM114 16h1v1h-1zM152 16h1v1h-1zM36 17h1v1h-1zM41 17h1v1h-1zM43 17h1v1h-1zM77 17h1v1h-1zM82 17h1v1h-1zM111 17h1v1h-1zM133 17h1v1h-1zM148 17h1v1h-1zM150 17h1v1h-1zM80 18h1v1h-1zM105 18h1v1h-1zM115 18h1v1h-1zM152 18h1v1h-1zM41 19h1v1h-1zM55 19h1v1h-1zM70 19h1v1h-1zM94 19h1v1h-1zM96 19h1v1h-1zM99 19h1v1h-1zM112 19h1v1h-1zM130 19h1v1h-1zM150 19h1v1h-1zM92 20h1v1h-1zM96 20h1v1h-1zM99 20h1v1h-1zM129 20h1v1h-1zM7 21h1v1h-1zM32 21h1v1h-1zM80 21h1v1h-1zM82 21h1v1h-1zM86 21h1v1h-1zM100 21h1v1h-1zM107 21h1v1h-1zM157 21h1v1h-1zM36 22h1v1h-1zM50 22h1v1h-1zM73 22h1v1h-1zM84 22h1v1h-1zM99 22h1v1h-1zM146 22h1v1h-1zM150 22h1v1h-1zM77 23h1v1h-1zM93 23h1v1h-1zM99 23h1v1h-1zM120 23h1v1h-1zM30 24h1v1h-1zM45 24h1v1h-1zM71 24h1v1h-1zM74 24h1v1h-1zM106 24h1v1h-1zM114 24h2v1h-2zM12 25h1v1h-1zM43 25h1v1h-1zM59 25h1v1h-1zM67 25h1v1h-1zM111 25h1v1h-1zM115 25h1v1h-1zM0 26h1v1h-1zM5 26h1v1h-1zM13 26h1v1h-1zM43 26h1v1h-1zM106 26h1v1h-1zM128 26h1v1h-1zM147 26h1v1h-1zM155 26h1v1h-1zM39 27h1v1h-1zM102 27h1v1h-1zM152 27h1v1h-1zM156 27h1v1h-1zM158 27h1v1h-1zM15 28h1v1h-1zM40 28h1v1h-1zM46 28h1v1h-1zM89 28h2v1h-2zM94 28h2v1h-2zM152 28h1v1h-1zM164 28h1v1h-1zM103 29h1v1h-1zM105 29h1v1h-1zM117 29h1v1h-1zM126 29h1v1h-1zM143 29h1v1h-1zM154 29h1v1h-1zM159 29h1v1h-1zM39 30h1v1h-1zM48 30h1v1h-1zM52 30h1v1h-1zM54 30h1v1h-1zM56 30h1v1h-1zM60 30h1v1h-1zM72 30h1v1h-1zM77 30h1v1h-1zM12 31h1v1h-1zM17 31h1v1h-1zM56 31h1v1h-1zM58 31h1v1h-1zM74 31h2v1h-2zM51 32h1v1h-1zM71 32h1v1h-1zM84 32h1v1h-1zM88 32h2v1h-2zM91 32h1v1h-1zM157 32h1v1h-1zM165 32h1v1h-1zM29 33h1v1h-1zM57 33h2v1h-2zM64 33h1v1h-1zM86 33h1v1h-1zM166 33h2v1h-2zM15 34h1v1h-1zM25 34h1v1h-1zM56 34h1v1h-1zM83 34h1v1h-1zM86 34h1v1h-1zM88 34h1v1h-1zM91 34h1v1h-1zM114 34h1v1h-1zM117 34h1v1h-1zM157 34h1v1h-1zM3 35h1v1h-1zM45 35h1v1h-1zM69 35h2v1h-2zM76 35h1v1h-1zM117 35h1v1h-1zM153 35h1v1h-1zM27 36h1v1h-1zM54 36h2v1h-2zM69 36h1v1h-1zM81 36h1v1h-1zM86 36h1v1h-1zM154 36h1v1h-1zM158 36h2v1h-2zM161 36h1v1h-1zM163 36h1v1h-1zM12 37h1v1h-1zM31 37h1v1h-1zM64 37h1v1h-1zM68 37h1v1h-1zM70 37h1v1h-1zM72 37h1v1h-1zM74 37h4v1h-4zM92 37h1v1h-1zM159 37h1v1h-1zM161 37h1v1h-1zM163 37h1v1h-1zM8 38h1v1h-1zM67 38h1v1h-1zM82 38h1v1h-1zM90 38h1v1h-1zM160 38h1v1h-1zM14 39h2v1h-2zM73 39h1v1h-1zM76 39h1v1h-1zM80 39h3v1h-3zM154 39h1v1h-1zM159 39h1v1h-1zM7 40h1v1h-1zM19 40h1v1h-1zM25 40h1v1h-1zM61 40h1v1h-1zM78 40h1v1h-1zM85 40h1v1h-1zM111 40h1v1h-1zM122 40h1v1h-1zM128 40h1v1h-1zM135 40h2v1h-2zM139 40h1v1h-1zM141 40h1v1h-1zM0 41h1v1h-1zM8 41h1v1h-1zM35 41h1v1h-1zM51 41h1v1h-1zM58 41h1v1h-1zM61 41h1v1h-1zM66 41h2v1h-2zM71 41h1v1h-1zM80 41h1v1h-1zM86 41h1v1h-1zM90 41h1v1h-1zM114 41h1v1h-1zM117 41h1v1h-1zM136 41h1v1h-1zM28 42h1v1h-1zM95 42h1v1h-1zM98 42h1v1h-1zM12 43h1v1h-1zM98 43h1v1h-1zM123 43h1v1h-1zM4 44h1v1h-1zM113 44h1v1h-1zM117 44h2v1h-2zM122 44h1v1h-1zM158 44h2v1h-2zM9 45h1v1h-1zM20 45h1v1h-1zM22 45h1v1h-1zM116 45h1v1h-1zM20 47h1v1h-1zM52 47h1v1h-1zM134 47h2v1h-2zM111 48h1v1h-1zM114 48h1v1h-1zM16 49h1v1h-1zM18 49h1v1h-1zM31 49h1v1h-1zM114 49h1v1h-1zM18 50h1v1h-1zM44 50h1v1h-1zM125 50h1v1h-1zM1 51h1v1h-1zM9 51h2v1h-2zM114 51h3v1h-3zM118 51h1v1h-1zM4 52h1v1h-1zM31 52h1v1h-1zM63 52h1v1h-1zM69 52h1v1h-1zM112 52h1v1h-1zM127 52h1v1h-1zM145 52h2v1h-2zM154 52h1v1h-1zM160 52h1v1h-1zM7 53h1v1h-1zM26 53h1v1h-1zM46 53h1v1h-1zM50 53h2v1h-2zM75 53h1v1h-1zM128 53h1v1h-1zM136 53h1v1h-1zM0 54h1v1h-1zM4 54h1v1h-1zM27 54h1v1h-1zM34 54h1v1h-1zM45 54h1v1h-1zM49 54h1v1h-1zM64 54h1v1h-1zM98 54h1v1h-1zM108 54h1v1h-1zM160 54h1v1h-1zM41 55h1v1h-1zM95 55h2v1h-2zM122 55h1v1h-1zM136 55h1v1h-1zM44 56h1v1h-1zM65 56h1v1h-1zM67 56h1v1h-1zM69 56h1v1h-1zM75 56h1v1h-1zM129 56h1v1h-1zM140 56h1v1h-1zM31 57h1v1h-1zM138 57h1v1h-1zM143 57h1v1h-1zM7 58h1v1h-1zM16 58h1v1h-1zM27 58h2v1h-2zM34 58h1v1h-1zM66 58h1v1h-1zM74 58h1v1h-1zM117 58h1v1h-1zM7 59h1v1h-1zM22 59h1v1h-1zM31 59h1v1h-1zM4 60h1v1h-1zM43 60h1v1h-1zM59 60h1v1h-1zM128 60h1v1h-1zM138 60h1v1h-1zM140 60h1v1h-1zM8 61h1v1h-1zM45 61h2v1h-2zM51 61h1v1h-1zM61 61h1v1h-1zM69 61h1v1h-1zM110 61h1v1h-1zM129 61h1v1h-1zM134 61h1v1h-1zM142 61h1v1h-1zM13 62h1v1h-1zM15 62h1v1h-1zM23 62h1v1h-1zM30 62h1v1h-1zM48 62h1v1h-1zM58 62h1v1h-1zM60 62h1v1h-1zM4 63h1v1h-1zM25 63h1v1h-1zM29 63h1v1h-1zM31 63h1v1h-1zM39 63h1v1h-1zM42 63h1v1h-1zM45 63h1v1h-1zM49 63h1v1h-1zM53 63h1v1h-1zM76 63h1v1h-1zM112 63h1v1h-1zM114 63h2v1h-2zM123 63h1v1h-1zM136 63h1v1h-1zM8 64h1v1h-1zM21 64h1v1h-1zM31 64h1v1h-1zM43 64h1v1h-1zM51 64h1v1h-1zM61 64h1v1h-1zM64 64h1v1h-1zM66 64h1v1h-1zM123 64h1v1h-1zM16 65h1v1h-1zM43 65h1v1h-1zM56 65h1v1h-1zM66 65h1v1h-1zM115 65h1v1h-1zM137 65h1v1h-1zM23 66h1v1h-1zM26 66h1v1h-1zM60 66h1v1h-1zM64 66h1v1h-1zM67 66h1v1h-1zM108 66h1v1h-1zM114 66h1v1h-1zM136 66h2v1h-2zM13 67h1v1h-1zM24 67h1v1h-1zM27 67h1v1h-1zM30 67h1v1h-1zM55 67h1v1h-1zM61 67h1v1h-1zM67 67h1v1h-1zM71 67h1v1h-1zM100 67h1v1h-1zM117 67h2v1h-2zM128 67h1v1h-1zM131 67h1v1h-1zM136 67h1v1h-1zM34 68h1v1h-1zM54 68h1v1h-1zM64 68h1v1h-1zM70 68h1v1h-1zM78 68h1v1h-1zM81 68h1v1h-1zM88 68h1v1h-1zM92 68h1v1h-1zM103 68h1v1h-1zM112 68h1v1h-1zM131 68h1v1h-1zM48 69h1v1h-1zM62 69h1v1h-1zM64 69h1v1h-1zM87 69h1v1h-1zM90 69h1v1h-1zM92 69h1v1h-1zM100 69h1v1h-1zM34 70h1v1h-1zM52 70h1v1h-1zM55 70h1v1h-1zM78 70h1v1h-1zM85 70h1v1h-1zM20 71h1v1h-1zM22 71h1v1h-1zM42 71h1v1h-1zM57 71h1v1h-1zM76 71h1v1h-1zM79 71h1v1h-1zM90 71h1v1h-1zM7 72h1v1h-1zM15 72h1v1h-1zM32 72h1v1h-1zM39 72h1v1h-1zM43 72h1v1h-1zM75 72h1v1h-1zM85 72h1v1h-1zM121 72h1v1h-1zM125 72h1v1h-1zM9 73h1v1h-1zM14 73h1v1h-1zM20 73h1v1h-1zM27 73h1v1h-1zM42 73h1v1h-1zM44 73h1v1h-1zM49 73h1v1h-1zM64 73h1v1h-1zM66 73h1v1h-1zM84 73h2v1h-2zM88 73h1v1h-1zM72 74h1v1h-1zM15 75h1v1h-1zM26 75h1v1h-1zM45 75h1v1h-1z"/>
<path fill="#f8b8a2" d="M76 0h1v1h-1zM82 0h1v1h-1zM96 0h1v1h-1zM99 0h1v1h-1zM103 0h1v1h-1zM107 0h1v1h-1zM114 0h1v1h-1zM120 0h1v1h-1zM131 0h1v1h-1zM142 0h1v1h-1zM147 0h2v1h-2zM151 0h1v1h-1zM106 1h1v1h-1zM109 1h1v1h-1zM140 1h1v1h-1zM144 1h1v1h-1zM153 1h1v1h-1zM4 2h3v1h-3zM12 2h1v1h-1zM52 2h1v1h-1zM58 2h1v1h-1zM111 2h1v1h-1zM118 2h1v1h-1zM124 2h1v1h-1zM130 2h1v1h-1zM145 2h2v1h-2zM152 2h1v1h-1zM154 2h1v1h-1zM110 3h1v1h-1zM113 3h1v1h-1zM130 3h1v1h-1zM144 3h1v1h-1zM157 3h2v1h-2zM5 4h1v1h-1zM15 4h1v1h-1zM35 4h1v1h-1zM51 4h1v1h-1zM57 4h3v1h-3zM62 4h2v1h-2zM73 4h1v1h-1zM79 4h1v1h-1zM110 4h1v1h-1zM114 4h1v1h-1zM120 4h1v1h-1zM124 4h1v1h-1zM131 4h1v1h-1zM134 4h1v1h-1zM144 4h1v1h-1zM147 4h1v1h-1zM159 4h1v1h-1zM57 5h1v1h-1zM59 5h2v1h-2zM75 5h1v1h-1zM84 5h1v1h-1zM125 5h1v1h-1zM129 5h1v1h-1zM141 5h1v1h-1zM151 5h2v1h-2zM0 6h1v1h-1zM60 6h1v1h-1zM108 6h1v1h-1zM114 6h1v1h-1zM121 6h2v1h-2zM126 6h2v1h-2zM135 6h1v1h-1zM141 6h1v1h-1zM165 6h1v1h-1zM102 7h1v1h-1zM116 7h1v1h-1zM127 7h1v1h-1zM136 7h1v1h-1zM148 7h1v1h-1zM0 8h1v1h-1zM2 8h1v1h-1zM16 8h1v1h-1zM52 8h1v1h-1zM94 8h1v1h-1zM125 8h1v1h-1zM140 8h1v1h-1zM146 8h1v1h-1zM152 8h2v1h-2zM159 8h2v1h-2zM167 8h1v1h-1zM9 9h1v1h-1zM52 9h1v1h-1zM61 9h1v1h-1zM63 9h1v1h-1zM109 9h1v1h-1zM112 9h1v1h-1zM116 9h1v1h-1zM127 9h1v1h-1zM143 9h1v1h-1zM147 9h1v1h-1zM153 9h1v1h-1zM155 9h2v1h-2zM160 9h1v1h-1zM164 9h1v1h-1zM54 10h1v1h-1zM81 10h1v1h-1zM94 10h1v1h-1zM147 10h1v1h-1zM160 10h2v1h-2zM163 10h1v1h-1zM166 10h1v1h-1zM36 11h1v1h-1zM59 11h1v1h-1zM64 11h1v1h-1zM81 11h1v1h-1zM95 11h1v1h-1zM101 11h1v1h-1zM147 11h1v1h-1zM153 11h2v1h-2zM159 11h1v1h-1zM48 12h1v1h-1zM57 12h1v1h-1zM2 13h1v1h-1zM53 13h1v1h-1zM58 13h1v1h-1zM144 13h1v1h-1zM1 14h1v1h-1zM24 14h1v1h-1zM36 14h1v1h-1zM17 15h1v1h-1zM55 15h1v1h-1zM1 16h1v1h-1zM14 16h1v1h-1zM40 16h1v1h-1zM81 16h1v1h-1zM147 16h1v1h-1zM29 17h1v1h-1zM32 17h1v1h-1zM37 17h1v1h-1zM14 18h1v1h-1zM53 18h1v1h-1zM55 18h1v1h-1zM81 18h1v1h-1zM87 18h1v1h-1zM113 18h1v1h-1zM147 18h1v1h-1zM32 19h1v1h-1zM40 19h1v1h-1zM53 19h1v1h-1zM62 19h1v1h-1zM71 19h1v1h-1zM78 19h1v1h-1zM86 19h1v1h-1zM93 19h1v1h-1zM144 19h2v1h-2zM149 19h1v1h-1zM164 19h1v1h-1zM20 20h1v1h-1zM41 20h1v1h-1zM55 20h1v1h-1zM78 20h1v1h-1zM81 20h1v1h-1zM90 20h2v1h-2zM106 20h1v1h-1zM132 20h1v1h-1zM135 20h1v1h-1zM38 21h1v1h-1zM55 21h1v1h-1zM59 21h1v1h-1zM78 21h1v1h-1zM87 21h1v1h-1zM92 21h1v1h-1zM109 21h1v1h-1zM45 22h1v1h-1zM47 22h1v1h-1zM77 22h1v1h-1zM96 22h1v1h-1zM71 23h1v1h-1zM73 23h1v1h-1zM79 23h1v1h-1zM25 24h1v1h-1zM59 24h1v1h-1zM69 24h2v1h-2zM116 24h1v1h-1zM3 25h2v1h-2zM2 26h1v1h-1zM32 26h1v1h-1zM42 26h1v1h-1zM93 26h1v1h-1zM118 26h1v1h-1zM126 26h2v1h-2zM145 26h2v1h-2zM152 26h1v1h-1zM158 26h1v1h-1zM2 27h1v1h-1zM99 27h1v1h-1zM120 27h1v1h-1zM129 27h1v1h-1zM131 27h1v1h-1zM148 27h1v1h-1zM151 27h1v1h-1zM99 28h1v1h-1zM122 28h1v1h-1zM125 28h1v1h-1zM15 29h1v1h-1zM19 29h1v1h-1zM21 29h1v1h-1zM97 29h1v1h-1zM110 29h1v1h-1zM167 29h1v1h-1zM4 30h2v1h-2zM59 30h1v1h-1zM63 30h1v1h-1zM82 30h2v1h-2zM3 31h1v1h-1zM6 31h1v1h-1zM51 31h1v1h-1zM90 31h1v1h-1zM6 32h1v1h-1zM13 32h1v1h-1zM22 32h1v1h-1zM39 32h1v1h-1zM47 32h1v1h-1zM69 32h1v1h-1zM79 32h1v1h-1zM161 32h1v1h-1zM11 33h1v1h-1zM51 33h1v1h-1zM80 33h1v1h-1zM82 33h1v1h-1zM148 33h1v1h-1zM164 33h1v1h-1zM57 34h1v1h-1zM62 34h1v1h-1zM64 34h1v1h-1zM76 34h3v1h-3zM82 34h1v1h-1zM153 34h1v1h-1zM158 34h1v1h-1zM14 35h1v1h-1zM53 35h2v1h-2zM63 35h1v1h-1zM75 35h1v1h-1zM81 35h2v1h-2zM84 35h1v1h-1zM158 35h1v1h-1zM66 36h1v1h-1zM146 36h1v1h-1zM157 36h1v1h-1zM160 36h1v1h-1zM162 36h1v1h-1zM7 37h1v1h-1zM17 37h1v1h-1zM20 37h1v1h-1zM58 37h1v1h-1zM60 37h1v1h-1zM66 37h1v1h-1zM71 37h1v1h-1zM91 37h1v1h-1zM16 38h1v1h-1zM18 38h1v1h-1zM23 38h1v1h-1zM31 38h1v1h-1zM47 38h1v1h-1zM52 38h1v1h-1zM54 38h1v1h-1zM61 38h2v1h-2zM66 38h1v1h-1zM84 38h1v1h-1zM153 38h2v1h-2zM10 39h1v1h-1zM70 39h1v1h-1zM77 39h1v1h-1zM83 39h1v1h-1zM91 39h2v1h-2zM158 39h1v1h-1zM3 40h2v1h-2zM53 40h1v1h-1zM55 40h1v1h-1zM65 40h1v1h-1zM67 40h1v1h-1zM83 40h1v1h-1zM115 40h1v1h-1zM118 40h1v1h-1zM132 40h1v1h-1zM137 40h1v1h-1zM140 40h1v1h-1zM149 40h3v1h-3zM17 41h1v1h-1zM20 41h2v1h-2zM83 41h1v1h-1zM122 41h1v1h-1zM128 41h2v1h-2zM135 41h1v1h-1zM144 41h1v1h-1zM150 41h1v1h-1zM30 42h1v1h-1zM94 42h1v1h-1zM99 42h1v1h-1zM115 42h1v1h-1zM126 42h1v1h-1zM61 43h1v1h-1zM95 43h1v1h-1zM99 43h1v1h-1zM104 43h1v1h-1zM114 43h1v1h-1zM154 43h1v1h-1zM6 44h1v1h-1zM11 44h1v1h-1zM20 44h1v1h-1zM23 44h1v1h-1zM36 44h1v1h-1zM111 44h1v1h-1zM154 44h1v1h-1zM1 45h1v1h-1zM14 45h1v1h-1zM37 45h1v1h-1zM17 46h1v1h-1zM39 46h1v1h-1zM125 46h1v1h-1zM14 47h1v1h-1zM19 47h1v1h-1zM30 47h1v1h-1zM42 47h1v1h-1zM44 47h1v1h-1zM49 47h1v1h-1zM125 47h1v1h-1zM129 47h1v1h-1zM110 48h1v1h-1zM115 48h1v1h-1zM118 48h1v1h-1zM23 49h1v1h-1zM29 49h1v1h-1zM111 49h1v1h-1zM113 49h1v1h-1zM115 49h2v1h-2zM3 50h1v1h-1zM42 50h1v1h-1zM13 51h1v1h-1zM18 51h1v1h-1zM23 51h1v1h-1zM31 51h1v1h-1zM45 51h1v1h-1zM117 51h1v1h-1zM14 52h1v1h-1zM26 52h1v1h-1zM67 52h1v1h-1zM78 52h1v1h-1zM2 53h1v1h-1zM18 53h1v1h-1zM27 53h1v1h-1zM35 53h1v1h-1zM73 53h1v1h-1zM89 53h1v1h-1zM94 53h1v1h-1zM8 54h1v1h-1zM150 54h1v1h-1zM31 55h1v1h-1zM36 55h1v1h-1zM40 55h1v1h-1zM42 55h1v1h-1zM7 56h1v1h-1zM16 56h1v1h-1zM21 56h1v1h-1zM64 56h1v1h-1zM71 56h1v1h-1zM119 56h1v1h-1zM138 56h1v1h-1zM154 56h3v1h-3zM160 56h1v1h-1zM20 57h1v1h-1zM69 57h2v1h-2zM72 57h1v1h-1zM130 57h1v1h-1zM157 57h1v1h-1zM3 58h1v1h-1zM9 58h1v1h-1zM17 58h1v1h-1zM19 58h1v1h-1zM70 58h1v1h-1zM75 58h1v1h-1zM137 58h1v1h-1zM65 59h1v1h-1zM69 59h1v1h-1zM117 59h2v1h-2zM15 60h1v1h-1zM55 60h1v1h-1zM61 60h1v1h-1zM130 60h1v1h-1zM132 60h1v1h-1zM25 61h1v1h-1zM52 61h1v1h-1zM54 61h1v1h-1zM59 61h1v1h-1zM67 61h1v1h-1zM118 61h1v1h-1zM127 61h2v1h-2zM131 61h1v1h-1zM139 61h1v1h-1zM117 62h1v1h-1zM142 62h1v1h-1zM7 63h2v1h-2zM14 63h1v1h-1zM54 63h1v1h-1zM57 63h3v1h-3zM81 63h1v1h-1zM142 63h1v1h-1zM34 64h1v1h-1zM63 64h1v1h-1zM24 65h1v1h-1zM35 65h1v1h-1zM60 65h1v1h-1zM65 65h1v1h-1zM10 66h1v1h-1zM54 66h1v1h-1zM57 66h2v1h-2zM94 66h1v1h-1zM115 66h1v1h-1zM133 66h1v1h-1zM9 67h1v1h-1zM32 67h1v1h-1zM57 67h1v1h-1zM66 67h1v1h-1zM69 67h1v1h-1zM73 67h1v1h-1zM111 67h1v1h-1zM52 68h1v1h-1zM56 68h1v1h-1zM58 68h1v1h-1zM65 68h1v1h-1zM67 68h1v1h-1zM71 68h1v1h-1zM118 68h1v1h-1zM21 69h1v1h-1zM46 69h1v1h-1zM54 69h4v1h-4zM63 69h1v1h-1zM13 70h1v1h-1zM24 70h1v1h-1zM50 70h1v1h-1zM56 70h2v1h-2zM69 70h1v1h-1zM72 70h1v1h-1zM79 70h1v1h-1zM15 71h1v1h-1zM25 71h1v1h-1zM51 71h1v1h-1zM69 71h1v1h-1zM71 71h1v1h-1zM78 71h1v1h-1zM80 71h1v1h-1zM91 71h2v1h-2zM4 72h1v1h-1zM68 72h1v1h-1zM55 73h1v1h-1zM72 73h1v1h-1zM78 73h1v1h-1zM80 73h1v1h-1zM86 73h1v1h-1zM124 73h1v1h-1zM126 73h1v1h-1zM7 74h1v1h-1zM13 74h3v1h-3zM43 74h1v1h-1zM63 74h1v1h-1z"/>
<path fill="#f7ad95" d="M52 0h1v1h-1zM108 0h1v1h-1zM130 0h1v1h-1zM136 0h1v1h-1zM140 0h1v1h-1zM144 0h1v1h-1zM160 0h1v1h-1zM81 1h1v1h-1zM84 1h1v1h-1zM104 1h1v1h-1zM111 1h1v1h-1zM127 1h2v1h-2zM133 1h1v1h-1zM148 1h1v1h-1zM152 1h1v1h-1zM10 2h1v1h-1zM60 2h1v1h-1zM77 2h1v1h-1zM112 2h2v1h-2zM117 2h1v1h-1zM123 2h1v1h-1zM127 2h1v1h-1zM134 2h1v1h-1zM137 2h1v1h-1zM7 3h2v1h-2zM57 3h1v1h-1zM60 3h1v1h-1zM128 3h1v1h-1zM141 3h1v1h-1zM149 3h1v1h-1zM11 4h1v1h-1zM53 4h1v1h-1zM66 4h1v1h-1zM68 4h1v1h-1zM87 4h1v1h-1zM113 4h1v1h-1zM116 4h2v1h-2zM137 4h1v1h-1zM146 4h1v1h-1zM153 4h1v1h-1zM158 4h1v1h-1zM12 5h1v1h-1zM20 5h1v1h-1zM53 5h1v1h-1zM62 5h1v1h-1zM72 5h1v1h-1zM92 5h1v1h-1zM113 5h1v1h-1zM115 5h1v1h-1zM123 5h1v1h-1zM27 6h1v1h-1zM110 6h1v1h-1zM129 6h1v1h-1zM148 6h1v1h-1zM157 6h1v1h-1zM163 6h1v1h-1zM8 7h1v1h-1zM77 7h1v1h-1zM108 7h1v1h-1zM111 7h1v1h-1zM130 7h1v1h-1zM140 7h1v1h-1zM142 7h1v1h-1zM145 7h1v1h-1zM152 7h1v1h-1zM157 7h1v1h-1zM160 7h1v1h-1zM9 8h1v1h-1zM25 8h1v1h-1zM106 8h1v1h-1zM116 8h3v1h-3zM133 8h1v1h-1zM145 8h1v1h-1zM162 8h1v1h-1zM166 8h1v1h-1zM3 9h1v1h-1zM51 9h1v1h-1zM102 9h1v1h-1zM117 9h2v1h-2zM128 9h1v1h-1zM140 9h1v1h-1zM145 9h1v1h-1zM21 10h1v1h-1zM56 10h1v1h-1zM95 10h2v1h-2zM110 10h1v1h-1zM118 10h1v1h-1zM153 10h1v1h-1zM155 10h1v1h-1zM157 10h1v1h-1zM53 11h1v1h-1zM57 11h1v1h-1zM60 11h1v1h-1zM66 11h1v1h-1zM97 11h1v1h-1zM157 11h1v1h-1zM161 11h1v1h-1zM5 12h1v1h-1zM112 12h1v1h-1zM13 13h1v1h-1zM54 13h1v1h-1zM56 13h1v1h-1zM37 15h1v1h-1zM39 15h1v1h-1zM52 15h1v1h-1zM54 15h1v1h-1zM6 16h1v1h-1zM13 16h1v1h-1zM111 16h1v1h-1zM113 16h1v1h-1zM129 16h1v1h-1zM132 16h1v1h-1zM134 16h1v1h-1zM6 17h1v1h-1zM23 17h1v1h-1zM83 17h1v1h-1zM132 17h1v1h-1zM30 18h1v1h-1zM52 18h1v1h-1zM88 18h1v1h-1zM129 18h1v1h-1zM26 19h1v1h-1zM83 19h1v1h-1zM85 19h1v1h-1zM88 19h1v1h-1zM91 19h1v1h-1zM119 19h1v1h-1zM33 20h1v1h-1zM39 20h1v1h-1zM53 20h1v1h-1zM61 20h1v1h-1zM104 20h1v1h-1zM153 20h1v1h-1zM155 20h1v1h-1zM65 21h1v1h-1zM84 21h1v1h-1zM94 21h1v1h-1zM121 21h1v1h-1zM125 21h1v1h-1zM37 23h1v1h-1zM47 23h1v1h-1zM76 23h1v1h-1zM7 24h1v1h-1zM47 24h1v1h-1zM65 24h1v1h-1zM117 24h1v1h-1zM29 25h1v1h-1zM31 25h1v1h-1zM45 25h1v1h-1zM62 25h1v1h-1zM114 25h1v1h-1zM118 25h1v1h-1zM14 26h2v1h-2zM29 26h1v1h-1zM100 26h1v1h-1zM102 26h1v1h-1zM108 26h1v1h-1zM119 26h1v1h-1zM150 26h1v1h-1zM156 26h1v1h-1zM0 27h2v1h-2zM4 27h1v1h-1zM144 27h1v1h-1zM146 27h1v1h-1zM157 27h1v1h-1zM12 28h1v1h-1zM93 28h1v1h-1zM115 28h1v1h-1zM124 28h1v1h-1zM140 28h1v1h-1zM153 28h1v1h-1zM157 28h1v1h-1zM161 28h1v1h-1zM112 29h1v1h-1zM142 29h1v1h-1zM147 29h1v1h-1zM0 30h1v1h-1zM37 30h1v1h-1zM53 30h1v1h-1zM69 30h1v1h-1zM61 31h1v1h-1zM169 31h1v1h-1zM45 32h1v1h-1zM59 32h2v1h-2zM66 32h2v1h-2zM80 32h1v1h-1zM110 32h1v1h-1zM60 33h1v1h-1zM62 33h1v1h-1zM66 33h1v1h-1zM161 33h1v1h-1zM51 34h1v1h-1zM60 34h1v1h-1zM65 34h1v1h-1zM75 34h1v1h-1zM79 34h1v1h-1zM87 34h1v1h-1zM154 34h1v1h-1zM55 35h1v1h-1zM60 35h1v1h-1zM62 35h1v1h-1zM79 35h1v1h-1zM88 35h1v1h-1zM91 35h1v1h-1zM157 35h1v1h-1zM9 36h2v1h-2zM15 36h1v1h-1zM21 36h1v1h-1zM28 36h1v1h-1zM57 36h1v1h-1zM74 36h1v1h-1zM76 36h1v1h-1zM78 36h1v1h-1zM82 36h1v1h-1zM84 36h1v1h-1zM8 37h1v1h-1zM15 37h1v1h-1zM28 37h1v1h-1zM49 37h1v1h-1zM73 37h1v1h-1zM80 37h1v1h-1zM83 37h1v1h-1zM86 37h1v1h-1zM154 37h1v1h-1zM157 37h1v1h-1zM162 37h1v1h-1zM0 38h1v1h-1zM51 38h1v1h-1zM56 38h1v1h-1zM60 38h1v1h-1zM72 38h1v1h-1zM77 38h1v1h-1zM94 38h1v1h-1zM155 38h1v1h-1zM22 39h1v1h-1zM56 39h1v1h-1zM59 39h1v1h-1zM62 39h1v1h-1zM64 39h1v1h-1zM69 39h1v1h-1zM71 39h1v1h-1zM75 39h1v1h-1zM79 39h1v1h-1zM157 39h1v1h-1zM16 40h1v1h-1zM52 40h1v1h-1zM57 40h1v1h-1zM59 40h1v1h-1zM76 40h1v1h-1zM90 40h1v1h-1zM116 40h1v1h-1zM126 40h1v1h-1zM147 40h1v1h-1zM25 41h1v1h-1zM57 41h1v1h-1zM89 41h1v1h-1zM146 41h1v1h-1zM7 42h1v1h-1zM36 42h1v1h-1zM119 42h2v1h-2zM7 43h1v1h-1zM13 43h1v1h-1zM112 43h1v1h-1zM119 43h1v1h-1zM10 44h1v1h-1zM19 44h1v1h-1zM5 45h1v1h-1zM115 45h1v1h-1zM30 46h1v1h-1zM33 46h1v1h-1zM40 46h1v1h-1zM50 46h1v1h-1zM134 46h1v1h-1zM15 47h1v1h-1zM23 47h1v1h-1zM111 47h1v1h-1zM120 47h1v1h-1zM3 48h1v1h-1zM34 48h1v1h-1zM32 49h1v1h-1zM110 49h1v1h-1zM2 50h1v1h-1zM105 50h1v1h-1zM3 51h1v1h-1zM44 51h1v1h-1zM7 52h1v1h-1zM12 52h1v1h-1zM15 52h1v1h-1zM17 52h1v1h-1zM34 52h1v1h-1zM143 53h1v1h-1zM39 54h1v1h-1zM44 54h1v1h-1zM95 54h1v1h-1zM6 55h1v1h-1zM9 55h1v1h-1zM32 55h1v1h-1zM45 55h1v1h-1zM131 55h1v1h-1zM143 55h1v1h-1zM1 56h1v1h-1zM4 56h1v1h-1zM30 56h1v1h-1zM45 56h1v1h-1zM121 56h2v1h-2zM132 56h1v1h-1zM159 56h1v1h-1zM121 57h1v1h-1zM154 57h1v1h-1zM20 58h1v1h-1zM46 58h1v1h-1zM13 59h1v1h-1zM17 59h1v1h-1zM30 59h1v1h-1zM32 59h1v1h-1zM64 59h1v1h-1zM19 60h1v1h-1zM42 60h1v1h-1zM45 60h1v1h-1zM63 60h1v1h-1zM71 60h1v1h-1zM81 60h1v1h-1zM83 60h1v1h-1zM48 61h1v1h-1zM56 61h1v1h-1zM117 61h1v1h-1zM3 62h1v1h-1zM24 62h1v1h-1zM43 62h1v1h-1zM52 62h1v1h-1zM78 62h1v1h-1zM6 63h1v1h-1zM9 63h1v1h-1zM19 63h1v1h-1zM51 63h1v1h-1zM55 63h1v1h-1zM63 63h1v1h-1zM117 63h1v1h-1zM7 64h1v1h-1zM9 64h1v1h-1zM42 64h1v1h-1zM52 64h1v1h-1zM62 64h1v1h-1zM69 64h1v1h-1zM2 65h1v1h-1zM21 65h1v1h-1zM27 65h2v1h-2zM33 65h1v1h-1zM57 65h1v1h-1zM59 65h1v1h-1zM63 65h1v1h-1zM136 65h1v1h-1zM55 66h1v1h-1zM59 66h1v1h-1zM61 66h2v1h-2zM73 66h1v1h-1zM129 66h1v1h-1zM132 66h1v1h-1zM142 66h1v1h-1zM31 67h1v1h-1zM48 67h1v1h-1zM62 67h1v1h-1zM70 67h1v1h-1zM97 67h1v1h-1zM115 67h1v1h-1zM60 68h1v1h-1zM69 68h1v1h-1zM86 68h1v1h-1zM101 68h1v1h-1zM65 69h1v1h-1zM73 69h1v1h-1zM99 69h1v1h-1zM114 69h1v1h-1zM8 70h1v1h-1zM12 70h1v1h-1zM63 70h2v1h-2zM73 70h2v1h-2zM10 71h1v1h-1zM18 71h1v1h-1zM72 71h1v1h-1zM116 71h1v1h-1zM2 72h1v1h-1zM14 72h1v1h-1zM60 72h1v1h-1zM70 72h1v1h-1zM3 73h1v1h-1zM71 73h1v1h-1zM76 73h1v1h-1zM9 74h1v1h-1zM12 74h1v1h-1zM38 74h1v1h-1zM48 74h1v1h-1zM63 75h1v1h-1z"/>
<path fill="#f7a288" d="M1 0h1v1h-1zM101 0h1v1h-1zM115 0h1v1h-1zM122 0h1v1h-1zM145 0h1v1h-1zM0 1h1v1h-1zM103 1h1v1h-1zM123 1h1v1h-1zM130 1h1v1h-1zM147 1h1v1h-1zM151 1h1v1h-1zM157 1h1v1h-1zM13 2h1v1h-1zM138 2h1v1h-1zM2 3h1v1h-1zM84 3h1v1h-1zM117 3h1v1h-1zM129 3h1v1h-1zM143 3h1v1h-1zM151 3h1v1h-1zM153 3h1v1h-1zM6 4h1v1h-1zM60 4h1v1h-1zM67 4h1v1h-1zM145 4h1v1h-1zM152 4h1v1h-1zM3 5h1v1h-1zM5 5h1v1h-1zM14 5h1v1h-1zM55 5h1v1h-1zM64 5h1v1h-1zM73 5h1v1h-1zM116 5h1v1h-1zM130 5h1v1h-1zM147 5h1v1h-1zM149 5h1v1h-1zM5 6h1v1h-1zM7 6h1v1h-1zM116 6h1v1h-1zM131 6h1v1h-1zM133 6h1v1h-1zM7 7h1v1h-1zM16 7h1v1h-1zM66 7h1v1h-1zM118 7h1v1h-1zM149 7h3v1h-3zM153 7h1v1h-1zM155 7h1v1h-1zM166 7h1v1h-1zM1 8h1v1h-1zM6 8h1v1h-1zM51 8h1v1h-1zM143 8h1v1h-1zM149 8h2v1h-2zM1 9h1v1h-1zM4 9h1v1h-1zM96 9h1v1h-1zM167 9h1v1h-1zM0 10h1v1h-1zM51 10h1v1h-1zM99 10h1v1h-1zM7 11h1v1h-1zM55 11h2v1h-2zM58 11h1v1h-1zM63 11h1v1h-1zM70 11h1v1h-1zM73 11h1v1h-1zM94 11h1v1h-1zM155 11h1v1h-1zM166 11h1v1h-1zM11 13h1v1h-1zM40 13h1v1h-1zM21 14h1v1h-1zM28 14h1v1h-1zM31 14h1v1h-1zM37 14h1v1h-1zM0 15h1v1h-1zM22 15h2v1h-2zM41 15h1v1h-1zM3 16h1v1h-1zM7 16h1v1h-1zM20 16h1v1h-1zM22 16h1v1h-1zM37 16h1v1h-1zM4 17h1v1h-1zM10 17h1v1h-1zM12 17h1v1h-1zM14 17h1v1h-1zM35 17h1v1h-1zM25 18h1v1h-1zM33 18h1v1h-1zM89 18h1v1h-1zM121 18h1v1h-1zM125 18h1v1h-1zM60 19h1v1h-1zM63 19h1v1h-1zM87 19h1v1h-1zM114 19h1v1h-1zM126 19h1v1h-1zM59 20h1v1h-1zM80 20h1v1h-1zM157 20h1v1h-1zM77 21h1v1h-1zM90 21h1v1h-1zM153 21h1v1h-1zM43 24h1v1h-1zM30 25h1v1h-1zM46 25h1v1h-1zM50 25h1v1h-1zM68 25h1v1h-1zM113 25h1v1h-1zM116 25h1v1h-1zM115 26h1v1h-1zM122 26h1v1h-1zM135 26h1v1h-1zM122 27h1v1h-1zM154 27h1v1h-1zM17 28h1v1h-1zM100 28h2v1h-2zM150 28h1v1h-1zM16 29h1v1h-1zM92 29h1v1h-1zM113 29h1v1h-1zM119 29h1v1h-1zM158 29h1v1h-1zM25 30h1v1h-1zM29 30h1v1h-1zM76 30h1v1h-1zM63 31h1v1h-1zM68 31h2v1h-2zM11 32h1v1h-1zM19 32h1v1h-1zM53 32h1v1h-1zM61 32h1v1h-1zM64 32h1v1h-1zM75 32h2v1h-2zM85 32h1v1h-1zM90 32h1v1h-1zM163 32h1v1h-1zM53 33h1v1h-1zM61 33h1v1h-1zM70 33h1v1h-1zM92 33h1v1h-1zM6 34h1v1h-1zM81 34h1v1h-1zM84 34h2v1h-2zM115 34h1v1h-1zM155 34h1v1h-1zM56 35h1v1h-1zM65 35h1v1h-1zM154 35h1v1h-1zM156 35h1v1h-1zM0 36h1v1h-1zM44 36h1v1h-1zM59 36h1v1h-1zM70 36h1v1h-1zM80 36h1v1h-1zM85 36h1v1h-1zM91 36h1v1h-1zM6 37h1v1h-1zM22 37h1v1h-1zM24 37h1v1h-1zM59 37h1v1h-1zM61 37h1v1h-1zM87 37h1v1h-1zM160 37h1v1h-1zM55 38h1v1h-1zM65 38h1v1h-1zM70 38h2v1h-2zM76 38h1v1h-1zM78 38h1v1h-1zM157 38h1v1h-1zM51 39h1v1h-1zM74 39h1v1h-1zM75 40h1v1h-1zM81 40h1v1h-1zM16 41h1v1h-1zM59 41h1v1h-1zM72 41h1v1h-1zM75 41h1v1h-1zM137 41h1v1h-1zM149 41h1v1h-1zM20 42h1v1h-1zM49 42h1v1h-1zM123 42h1v1h-1zM8 43h1v1h-1zM10 43h2v1h-2zM97 43h1v1h-1zM120 43h1v1h-1zM126 43h1v1h-1zM7 44h1v1h-1zM25 44h1v1h-1zM155 44h1v1h-1zM10 45h1v1h-1zM36 45h1v1h-1zM13 46h1v1h-1zM9 47h1v1h-1zM11 47h1v1h-1zM26 47h1v1h-1zM12 48h1v1h-1zM112 48h1v1h-1zM5 50h2v1h-2zM9 50h1v1h-1zM21 50h1v1h-1zM15 51h2v1h-2zM43 53h1v1h-1zM82 53h1v1h-1zM127 55h1v1h-1zM12 56h1v1h-1zM142 56h1v1h-1zM2 57h1v1h-1zM30 57h1v1h-1zM12 58h1v1h-1zM31 58h1v1h-1zM42 58h1v1h-1zM47 58h1v1h-1zM14 59h1v1h-1zM9 60h1v1h-1zM11 60h1v1h-1zM30 60h1v1h-1zM65 60h2v1h-2zM3 61h2v1h-2zM23 61h1v1h-1zM47 61h1v1h-1zM65 61h1v1h-1zM140 61h1v1h-1zM143 61h1v1h-1zM7 62h1v1h-1zM33 62h1v1h-1zM44 62h1v1h-1zM54 62h1v1h-1zM64 62h1v1h-1zM78 63h1v1h-1zM80 63h1v1h-1zM41 64h1v1h-1zM46 64h1v1h-1zM9 65h1v1h-1zM19 65h1v1h-1zM42 65h1v1h-1zM45 65h1v1h-1zM47 65h1v1h-1zM6 66h1v1h-1zM20 66h1v1h-1zM30 66h1v1h-1zM70 66h1v1h-1zM135 66h1v1h-1zM141 66h1v1h-1zM42 67h1v1h-1zM53 67h1v1h-1zM68 67h1v1h-1zM72 67h1v1h-1zM74 67h1v1h-1zM94 67h1v1h-1zM142 67h1v1h-1zM55 68h1v1h-1zM66 68h1v1h-1zM94 68h1v1h-1zM113 68h1v1h-1zM51 69h2v1h-2zM60 69h2v1h-2zM75 69h1v1h-1zM49 70h1v1h-1zM54 70h1v1h-1zM58 70h1v1h-1zM62 70h1v1h-1zM65 70h1v1h-1zM80 70h1v1h-1zM83 70h1v1h-1zM86 70h1v1h-1zM90 70h2v1h-2zM56 71h1v1h-1zM65 71h1v1h-1zM75 71h1v1h-1zM87 71h1v1h-1zM11 73h2v1h-2zM46 73h1v1h-1zM44 74h1v1h-1zM46 74h1v1h-1zM2 75h1v1h-1zM22 75h1v1h-1zM43 75h1v1h-1zM168 75h2v1h-2z"/>
<path fill="#f6977b" d="M56 0h1v1h-1zM132 0h1v1h-1zM134 0h1v1h-1zM150 0h1v1h-1zM158 0h1v1h-1zM99 1h1v1h-1zM112 1h1v1h-1zM132 1h1v1h-1zM154 1h1v1h-1zM24 2h1v1h-1zM54 2h1v1h-1zM65 2h1v1h-1zM128 2h1v1h-1zM150 2h1v1h-1zM153 2h1v1h-1zM111 3h2v1h-2zM115 3h1v1h-1zM124 3h1v1h-1zM150 3h1v1h-1zM7 4h1v1h-1zM13 4h1v1h-1zM55 4h1v1h-1zM118 4h1v1h-1zM130 4h1v1h-1zM135 4h1v1h-1zM142 4h1v1h-1zM10 5h1v1h-1zM31 5h1v1h-1zM51 5h1v1h-1zM112 5h1v1h-1zM114 5h1v1h-1zM128 5h1v1h-1zM133 5h2v1h-2zM150 5h1v1h-1zM155 5h1v1h-1zM160 5h1v1h-1zM65 6h1v1h-1zM125 6h1v1h-1zM128 6h1v1h-1zM145 6h1v1h-1zM152 6h1v1h-1zM158 6h1v1h-1zM2 7h1v1h-1zM63 7h1v1h-1zM105 7h1v1h-1zM122 7h1v1h-1zM132 7h1v1h-1zM154 7h1v1h-1zM158 7h1v1h-1zM111 8h1v1h-1zM113 8h2v1h-2zM128 8h2v1h-2zM132 8h1v1h-1zM0 9h1v1h-1zM101 9h1v1h-1zM108 9h1v1h-1zM134 9h1v1h-1zM142 9h1v1h-1zM4 10h1v1h-1zM144 10h1v1h-1zM164 10h1v1h-1zM156 11h1v1h-1zM37 12h1v1h-1zM49 12h1v1h-1zM56 12h1v1h-1zM45 13h1v1h-1zM51 13h1v1h-1zM9 14h1v1h-1zM14 14h1v1h-1zM34 15h1v1h-1zM36 15h1v1h-1zM11 16h1v1h-1zM25 17h1v1h-1zM44 17h1v1h-1zM114 17h1v1h-1zM135 17h1v1h-1zM150 18h1v1h-1zM7 19h1v1h-1zM27 19h1v1h-1zM51 19h1v1h-1zM52 20h1v1h-1zM85 20h1v1h-1zM133 20h1v1h-1zM158 20h1v1h-1zM43 22h1v1h-1zM70 22h1v1h-1zM100 22h1v1h-1zM34 23h1v1h-1zM49 23h2v1h-2zM81 23h1v1h-1zM50 24h1v1h-1zM61 24h1v1h-1zM0 25h1v1h-1zM26 25h1v1h-1zM63 25h1v1h-1zM69 25h1v1h-1zM3 26h1v1h-1zM40 26h1v1h-1zM110 26h1v1h-1zM117 26h1v1h-1zM125 26h1v1h-1zM6 27h1v1h-1zM93 27h1v1h-1zM114 28h1v1h-1zM118 28h1v1h-1zM143 28h1v1h-1zM11 29h1v1h-1zM94 29h2v1h-2zM102 29h1v1h-1zM122 29h1v1h-1zM35 30h1v1h-1zM49 30h1v1h-1zM84 30h1v1h-1zM1 31h1v1h-1zM55 31h1v1h-1zM88 31h1v1h-1zM4 32h1v1h-1zM52 32h1v1h-1zM65 32h1v1h-1zM148 32h1v1h-1zM79 33h1v1h-1zM89 33h1v1h-1zM7 34h1v1h-1zM52 34h1v1h-1zM59 34h1v1h-1zM12 35h1v1h-1zM59 35h1v1h-1zM68 35h1v1h-1zM80 35h1v1h-1zM83 35h1v1h-1zM90 35h1v1h-1zM155 35h1v1h-1zM6 36h1v1h-1zM17 36h1v1h-1zM25 36h1v1h-1zM56 36h1v1h-1zM4 37h1v1h-1zM85 37h1v1h-1zM166 37h1v1h-1zM2 38h1v1h-1zM4 38h1v1h-1zM10 38h1v1h-1zM64 38h1v1h-1zM80 38h1v1h-1zM88 38h1v1h-1zM12 40h1v1h-1zM56 40h1v1h-1zM120 40h1v1h-1zM142 40h2v1h-2zM54 41h1v1h-1zM60 41h1v1h-1zM70 41h1v1h-1zM115 41h1v1h-1zM0 43h1v1h-1zM22 43h1v1h-1zM33 43h1v1h-1zM124 43h2v1h-2zM157 44h1v1h-1zM33 45h1v1h-1zM46 45h1v1h-1zM0 46h1v1h-1zM42 46h1v1h-1zM44 46h1v1h-1zM116 46h1v1h-1zM12 47h1v1h-1zM115 47h1v1h-1zM126 47h1v1h-1zM10 49h1v1h-1zM27 49h1v1h-1zM45 49h1v1h-1zM117 49h1v1h-1zM1 50h1v1h-1zM115 50h1v1h-1zM14 51h1v1h-1zM19 51h1v1h-1zM42 52h1v1h-1zM26 54h1v1h-1zM6 56h1v1h-1zM11 56h1v1h-1zM134 56h1v1h-1zM26 57h1v1h-1zM33 57h1v1h-1zM128 57h1v1h-1zM22 58h1v1h-1zM3 59h1v1h-1zM10 59h1v1h-1zM21 59h1v1h-1zM23 59h1v1h-1zM28 59h1v1h-1zM33 59h2v1h-2zM45 59h1v1h-1zM49 59h1v1h-1zM49 60h2v1h-2zM62 60h1v1h-1zM112 60h1v1h-1zM117 60h1v1h-1zM136 60h1v1h-1zM15 61h1v1h-1zM112 61h1v1h-1zM136 61h1v1h-1zM0 62h1v1h-1zM51 62h1v1h-1zM56 62h1v1h-1zM67 62h1v1h-1zM0 63h1v1h-1zM22 63h1v1h-1zM82 63h1v1h-1zM116 63h1v1h-1zM4 64h1v1h-1zM30 64h1v1h-1zM38 64h1v1h-1zM58 64h1v1h-1zM6 65h1v1h-1zM18 65h1v1h-1zM29 65h1v1h-1zM67 65h1v1h-1zM35 66h1v1h-1zM71 66h2v1h-2zM10 67h2v1h-2zM42 68h1v1h-1zM51 68h1v1h-1zM59 68h1v1h-1zM61 68h1v1h-1zM72 68h1v1h-1zM87 68h1v1h-1zM53 69h1v1h-1zM72 69h1v1h-1zM89 69h1v1h-1zM10 70h1v1h-1zM20 70h1v1h-1zM51 70h1v1h-1zM81 70h1v1h-1zM84 70h1v1h-1zM14 71h1v1h-1zM64 71h1v1h-1zM67 71h2v1h-2zM83 71h1v1h-1zM88 71h1v1h-1zM23 72h1v1h-1zM48 72h1v1h-1zM69 72h1v1h-1zM89 72h1v1h-1zM45 73h1v1h-1zM47 73h1v1h-1zM73 73h1v1h-1zM10 75h1v1h-1zM21 75h1v1h-1zM49 75h1v1h-1z"/>
<path fill="#f68c6e" d="M152 0h1v1h-1zM96 1h1v1h-1zM149 1h1v1h-1zM11 2h1v1h-1zM55 2h1v1h-1zM70 2h1v1h-1zM133 2h1v1h-1zM155 2h1v1h-1zM89 4h1v1h-1zM128 4h1v1h-1zM133 4h1v1h-1zM143 4h1v1h-1zM7 5h1v1h-1zM56 5h1v1h-1zM63 5h1v1h-1zM118 5h1v1h-1zM158 5h1v1h-1zM4 6h1v1h-1zM6 6h1v1h-1zM104 6h1v1h-1zM115 6h1v1h-1zM123 6h1v1h-1zM146 6h1v1h-1zM153 6h2v1h-2zM3 7h1v1h-1zM126 7h1v1h-1zM135 7h1v1h-1zM144 7h1v1h-1zM4 8h1v1h-1zM61 8h1v1h-1zM104 8h1v1h-1zM157 8h1v1h-1zM163 8h1v1h-1zM114 9h1v1h-1zM129 9h1v1h-1zM93 10h1v1h-1zM0 11h1v1h-1zM4 11h1v1h-1zM52 11h1v1h-1zM71 11h1v1h-1zM96 11h1v1h-1zM16 12h1v1h-1zM44 12h1v1h-1zM8 13h1v1h-1zM44 13h1v1h-1zM52 13h1v1h-1zM3 14h1v1h-1zM18 15h1v1h-1zM27 15h1v1h-1zM38 15h1v1h-1zM2 16h1v1h-1zM15 16h1v1h-1zM42 16h1v1h-1zM46 16h1v1h-1zM16 17h1v1h-1zM93 18h1v1h-1zM77 19h1v1h-1zM65 20h1v1h-1zM94 20h1v1h-1zM13 22h1v1h-1zM44 22h1v1h-1zM40 23h1v1h-1zM27 25h1v1h-1zM33 25h1v1h-1zM132 26h1v1h-1zM3 27h1v1h-1zM13 27h1v1h-1zM127 27h1v1h-1zM23 28h1v1h-1zM31 29h1v1h-1zM7 30h1v1h-1zM169 30h1v1h-1zM7 31h1v1h-1zM32 31h1v1h-1zM86 32h1v1h-1zM78 33h1v1h-1zM163 33h1v1h-1zM53 34h1v1h-1zM61 34h1v1h-1zM116 34h1v1h-1zM11 35h1v1h-1zM57 35h1v1h-1zM64 35h1v1h-1zM115 35h1v1h-1zM118 35h1v1h-1zM16 36h1v1h-1zM63 36h2v1h-2zM73 36h1v1h-1zM79 36h1v1h-1zM89 36h1v1h-1zM18 37h1v1h-1zM56 37h1v1h-1zM78 37h2v1h-2zM3 38h1v1h-1zM27 38h1v1h-1zM59 38h1v1h-1zM68 38h1v1h-1zM79 38h1v1h-1zM81 38h1v1h-1zM4 39h1v1h-1zM52 39h2v1h-2zM54 40h1v1h-1zM62 40h1v1h-1zM4 41h1v1h-1zM131 41h1v1h-1zM2 42h1v1h-1zM2 43h1v1h-1zM4 43h1v1h-1zM101 43h1v1h-1zM5 44h1v1h-1zM3 45h1v1h-1zM7 45h1v1h-1zM13 45h1v1h-1zM126 45h1v1h-1zM5 46h1v1h-1zM8 46h1v1h-1zM112 46h1v1h-1zM114 46h1v1h-1zM118 46h1v1h-1zM110 47h1v1h-1zM128 47h1v1h-1zM32 48h1v1h-1zM11 49h1v1h-1zM28 49h1v1h-1zM118 49h1v1h-1zM12 50h1v1h-1zM14 50h1v1h-1zM22 51h1v1h-1zM26 51h1v1h-1zM2 56h1v1h-1zM5 57h1v1h-1zM131 57h1v1h-1zM5 58h1v1h-1zM10 58h1v1h-1zM15 58h1v1h-1zM25 58h1v1h-1zM50 58h1v1h-1zM0 59h1v1h-1zM142 59h1v1h-1zM22 60h2v1h-2zM33 60h1v1h-1zM14 61h1v1h-1zM21 61h2v1h-2zM24 61h1v1h-1zM32 62h1v1h-1zM38 62h1v1h-1zM49 62h1v1h-1zM116 62h1v1h-1zM5 63h1v1h-1zM50 63h1v1h-1zM14 64h1v1h-1zM67 64h1v1h-1zM44 65h1v1h-1zM13 66h2v1h-2zM22 66h1v1h-1zM49 66h1v1h-1zM51 66h1v1h-1zM69 66h1v1h-1zM130 66h1v1h-1zM52 67h1v1h-1zM59 67h1v1h-1zM75 68h1v1h-1zM100 68h1v1h-1zM67 69h1v1h-1zM53 70h1v1h-1zM70 70h1v1h-1zM87 70h1v1h-1zM60 71h1v1h-1zM62 71h1v1h-1zM66 71h1v1h-1zM70 71h1v1h-1zM24 72h1v1h-1zM46 72h1v1h-1zM23 73h1v1h-1zM63 73h1v1h-1zM70 73h1v1h-1zM23 74h1v1h-1zM45 74h1v1h-1zM9 75h1v1h-1zM50 75h1v1h-1z"/>
<path fill="#f67f63" d="M150 1h1v1h-1zM116 2h1v1h-1zM0 3h1v1h-1zM3 3h1v1h-1zM9 3h1v1h-1zM16 3h1v1h-1zM55 3h1v1h-1zM127 3h1v1h-1zM134 3h2v1h-2zM145 3h1v1h-1zM4 4h1v1h-1zM112 4h1v1h-1zM2 5h1v1h-1zM6 5h1v1h-1zM118 6h1v1h-1zM134 7h1v1h-1zM124 8h1v1h-1zM2 9h1v1h-1zM137 9h1v1h-1zM144 9h1v1h-1zM2 10h1v1h-1zM101 10h1v1h-1zM93 11h1v1h-1zM165 11h1v1h-1zM3 12h1v1h-1zM6 12h1v1h-1zM55 12h1v1h-1zM1 13h1v1h-1zM10 13h1v1h-1zM13 14h1v1h-1zM34 14h1v1h-1zM29 15h1v1h-1zM41 16h1v1h-1zM27 17h1v1h-1zM115 17h1v1h-1zM118 17h1v1h-1zM85 18h1v1h-1zM82 19h1v1h-1zM88 20h1v1h-1zM34 22h1v1h-1zM44 23h1v1h-1zM46 24h1v1h-1zM48 24h1v1h-1zM113 24h1v1h-1zM7 27h1v1h-1zM126 27h1v1h-1zM18 28h1v1h-1zM86 28h1v1h-1zM14 29h1v1h-1zM23 29h2v1h-2zM120 29h1v1h-1zM55 30h1v1h-1zM5 31h1v1h-1zM63 32h1v1h-1zM0 33h1v1h-1zM69 33h1v1h-1zM83 33h1v1h-1zM90 33h2v1h-2zM165 33h1v1h-1zM13 34h1v1h-1zM90 34h1v1h-1zM15 35h1v1h-1zM51 35h1v1h-1zM1 36h1v1h-1zM75 36h1v1h-1zM5 37h1v1h-1zM54 37h1v1h-1zM57 37h1v1h-1zM65 37h1v1h-1zM84 37h1v1h-1zM88 37h2v1h-2zM6 39h1v1h-1zM65 39h1v1h-1zM20 40h1v1h-1zM63 40h1v1h-1zM82 41h1v1h-1zM138 41h1v1h-1zM12 42h1v1h-1zM15 42h1v1h-1zM43 42h1v1h-1zM124 42h1v1h-1zM3 43h1v1h-1zM14 43h1v1h-1zM14 44h1v1h-1zM3 46h1v1h-1zM10 46h1v1h-1zM112 47h2v1h-2zM5 48h1v1h-1zM4 50h1v1h-1zM0 51h1v1h-1zM2 51h1v1h-1zM1 52h1v1h-1zM23 55h1v1h-1zM7 57h1v1h-1zM156 57h1v1h-1zM14 58h1v1h-1zM18 58h1v1h-1zM44 58h1v1h-1zM48 58h1v1h-1zM28 61h1v1h-1zM66 61h1v1h-1zM33 63h1v1h-1zM56 63h1v1h-1zM13 64h1v1h-1zM24 64h1v1h-1zM36 64h1v1h-1zM44 64h2v1h-2zM34 65h1v1h-1zM50 65h1v1h-1zM56 66h1v1h-1zM68 66h1v1h-1zM6 67h1v1h-1zM8 67h1v1h-1zM51 67h1v1h-1zM75 67h1v1h-1zM18 70h1v1h-1zM66 70h1v1h-1zM68 70h1v1h-1zM52 71h2v1h-2zM63 71h1v1h-1zM89 71h1v1h-1zM72 72h1v1h-1zM17 73h2v1h-2zM47 74h1v1h-1zM44 75h1v1h-1z"/>
<path fill="#f67258" d="M82 1h1v1h-1zM16 2h1v1h-1zM115 2h1v1h-1zM151 2h1v1h-1zM4 3h1v1h-1zM1 4h1v1h-1zM4 5h1v1h-1zM16 5h1v1h-1zM55 6h1v1h-1zM113 6h1v1h-1zM124 6h1v1h-1zM96 8h1v1h-1zM110 8h1v1h-1zM134 8h1v1h-1zM152 9h1v1h-1zM7 10h1v1h-1zM6 11h1v1h-1zM16 11h1v1h-1zM51 11h1v1h-1zM12 12h2v1h-2zM7 14h1v1h-1zM18 14h1v1h-1zM32 14h1v1h-1zM12 15h1v1h-1zM50 16h1v1h-1zM64 20h1v1h-1zM30 21h1v1h-1zM40 22h2v1h-2zM47 25h2v1h-2zM16 26h1v1h-1zM132 27h1v1h-1zM16 28h1v1h-1zM146 29h1v1h-1zM169 29h1v1h-1zM24 31h1v1h-1zM3 32h1v1h-1zM55 32h1v1h-1zM59 33h1v1h-1zM2 36h1v1h-1zM52 36h1v1h-1zM67 36h1v1h-1zM83 36h1v1h-1zM11 37h1v1h-1zM51 37h1v1h-1zM69 37h1v1h-1zM155 37h1v1h-1zM167 37h1v1h-1zM57 38h1v1h-1zM83 38h1v1h-1zM5 39h1v1h-1zM7 39h1v1h-1zM61 39h1v1h-1zM5 40h1v1h-1zM5 41h1v1h-1zM143 41h1v1h-1zM25 42h1v1h-1zM17 45h1v1h-1zM12 46h1v1h-1zM117 46h1v1h-1zM2 47h1v1h-1zM5 47h2v1h-2zM50 47h1v1h-1zM4 48h1v1h-1zM8 48h1v1h-1zM116 48h1v1h-1zM1 49h1v1h-1zM8 50h1v1h-1zM53 54h1v1h-1zM25 56h1v1h-1zM32 57h1v1h-1zM21 58h1v1h-1zM29 58h1v1h-1zM18 59h1v1h-1zM20 59h1v1h-1zM24 59h1v1h-1zM44 59h1v1h-1zM48 59h1v1h-1zM31 60h1v1h-1zM44 60h1v1h-1zM11 61h1v1h-1zM17 61h1v1h-1zM19 61h1v1h-1zM138 61h1v1h-1zM2 62h1v1h-1zM9 62h1v1h-1zM55 62h1v1h-1zM46 63h1v1h-1zM0 64h1v1h-1zM49 64h1v1h-1zM59 64h1v1h-1zM0 65h1v1h-1zM5 65h1v1h-1zM17 65h1v1h-1zM30 65h1v1h-1zM15 66h1v1h-1zM25 66h1v1h-1zM63 66h1v1h-1zM66 66h1v1h-1zM75 66h1v1h-1zM53 68h1v1h-1zM57 68h1v1h-1zM63 68h1v1h-1zM41 69h1v1h-1zM94 69h1v1h-1zM9 70h1v1h-1zM67 70h1v1h-1zM89 70h1v1h-1zM92 70h1v1h-1zM11 74h1v1h-1zM42 74h1v1h-1zM47 75h2v1h-2z"/>
<path fill="#f5654d" d="M51 2h1v1h-1zM148 2h1v1h-1zM10 3h1v1h-1zM14 4h1v1h-1zM111 5h1v1h-1zM9 6h1v1h-1zM141 8h1v1h-1zM160 11h1v1h-1zM167 11h1v1h-1zM5 14h1v1h-1zM10 14h1v1h-1zM15 14h1v1h-1zM23 14h1v1h-1zM33 14h1v1h-1zM39 14h1v1h-1zM2 15h1v1h-1zM15 15h1v1h-1zM7 17h1v1h-1zM41 23h1v1h-1zM18 25h1v1h-1zM44 25h1v1h-1zM22 27h1v1h-1zM89 30h1v1h-1zM92 31h1v1h-1zM3 33h1v1h-1zM0 34h1v1h-1zM2 34h1v1h-1zM55 34h1v1h-1zM78 35h1v1h-1zM3 36h1v1h-1zM5 36h1v1h-1zM51 36h1v1h-1zM53 36h1v1h-1zM92 36h1v1h-1zM3 37h1v1h-1zM67 37h1v1h-1zM6 38h1v1h-1zM0 42h1v1h-1zM8 42h1v1h-1zM15 44h1v1h-1zM24 45h1v1h-1zM4 46h1v1h-1zM11 46h1v1h-1zM15 46h1v1h-1zM19 46h1v1h-1zM110 46h1v1h-1zM115 46h1v1h-1zM117 47h1v1h-1zM9 48h1v1h-1zM5 49h1v1h-1zM13 49h1v1h-1zM15 49h1v1h-1zM11 50h1v1h-1zM12 51h1v1h-1zM5 56h1v1h-1zM23 56h1v1h-1zM12 60h1v1h-1zM17 60h1v1h-1zM20 60h1v1h-1zM26 60h1v1h-1zM12 61h1v1h-1zM16 61h1v1h-1zM1 62h1v1h-1zM26 62h1v1h-1zM28 62h1v1h-1zM20 63h1v1h-1zM32 63h1v1h-1zM118 63h1v1h-1zM20 64h1v1h-1zM22 64h2v1h-2zM26 64h1v1h-1zM32 64h1v1h-1zM7 65h1v1h-1zM128 66h1v1h-1zM47 72h1v1h-1zM1 73h1v1h-1zM13 75h1v1h-1zM42 75h1v1h-1z"/>
<path fill="#f55842" d="M9 4h1v1h-1zM158 9h1v1h-1zM4 12h1v1h-1zM9 12h2v1h-2zM38 12h1v1h-1zM4 14h1v1h-1zM38 14h1v1h-1zM30 17h1v1h-1zM33 17h1v1h-1zM46 17h1v1h-1zM85 21h1v1h-1zM91 21h1v1h-1zM42 24h1v1h-1zM44 24h1v1h-1zM49 24h1v1h-1zM145 27h1v1h-1zM34 30h1v1h-1zM168 30h1v1h-1zM4 34h1v1h-1zM7 38h1v1h-1zM0 39h1v1h-1zM6 40h1v1h-1zM3 41h1v1h-1zM6 41h1v1h-1zM50 42h1v1h-1zM0 44h1v1h-1zM15 45h1v1h-1zM48 45h1v1h-1zM2 46h1v1h-1zM9 46h1v1h-1zM114 47h1v1h-1zM8 49h1v1h-1zM12 49h1v1h-1zM19 50h1v1h-1zM26 56h1v1h-1zM2 58h1v1h-1zM6 60h1v1h-1zM10 60h1v1h-1zM18 62h1v1h-1zM47 62h1v1h-1zM26 65h1v1h-1zM39 65h1v1h-1zM64 65h1v1h-1zM14 70h1v1h-1zM23 70h1v1h-1zM17 71h1v1h-1zM24 71h1v1h-1zM86 71h1v1h-1zM73 72h2v1h-2zM18 74h1v1h-1z"/>
<path fill="#f54b37" d="M0 2h1v1h-1zM6 3h1v1h-1zM148 9h1v1h-1zM8 12h1v1h-1zM15 12h1v1h-1zM9 13h1v1h-1zM0 14h1v1h-1zM8 14h1v1h-1zM1 15h1v1h-1zM1 17h1v1h-1zM34 17h1v1h-1zM42 17h1v1h-1zM42 22h1v1h-1zM12 27h1v1h-1zM37 27h1v1h-1zM1 34h1v1h-1zM5 34h1v1h-1zM5 35h1v1h-1zM7 35h1v1h-1zM12 41h1v1h-1zM3 42h1v1h-1zM38 44h1v1h-1zM0 45h1v1h-1zM2 45h1v1h-1zM14 46h1v1h-1zM1 47h1v1h-1zM13 47h1v1h-1zM116 47h1v1h-1zM118 47h1v1h-1zM15 48h1v1h-1zM26 49h1v1h-1zM0 50h1v1h-1zM7 50h1v1h-1zM4 51h1v1h-1zM0 57h2v1h-2zM4 58h1v1h-1zM2 60h1v1h-1zM7 60h1v1h-1zM18 60h1v1h-1zM2 63h1v1h-1zM1 64h1v1h-1zM32 65h1v1h-1zM32 66h1v1h-1z"/>
<path fill="#f63e2e" d="M1 10h1v1h-1zM11 12h1v1h-1zM14 12h1v1h-1zM4 15h1v1h-1zM11 15h1v1h-1zM45 17h1v1h-1zM29 19h1v1h-1zM168 31h1v1h-1zM6 35h1v1h-1zM1 39h1v1h-1zM0 40h1v1h-1zM1 41h2v1h-2zM3 44h1v1h-1zM2 48h1v1h-1zM7 48h1v1h-1zM2 49h1v1h-1zM9 53h1v1h-1zM11 57h2v1h-2zM2 59h1v1h-1zM42 59h1v1h-1zM64 60h1v1h-1zM49 65h1v1h-1zM9 71h1v1h-1zM8 74h1v1h-1z"/>
<path fill="#f73024" d="M0 4h1v1h-1zM1 12h1v1h-1zM11 14h1v1h-1zM20 28h1v1h-1zM4 36h1v1h-1zM0 37h1v1h-1zM5 38h1v1h-1zM2 40h1v1h-1zM12 44h1v1h-1zM111 46h1v1h-1zM113 46h1v1h-1zM10 47h1v1h-1zM23 57h1v1h-1zM25 65h1v1h-1zM22 72h1v1h-1z"/>
<path fill="#f8231b" d="M8 2h1v1h-1zM12 13h1v1h-1zM16 14h1v1h-1zM8 15h1v1h-1zM14 15h1v1h-1zM47 16h1v1h-1zM22 17h1v1h-1zM49 25h1v1h-1zM7 32h1v1h-1zM1 37h1v1h-1zM52 37h1v1h-1zM1 44h1v1h-1zM1 46h1v1h-1zM48 46h1v1h-1zM1 48h1v1h-1zM14 48h1v1h-1zM49 58h1v1h-1zM1 60h1v1h-1zM1 65h1v1h-1z"/>
<path fill="#f91511" d="M13 15h1v1h-1zM16 15h1v1h-1zM32 18h1v1h-1zM168 28h1v1h-1zM1 33h1v1h-1zM4 33h1v1h-1zM0 35h1v1h-1zM2 35h1v1h-1zM1 40h1v1h-1zM4 45h1v1h-1zM3 47h1v1h-1zM16 47h1v1h-1zM18 56h1v1h-1zM11 62h1v1h-1zM1 63h1v1h-1zM47 63h1v1h-1z"/>
<path fill="#fa0808" d="M14 13h3v1h-3zM9 15h1v1h-1zM24 15h1v1h-1zM42 25h1v1h-1zM169 28h1v1h-1zM17 29h1v1h-1zM168 29h1v1h-1zM2 33h1v1h-1zM3 34h1v1h-1zM1 35h1v1h-1zM4 35h1v1h-1zM2 37h1v1h-1zM1 38h1v1h-1zM2 39h2v1h-2zM1 42h1v1h-1zM5 42h2v1h-2zM1 43h1v1h-1zM6 43h1v1h-1zM2 44h1v1h-1zM0 47h1v1h-1zM4 47h1v1h-1zM0 48h1v1h-1zM13 48h1v1h-1zM16 48h1v1h-1zM0 49h1v1h-1zM3 49h2v1h-2zM6 49h1v1h-1zM9 49h1v1h-1zM14 49h1v1h-1zM0 58h2v1h-2zM0 60h1v1h-1zM24 60h1v1h-1zM0 61h3v1h-3zM16 63h1v1h-1z"/>
</g>
<rect x="36" y="458.6" width="324.5" height="13.1" fill="#e0ddef"/>
<rect x="66.5" y="456" width="4.5" height="7" fill="#f01010"/><rect x="69" y="461" width="5" height="8.5" fill="#f01010"/>
<rect x="87" y="461.3" width="8" height="4.5" fill="#f22"/><rect x="100.5" y="463.6" width="7" height="3" fill="#f33"/>
<rect x="224" y="463.5" width="2" height="3.5" fill="#f11"/><rect x="360.6" y="464.5" width="2" height="4" fill="#f22"/></g>
<rect x="36.0" y="30.3" width="330.6" height="228.3" fill="none" stroke="#6a6060" stroke-width="0.55"/>
<rect x="36.0" y="302.4" width="330.6" height="228.1" fill="none" stroke="#6a6060" stroke-width="0.55"/>
<rect x="36" y="21.9" width="13.00" height="6.90" fill="#ff0000"/><rect x="49" y="21.9" width="1.70" height="6.90" fill="#00ee00"/><rect x="50.7" y="21.9" width="29.30" height="6.90" fill="#ff0000"/><rect x="80" y="21.9" width="1.70" height="6.90" fill="#00ee00"/><rect x="81.7" y="21.9" width="34.70" height="6.90" fill="#ff0000"/><rect x="116.4" y="21.9" width="1.90" height="6.90" fill="#0000ff"/><rect x="118.3" y="21.9" width="3.00" height="6.90" fill="#00ee00"/><rect x="121.3" y="21.9" width="1.70" height="6.90" fill="#ff0000"/><rect x="123" y="21.9" width="5.80" height="6.90" fill="#0000ff"/><rect x="128.8" y="21.9" width="1.30" height="6.90" fill="#00ee00"/><rect x="130.1" y="21.9" width="1.90" height="6.90" fill="#0000ff"/><rect x="132" y="21.9" width="1.50" height="6.90" fill="#00ee00"/><rect x="133.5" y="21.9" width="2.90" height="6.90" fill="#0000ff"/><rect x="136.4" y="21.9" width="1.20" height="6.90" fill="#00ee00"/><rect x="137.6" y="21.9" width="1.90" height="6.90" fill="#0000ff"/><rect x="139.5" y="21.9" width="4.60" height="6.90" fill="#ff0000"/><rect x="144.1" y="21.9" width="6.80" height="6.90" fill="#00ee00"/><rect x="150.9" y="21.9" width="2.40" height="6.90" fill="#0000ff"/><rect x="153.3" y="21.9" width="1.20" height="6.90" fill="#00ee00"/><rect x="154.5" y="21.9" width="1.30" height="6.90" fill="#0000ff"/><rect x="155.8" y="21.9" width="1.50" height="6.90" fill="#00ee00"/><rect x="157.3" y="21.9" width="2.20" height="6.90" fill="#0000ff"/><rect x="159.5" y="21.9" width="7.40" height="6.90" fill="#00ee00"/><rect x="166.9" y="21.9" width="1.90" height="6.90" fill="#0000ff"/><rect x="168.8" y="21.9" width="8.30" height="6.90" fill="#00ee00"/><rect x="177.1" y="21.9" width="5.20" height="6.90" fill="#0000ff"/><rect x="182.3" y="21.9" width="1.80" height="6.90" fill="#00ee00"/><rect x="184.1" y="21.9" width="2.60" height="6.90" fill="#0000ff"/><rect x="186.7" y="21.9" width="1.60" height="6.90" fill="#00ee00"/><rect x="188.3" y="21.9" width="3.10" height="6.90" fill="#0000ff"/><rect x="191.4" y="21.9" width="1.70" height="6.90" fill="#00ee00"/><rect x="193.1" y="21.9" width="1.20" height="6.90" fill="#0000ff"/><rect x="194.3" y="21.9" width="12.40" height="6.90" fill="#00ee00"/><rect x="206.7" y="21.9" width="1.60" height="6.90" fill="#0000ff"/><rect x="208.3" y="21.9" width="3.70" height="6.90" fill="#00ee00"/><rect x="212" y="21.9" width="14.40" height="6.90" fill="#ff0000"/><rect x="226.4" y="21.9" width="3.70" height="6.90" fill="#00ee00"/><rect x="230.1" y="21.9" width="9.80" height="6.90" fill="#ff0000"/><rect x="239.9" y="21.9" width="1.30" height="6.90" fill="#00ee00"/><rect x="241.2" y="21.9" width="3.90" height="6.90" fill="#0000ff"/><rect x="245.1" y="21.9" width="4.40" height="6.90" fill="#00ee00"/><rect x="249.5" y="21.9" width="11.80" height="6.90" fill="#0000ff"/><rect x="261.3" y="21.9" width="2.90" height="6.90" fill="#00ee00"/><rect x="264.2" y="21.9" width="1.30" height="6.90" fill="#0000ff"/><rect x="265.5" y="21.9" width="1.50" height="6.90" fill="#00ee00"/><rect x="267" y="21.9" width="4.10" height="6.90" fill="#0000ff"/><rect x="271.1" y="21.9" width="1.50" height="6.90" fill="#00ee00"/><rect x="272.6" y="21.9" width="1.50" height="6.90" fill="#ff0000"/><rect x="274.1" y="21.9" width="1.40" height="6.90" fill="#0000ff"/><rect x="275.5" y="21.9" width="1.30" height="6.90" fill="#00ee00"/><rect x="276.8" y="21.9" width="1.30" height="6.90" fill="#0000ff"/><rect x="278.1" y="21.9" width="4.30" height="6.90" fill="#00ee00"/><rect x="282.4" y="21.9" width="6.90" height="6.90" fill="#0000ff"/><rect x="289.3" y="21.9" width="4.70" height="6.90" fill="#00ee00"/><rect x="294" y="21.9" width="1.80" height="6.90" fill="#0000ff"/><rect x="295.8" y="21.9" width="5.50" height="6.90" fill="#00ee00"/><rect x="301.3" y="21.9" width="8.20" height="6.90" fill="#0000ff"/><rect x="309.5" y="21.9" width="10.60" height="6.90" fill="#00ee00"/><rect x="320.1" y="21.9" width="1.40" height="6.90" fill="#0000ff"/><rect x="321.5" y="21.9" width="13.30" height="6.90" fill="#00ee00"/><rect x="334.8" y="21.9" width="3.80" height="6.90" fill="#0000ff"/><rect x="338.6" y="21.9" width="1.20" height="6.90" fill="#00ee00"/><rect x="339.8" y="21.9" width="13.40" height="6.90" fill="#0000ff"/><rect x="353.2" y="21.9" width="1.70" height="6.90" fill="#00ee00"/><rect x="354.9" y="21.9" width="8.70" height="6.90" fill="#0000ff"/><rect x="363.6" y="21.9" width="1.40" height="6.90" fill="#00ee00"/><rect x="365" y="21.9" width="1.60" height="6.90" fill="#0000ff"/>
<rect x="36" y="293.3" width="1.20" height="7.30" fill="#0000ff"/><rect x="37.2" y="293.3" width="13.80" height="7.30" fill="#ff0000"/><rect x="51" y="293.3" width="1.20" height="7.30" fill="#0000ff"/><rect x="52.2" y="293.3" width="1.50" height="7.30" fill="#00ee00"/><rect x="53.7" y="293.3" width="8.40" height="7.30" fill="#ff0000"/><rect x="62.1" y="293.3" width="1.30" height="7.30" fill="#00ee00"/><rect x="63.4" y="293.3" width="1.80" height="7.30" fill="#ff0000"/><rect x="65.2" y="293.3" width="1.80" height="7.30" fill="#00ee00"/><rect x="67" y="293.3" width="56.00" height="7.30" fill="#ff0000"/><rect x="123" y="293.3" width="3.00" height="7.30" fill="#00ee00"/><rect x="126" y="293.3" width="8.30" height="7.30" fill="#ff0000"/><rect x="134.3" y="293.3" width="1.50" height="7.30" fill="#0000ff"/><rect x="135.8" y="293.3" width="1.20" height="7.30" fill="#00ee00"/><rect x="137" y="293.3" width="1.40" height="7.30" fill="#0000ff"/><rect x="138.4" y="293.3" width="12.80" height="7.30" fill="#00ee00"/><rect x="151.2" y="293.3" width="0.20" height="7.30" fill="#0000ff"/><rect x="151.4" y="293.3" width="7.30" height="7.30" fill="#00ee00"/><rect x="158.7" y="293.3" width="1.60" height="7.30" fill="#0000ff"/><rect x="160.3" y="293.3" width="5.30" height="7.30" fill="#00ee00"/><rect x="165.6" y="293.3" width="6.50" height="7.30" fill="#0000ff"/><rect x="172.1" y="293.3" width="1.30" height="7.30" fill="#00ee00"/><rect x="173.4" y="293.3" width="1.70" height="7.30" fill="#0000ff"/><rect x="175.1" y="293.3" width="1.30" height="7.30" fill="#00ee00"/><rect x="176.4" y="293.3" width="5.20" height="7.30" fill="#0000ff"/><rect x="181.6" y="293.3" width="1.50" height="7.30" fill="#00ee00"/><rect x="183.1" y="293.3" width="2.10" height="7.30" fill="#0000ff"/><rect x="185.2" y="293.3" width="11.90" height="7.30" fill="#00ee00"/><rect x="197.1" y="293.3" width="4.50" height="7.30" fill="#0000ff"/><rect x="201.6" y="293.3" width="1.30" height="7.30" fill="#ff0000"/><rect x="202.9" y="293.3" width="17.10" height="7.30" fill="#0000ff"/><rect x="220" y="293.3" width="1.70" height="7.30" fill="#ff0000"/><rect x="221.7" y="293.3" width="1.50" height="7.30" fill="#0000ff"/><rect x="223.2" y="293.3" width="3.40" height="7.30" fill="#ff0000"/><rect x="226.6" y="293.3" width="8.10" height="7.30" fill="#0000ff"/><rect x="234.7" y="293.3" width="3.30" height="7.30" fill="#00ee00"/><rect x="238" y="293.3" width="12.10" height="7.30" fill="#0000ff"/><rect x="250.1" y="293.3" width="1.30" height="7.30" fill="#ff0000"/><rect x="251.4" y="293.3" width="3.00" height="7.30" fill="#00ee00"/><rect x="254.4" y="293.3" width="6.60" height="7.30" fill="#0000ff"/><rect x="261" y="293.3" width="10.10" height="7.30" fill="#00ee00"/><rect x="271.1" y="293.3" width="11.40" height="7.30" fill="#0000ff"/><rect x="282.5" y="293.3" width="23.60" height="7.30" fill="#00ee00"/><rect x="306.1" y="293.3" width="2.80" height="7.30" fill="#0000ff"/><rect x="308.9" y="293.3" width="1.40" height="7.30" fill="#00ee00"/><rect x="310.3" y="293.3" width="4.50" height="7.30" fill="#ff0000"/><rect x="314.8" y="293.3" width="10.80" height="7.30" fill="#00ee00"/><rect x="325.6" y="293.3" width="1.10" height="7.30" fill="#0000ff"/><rect x="326.7" y="293.3" width="3.60" height="7.30" fill="#00ee00"/><rect x="330.3" y="293.3" width="9.40" height="7.30" fill="#0000ff"/><rect x="339.7" y="293.3" width="0.90" height="7.30" fill="#00ee00"/><rect x="340.6" y="293.3" width="6.70" height="7.30" fill="#0000ff"/><rect x="347.3" y="293.3" width="2.70" height="7.30" fill="#00ee00"/><rect x="350" y="293.3" width="1.30" height="7.30" fill="#0000ff"/><rect x="351.3" y="293.3" width="1.40" height="7.30" fill="#00ee00"/><rect x="352.7" y="293.3" width="4.30" height="7.30" fill="#0000ff"/><rect x="357" y="293.3" width="9.60" height="7.30" fill="#ff0000"/>
<g fill="none" stroke="#555" stroke-width="0.8">
<path d="M36.97 21.60L36.97 20.75M38.92 21.60L38.92 20.75M36.97 20.75L38.92 20.75M44.75 21.60L44.75 20.83M46.70 21.60L46.70 20.83M44.75 20.83L46.70 20.83M42.81 21.60L42.81 20.29M45.72 20.83L45.72 20.29M42.81 20.29L45.72 20.29M40.86 21.60L40.86 19.85M44.27 20.29L44.27 19.85M40.86 19.85L44.27 19.85M37.94 20.75L37.94 18.55M42.56 19.85L42.56 18.55M37.94 18.55L42.56 18.55M50.59 21.60L50.59 20.70M52.53 21.60L52.53 20.70M50.59 20.70L52.53 20.70M48.64 21.60L48.64 20.29M51.56 20.70L51.56 20.29M48.64 20.29L51.56 20.29M60.31 21.60L60.31 20.89M62.25 21.60L62.25 20.89M60.31 20.89L62.25 20.89M58.36 21.60L58.36 20.13M61.28 20.89L61.28 20.13M58.36 20.13L61.28 20.13M56.42 21.60L56.42 19.41M59.82 20.13L59.82 19.41M56.42 19.41L59.82 19.41M54.47 21.60L54.47 19.19M58.12 19.41L58.12 19.19M54.47 19.19L58.12 19.19M64.20 21.60L64.20 20.86M66.14 21.60L66.14 20.86M64.20 20.86L66.14 20.86M56.30 19.19L56.30 18.64M65.17 20.86L65.17 18.64M56.30 18.64L65.17 18.64M50.10 20.29L50.10 17.36M60.73 18.64L60.73 17.36M50.10 17.36L60.73 17.36M70.03 21.60L70.03 20.83M71.98 21.60L71.98 20.83M70.03 20.83L71.98 20.83M68.09 21.60L68.09 20.28M71.00 20.83L71.00 20.28M68.09 20.28L71.00 20.28M73.92 21.60L73.92 20.88M75.87 21.60L75.87 20.88M73.92 20.88L75.87 20.88M79.76 21.60L79.76 20.70M81.70 21.60L81.70 20.70M79.76 20.70L81.70 20.70M77.81 21.60L77.81 20.18M80.73 20.70L80.73 20.18M77.81 20.18L80.73 20.18M74.89 20.88L74.89 19.03M79.27 20.18L79.27 19.03M74.89 19.03L79.27 19.03M69.55 20.28L69.55 18.78M77.08 19.03L77.08 18.78M69.55 18.78L77.08 18.78M85.59 21.60L85.59 20.89M87.53 21.60L87.53 20.89M85.59 20.89L87.53 20.89M86.56 20.89L86.56 20.32M89.48 21.60L89.48 20.32M86.56 20.32L89.48 20.32M83.65 21.60L83.65 19.70M88.02 20.32L88.02 19.70M83.65 19.70L88.02 19.70M73.31 18.78L73.31 18.04M85.83 19.70L85.83 18.04M73.31 18.04L85.83 18.04M55.42 17.36L55.42 15.64M79.57 18.04L79.57 15.64M55.42 15.64L79.57 15.64M40.25 18.55L40.25 15.43M67.50 15.64L67.50 15.43M40.25 15.43L67.50 15.43M91.42 21.60L91.42 20.90M93.37 21.60L93.37 20.90M91.42 20.90L93.37 20.90M97.26 21.60L97.26 20.86M99.20 21.60L99.20 20.86M97.26 20.86L99.20 20.86M95.31 21.60L95.31 19.99M98.23 20.86L98.23 19.99M95.31 19.99L98.23 19.99M103.09 21.60L103.09 20.86M105.04 21.60L105.04 20.86M103.09 20.86L105.04 20.86M101.15 21.60L101.15 20.27M104.06 20.86L104.06 20.27M101.15 20.27L104.06 20.27M102.61 20.27L102.61 19.69M106.98 21.60L106.98 19.69M102.61 19.69L106.98 19.69M96.77 19.99L96.77 18.32M104.79 19.69L104.79 18.32M96.77 18.32L104.79 18.32M108.93 21.60L108.93 20.85M110.87 21.60L110.87 20.85M108.93 20.85L110.87 20.85M109.90 20.85L109.90 20.29M112.82 21.60L112.82 20.29M109.90 20.29L112.82 20.29M100.78 18.32L100.78 17.49M111.36 20.29L111.36 17.49M100.78 17.49L111.36 17.49M92.40 20.90L92.40 16.97M106.07 17.49L106.07 16.97M92.40 16.97L106.07 16.97M114.76 21.60L114.76 20.82M116.71 21.60L116.71 20.82M114.76 20.82L116.71 20.82M120.59 21.60L120.59 20.74M122.54 21.60L122.54 20.74M120.59 20.74L122.54 20.74M124.48 21.60L124.48 20.90M126.43 21.60L126.43 20.90M124.48 20.90L126.43 20.90M121.57 20.74L121.57 19.43M125.46 20.90L125.46 19.43M121.57 19.43L125.46 19.43M118.65 21.60L118.65 19.21M123.51 19.43L123.51 19.21M118.65 19.21L123.51 19.21M115.73 20.82L115.73 18.98M121.08 19.21L121.08 18.98M115.73 18.98L121.08 18.98M130.32 21.60L130.32 20.71M132.26 21.60L132.26 20.71M130.32 20.71L132.26 20.71M128.37 21.60L128.37 20.09M131.29 20.71L131.29 20.09M128.37 20.09L131.29 20.09M129.83 20.09L129.83 19.52M134.21 21.60L134.21 19.52M129.83 19.52L134.21 19.52M136.15 21.60L136.15 20.74M138.10 21.60L138.10 20.74M136.15 20.74L138.10 20.74M132.02 19.52L132.02 18.56M137.12 20.74L137.12 18.56M132.02 18.56L137.12 18.56M140.04 21.60L140.04 20.90M141.99 21.60L141.99 20.90M140.04 20.90L141.99 20.90M143.93 21.60L143.93 20.85M145.88 21.60L145.88 20.85M143.93 20.85L145.88 20.85M144.90 20.85L144.90 20.27M147.82 21.60L147.82 20.27M144.90 20.27L147.82 20.27M141.01 20.90L141.01 19.26M146.36 20.27L146.36 19.26M141.01 19.26L146.36 19.26M134.57 18.56L134.57 18.20M143.69 19.26L143.69 18.20M134.57 18.20L143.69 18.20M118.41 18.98L118.41 16.50M139.13 18.20L139.13 16.50M118.41 16.50L139.13 16.50M151.71 21.60L151.71 20.72M153.65 21.60L153.65 20.72M151.71 20.72L153.65 20.72M149.77 21.60L149.77 20.01M152.68 20.72L152.68 20.01M149.77 20.01L152.68 20.01M155.60 21.60L155.60 20.83M157.54 21.60L157.54 20.83M155.60 20.83L157.54 20.83M151.22 20.01L151.22 19.48M156.57 20.83L156.57 19.48M151.22 19.48L156.57 19.48M161.43 21.60L161.43 20.86M163.38 21.60L163.38 20.86M161.43 20.86L163.38 20.86M159.49 21.60L159.49 19.96M162.41 20.86L162.41 19.96M159.49 19.96L162.41 19.96M153.90 19.48L153.90 18.17M160.95 19.96L160.95 18.17M153.90 18.17L160.95 18.17M167.27 21.60L167.27 20.81M169.21 21.60L169.21 20.81M167.27 20.81L169.21 20.81M168.24 20.81L168.24 20.08M171.16 21.60L171.16 20.08M168.24 20.08L171.16 20.08M165.32 21.60L165.32 19.81M169.70 20.08L169.70 19.81M165.32 19.81L169.70 19.81M167.51 19.81L167.51 19.50M173.10 21.60L173.10 19.50M167.51 19.50L173.10 19.50M157.42 18.17L157.42 16.94M170.31 19.50L170.31 16.94M157.42 16.94L170.31 16.94M175.05 21.60L175.05 20.91M176.99 21.60L176.99 20.91M175.05 20.91L176.99 20.91M176.02 20.91L176.02 20.03M178.94 21.60L178.94 20.03M176.02 20.03L178.94 20.03M163.86 16.94L163.86 16.48M177.48 20.03L177.48 16.48M163.86 16.48L177.48 16.48M128.77 16.50L128.77 15.82M170.67 16.48L170.67 15.82M128.77 15.82L170.67 15.82M99.23 16.97L99.23 15.09M149.72 15.82L149.72 15.09M99.23 15.09L149.72 15.09M182.83 21.60L182.83 20.84M184.77 21.60L184.77 20.84M182.83 20.84L184.77 20.84M183.80 20.84L183.80 20.10M186.71 21.60L186.71 20.10M183.80 20.10L186.71 20.10M185.26 20.10L185.26 19.76M188.66 21.60L188.66 19.76M185.26 19.76L188.66 19.76M180.88 21.60L180.88 19.12M186.96 19.76L186.96 19.12M180.88 19.12L186.96 19.12M192.55 21.60L192.55 20.92M194.49 21.60L194.49 20.92M192.55 20.92L194.49 20.92M190.60 21.60L190.60 19.97M193.52 20.92L193.52 19.97M190.60 19.97L193.52 19.97M200.33 21.60L200.33 20.89M202.27 21.60L202.27 20.89M200.33 20.89L202.27 20.89M201.30 20.89L201.30 20.36M204.22 21.60L204.22 20.36M201.30 20.36L204.22 20.36M198.38 21.60L198.38 19.42M202.76 20.36L202.76 19.42M198.38 19.42L202.76 19.42M196.44 21.60L196.44 19.20M200.57 19.42L200.57 19.20M196.44 19.20L200.57 19.20M208.11 21.60L208.11 20.88M210.05 21.60L210.05 20.88M208.11 20.88L210.05 20.88M206.16 21.60L206.16 20.36M209.08 20.88L209.08 20.36M206.16 20.36L209.08 20.36M207.62 20.36L207.62 19.41M212.00 21.60L212.00 19.41M207.62 19.41L212.00 19.41M198.50 19.20L198.50 18.50M209.81 19.41L209.81 18.50M198.50 18.50L209.81 18.50M192.06 19.97L192.06 17.96M204.16 18.50L204.16 17.96M192.06 17.96L204.16 17.96M215.89 21.60L215.89 20.81M217.83 21.60L217.83 20.81M215.89 20.81L217.83 20.81M213.94 21.60L213.94 20.35M216.86 20.81L216.86 20.35M213.94 20.35L216.86 20.35M219.77 21.60L219.77 20.69M221.72 21.60L221.72 20.69M219.77 20.69L221.72 20.69M225.61 21.60L225.61 20.89M227.55 21.60L227.55 20.89M225.61 20.89L227.55 20.89M223.66 21.60L223.66 20.32M226.58 20.89L226.58 20.32M223.66 20.32L226.58 20.32M229.50 21.60L229.50 20.84M231.44 21.60L231.44 20.84M229.50 20.84L231.44 20.84M225.12 20.32L225.12 19.20M230.47 20.84L230.47 19.20M225.12 19.20L230.47 19.20M220.75 20.69L220.75 18.48M227.80 19.20L227.80 18.48M220.75 18.48L227.80 18.48M215.40 20.35L215.40 17.93M224.27 18.48L224.27 17.93M215.40 17.93L224.27 17.93M198.11 17.96L198.11 15.62M219.84 17.93L219.84 15.62M198.11 15.62L219.84 15.62M183.92 19.12L183.92 15.37M208.97 15.62L208.97 15.37M183.92 15.37L208.97 15.37M235.33 21.60L235.33 20.74M237.28 21.60L237.28 20.74M235.33 20.74L237.28 20.74M233.39 21.60L233.39 20.00M236.30 20.74L236.30 20.00M233.39 20.00L236.30 20.00M239.22 21.60L239.22 20.86M241.17 21.60L241.17 20.86M239.22 20.86L241.17 20.86M243.11 21.60L243.11 20.72M245.06 21.60L245.06 20.72M243.11 20.72L245.06 20.72M244.08 20.72L244.08 20.09M247.00 21.60L247.00 20.09M244.08 20.09L247.00 20.09M245.54 20.09L245.54 19.51M248.95 21.60L248.95 19.51M245.54 19.51L248.95 19.51M240.19 20.86L240.19 19.18M247.24 19.51L247.24 19.18M240.19 19.18L247.24 19.18M234.85 20.00L234.85 18.25M243.72 19.18L243.72 18.25M234.85 18.25L243.72 18.25M250.89 21.60L250.89 20.84M252.83 21.60L252.83 20.84M250.89 20.84L252.83 20.84M258.67 21.60L258.67 20.72M260.61 21.60L260.61 20.72M258.67 20.72L260.61 20.72M256.72 21.60L256.72 20.03M259.64 20.72L259.64 20.03M256.72 20.03L259.64 20.03M254.78 21.60L254.78 19.48M258.18 20.03L258.18 19.48M254.78 19.48L258.18 19.48M251.86 20.84L251.86 19.07M256.48 19.48L256.48 19.07M251.86 19.07L256.48 19.07M239.28 18.25L239.28 16.84M254.17 19.07L254.17 16.84M239.28 16.84L254.17 16.84M196.45 15.37L196.45 15.13M246.73 16.84L246.73 15.13M196.45 15.13L246.73 15.13M124.48 15.09L124.48 11.81M221.59 15.13L221.59 11.81M124.48 11.81L221.59 11.81M53.87 15.43L53.87 11.60M173.03 11.81L173.03 11.60M53.87 11.60L173.03 11.60M264.50 21.60L264.50 20.80M266.45 21.60L266.45 20.80M264.50 20.80L266.45 20.80M262.56 21.60L262.56 20.27M265.48 20.80L265.48 20.27M262.56 20.27L265.48 20.27M270.34 21.60L270.34 20.73M272.28 21.60L272.28 20.73M270.34 20.73L272.28 20.73M271.31 20.73L271.31 20.09M274.23 21.60L274.23 20.09M271.31 20.09L274.23 20.09M268.39 21.60L268.39 19.71M272.77 20.09L272.77 19.71M268.39 19.71L272.77 19.71M264.02 20.27L264.02 18.66M270.58 19.71L270.58 18.66M264.02 18.66L270.58 18.66M276.17 21.60L276.17 20.69M278.12 21.60L278.12 20.69M276.17 20.69L278.12 20.69M277.14 20.69L277.14 20.29M280.06 21.60L280.06 20.29M277.14 20.29L280.06 20.29M283.95 21.60L283.95 20.92M285.89 21.60L285.89 20.92M283.95 20.92L285.89 20.92M282.01 21.60L282.01 20.36M284.92 20.92L284.92 20.36M282.01 20.36L284.92 20.36M291.73 21.60L291.73 20.86M293.67 21.60L293.67 20.86M291.73 20.86L293.67 20.86M289.78 21.60L289.78 20.29M292.70 20.86L292.70 20.29M289.78 20.29L292.70 20.29M287.84 21.60L287.84 19.70M291.24 20.29L291.24 19.70M287.84 19.70L291.24 19.70M289.54 19.70L289.54 19.02M295.62 21.60L295.62 19.02M289.54 19.02L295.62 19.02M299.51 21.60L299.51 20.91M301.45 21.60L301.45 20.91M299.51 20.91L301.45 20.91M297.56 21.60L297.56 20.09M300.48 20.91L300.48 20.09M297.56 20.09L300.48 20.09M292.58 19.02L292.58 18.62M299.02 20.09L299.02 18.62M292.58 18.62L299.02 18.62M283.46 20.36L283.46 17.68M295.80 18.62L295.80 17.68M283.46 17.68L295.80 17.68M278.60 20.29L278.60 17.12M289.63 17.68L289.63 17.12M278.60 17.12L289.63 17.12M267.30 18.66L267.30 15.42M284.12 17.12L284.12 15.42M267.30 15.42L284.12 15.42M303.40 21.60L303.40 20.76M305.34 21.60L305.34 20.76M303.40 20.76L305.34 20.76M307.29 21.60L307.29 20.70M309.23 21.60L309.23 20.70M307.29 20.70L309.23 20.70M304.37 20.76L304.37 19.56M308.26 20.70L308.26 19.56M304.37 19.56L308.26 19.56M311.18 21.60L311.18 20.91M313.12 21.60L313.12 20.91M311.18 20.91L313.12 20.91M315.07 21.60L315.07 20.78M317.01 21.60L317.01 20.78M315.07 20.78L317.01 20.78M318.95 21.60L318.95 20.88M320.90 21.60L320.90 20.88M318.95 20.88L320.90 20.88M319.93 20.88L319.93 19.97M322.84 21.60L322.84 19.97M319.93 19.97L322.84 19.97M316.04 20.78L316.04 19.41M321.39 19.97L321.39 19.41M316.04 19.41L321.39 19.41M312.15 20.91L312.15 18.63M318.71 19.41L318.71 18.63M312.15 18.63L318.71 18.63M306.31 19.56L306.31 17.09M315.43 18.63L315.43 17.09M306.31 17.09L315.43 17.09M324.79 21.60L324.79 20.86M326.73 21.60L326.73 20.86M324.79 20.86L326.73 20.86M325.76 20.86L325.76 20.23M328.68 21.60L328.68 20.23M325.76 20.23L328.68 20.23M310.87 17.09L310.87 16.87M327.22 20.23L327.22 16.87M310.87 16.87L327.22 16.87M330.62 21.60L330.62 20.83M332.57 21.60L332.57 20.83M330.62 20.83L332.57 20.83M334.51 21.60L334.51 20.73M336.46 21.60L336.46 20.73M334.51 20.73L336.46 20.73M338.40 21.60L338.40 20.73M340.35 21.60L340.35 20.73M338.40 20.73L340.35 20.73M335.48 20.73L335.48 19.75M339.37 20.73L339.37 19.75M335.48 19.75L339.37 19.75M331.60 20.83L331.60 18.70M337.43 19.75L337.43 18.70M331.60 18.70L337.43 18.70M319.05 16.87L319.05 16.56M334.51 18.70L334.51 16.56M319.05 16.56L334.51 16.56M344.24 21.60L344.24 20.80M346.18 21.60L346.18 20.80M344.24 20.80L346.18 20.80M342.29 21.60L342.29 20.20M345.21 20.80L345.21 20.20M342.29 20.20L345.21 20.20M343.75 20.20L343.75 19.47M348.13 21.60L348.13 19.47M343.75 19.47L348.13 19.47M326.78 16.56L326.78 15.68M345.94 19.47L345.94 15.68M326.78 15.68L345.94 15.68M275.71 15.42L275.71 13.67M336.36 15.68L336.36 13.67M275.71 13.67L336.36 13.67M350.07 21.60L350.07 20.71M352.01 21.60L352.01 20.71M350.07 20.71L352.01 20.71M353.96 21.60L353.96 20.90M355.90 21.60L355.90 20.90M353.96 20.90L355.90 20.90M357.85 21.60L357.85 20.85M359.79 21.60L359.79 20.85M357.85 20.85L359.79 20.85M358.82 20.85L358.82 20.09M361.74 21.60L361.74 20.09M358.82 20.09L361.74 20.09M354.93 20.90L354.93 18.87M360.28 20.09L360.28 18.87M354.93 18.87L360.28 18.87M351.04 20.71L351.04 18.66M357.61 18.87L357.61 18.66M351.04 18.66L357.61 18.66M363.68 21.60L363.68 20.90M365.63 21.60L365.63 20.90M363.68 20.90L365.63 20.90M354.32 18.66L354.32 18.44M364.66 20.90L364.66 18.44M354.32 18.44L364.66 18.44M306.03 13.67L306.03 13.46M359.49 18.44L359.49 13.46M306.03 13.46L359.49 13.46M113.45 11.60L113.45 7.60M332.76 13.46L332.76 7.60M113.45 7.60L332.76 7.60"/><path d="M36.97 292.90L36.97 291.81M38.92 292.90L38.92 291.81M36.97 291.81L38.92 291.81M42.81 292.90L42.81 291.84M44.75 292.90L44.75 291.84M42.81 291.84L44.75 291.84M46.70 292.90L46.70 291.84M48.64 292.90L48.64 291.84M46.70 291.84L48.64 291.84M43.78 291.84L43.78 290.10M47.67 291.84L47.67 290.10M43.78 290.10L47.67 290.10M40.86 292.90L40.86 289.81M45.72 290.10L45.72 289.81M40.86 289.81L45.72 289.81M37.94 291.81L37.94 288.51M43.29 289.81L43.29 288.51M37.94 288.51L43.29 288.51M52.53 292.90L52.53 291.97M54.47 292.90L54.47 291.97M52.53 291.97L54.47 291.97M56.42 292.90L56.42 291.78M58.36 292.90L58.36 291.78M56.42 291.78L58.36 291.78M53.50 291.97L53.50 290.16M57.39 291.78L57.39 290.16M53.50 290.16L57.39 290.16M50.59 292.90L50.59 289.30M55.45 290.16L55.45 289.30M50.59 289.30L55.45 289.30M62.25 292.90L62.25 291.77M64.20 292.90L64.20 291.77M62.25 291.77L64.20 291.77M60.31 292.90L60.31 290.93M63.23 291.77L63.23 290.93M60.31 290.93L63.23 290.93M70.03 292.90L70.03 291.79M71.98 292.90L71.98 291.79M70.03 291.79L71.98 291.79M68.09 292.90L68.09 291.05M71.00 291.79L71.00 291.05M68.09 291.05L71.00 291.05M66.14 292.90L66.14 289.99M69.55 291.05L69.55 289.99M66.14 289.99L69.55 289.99M61.77 290.93L61.77 288.70M67.84 289.99L67.84 288.70M61.77 288.70L67.84 288.70M53.02 289.30L53.02 287.38M64.81 288.70L64.81 287.38M53.02 287.38L64.81 287.38M75.87 292.90L75.87 291.79M77.81 292.90L77.81 291.79M75.87 291.79L77.81 291.79M73.92 292.90L73.92 290.85M76.84 291.79L76.84 290.85M73.92 290.85L76.84 290.85M58.91 287.38L58.91 286.52M75.38 290.85L75.38 286.52M58.91 286.52L75.38 286.52M81.70 292.90L81.70 291.83M83.65 292.90L83.65 291.83M81.70 291.83L83.65 291.83M79.76 292.90L79.76 291.01M82.67 291.83L82.67 291.01M79.76 291.01L82.67 291.01M85.59 292.90L85.59 291.87M87.53 292.90L87.53 291.87M85.59 291.87L87.53 291.87M81.21 291.01L81.21 289.41M86.56 291.87L86.56 289.41M81.21 289.41L86.56 289.41M89.48 292.90L89.48 291.94M91.42 292.90L91.42 291.94M89.48 291.94L91.42 291.94M83.89 289.41L83.89 288.82M90.45 291.94L90.45 288.82M83.89 288.82L90.45 288.82M67.15 286.52L67.15 286.23M87.17 288.82L87.17 286.23M67.15 286.23L87.17 286.23M95.31 292.90L95.31 291.85M97.26 292.90L97.26 291.85M95.31 291.85L97.26 291.85M93.37 292.90L93.37 290.72M96.29 291.85L96.29 290.72M93.37 290.72L96.29 290.72M94.83 290.72L94.83 290.20M99.20 292.90L99.20 290.20M94.83 290.20L99.20 290.20M101.15 292.90L101.15 291.87M103.09 292.90L103.09 291.87M101.15 291.87L103.09 291.87M105.04 292.90L105.04 291.87M106.98 292.90L106.98 291.87M105.04 291.87L106.98 291.87M108.93 292.90L108.93 291.77M110.87 292.90L110.87 291.77M108.93 291.77L110.87 291.77M109.90 291.77L109.90 290.71M112.82 292.90L112.82 290.71M109.90 290.71L112.82 290.71M114.76 292.90L114.76 291.74M116.71 292.90L116.71 291.74M114.76 291.74L116.71 291.74M111.36 290.71L111.36 289.31M115.73 291.74L115.73 289.31M111.36 289.31L115.73 289.31M118.65 292.90L118.65 291.85M120.59 292.90L120.59 291.85M118.65 291.85L120.59 291.85M113.55 289.31L113.55 289.01M119.62 291.85L119.62 289.01M113.55 289.01L119.62 289.01M106.01 291.87L106.01 287.69M116.58 289.01L116.58 287.69M106.01 287.69L116.58 287.69M102.12 291.87L102.12 287.40M111.30 287.69L111.30 287.40M102.12 287.40L111.30 287.40M97.02 290.20L97.02 286.90M106.71 287.40L106.71 286.90M97.02 286.90L106.71 286.90M77.16 286.23L77.16 284.10M101.86 286.90L101.86 284.10M77.16 284.10L101.86 284.10M40.62 288.51L40.62 283.81M89.51 284.10L89.51 283.81M40.62 283.81L89.51 283.81M122.54 292.90L122.54 291.78M124.48 292.90L124.48 291.78M122.54 291.78L124.48 291.78M126.43 292.90L126.43 291.98M128.37 292.90L128.37 291.98M126.43 291.98L128.37 291.98M127.40 291.98L127.40 290.72M130.32 292.90L130.32 290.72M127.40 290.72L130.32 290.72M123.51 291.78L123.51 289.57M128.86 290.72L128.86 289.57M123.51 289.57L128.86 289.57M134.21 292.90L134.21 291.81M136.15 292.90L136.15 291.81M134.21 291.81L136.15 291.81M132.26 292.90L132.26 290.80M135.18 291.81L135.18 290.80M132.26 290.80L135.18 290.80M138.10 292.90L138.10 291.85M140.04 292.90L140.04 291.85M138.10 291.85L140.04 291.85M133.72 290.80L133.72 290.01M139.07 291.85L139.07 290.01M133.72 290.01L139.07 290.01M126.19 289.57L126.19 287.16M136.40 290.01L136.40 287.16M126.19 287.16L136.40 287.16M143.93 292.90L143.93 291.87M145.88 292.90L145.88 291.87M143.93 291.87L145.88 291.87M141.99 292.90L141.99 291.01M144.90 291.87L144.90 291.01M141.99 291.01L144.90 291.01M131.29 287.16L131.29 286.66M143.44 291.01L143.44 286.66M131.29 286.66L143.44 286.66M147.82 292.90L147.82 291.89M149.77 292.90L149.77 291.89M147.82 291.89L149.77 291.89M155.60 292.90L155.60 291.71M157.54 292.90L157.54 291.71M155.60 291.71L157.54 291.71M153.65 292.90L153.65 291.12M156.57 291.71L156.57 291.12M153.65 291.12L156.57 291.12M151.71 292.90L151.71 290.44M155.11 291.12L155.11 290.44M151.71 290.44L155.11 290.44M148.79 291.89L148.79 288.94M153.41 290.44L153.41 288.94M148.79 288.94L153.41 288.94M163.38 292.90L163.38 291.80M165.32 292.90L165.32 291.80M163.38 291.80L165.32 291.80M161.43 292.90L161.43 290.82M164.35 291.80L164.35 290.82M161.43 290.82L164.35 290.82M162.89 290.82L162.89 290.42M167.27 292.90L167.27 290.42M162.89 290.42L167.27 290.42M159.49 292.90L159.49 289.49M165.08 290.42L165.08 289.49M159.49 289.49L165.08 289.49M151.10 288.94L151.10 286.96M162.28 289.49L162.28 286.96M151.10 286.96L162.28 286.96M137.37 286.66L137.37 285.69M156.69 286.96L156.69 285.69M137.37 285.69L156.69 285.69M171.16 292.90L171.16 291.83M173.10 292.90L173.10 291.83M171.16 291.83L173.10 291.83M172.13 291.83L172.13 290.87M175.05 292.90L175.05 290.87M172.13 290.87L175.05 290.87M169.21 292.90L169.21 290.36M173.59 290.87L173.59 290.36M169.21 290.36L173.59 290.36M176.99 292.90L176.99 291.79M178.94 292.90L178.94 291.79M176.99 291.79L178.94 291.79M171.40 290.36L171.40 289.09M177.96 291.79L177.96 289.09M171.40 289.09L177.96 289.09M182.83 292.90L182.83 291.95M184.77 292.90L184.77 291.95M182.83 291.95L184.77 291.95M183.80 291.95L183.80 290.99M186.71 292.90L186.71 290.99M183.80 290.99L186.71 290.99M180.88 292.90L180.88 290.38M185.26 290.99L185.26 290.38M180.88 290.38L185.26 290.38M190.60 292.90L190.60 291.79M192.55 292.90L192.55 291.79M190.60 291.79L192.55 291.79M188.66 292.90L188.66 291.00M191.58 291.79L191.58 291.00M188.66 291.00L191.58 291.00M183.07 290.38L183.07 288.55M190.12 291.00L190.12 288.55M183.07 288.55L190.12 288.55M174.68 289.09L174.68 286.20M186.59 288.55L186.59 286.20M174.68 286.20L186.59 286.20M147.03 285.69L147.03 282.50M180.64 286.20L180.64 282.50M147.03 282.50L180.64 282.50M196.44 292.90L196.44 291.96M198.38 292.90L198.38 291.96M196.44 291.96L198.38 291.96M194.49 292.90L194.49 290.65M197.41 291.96L197.41 290.65M194.49 290.65L197.41 290.65M195.95 290.65L195.95 290.08M200.33 292.90L200.33 290.08M195.95 290.08L200.33 290.08M198.14 290.08L198.14 289.20M202.27 292.90L202.27 289.20M198.14 289.20L202.27 289.20M204.22 292.90L204.22 291.81M206.16 292.90L206.16 291.81M204.22 291.81L206.16 291.81M210.05 292.90L210.05 291.84M212.00 292.90L212.00 291.84M210.05 291.84L212.00 291.84M211.02 291.84L211.02 290.82M213.94 292.90L213.94 290.82M211.02 290.82L213.94 290.82M208.11 292.90L208.11 290.53M212.48 290.82L212.48 290.53M208.11 290.53L212.48 290.53M205.19 291.81L205.19 288.83M210.29 290.53L210.29 288.83M205.19 288.83L210.29 288.83M217.83 292.90L217.83 291.87M219.77 292.90L219.77 291.87M217.83 291.87L219.77 291.87M215.89 292.90L215.89 291.11M218.80 291.87L218.80 291.11M215.89 291.11L218.80 291.11M207.74 288.83L207.74 287.53M217.34 291.11L217.34 287.53M207.74 287.53L217.34 287.53M221.72 292.90L221.72 291.69M223.66 292.90L223.66 291.69M221.72 291.69L223.66 291.69M222.69 291.69L222.69 290.79M225.61 292.90L225.61 290.79M222.69 290.79L225.61 290.79M227.55 292.90L227.55 291.68M229.50 292.90L229.50 291.68M227.55 291.68L229.50 291.68M224.15 290.79L224.15 289.56M228.53 291.68L228.53 289.56M224.15 289.56L228.53 289.56M231.44 292.90L231.44 291.88M233.39 292.90L233.39 291.88M231.44 291.88L233.39 291.88M226.34 289.56L226.34 288.37M232.42 291.88L232.42 288.37M226.34 288.37L232.42 288.37M239.22 292.90L239.22 291.73M241.17 292.90L241.17 291.73M239.22 291.73L241.17 291.73M237.28 292.90L237.28 290.90M240.19 291.73L240.19 290.90M237.28 290.90L240.19 290.90M235.33 292.90L235.33 290.58M238.74 290.90L238.74 290.58M235.33 290.58L238.74 290.58M243.11 292.90L243.11 291.95M245.06 292.90L245.06 291.95M243.11 291.95L245.06 291.95M237.03 290.58L237.03 289.66M244.08 291.95L244.08 289.66M237.03 289.66L244.08 289.66M229.38 288.37L229.38 287.72M240.56 289.66L240.56 287.72M229.38 287.72L240.56 287.72M247.00 292.90L247.00 291.79M248.95 292.90L248.95 291.79M247.00 291.79L248.95 291.79M247.97 291.79L247.97 290.66M250.89 292.90L250.89 290.66M247.97 290.66L250.89 290.66M234.97 287.72L234.97 286.32M249.43 290.66L249.43 286.32M234.97 286.32L249.43 286.32M212.54 287.53L212.54 285.24M242.20 286.32L242.20 285.24M212.54 285.24L242.20 285.24M200.21 289.20L200.21 284.95M227.37 285.24L227.37 284.95M200.21 284.95L227.37 284.95M252.83 292.90L252.83 291.70M254.78 292.90L254.78 291.70M252.83 291.70L254.78 291.70M256.72 292.90L256.72 291.96M258.67 292.90L258.67 291.96M256.72 291.96L258.67 291.96M253.81 291.70L253.81 290.21M257.70 291.96L257.70 290.21M253.81 290.21L257.70 290.21M262.56 292.90L262.56 291.83M264.50 292.90L264.50 291.83M262.56 291.83L264.50 291.83M260.61 292.90L260.61 290.70M263.53 291.83L263.53 290.70M260.61 290.70L263.53 290.70M262.07 290.70L262.07 290.25M266.45 292.90L266.45 290.25M262.07 290.25L266.45 290.25M264.26 290.25L264.26 289.86M268.39 292.90L268.39 289.86M264.26 289.86L268.39 289.86M270.34 292.90L270.34 291.68M272.28 292.90L272.28 291.68M270.34 291.68L272.28 291.68M266.33 289.86L266.33 288.66M271.31 291.68L271.31 288.66M266.33 288.66L271.31 288.66M255.75 290.21L255.75 287.00M268.82 288.66L268.82 287.00M255.75 287.00L268.82 287.00M213.79 284.95L213.79 283.01M262.28 287.00L262.28 283.01M213.79 283.01L262.28 283.01M163.83 282.50L163.83 282.20M238.04 283.01L238.04 282.20M163.83 282.20L238.04 282.20M274.23 292.90L274.23 291.71M276.17 292.90L276.17 291.71M274.23 291.71L276.17 291.71M278.12 292.90L278.12 291.80M280.06 292.90L280.06 291.80M278.12 291.80L280.06 291.80M275.20 291.71L275.20 290.20M279.09 291.80L279.09 290.20M275.20 290.20L279.09 290.20M283.95 292.90L283.95 291.94M285.89 292.90L285.89 291.94M283.95 291.94L285.89 291.94M282.01 292.90L282.01 290.81M284.92 291.94L284.92 290.81M282.01 290.81L284.92 290.81M277.14 290.20L277.14 288.55M283.46 290.81L283.46 288.55M277.14 288.55L283.46 288.55M287.84 292.90L287.84 291.81M289.78 292.90L289.78 291.81M287.84 291.81L289.78 291.81M293.67 292.90L293.67 291.94M295.62 292.90L295.62 291.94M293.67 291.94L295.62 291.94M291.73 292.90L291.73 290.93M294.65 291.94L294.65 290.93M291.73 290.93L294.65 290.93M288.81 291.81L288.81 289.59M293.19 290.93L293.19 289.59M288.81 289.59L293.19 289.59M280.30 288.55L280.30 286.95M291.00 289.59L291.00 286.95M280.30 286.95L291.00 286.95M297.56 292.90L297.56 291.76M299.51 292.90L299.51 291.76M297.56 291.76L299.51 291.76M298.54 291.76L298.54 290.93M301.45 292.90L301.45 290.93M298.54 290.93L301.45 290.93M303.40 292.90L303.40 291.87M305.34 292.90L305.34 291.87M303.40 291.87L305.34 291.87M307.29 292.90L307.29 291.89M309.23 292.90L309.23 291.89M307.29 291.89L309.23 291.89M308.26 291.89L308.26 291.00M311.18 292.90L311.18 291.00M308.26 291.00L311.18 291.00M309.72 291.00L309.72 290.64M313.12 292.90L313.12 290.64M309.72 290.64L313.12 290.64M304.37 291.87L304.37 289.01M311.42 290.64L311.42 289.01M304.37 289.01L311.42 289.01M299.99 290.93L299.99 288.22M307.89 289.01L307.89 288.22M299.99 288.22L307.89 288.22M315.07 292.90L315.07 291.91M317.01 292.90L317.01 291.91M315.07 291.91L317.01 291.91M318.95 292.90L318.95 291.74M320.90 292.90L320.90 291.74M318.95 291.74L320.90 291.74M316.04 291.91L316.04 290.30M319.93 291.74L319.93 290.30M316.04 290.30L319.93 290.30M322.84 292.90L322.84 291.76M324.79 292.90L324.79 291.76M322.84 291.76L324.79 291.76M317.98 290.30L317.98 288.82M323.82 291.76L323.82 288.82M317.98 288.82L323.82 288.82M303.94 288.22L303.94 287.34M320.90 288.82L320.90 287.34M303.94 287.34L320.90 287.34M326.73 292.90L326.73 291.98M328.68 292.90L328.68 291.98M326.73 291.98L328.68 291.98M327.71 291.98L327.71 291.10M330.62 292.90L330.62 291.10M327.71 291.10L330.62 291.10M332.57 292.90L332.57 291.68M334.51 292.90L334.51 291.68M332.57 291.68L334.51 291.68M336.46 292.90L336.46 291.67M338.40 292.90L338.40 291.67M336.46 291.67L338.40 291.67M333.54 291.68L333.54 289.86M337.43 291.67L337.43 289.86M333.54 289.86L337.43 289.86M340.35 292.90L340.35 291.92M342.29 292.90L342.29 291.92M340.35 291.92L342.29 291.92M335.48 289.86L335.48 289.56M341.32 291.92L341.32 289.56M335.48 289.56L341.32 289.56M329.16 291.10L329.16 287.98M338.40 289.56L338.40 287.98M329.16 287.98L338.40 287.98M312.42 287.34L312.42 285.39M333.78 287.98L333.78 285.39M312.42 285.39L333.78 285.39M285.65 286.95L285.65 282.74M323.10 285.39L323.10 282.74M285.65 282.74L323.10 282.74M344.24 292.90L344.24 291.72M346.18 292.90L346.18 291.72M344.24 291.72L346.18 291.72M350.07 292.90L350.07 291.78M352.01 292.90L352.01 291.78M350.07 291.78L352.01 291.78M348.13 292.90L348.13 290.92M351.04 291.78L351.04 290.92M348.13 290.92L351.04 290.92M345.21 291.72L345.21 289.29M349.58 290.92L349.58 289.29M345.21 289.29L349.58 289.29M353.96 292.90L353.96 291.70M355.90 292.90L355.90 291.70M353.96 291.70L355.90 291.70M357.85 292.90L357.85 291.72M359.79 292.90L359.79 291.72M357.85 291.72L359.79 291.72M358.82 291.72L358.82 290.82M361.74 292.90L361.74 290.82M358.82 290.82L361.74 290.82M363.68 292.90L363.68 291.90M365.63 292.90L365.63 291.90M363.68 291.90L365.63 291.90M360.28 290.82L360.28 289.43M364.66 291.90L364.66 289.43M360.28 289.43L364.66 289.43M354.93 291.70L354.93 289.14M362.47 289.43L362.47 289.14M354.93 289.14L362.47 289.14M347.40 289.29L347.40 287.65M358.70 289.14L358.70 287.65M347.40 287.65L358.70 287.65M304.38 282.74L304.38 282.44M353.05 287.65L353.05 282.44M304.38 282.44L353.05 282.44M200.94 282.20L200.94 281.40M328.71 282.44L328.71 281.40M200.94 281.40L328.71 281.40M65.06 283.81L65.06 278.30M264.82 281.40L264.82 278.30M65.06 278.30L264.82 278.30"/><path d="M35.60 33.02L27.39 33.02M35.60 38.45L27.39 38.45M27.39 33.02L27.39 38.45M27.39 35.74L23.20 35.74M35.60 43.89L23.20 43.89M23.20 35.74L23.20 43.89M35.60 49.33L26.51 49.33M35.60 54.76L26.51 54.76M26.51 49.33L26.51 54.76M23.20 39.81L19.63 39.81M26.51 52.04L19.63 52.04M19.63 39.81L19.63 52.04M35.60 65.63L27.60 65.63M35.60 71.07L27.60 71.07M27.60 65.63L27.60 71.07M35.60 60.20L24.86 60.20M27.60 68.35L24.86 68.35M24.86 60.20L24.86 68.35M24.86 64.27L21.48 64.27M35.60 76.50L21.48 76.50M21.48 64.27L21.48 76.50M35.60 81.94L25.60 81.94M35.60 87.38L25.60 87.38M25.60 81.94L25.60 87.38M21.48 70.39L19.41 70.39M25.60 84.66L19.41 84.66M19.41 70.39L19.41 84.66M35.60 92.81L25.20 92.81M35.60 98.25L25.20 98.25M25.20 92.81L25.20 98.25M19.41 77.52L16.82 77.52M25.20 95.53L16.82 95.53M16.82 77.52L16.82 95.53M35.60 103.68L25.09 103.68M35.60 109.12L25.09 109.12M25.09 103.68L25.09 109.12M35.60 125.42L27.61 125.42M35.60 130.86L27.61 130.86M27.61 125.42L27.61 130.86M35.60 119.99L23.58 119.99M27.61 128.14L23.58 128.14M23.58 119.99L23.58 128.14M35.60 114.55L21.94 114.55M23.58 124.07L21.94 124.07M21.94 114.55L21.94 124.07M25.09 106.40L20.66 106.40M21.94 119.31L20.66 119.31M20.66 106.40L20.66 119.31M35.60 136.30L26.87 136.30M35.60 141.73L26.87 141.73M26.87 136.30L26.87 141.73M26.87 139.01L25.04 139.01M35.60 147.17L25.04 147.17M25.04 139.01L25.04 147.17M20.66 112.85L18.12 112.85M25.04 143.09L18.12 143.09M18.12 112.85L18.12 143.09M35.60 152.60L27.00 152.60M35.60 158.04L27.00 158.04M27.00 152.60L27.00 158.04M27.00 155.32L22.18 155.32M35.60 163.48L22.18 163.48M22.18 155.32L22.18 163.48M22.18 159.40L21.72 159.40M35.60 168.91L21.72 168.91M21.72 159.40L21.72 168.91M18.12 127.97L17.66 127.97M21.72 164.15L17.66 164.15M17.66 127.97L17.66 164.15M35.60 174.35L26.47 174.35M35.60 179.78L26.47 179.78M26.47 174.35L26.47 179.78M35.60 185.22L27.08 185.22M35.60 190.65L27.08 190.65M27.08 185.22L27.08 190.65M26.47 177.06L20.83 177.06M27.08 187.94L20.83 187.94M20.83 177.06L20.83 187.94M35.60 201.53L27.37 201.53M35.60 206.96L27.37 206.96M27.37 201.53L27.37 206.96M35.60 196.09L23.02 196.09M27.37 204.24L23.02 204.24M23.02 196.09L23.02 204.24M20.83 182.50L17.08 182.50M23.02 200.17L17.08 200.17M17.08 182.50L17.08 200.17M35.60 217.83L27.80 217.83M35.60 223.27L27.80 223.27M27.80 217.83L27.80 223.27M35.60 212.40L25.31 212.40M27.80 220.55L25.31 220.55M25.31 212.40L25.31 220.55M35.60 234.14L26.16 234.14M35.60 239.58L26.16 239.58M26.16 234.14L26.16 239.58M26.16 236.86L23.71 236.86M35.60 245.01L23.71 245.01M23.71 236.86L23.71 245.01M35.60 228.70L21.89 228.70M23.71 240.93L21.89 240.93M21.89 228.70L21.89 240.93M35.60 250.45L26.93 250.45M35.60 255.88L26.93 255.88M26.93 250.45L26.93 255.88M21.89 234.82L17.92 234.82M26.93 253.16L17.92 253.16M17.92 234.82L17.92 253.16M25.31 216.47L17.45 216.47M17.92 243.99L17.45 243.99M17.45 216.47L17.45 243.99M17.08 191.33L14.95 191.33M17.45 230.23L14.95 230.23M14.95 191.33L14.95 230.23M17.66 146.06L12.90 146.06M14.95 210.78L12.90 210.78M12.90 146.06L12.90 210.78M16.82 86.53L10.60 86.53M12.90 178.42L10.60 178.42M10.60 86.53L10.60 178.42M19.63 45.93L6.40 45.93M10.60 132.47L6.40 132.47M6.40 45.93L6.40 132.47"/><path d="M35.60 303.90L22.67 303.90M35.60 306.90L22.67 306.90M22.67 303.90L22.67 306.90M22.67 305.40L16.72 305.40M35.60 309.90L16.72 309.90M16.72 305.40L16.72 309.90M35.60 312.90L20.74 312.90M35.60 315.91L20.74 315.91M20.74 312.90L20.74 315.91M35.60 321.91L21.53 321.91M35.60 324.91L21.53 324.91M21.53 321.91L21.53 324.91M35.60 318.91L20.99 318.91M21.53 323.41L20.99 323.41M20.99 318.91L20.99 323.41M20.74 314.41L18.49 314.41M20.99 321.16L18.49 321.16M18.49 314.41L18.49 321.16M35.60 327.91L20.09 327.91M35.60 330.91L20.09 330.91M20.09 327.91L20.09 330.91M18.49 317.78L13.59 317.78M20.09 329.41L13.59 329.41M13.59 317.78L13.59 329.41M16.72 307.65L12.80 307.65M13.59 323.60L12.80 323.60M12.80 307.65L12.80 323.60M35.60 333.91L23.00 333.91M35.60 336.92L23.00 336.92M23.00 333.91L23.00 336.92M35.60 339.92L22.60 339.92M35.60 342.92L22.60 342.92M22.60 339.92L22.60 342.92M23.00 335.41L19.43 335.41M22.60 341.42L19.43 341.42M19.43 335.41L19.43 341.42M35.60 348.92L22.80 348.92M35.60 351.92L22.80 351.92M22.80 348.92L22.80 351.92M35.60 345.92L18.35 345.92M22.80 350.42L18.35 350.42M18.35 345.92L18.35 350.42M35.60 357.92L23.25 357.92M35.60 360.93L23.25 360.93M23.25 357.92L23.25 360.93M35.60 354.92L20.70 354.92M23.25 359.42L20.70 359.42M20.70 354.92L20.70 359.42M35.60 363.93L20.40 363.93M35.60 366.93L20.40 366.93M20.40 363.93L20.40 366.93M20.70 357.17L18.49 357.17M20.40 365.43L18.49 365.43M18.49 357.17L18.49 365.43M35.60 372.93L22.22 372.93M35.60 375.93L22.22 375.93M22.22 372.93L22.22 375.93M35.60 369.93L17.86 369.93M22.22 374.43L17.86 374.43M17.86 369.93L17.86 374.43M17.86 372.18L15.40 372.18M35.60 378.93L15.40 378.93M15.40 372.18L15.40 378.93M18.49 361.30L14.33 361.30M15.40 375.56L14.33 375.56M14.33 361.30L14.33 375.56M18.35 348.17L13.78 348.17M14.33 368.43L13.78 368.43M13.78 348.17L13.78 368.43M19.43 338.42L10.86 338.42M13.78 358.30L10.86 358.30M10.86 338.42L10.86 358.30M12.80 315.62L7.65 315.62M10.86 348.36L7.65 348.36M7.65 315.62L7.65 348.36M35.60 381.93L22.96 381.93M35.60 384.94L22.96 384.94M22.96 381.93L22.96 384.94M35.60 387.94L19.97 387.94M35.60 390.94L19.97 390.94M19.97 387.94L19.97 390.94M22.96 383.44L18.68 383.44M19.97 389.44L18.68 389.44M18.68 383.44L18.68 389.44M35.60 393.94L22.92 393.94M35.60 396.94L22.92 396.94M22.92 393.94L22.92 396.94M22.92 395.44L20.37 395.44M35.60 399.94L20.37 399.94M20.37 395.44L20.37 399.94M35.60 402.94L21.93 402.94M35.60 405.95L21.93 405.95M21.93 402.94L21.93 405.95M20.37 397.69L18.90 397.69M21.93 404.44L18.90 404.44M18.90 397.69L18.90 404.44M18.68 386.44L16.76 386.44M18.90 401.07L16.76 401.07M16.76 386.44L16.76 401.07M35.60 408.95L20.74 408.95M35.60 411.95L20.74 411.95M20.74 408.95L20.74 411.95M20.74 410.45L18.30 410.45M35.60 414.95L18.30 414.95M18.30 410.45L18.30 414.95M35.60 417.95L20.43 417.95M35.60 420.95L20.43 420.95M20.43 417.95L20.43 420.95M35.60 423.95L22.68 423.95M35.60 426.95L22.68 426.95M22.68 423.95L22.68 426.95M20.43 419.45L19.68 419.45M22.68 425.45L19.68 425.45M19.68 419.45L19.68 425.45M35.60 429.96L22.62 429.96M35.60 432.96L22.62 432.96M22.62 429.96L22.62 432.96M35.60 435.96L20.52 435.96M35.60 438.96L20.52 438.96M20.52 435.96L20.52 438.96M22.62 431.46L14.66 431.46M20.52 437.46L14.66 437.46M14.66 431.46L14.66 437.46M19.68 422.45L14.12 422.45M14.66 434.46L14.12 434.46M14.12 422.45L14.12 434.46M18.30 412.70L13.58 412.70M14.12 428.46L13.58 428.46M13.58 412.70L13.58 428.46M16.76 393.75L13.03 393.75M13.58 420.58L13.03 420.58M13.03 393.75L13.03 420.58M35.60 444.96L23.34 444.96M35.60 447.96L23.34 447.96M23.34 444.96L23.34 447.96M35.60 441.96L17.52 441.96M23.34 446.46L17.52 446.46M17.52 441.96L17.52 446.46M35.60 450.97L20.94 450.97M35.60 453.97L20.94 453.97M20.94 450.97L20.94 453.97M17.52 444.21L15.70 444.21M20.94 452.47L15.70 452.47M15.70 444.21L15.70 452.47M35.60 456.97L21.71 456.97M35.60 459.97L21.71 459.97M21.71 456.97L21.71 459.97M21.71 458.47L20.72 458.47M35.60 462.97L20.72 462.97M20.72 458.47L20.72 462.97M20.72 460.72L15.13 460.72M35.60 465.97L15.13 465.97M15.13 460.72L15.13 465.97M15.70 448.34L14.01 448.34M15.13 463.35L14.01 463.35M14.01 448.34L14.01 463.35M35.60 468.97L22.66 468.97M35.60 471.97L22.66 471.97M22.66 468.97L22.66 471.97M35.60 474.98L22.42 474.98M35.60 477.98L22.42 477.98M22.42 474.98L22.42 477.98M22.42 476.48L17.07 476.48M35.60 480.98L17.07 480.98M17.07 476.48L17.07 480.98M22.66 470.47L15.67 470.47M17.07 478.73L15.67 478.73M15.67 470.47L15.67 478.73M14.01 455.84L13.47 455.84M15.67 474.60L13.47 474.60M13.47 455.84L13.47 474.60M13.03 407.16L8.39 407.16M13.47 465.22L8.39 465.22M8.39 407.16L8.39 465.22M35.60 489.98L20.71 489.98M35.60 492.98L20.71 492.98M20.71 489.98L20.71 492.98M35.60 486.98L20.17 486.98M20.71 491.48L20.17 491.48M20.17 486.98L20.17 491.48M35.60 483.98L16.33 483.98M20.17 489.23L16.33 489.23M16.33 483.98L16.33 489.23M35.60 495.98L21.64 495.98M35.60 498.99L21.64 498.99M21.64 495.98L21.64 498.99M21.64 497.49L20.03 497.49M35.60 501.99L20.03 501.99M20.03 497.49L20.03 501.99M16.33 486.61L12.67 486.61M20.03 499.74L12.67 499.74M12.67 486.61L12.67 499.74M35.60 504.99L22.95 504.99M35.60 507.99L22.95 507.99M22.95 504.99L22.95 507.99M22.95 506.49L16.66 506.49M35.60 510.99L16.66 510.99M16.66 506.49L16.66 510.99M35.60 513.99L19.44 513.99M35.60 516.99L19.44 516.99M19.44 513.99L19.44 516.99M35.60 520.00L21.01 520.00M35.60 523.00L21.01 523.00M21.01 520.00L21.01 523.00M21.01 521.50L20.41 521.50M35.60 526.00L20.41 526.00M20.41 521.50L20.41 526.00M20.41 523.75L14.84 523.75M35.60 529.00L14.84 529.00M14.84 523.75L14.84 529.00M19.44 515.49L14.29 515.49M14.84 526.37L14.29 526.37M14.29 515.49L14.29 526.37M16.66 508.74L13.75 508.74M14.29 520.93L13.75 520.93M13.75 508.74L13.75 520.93M12.67 493.17L12.12 493.17M13.75 514.84L12.12 514.84M12.12 493.17L12.12 514.84M8.39 436.19L7.85 436.19M12.12 504.00L7.85 504.00M7.85 436.19L7.85 504.00M7.65 331.99L5.60 331.99M7.85 470.10L5.60 470.10M5.60 331.99L5.60 470.10"/>
</g>
<text x="34.3" y="27.8" font-size="6.6" text-anchor="end" font-family="Liberation Sans, Arial, sans-serif" stroke="#000" stroke-width="0.22" fill="#222">Group</text>
<text x="34.3" y="299.3" font-size="6.6" text-anchor="end" font-family="Liberation Sans, Arial, sans-serif" stroke="#000" stroke-width="0.22" fill="#222">Group</text>
<text x="372.6" y="122.6" font-size="9.7" font-family="Liberation Sans, Arial, sans-serif" stroke="#000" stroke-width="0.22" fill="#000">Row Z-score</text><text x="433.6" y="122.6" font-size="9.7" font-family="Liberation Sans, Arial, sans-serif" stroke="#000" stroke-width="0.22" fill="#000">Group</text><rect x="372.3" y="125.5" width="5.7" height="48" fill="url(#zbar)"/><text x="379.4" y="130.3" font-size="9.2" font-family="Liberation Sans, Arial, sans-serif" stroke="#000" stroke-width="0.22" fill="#000">4</text><text x="379.4" y="141.6" font-size="9.2" font-family="Liberation Sans, Arial, sans-serif" stroke="#000" stroke-width="0.22" fill="#000">2</text><text x="379.4" y="152.9" font-size="9.2" font-family="Liberation Sans, Arial, sans-serif" stroke="#000" stroke-width="0.22" fill="#000">0</text><text x="379.2" y="164.6" font-size="9.2" font-family="Liberation Sans, Arial, sans-serif" stroke="#000" stroke-width="0.22" fill="#000">-2</text><text x="379.2" y="175.5" font-size="9.2" font-family="Liberation Sans, Arial, sans-serif" stroke="#000" stroke-width="0.22" fill="#000">-4</text><rect x="433.8" y="126" width="5.1" height="8.7" fill="#0000ff"/><rect x="433.8" y="134.7" width="5.1" height="9" fill="#00ee00"/><rect x="433.8" y="143.7" width="5.1" height="8.9" fill="#ff0000"/><text x="440.6" y="133.7" font-size="9.7" font-family="Liberation Sans, Arial, sans-serif" stroke="#000" stroke-width="0.22" fill="#000">LM</text><text x="440.6" y="142.9" font-size="9.7" font-family="Liberation Sans, Arial, sans-serif" stroke="#000" stroke-width="0.22" fill="#000">MM</text><text x="440.6" y="152.1" font-size="9.7" font-family="Liberation Sans, Arial, sans-serif" stroke="#000" stroke-width="0.22" fill="#000">uLMS</text>
<text x="372.6" y="394.20000000000005" font-size="9.7" font-family="Liberation Sans, Arial, sans-serif" stroke="#000" stroke-width="0.22" fill="#000">Row Z-score</text><text x="433.6" y="394.20000000000005" font-size="9.7" font-family="Liberation Sans, Arial, sans-serif" stroke="#000" stroke-width="0.22" fill="#000">Group</text><rect x="372.3" y="397.1" width="5.7" height="48" fill="url(#zbar)"/><text x="379.4" y="401.90000000000003" font-size="9.2" font-family="Liberation Sans, Arial, sans-serif" stroke="#000" stroke-width="0.22" fill="#000">4</text><text x="379.4" y="413.20000000000005" font-size="9.2" font-family="Liberation Sans, Arial, sans-serif" stroke="#000" stroke-width="0.22" fill="#000">2</text><text x="379.4" y="424.5" font-size="9.2" font-family="Liberation Sans, Arial, sans-serif" stroke="#000" stroke-width="0.22" fill="#000">0</text><text x="379.2" y="436.20000000000005" font-size="9.2" font-family="Liberation Sans, Arial, sans-serif" stroke="#000" stroke-width="0.22" fill="#000">-2</text><text x="379.2" y="447.1" font-size="9.2" font-family="Liberation Sans, Arial, sans-serif" stroke="#000" stroke-width="0.22" fill="#000">-4</text><rect x="433.8" y="397.6" width="5.1" height="8.7" fill="#0000ff"/><rect x="433.8" y="406.3" width="5.1" height="9" fill="#00ee00"/><rect x="433.8" y="415.3" width="5.1" height="8.9" fill="#ff0000"/><text x="440.6" y="405.3" font-size="9.7" font-family="Liberation Sans, Arial, sans-serif" stroke="#000" stroke-width="0.22" fill="#000">LM</text><text x="440.6" y="414.5" font-size="9.7" font-family="Liberation Sans, Arial, sans-serif" stroke="#000" stroke-width="0.22" fill="#000">MM</text><text x="440.6" y="423.70000000000005" font-size="9.7" font-family="Liberation Sans, Arial, sans-serif" stroke="#000" stroke-width="0.22" fill="#000">uLMS</text>
<text x="236.3" y="274.2" font-size="9" text-anchor="middle" font-family="Liberation Serif, Times New Roman, serif" font-weight="bold" fill="#000">(a)</text>
<text x="236.3" y="545.7" font-size="9" text-anchor="middle" font-family="Liberation Serif, Times New Roman, serif" font-weight="bold" fill="#000">(b)</text>
</svg>
</body></html>
